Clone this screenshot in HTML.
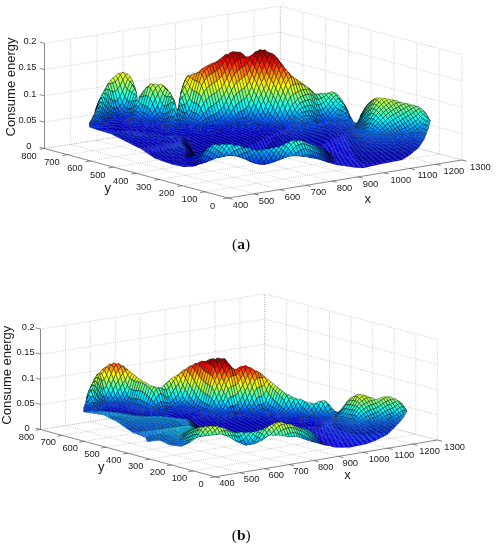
<!DOCTYPE html><html><head><meta charset="utf-8"><title>fig</title><style>html,body{margin:0;padding:0;background:#fff}svg{display:block}text{font-family:"Liberation Sans",sans-serif}.cap{font-family:"Liberation Serif",serif}</style></head><body>
<svg width="496" height="550" viewBox="0 0 496 550">
<rect width="496" height="550" fill="#fff"/>
<path d="M254.0 193.8L70.7 144.4M70.7 144.4L70.7 39.2M280.0 189.6L96.9 140.2M96.9 140.2L96.9 35.0M306.0 185.3L123.1 136.1M123.1 136.1L123.1 30.9M332.0 181.1L149.3 131.9M149.3 131.9L149.3 26.7M358.0 176.9L175.5 127.8M175.5 127.8L175.5 22.6M384.0 172.7L201.7 123.6M201.7 123.6L201.7 18.4M410.0 168.4L227.9 119.5M227.9 119.5L227.9 14.3M436.0 164.2L254.1 115.3M254.1 115.3L254.1 10.1M462.0 160.0L280.3 111.2M280.3 111.2L280.3 6.0M462.0 160.0L462.0 54.8M205.1 191.8L439.3 153.9M439.3 153.9L439.3 48.7M182.1 185.6L416.6 147.8M416.6 147.8L416.6 42.6M159.2 179.4L393.9 141.7M393.9 141.7L393.9 36.5M136.2 173.2L371.1 135.6M371.1 135.6L371.1 30.4M113.3 167.1L348.4 129.5M348.4 129.5L348.4 24.3M90.4 160.9L325.7 123.4M325.7 123.4L325.7 18.2M67.4 154.7L303.0 117.3M303.0 117.3L303.0 12.1M44.5 148.5L280.3 111.2M280.3 111.2L280.3 6.0M44.5 148.5L280.3 111.2M280.3 111.2L462.0 160.0M44.5 122.2L280.3 84.9M280.3 84.9L462.0 133.7M44.5 95.9L280.3 58.6M280.3 58.6L462.0 107.4M44.5 69.6L280.3 32.3M280.3 32.3L462.0 81.1M44.5 43.3L280.3 6.0M280.3 6.0L462.0 54.8" fill="none" stroke="#9a9a9a" stroke-width="0.55" stroke-dasharray="0.1 2.2" stroke-linecap="round"/>
<g transform="scale(.1)" stroke="#000" stroke-width="4.2" stroke-linejoin="round">
<path fill="#ffef00" stroke-width="2.94" d="M1205 749l26-27-23 5-26 7z"/>
<path fill="#efff10" d="M1179 788l26-39-23-15-26 23z"/>
<path fill="#cfff30" d="M1153 817l26-29-23-31-26 21z"/>
<path fill="#bfff40" d="M1127 830l26-13-23-39-26 23z"/>
<path fill="#afff50" stroke-width="2.94" d="M1101 835l26-5-23-29-26 36z"/>
<path fill="#8fff70" d="M1075 850l26-15-23 2-26 61z"/>
<path fill="#ffef00" stroke-width="2.94" d="M1254 755l26-13-23-8-26-12z"/>
<path fill="#efff10" d="M1228 802l26-47-23-33-26 27z"/>
<path fill="#bfff40" d="M1202 853l26-51-23-53-26 39z"/>
<path fill="#9fff60" d="M1176 894l26-41-23-65-26 29z"/>
<path fill="#80ff80" d="M1150 915l26-21-23-77-26 13z"/>
<path fill="#70ff8f" d="M1124 915l26 0-23-85-26 5z"/>
<path fill="#80ff80" d="M1098 903l26 12-23-80-26 15z"/>
<path fill="#70ff8f" d="M1072 892l26 11-23-53-26 42z"/>
<path fill="#60ff9f" d="M1046 900l26-8-23 0-26 63z"/>
<path fill="#009fff" d="M956 1100l-5 12 20-32 23-74-26 66z"/>
<path fill="#00cfff" d="M1355 947l26 87-23-32-26-93z"/>
<path fill="#efff10" d="M1277 792l26-26-23-24-26 13z"/>
<path fill="#bfff40" d="M1251 857l26-65-23-37-26 47z"/>
<path fill="#80ff80" d="M1225 916l26-59-23-55-26 51z"/>
<path fill="#40ffbf" d="M1199 966l26-50-23-63-26 41z"/>
<path fill="#20ffdf" d="M1173 1001l26-35-23-72-26 21z"/>
<path fill="#10ffef" d="M1147 1011l26-10-23-86-26 0zM1121 1002l26 9-23-96-26-12z"/>
<path fill="#30ffcf" d="M1095 976l26 26-23-99-26-11z"/>
<path fill="#40ffbf" d="M1069 945l26 31-23-84-26 8z"/>
<path fill="#50ffaf" d="M1043 930l26 15-23-45-26 43z"/>
<path fill="#009fff" d="M961 1084l-4 11 11-23 23-71-26 74z"/>
<path fill="#20ffdf" d="M1329 836l26 111 16 40-2-17-1-6-16-68z"/>
<path fill="#cfff30" d="M1300 818l26-10-23-42-26 26z"/>
<path fill="#9fff60" d="M1274 893l26-75-23-26-26 65z"/>
<path fill="#50ffaf" d="M1248 969l26-76-23-36-26 59z"/>
<path fill="#0ff" d="M1222 1025l26-56-23-53-26 50z"/>
<path fill="#00cfff" d="M1196 1063l26-38-23-59-26 35z"/>
<path fill="#00afff" d="M1170 1081l26-18-23-62-26 10zM1144 1082l26-1-23-70-26-9z"/>
<path fill="#00bfff" d="M1118 1071l26 11-23-80-26-26z"/>
<path fill="#00dfff" d="M1092 1042l26 29-23-95-26-31z"/>
<path fill="#10ffef" d="M1066 1006l26 36-23-97-26-15z"/>
<path fill="#30ffcf" d="M1040 976l26 30-23-76-26 16z"/>
<path fill="#20ffdf" d="M1014 975l26 1-23-30-26 55z"/>
<path fill="#00efff" d="M988 1018l26-43-23 26-26 74z"/>
<path fill="#9fff60" d="M1323 845l26 28-23-65-26 10z"/>
<path fill="#80ff80" d="M1297 911l26-66-23-27-26 75z"/>
<path fill="#20ffdf" d="M1271 1000l26-89-23-18-26 76z"/>
<path fill="#00cfff" d="M1245 1064l26-64-23-31-26 56z"/>
<path fill="#008fff" d="M1219 1098l26-34-23-39-26 38z"/>
<path fill="#0070ff" d="M1193 1116l26-18-23-35-26 18zM1167 1125l26-9-23-35-26 1zM1141 1125l26 0-23-43-26-11z"/>
<path fill="#0080ff" d="M1115 1116l26 9-23-54-26-29z"/>
<path fill="#00afff" d="M1089 1095l26 21-23-74-26-36z"/>
<path fill="#00cfff" d="M1063 1065l26 30-23-89-26-30z"/>
<path fill="#0ff" d="M1037 1033l26 32-23-89-26-1zM1011 1022l26 11-23-58-26 43z"/>
<path fill="#00dfff" d="M985 1044l26-22-23-4-26 66z"/>
<path fill="#009fff" d="M985 1044l-23 40-4 9-4 12 5-10z"/>
<path fill="#70ff8f" d="M1363 925l-2-14-12-38-26-28 23 40zM1320 925l26-40-23-40-26 66z"/>
<path fill="#10ffef" d="M1294 1013l26-88-23-14-26 89z"/>
<path fill="#00afff" d="M1268 1083l26-70-23-13-26 64z"/>
<path fill="#0070ff" d="M1242 1118l26-35-23-19-26 34z"/>
<path fill="#0060ff" stroke-width="2.94" d="M1216 1136l26-18-23-20-26 18z"/>
<path fill="#0050ff" stroke-width="2.94" d="M1190 1147l26-11-23-20-26 9zM1164 1153l26-6-23-22-26 0zM1138 1154l26-1-23-28-26-9z"/>
<path fill="#0060ff" d="M1112 1148l26 6-23-38-26-21z"/>
<path fill="#0080ff" d="M1086 1135l26 13-23-53-26-30z"/>
<path fill="#009fff" d="M1060 1115l26 20-23-70-26-32z"/>
<path fill="#00bfff" d="M1034 1089l26 26-23-82-26-11z"/>
<path fill="#00cfff" d="M1008 1069l26 20-23-67-26 22zM982 1074l26-5-23-25-26 51z"/>
<path fill="#009fff" d="M982 1074l-23 21-6 11-7 22 10-15z"/>
<path fill="#50ffaf" d="M1365 938l-2-14-17-39-26 40 23 18z"/>
<path fill="#10ffef" d="M1317 1016l26-73-23-18-26 88z"/>
<path fill="#00afff" d="M1291 1089l26-73-23-3-26 70z"/>
<path fill="#0070ff" d="M1265 1130l26-41-23-6-26 35z"/>
<path fill="#0050ff" stroke-width="2.94" d="M1239 1150l26-20-23-12-26 18z"/>
<path fill="#0040ff" stroke-width="2.94" d="M1213 1162l26-12-23-14-26 11z"/>
<path fill="#0030ff" stroke-width="2.94" d="M1187 1171l26-9-23-15-26 6zM1161 1176l26-5-23-18-26 1z"/>
<path fill="#0040ff" stroke-width="2.94" d="M1135 1177l26-1-23-22-26-6z"/>
<path fill="#0050ff" d="M1109 1173l26 4-23-29-26-13z"/>
<path fill="#0060ff" d="M1083 1165l26 8-23-38-26-20z"/>
<path fill="#0070ff" d="M1057 1152l26 13-23-50-26-26z"/>
<path fill="#008fff" d="M1031 1133l26 19-23-63-26-20z"/>
<path fill="#00afff" d="M1005 1115l26 18-23-64-26 5zM979 1114l26 1-23-41-26 39z"/>
<path fill="#008fff" stroke-width="2.94" d="M979 1114l-23-1-12 21-4 11-4 7 17-16z"/>
<path fill="#0060ff" stroke-width="2.94" d="M953 1136l-17 16-9 17 0 0z"/>
<path fill="#10ffef" stroke-width="2.94" d="M1395 997l23-8-24-24-1 5-3 16z"/>
<path fill="#30ffcf" stroke-width="1.68" d="M1367 958l-2-20-22 5 23 14z"/>
<path fill="#10ffef" d="M1340 1008l26-51-23-14-26 73z"/>
<path fill="#00afff" d="M1314 1085l26-77-23 8-26 73z"/>
<path fill="#0070ff" d="M1288 1134l26-49-23 4-26 41z"/>
<path fill="#0050ff" stroke-width="2.94" d="M1262 1159l26-25-23-4-26 20z"/>
<path fill="#0030ff" stroke-width="2.94" d="M1236 1174l26-15-23-9-26 12zM1210 1185l26-11-23-12-26 9z"/>
<path fill="#0020ff" stroke-width="1.68" d="M1184 1192l26-7-23-14-26 5zM1158 1196l26-4-23-16-26 1z"/>
<path fill="#0030ff" stroke-width="2.94" d="M1132 1196l26 0-23-19-26-4zM1106 1194l26 2-23-23-26-8z"/>
<path fill="#0040ff" d="M1080 1189l26 5-23-29-26-13z"/>
<path fill="#0060ff" d="M1054 1181l26 8-23-37-26-19z"/>
<path fill="#0070ff" d="M1028 1169l26 12-23-48-26-18z"/>
<path fill="#0080ff" d="M1002 1156l26 13-23-54-26-1z"/>
<path fill="#008fff" d="M976 1150l26 6-23-42-26 22z"/>
<path fill="#0080ff" stroke-width="2.94" d="M950 1157l26-7-23-14-26 33z"/>
<path fill="#0060ff" stroke-width="2.94" d="M950 1157l-23 12 0 0-12 22 9-7z"/>
<path fill="#20ffdf" d="M1396 958l-2 7 24 24 23-51-26 2z"/>
<path fill="#10ffef" d="M1371 990l-2-20-2-12-1-1-26 51 23-7z"/>
<path fill="#00cfff" d="M1337 1065l26-64-23 7-26 77z"/>
<path fill="#0080ff" d="M1311 1128l26-63-23 20-26 49z"/>
<path fill="#0050ff" stroke-width="2.94" d="M1285 1163l26-35-23 6-26 25z"/>
<path fill="#0030ff" stroke-width="2.94" d="M1259 1182l26-19-23-4-26 15z"/>
<path fill="#0020ff" stroke-width="1.68" d="M1233 1195l26-13-23-8-26 11zM1207 1205l26-10-23-10-26 7zM1181 1211l26-6-23-13-26 4zM1155 1214l26-3-23-15-26 0zM1129 1214l26 0-23-18-26-2z"/>
<path fill="#0030ff" stroke-width="2.94" d="M1103 1212l26 2-23-20-26-5zM1077 1209l26 3-23-23-26-8z"/>
<path fill="#0040ff" d="M1051 1204l26 5-23-28-26-12z"/>
<path fill="#0050ff" d="M1025 1197l26 7-23-35-26-13z"/>
<path fill="#0060ff" d="M999 1187l26 10-23-41-26-6z"/>
<path fill="#0070ff" stroke-width="2.94" d="M973 1180l26 7-23-37-26 7zM947 1185l26-5-23-23-26 27z"/>
<path fill="#0060ff" stroke-width="2.94" d="M947 1185l-23-1-14 15-6 12 17-7z"/>
<path fill="#0040ff" stroke-width="2.94" d="M921 1204l-17 7-11 18 2 0z"/>
<path fill="#40ffbf" d="M1438 903l-23 37-20 21-2 7 19 0z"/>
<path fill="#10ffef" d="M1412 968l-19 0 0 2-9 43 2 0z"/>
<path fill="#00dfff" d="M1360 1052l26-39-23-12-26 64z"/>
<path fill="#009fff" d="M1334 1113l26-61-23 13-26 63z"/>
<path fill="#0060ff" d="M1308 1160l26-47-23 15-26 35z"/>
<path fill="#0030ff" stroke-width="2.94" d="M1282 1186l26-26-23 3-26 19z"/>
<path fill="#0020ff" stroke-width="1.68" d="M1256 1202l26-16-23-4-26 13zM1230 1214l26-12-23-7-26 10z"/>
<path fill="#0010ff" stroke-width="1.68" d="M1204 1223l26-9-23-9-26 6zM1178 1228l26-5-23-12-26 3zM1152 1231l26-3-23-14-26 0z"/>
<path fill="#0020ff" stroke-width="1.68" d="M1126 1231l26 0-23-17-26-2zM1100 1229l26 2-23-19-26-3z"/>
<path fill="#0030ff" stroke-width="2.94" d="M1074 1227l26 2-23-20-26-5zM1048 1224l26 3-23-23-26-7z"/>
<path fill="#0040ff" stroke-width="2.94" d="M1022 1219l26 5-23-27-26-10z"/>
<path fill="#0050ff" stroke-width="2.94" d="M996 1213l26 6-23-32-26-7z"/>
<path fill="#0060ff" stroke-width="2.94" d="M970 1208l26 5-23-33-26 5zM944 1212l26-4-23-23-26 19z"/>
<path fill="#0050ff" stroke-width="2.94" d="M918 1228l26-16-23-8-26 25z"/>
<path fill="#0030ff" stroke-width="1.68" d="M918 1228l-23 1-3 2-2 4 2 13z"/>
<path fill="#60ff9f" d="M1435 963l25-85-22 25-26 65z"/>
<path fill="#10ffef" d="M1408 1038l27-75-23 5-26 45z"/>
<path fill="#00dfff" d="M1382 1068l26-30-22-25-26 39z"/>
<path fill="#009fff" d="M1356 1107l26-39-22-16-26 61z"/>
<path fill="#0070ff" d="M1330 1152l26-45-22 6-26 47z"/>
<path fill="#0040ff" stroke-width="2.94" d="M1305 1185l25-33-22 8-26 26z"/>
<path fill="#0030ff" stroke-width="1.68" d="M1278 1206l27-21-23 1-26 16z"/>
<path fill="#0020ff" stroke-width="1.68" d="M1252 1221l26-15-22-4-26 12z"/>
<path fill="#0010ff" stroke-width="1.68" d="M1226 1232l26-11-22-7-26 9zM1200 1240l26-8-22-9-26 5zM1175 1245l25-5-22-12-26 3zM1148 1246l27-1-23-14-26 0zM1122 1246l26 0-22-15-26-2zM1096 1246l26 0-22-17-26-2z"/>
<path fill="#0020ff" stroke-width="1.68" d="M1070 1244l26 2-22-19-26-3z"/>
<path fill="#0030ff" stroke-width="2.94" d="M1045 1242l25 2-22-20-26-5zM1018 1239l27 3-23-23-26-6z"/>
<path fill="#0040ff" stroke-width="2.94" d="M992 1235l26 4-22-26-26-5zM966 1233l26 2-22-27-26 4zM940 1238l26-5-22-21-26 16zM940 1238l-22-10-26 20 0 0 23 4z"/>
<path fill="#0020ff" stroke-width="1.68" d="M915 1252l-23-4 3 16z"/>
<path fill="#bfff40" d="M1483 869l26-32-23 19-26 22z"/>
<path fill="#80ff80" d="M1457 957l26-88-23 9-25 85z"/>
<path fill="#10ffef" d="M1431 1050l26-93-22 6-27 75z"/>
<path fill="#00bfff" d="M1405 1099l26-49-23-12-26 30z"/>
<path fill="#009fff" d="M1379 1121l26-22-23-31-26 39z"/>
<path fill="#0070ff" d="M1353 1152l26-31-23-14-26 45z"/>
<path fill="#0050ff" stroke-width="2.94" d="M1327 1183l26-31-23 0-25 33z"/>
<path fill="#0030ff" stroke-width="2.94" d="M1301 1206l26-23-22 2-27 21z"/>
<path fill="#0020ff" stroke-width="1.68" d="M1275 1224l26-18-23 0-26 15z"/>
<path fill="#0010ff" stroke-width="1.68" d="M1249 1238l26-14-23-3-26 11z"/>
<path fill="#00f" stroke-width="1.68" d="M1223 1249l26-11-23-6-26 8zM1197 1257l26-8-23-9-25 5zM1171 1261l26-4-22-12-27 1zM1145 1262l26-1-23-15-26 0z"/>
<path fill="#0010ff" stroke-width="1.68" d="M1119 1262l26 0-23-16-26 0zM1093 1262l26 0-23-16-26-2zM1067 1261l26 1-23-18-25-2z"/>
<path fill="#0020ff" stroke-width="1.68" d="M1041 1259l26 2-22-19-27-3z"/>
<path fill="#0030ff" stroke-width="2.94" d="M1015 1257l26 2-23-20-26-4zM989 1255l26 2-23-22-26-2zM963 1255l26 0-23-22-26 5zM937 1262l26-7-23-17-25 14z"/>
<path fill="#0030ff" stroke-width="1.68" d="M937 1262l-22-10-20 12 1 6 15 3z"/>
<path fill="#0020ff" stroke-width="0.76" d="M911 1273l-15-3 1 4 8 2z"/>
<path fill="#bfff40" d="M1506 884l26-41-23-6-26 32z"/>
<path fill="#80ff80" d="M1480 963l26-79-23-15-26 88z"/>
<path fill="#10ffef" d="M1454 1056l26-93-23-6-26 93z"/>
<path fill="#00afff" d="M1428 1122l26-66-23-6-26 49z"/>
<path fill="#0080ff" d="M1402 1148l26-26-23-23-26 22z"/>
<path fill="#0070ff" d="M1376 1165l26-17-23-27-26 31z"/>
<path fill="#0050ff" stroke-width="2.94" d="M1350 1186l26-21-23-13-26 31z"/>
<path fill="#0030ff" stroke-width="2.94" d="M1324 1207l26-21-23-3-26 23z"/>
<path fill="#0020ff" stroke-width="1.68" d="M1298 1225l26-18-23-1-26 18z"/>
<path fill="#0010ff" stroke-width="1.68" d="M1272 1241l26-16-23-1-26 14z"/>
<path fill="#00f" stroke-width="1.68" d="M1246 1254l26-13-23-3-26 11zM1220 1265l26-11-23-5-26 8zM1194 1273l26-8-23-8-26 4zM1168 1276l26-3-23-12-26 1zM1142 1277l26-1-23-14-26 0zM1116 1277l26 0-23-15-26 0z"/>
<path fill="#0010ff" stroke-width="1.68" d="M1090 1277l26 0-23-15-26-1zM1064 1276l26 1-23-16-26-2zM1038 1275l26 1-23-17-26-2z"/>
<path fill="#0020ff" stroke-width="1.68" d="M1012 1274l26 1-23-18-26-2zM986 1273l26 1-23-19-26 0z"/>
<path fill="#0030ff" stroke-width="1.68" d="M960 1276l26-3-23-18-26 7z"/>
<path fill="#0020ff" stroke-width="1.68" d="M934 1283l26-7-23-14-26 11z"/>
<path fill="#0020ff" stroke-width="0.76" d="M934 1283l-23-10-6 3 25 8z"/>
<path fill="#cfff30" d="M1555 884l26-33-23-13-26 5z"/>
<path fill="#afff50" d="M1529 928l26-44-23-41-26 41z"/>
<path fill="#70ff8f" d="M1503 990l26-62-23-44-26 79z"/>
<path fill="#10ffef" d="M1477 1068l26-78-23-27-26 93z"/>
<path fill="#00afff" d="M1451 1134l26-66-23-12-26 66z"/>
<path fill="#0070ff" d="M1425 1168l26-34-23-12-26 26z"/>
<path fill="#0060ff" stroke-width="2.94" d="M1399 1183l26-15-23-20-26 17z"/>
<path fill="#0050ff" stroke-width="2.94" d="M1373 1196l26-13-23-18-26 21z"/>
<path fill="#0040ff" stroke-width="2.94" d="M1347 1211l26-15-23-10-26 21z"/>
<path fill="#0030ff" stroke-width="1.68" d="M1321 1228l26-17-23-4-26 18z"/>
<path fill="#0020ff" stroke-width="1.68" d="M1295 1243l26-15-23-3-26 16z"/>
<path fill="#0010ff" stroke-width="1.68" d="M1269 1258l26-15-23-2-26 13z"/>
<path fill="#00f" stroke-width="1.68" d="M1243 1271l26-13-23-4-26 11z"/>
<path fill="#0000ef" stroke-width="1.68" d="M1217 1281l26-10-23-6-26 8zM1191 1288l26-7-23-8-26 3zM1165 1291l26-3-23-12-26 1z"/>
<path fill="#00f" stroke-width="1.68" d="M1139 1292l26-1-23-14-26 0zM1113 1292l26 0-23-15-26 0zM1087 1291l26 1-23-15-26-1z"/>
<path fill="#0010ff" stroke-width="1.68" d="M1061 1291l26 0-23-15-26-1zM1035 1290l26 1-23-16-26-1zM1009 1290l26 0-23-16-26-1z"/>
<path fill="#0020ff" stroke-width="1.68" d="M983 1291l26-1-23-17-26 3zM983 1291l-23-15-26 7 14 7 14 4z"/>
<path fill="#008fff" d="M1786 1077l26-53-23 67-26 26z"/>
<path fill="#0070ff" d="M1760 1113l26-36-23 40-26 5z"/>
<path fill="#cfff30" d="M1604 892l26-37-23-14-26 10z"/>
<path fill="#9fff60" d="M1578 944l26-52-23-41-26 33z"/>
<path fill="#70ff8f" d="M1552 992l26-48-23-60-26 44z"/>
<path fill="#30ffcf" d="M1526 1040l26-48-23-64-26 62z"/>
<path fill="#00efff" d="M1500 1096l26-56-23-50-26 78z"/>
<path fill="#009fff" d="M1474 1147l26-51-23-28-26 66z"/>
<path fill="#0070ff" d="M1448 1180l26-33-23-13-26 34z"/>
<path fill="#0050ff" stroke-width="2.94" d="M1422 1199l26-19-23-12-26 15z"/>
<path fill="#0040ff" stroke-width="2.94" d="M1396 1210l26-11-23-16-26 13z"/>
<path fill="#0030ff" stroke-width="2.94" d="M1370 1220l26-10-23-14-26 15z"/>
<path fill="#0030ff" stroke-width="1.68" d="M1344 1233l26-13-23-9-26 17z"/>
<path fill="#0020ff" stroke-width="1.68" d="M1318 1247l26-14-23-5-26 15z"/>
<path fill="#0010ff" stroke-width="1.68" d="M1292 1261l26-14-23-4-26 15z"/>
<path fill="#00f" stroke-width="1.68" d="M1266 1274l26-13-23-3-26 13zM1240 1286l26-12-23-3-26 10z"/>
<path fill="#0000ef" stroke-width="1.68" d="M1214 1297l26-11-23-5-26 7zM1188 1303l26-6-23-9-26 3zM1162 1305l26-2-23-12-26 1zM1136 1304l26 1-23-13-26 0z"/>
<path fill="#00f" stroke-width="0.76" d="M1110 1302l26 2-23-12-26-1zM1084 1300l26 2-23-11-26 0z"/>
<path fill="#0010ff" stroke-width="0.76" d="M1058 1299l26 1-23-9-26-1zM1032 1300l26-1-23-9-26 0z"/>
<path fill="#0010ff" stroke-width="1.68" d="M1006 1303l26-3-23-10-26 1zM1006 1303l-23-12-21 3 34 11z"/>
<path fill="#00afff" d="M1786 1077l23-85-19 55-2 13-4 19z"/>
<path fill="#afff50" d="M1653 884l26 17-23-29-26-17zM1627 937l26-53-23-29-26 37z"/>
<path fill="#70ff8f" d="M1601 1003l26-66-23-45-26 52z"/>
<path fill="#30ffcf" d="M1575 1057l26-54-23-59-26 48z"/>
<path fill="#00efff" d="M1549 1099l26-42-23-65-26 48z"/>
<path fill="#00bfff" d="M1523 1135l26-36-23-59-26 56z"/>
<path fill="#0080ff" d="M1497 1166l26-31-23-39-26 51z"/>
<path fill="#0060ff" d="M1471 1190l26-24-23-19-26 33z"/>
<path fill="#0040ff" stroke-width="2.94" d="M1445 1209l26-19-23-10-26 19z"/>
<path fill="#0030ff" stroke-width="2.94" d="M1419 1223l26-14-23-10-26 11zM1393 1232l26-9-23-13-26 10z"/>
<path fill="#0020ff" stroke-width="1.68" d="M1367 1241l26-9-23-12-26 13zM1341 1252l26-11-23-8-26 14z"/>
<path fill="#0010ff" stroke-width="1.68" d="M1315 1265l26-13-23-5-26 14z"/>
<path fill="#00f" stroke-width="1.68" d="M1289 1277l26-12-23-4-26 13zM1263 1290l26-13-23-3-26 12z"/>
<path fill="#0000ef" stroke-width="1.68" d="M1237 1302l26-12-23-4-26 11zM1211 1311l26-9-23-5-26 6z"/>
<path fill="#0010ff" stroke-width="0.76" d="M1055 1304l26-4-23-1-26 1zM1029 1310l26-6-23-4-26 3zM1029 1310l-23-7-10 2 25 7z"/>
<path fill="#20ffdf" d="M1794 1022l-4 25 19-55 23-112-26 89z"/>
<path fill="#00cfff" d="M1806 969l-9 29-3 24z"/>
<path fill="#8fff70" d="M1676 903l26 38-23-40-26-17zM1650 962l26-59-23-19-26 53z"/>
<path fill="#40ffbf" d="M1624 1046l26-84-23-25-26 66z"/>
<path fill="#00efff" d="M1598 1108l26-62-23-43-26 54z"/>
<path fill="#00afff" d="M1572 1146l26-38-23-51-26 42z"/>
<path fill="#008fff" d="M1546 1168l26-22-23-47-26 36z"/>
<path fill="#0070ff" d="M1520 1185l26-17-23-33-26 31z"/>
<path fill="#0050ff" stroke-width="2.94" d="M1494 1202l26-17-23-19-26 24z"/>
<path fill="#0040ff" stroke-width="2.94" d="M1468 1218l26-16-23-12-26 19z"/>
<path fill="#0030ff" stroke-width="2.94" d="M1442 1233l26-15-23-9-26 14z"/>
<path fill="#0020ff" stroke-width="1.68" d="M1416 1244l26-11-23-10-26 9zM1390 1252l26-8-23-12-26 9zM1364 1261l26-9-23-11-26 11z"/>
<path fill="#0010ff" stroke-width="1.68" d="M1338 1271l26-10-23-9-26 13zM1312 1282l26-11-23-6-26 12z"/>
<path fill="#00f" stroke-width="1.68" d="M1286 1294l26-12-23-5-26 13z"/>
<path fill="#0000ef" stroke-width="1.68" d="M1260 1305l26-11-23-4-26 12z"/>
<path fill="#0010ff" stroke-width="0.76" d="M1104 1300l26-4-23 3-26 1zM1078 1308l26-8-23 0-26 4zM1052 1316l26-8-23-4-26 6zM1052 1316l-23-6-8 2 19 6 2 1z"/>
<path fill="#40ffbf" d="M1806 969l23-110-25 91-7 48z"/>
<path fill="#00dfff" d="M1728 1033l26 49 6-12-6-23-3 1z"/>
<path fill="#80ff80" d="M1673 967l26-41-23-23-26 59z"/>
<path fill="#20ffdf" d="M1647 1061l26-94-23-5-26 84z"/>
<path fill="#00bfff" d="M1621 1136l26-75-23-15-26 62z"/>
<path fill="#0080ff" d="M1595 1173l26-37-23-28-26 38z"/>
<path fill="#0060ff" d="M1569 1191l26-18-23-27-26 22z"/>
<path fill="#0050ff" stroke-width="2.94" d="M1543 1204l26-13-23-23-26 17z"/>
<path fill="#0040ff" stroke-width="2.94" d="M1517 1215l26-11-23-19-26 17zM1491 1228l26-13-23-13-26 16z"/>
<path fill="#0030ff" stroke-width="2.94" d="M1465 1241l26-13-23-10-26 15z"/>
<path fill="#0020ff" stroke-width="1.68" d="M1439 1253l26-12-23-8-26 11zM1413 1263l26-10-23-9-26 8z"/>
<path fill="#0010ff" stroke-width="1.68" d="M1387 1271l26-8-23-11-26 9zM1361 1279l26-8-23-10-26 10zM1335 1288l26-9-23-8-26 11z"/>
<path fill="#00f" stroke-width="1.68" d="M1309 1299l26-11-23-6-26 12z"/>
<path fill="#0000ef" stroke-width="1.68" d="M1283 1308l26-9-23-5-26 11z"/>
<path fill="#0020ff" stroke-width="0.76" d="M1153 1298l26-3-23 2-26-1zM1127 1305l26-7-23-2-26 4z"/>
<path fill="#0010ff" stroke-width="0.76" d="M1101 1313l26-8-23-5-26 8z"/>
<path fill="#0010ff" stroke-width="1.68" d="M1075 1321l26-8-23-5-26 8z"/>
<path fill="#0010ff" stroke-width="0.76" d="M1075 1321l-23-5-10 3 21 6z"/>
<path fill="#ffef00" d="M1852 804l26-49-23 32-26 72z"/>
<path fill="#bfff40" d="M1852 804l-23 55-3 10z"/>
<path fill="#10ffef" d="M1725 984l26 64 2-3-5-21-6-17z"/>
<path fill="#50ffaf" d="M1699 926l26 58 17 23-6-15-14-27z"/>
<path fill="#70ff8f" d="M1696 968l26-3-23-39-26 41z"/>
<path fill="#30ffcf" d="M1670 1054l26-86-23-1-26 94z"/>
<path fill="#00bfff" d="M1644 1141l26-87-23 7-26 75z"/>
<path fill="#0070ff" d="M1618 1187l26-46-23-5-26 37z"/>
<path fill="#0050ff" stroke-width="2.94" d="M1592 1207l26-20-23-14-26 18z"/>
<path fill="#0040ff" stroke-width="2.94" d="M1566 1220l26-13-23-16-26 13zM1540 1230l26-10-23-16-26 11z"/>
<path fill="#0030ff" stroke-width="2.94" d="M1514 1240l26-10-23-15-26 13zM1488 1250l26-10-23-12-26 13z"/>
<path fill="#0020ff" stroke-width="1.68" d="M1462 1261l26-11-23-9-26 12z"/>
<path fill="#0010ff" stroke-width="1.68" d="M1436 1272l26-11-23-8-26 10zM1410 1281l26-9-23-9-26 8zM1384 1288l26-7-23-10-26 8z"/>
<path fill="#00f" stroke-width="1.68" d="M1358 1296l26-8-23-9-26 9zM1332 1304l26-8-23-8-26 11z"/>
<path fill="#00f" stroke-width="0.76" d="M1306 1309l26-5-23-5-26 9z"/>
<path fill="#0020ff" stroke-width="0.76" d="M1202 1298l26 1-23-1-26-3zM1176 1303l26-5-23-3-26 3zM1150 1310l26-7-23-5-26 7z"/>
<path fill="#0020ff" stroke-width="1.68" d="M1124 1319l26-9-23-5-26 8z"/>
<path fill="#0010ff" stroke-width="1.68" d="M1098 1327l26-8-23-6-26 8z"/>
<path fill="#0010ff" stroke-width="0.76" d="M1098 1327l-23-6-12 4 20 7z"/>
<path fill="#ffaf00" stroke-width="2.94" d="M1901 770l26-31-23 11-26 5z"/>
<path fill="#ffcf00" d="M1875 825l26-55-23-15-26 49z"/>
<path fill="#efff10" d="M1849 868l26-43-23-21-26 66z"/>
<path fill="#afff50" d="M1849 868l-23 2-18 54-2 12 17-30z"/>
<path fill="#60ff9f" d="M1823 906l-17 30-1 11z"/>
<path fill="#50ffaf" stroke-width="2.94" d="M1739 999l-6-15-11-19-26 3 23 11z"/>
<path fill="#30ffcf" d="M1693 1037l26-58-23-11-26 86z"/>
<path fill="#00cfff" d="M1667 1132l26-95-23 17-26 87z"/>
<path fill="#0080ff" d="M1641 1191l26-59-23 9-26 46z"/>
<path fill="#0050ff" stroke-width="2.94" d="M1615 1218l26-27-23-4-26 20z"/>
<path fill="#0040ff" stroke-width="2.94" d="M1589 1233l26-15-23-11-26 13z"/>
<path fill="#0030ff" stroke-width="2.94" d="M1563 1243l26-10-23-13-26 10zM1537 1252l26-9-23-13-26 10z"/>
<path fill="#0020ff" stroke-width="1.68" d="M1511 1260l26-8-23-12-26 10zM1485 1270l26-10-23-10-26 11z"/>
<path fill="#0010ff" stroke-width="1.68" d="M1459 1280l26-10-23-9-26 11zM1433 1290l26-10-23-8-26 9z"/>
<path fill="#00f" stroke-width="1.68" d="M1407 1298l26-8-23-9-26 7zM1381 1305l26-7-23-10-26 8z"/>
<path fill="#00f" stroke-width="0.76" d="M1355 1309l26-4-23-9-26 8zM1329 1310l26-1-23-5-26 5z"/>
<path fill="#0010ff" stroke-width="0.76" d="M1251 1303l26 2-23-2-26-4z"/>
<path fill="#0020ff" stroke-width="0.76" d="M1225 1304l26-1-23-4-26-1zM1199 1309l26-5-23-6-26 5z"/>
<path fill="#0020ff" stroke-width="1.68" d="M1173 1316l26-7-23-6-26 7zM1147 1325l26-9-23-6-26 9z"/>
<path fill="#0010ff" stroke-width="1.68" d="M1121 1333l26-8-23-6-26 8z"/>
<path fill="#0010ff" stroke-width="0.76" d="M1121 1333l-23-6-15 5 21 6z"/>
<path fill="#ffaf00" d="M1924 794l26-59-23 4-26 31z"/>
<path fill="#ffef00" d="M1898 871l26-77-23-24-26 55z"/>
<path fill="#cfff30" d="M1872 926l26-55-23-46-26 43z"/>
<path fill="#9fff60" d="M1846 953l26-27-23-58-26 38z"/>
<path fill="#70ff8f" d="M1846 953l-23-47-18 41-3 19 18 8z"/>
<path fill="#40ffbf" d="M1820 974l-18-8-7 45z"/>
<path fill="#40ffbf" stroke-width="2.94" d="M1742 1009l-3-10-20-20 23 30z"/>
<path fill="#40ffbf" d="M1716 1026l26-17-23-30-26 58z"/>
<path fill="#00efff" d="M1690 1111l26-85-23 11-26 95z"/>
<path fill="#008fff" d="M1664 1185l26-74-23 21-26 59z"/>
<path fill="#0050ff" stroke-width="2.94" d="M1638 1222l26-37-23 6-26 27z"/>
<path fill="#0030ff" stroke-width="2.94" d="M1612 1242l26-20-23-4-26 15z"/>
<path fill="#0030ff" stroke-width="1.68" d="M1586 1255l26-13-23-9-26 10z"/>
<path fill="#0020ff" stroke-width="1.68" d="M1560 1264l26-9-23-12-26 9zM1534 1272l26-8-23-12-26 8z"/>
<path fill="#0010ff" stroke-width="1.68" d="M1508 1280l26-8-23-12-26 10zM1482 1288l26-8-23-10-26 10zM1456 1298l26-10-23-8-26 10z"/>
<path fill="#00f" stroke-width="1.68" d="M1430 1306l26-8-23-8-26 8zM1404 1312l26-6-23-8-26 7z"/>
<path fill="#00f" stroke-width="0.76" d="M1378 1314l26-2-23-7-26 4zM1352 1313l26 1-23-5-26 1z"/>
<path fill="#0010ff" stroke-width="0.76" d="M1326 1311l26 2-23-3-26-3zM1300 1310l26 1-23-4-26-2z"/>
<path fill="#0020ff" stroke-width="0.76" d="M1274 1309l26 1-23-5-26-2zM1248 1310l26-1-23-6-26 1zM1222 1315l26-5-23-6-26 5z"/>
<path fill="#0020ff" stroke-width="1.68" d="M1196 1322l26-7-23-6-26 7zM1170 1330l26-8-23-6-26 9z"/>
<path fill="#0010ff" stroke-width="1.68" d="M1144 1339l26-9-23-5-26 8z"/>
<path fill="#0010ff" stroke-width="0.76" d="M1144 1339l-23-6-17 5 11 4 7 4z"/>
<path fill="#ffaf00" d="M1947 806l26-78-23 7-26 59z"/>
<path fill="#efff10" d="M1921 902l26-96-23-12-26 77z"/>
<path fill="#9fff60" d="M1895 983l26-81-23-31-26 55z"/>
<path fill="#60ff9f" d="M1869 1033l26-50-23-57-26 27z"/>
<path fill="#40ffbf" d="M1843 1046l26-13-23-80-26 21z"/>
<path fill="#20ffdf" d="M1843 1046l-23-72-25 37 0 4 22 35z"/>
<path fill="#10ffef" d="M1817 1050l-22-35-6 40 2 2z"/>
<path fill="#30ffcf" stroke-width="2.94" d="M1751 1034l-3-10-6-15 0 0-26 17 23 3z"/>
<path fill="#0ff" d="M1713 1090l26-61-23-3-26 85z"/>
<path fill="#009fff" d="M1687 1173l26-83-23 21-26 74z"/>
<path fill="#0060ff" d="M1661 1222l26-49-23 12-26 37z"/>
<path fill="#0040ff" stroke-width="2.94" d="M1635 1247l26-25-23 0-26 20z"/>
<path fill="#0020ff" stroke-width="1.68" d="M1609 1263l26-16-23-5-26 13zM1583 1274l26-11-23-8-26 9z"/>
<path fill="#0010ff" stroke-width="1.68" d="M1557 1283l26-9-23-10-26 8zM1531 1290l26-7-23-11-26 8zM1505 1298l26-8-23-10-26 8z"/>
<path fill="#00f" stroke-width="1.68" d="M1479 1306l26-8-23-10-26 10zM1453 1314l26-8-23-8-26 8z"/>
<path fill="#00f" stroke-width="0.76" d="M1427 1319l26-5-23-8-26 6zM1401 1319l26 0-23-7-26 2zM1375 1318l26 1-23-5-26-1z"/>
<path fill="#0010ff" stroke-width="0.76" d="M1349 1317l26 1-23-5-26-2zM1323 1316l26 1-23-6-26-1z"/>
<path fill="#0020ff" stroke-width="0.76" d="M1297 1315l26 1-23-6-26-1zM1271 1316l26-1-23-6-26 1zM1245 1320l26-4-23-6-26 5z"/>
<path fill="#0020ff" stroke-width="1.68" d="M1219 1328l26-8-23-5-26 7zM1193 1336l26-8-23-6-26 8z"/>
<path fill="#0010ff" stroke-width="1.68" d="M1167 1345l26-9-23-6-26 9zM1167 1345l-23-6-22 7 10 5 9 2z"/>
<path fill="#ff6000" d="M1996 726l26-40-23 23-26 19z"/>
<path fill="#ff9f00" d="M1970 812l26-86-23 2-26 78z"/>
<path fill="#efff10" d="M1944 916l26-104-23-6-26 96z"/>
<path fill="#70ff8f" d="M1918 1016l26-100-23-14-26 81z"/>
<path fill="#10ffef" d="M1892 1091l26-75-23-33-26 50z"/>
<path fill="#00dfff" d="M1866 1125l26-34-23-58-26 13zM1840 1125l26 0-23-79-26 4zM1814 1112l26 13-23-75-26 7z"/>
<path fill="#00efff" d="M1814 1112l-23-55-2-1-1 4-4 23 4 8z"/>
<path fill="#10ffef" stroke-width="2.94" d="M1739 1029l18 32-6-27z"/>
<path fill="#0ff" d="M1760 1070l-3-9-18-32-26 61 23 2z"/>
<path fill="#00bfff" d="M1710 1162l26-70-23-2-26 83z"/>
<path fill="#0070ff" d="M1684 1217l26-55-23 11-26 49z"/>
<path fill="#0040ff" stroke-width="2.94" d="M1658 1248l26-31-23 5-26 25z"/>
<path fill="#0030ff" stroke-width="1.68" d="M1632 1267l26-19-23-1-26 16z"/>
<path fill="#0020ff" stroke-width="1.68" d="M1606 1282l26-15-23-4-26 11z"/>
<path fill="#0010ff" stroke-width="1.68" d="M1580 1292l26-10-23-8-26 9zM1554 1300l26-8-23-9-26 7z"/>
<path fill="#00f" stroke-width="1.68" d="M1528 1308l26-8-23-10-26 8zM1502 1315l26-7-23-10-26 8zM1476 1321l26-6-23-9-26 8z"/>
<path fill="#00f" stroke-width="0.76" d="M1450 1325l26-4-23-7-26 5zM1424 1325l26 0-23-6-26 0zM1398 1324l26 1-23-6-26-1z"/>
<path fill="#0010ff" stroke-width="0.76" d="M1372 1323l26 1-23-6-26-1zM1346 1322l26 1-23-6-26-1z"/>
<path fill="#0020ff" stroke-width="0.76" d="M1320 1321l26 1-23-6-26-1zM1294 1321l26 0-23-6-26 1zM1268 1326l26-5-23-5-26 4z"/>
<path fill="#0020ff" stroke-width="1.68" d="M1242 1334l26-8-23-6-26 8zM1216 1342l26-8-23-6-26 8z"/>
<path fill="#0010ff" stroke-width="1.68" d="M1190 1351l26-9-23-6-26 9zM1164 1359l26-8-23-6-26 8z"/>
<path fill="#0010ff" stroke-width="0.76" d="M1164 1359l-23-6-3 1 17 8z"/>
<path fill="#df0000" stroke-width="2.94" d="M2201 595l26-26-23 23-26 15z"/>
<path fill="#ef0000" stroke-width="2.94" d="M2175 619l26-24-23 12-26 15z"/>
<path fill="#f00" stroke-width="1.68" d="M2149 636l26-17-23 3-26 9z"/>
<path fill="#ff1000" stroke-width="1.68" d="M2123 648l26-12-23-5-26 10z"/>
<path fill="#ff2000" stroke-width="1.68" d="M2097 663l26-15-23-7-26 14z"/>
<path fill="#ff3000" stroke-width="2.94" d="M2071 683l26-20-23-8-26 15z"/>
<path fill="#ff4000" stroke-width="2.94" d="M2045 709l26-26-23-13-26 16z"/>
<path fill="#ff6000" d="M2019 750l26-41-23-23-26 40z"/>
<path fill="#ffaf00" d="M1993 824l26-74-23-24-26 86z"/>
<path fill="#dfff20" d="M1967 923l26-99-23-12-26 104z"/>
<path fill="#60ff9f" d="M1941 1028l26-105-23-7-26 100z"/>
<path fill="#00efff" d="M1915 1118l26-90-23-12-26 75z"/>
<path fill="#00afff" d="M1889 1168l26-50-23-27-26 34z"/>
<path fill="#008fff" d="M1863 1182l26-14-23-43-26 0zM1837 1177l26 5-23-57-26-13z"/>
<path fill="#00afff" d="M1811 1163l26 14-23-65-26-21z"/>
<path fill="#00cfff" d="M1811 1163l-23-72-5-4-6 30 8 24z"/>
<path fill="#00dfff" d="M1785 1141l-8-24-2 13-10-40-5-20-24 22 23 41z"/>
<path fill="#00bfff" d="M1733 1167l26-34-23-41-26 70z"/>
<path fill="#0080ff" d="M1707 1214l26-47-23-5-26 55z"/>
<path fill="#0050ff" stroke-width="2.94" d="M1681 1247l26-33-23 3-26 31z"/>
<path fill="#0030ff" stroke-width="2.94" d="M1655 1269l26-22-23 1-26 19z"/>
<path fill="#0020ff" stroke-width="1.68" d="M1629 1286l26-17-23-2-26 15z"/>
<path fill="#0010ff" stroke-width="1.68" d="M1603 1299l26-13-23-4-26 10zM1577 1309l26-10-23-7-26 8z"/>
<path fill="#00f" stroke-width="1.68" d="M1551 1318l26-9-23-9-26 8zM1525 1324l26-6-23-10-26 7zM1499 1329l26-5-23-9-26 6z"/>
<path fill="#00f" stroke-width="0.76" d="M1473 1331l26-2-23-8-26 4zM1447 1331l26 0-23-6-26 0zM1421 1330l26 1-23-6-26-1z"/>
<path fill="#0010ff" stroke-width="0.76" d="M1395 1329l26 1-23-6-26-1zM1369 1328l26 1-23-6-26-1z"/>
<path fill="#0020ff" stroke-width="0.76" d="M1343 1327l26 1-23-6-26-1zM1317 1327l26 0-23-6-26 0zM1291 1333l26-6-23-6-26 5z"/>
<path fill="#0020ff" stroke-width="1.68" d="M1265 1340l26-7-23-7-26 8zM1239 1348l26-8-23-6-26 8z"/>
<path fill="#0010ff" stroke-width="1.68" d="M1213 1357l26-9-23-6-26 9zM1187 1365l26-8-23-6-26 8z"/>
<path fill="#0010ff" stroke-width="0.76" d="M1187 1365l-23-6-9 3 16 8z"/>
<path fill="#af0000" stroke-width="2.94" d="M2276 561l26-33-23 15-26 2z"/>
<path fill="#bf0000" d="M2250 607l26-46-23-16-26 24z"/>
<path fill="#ef0000" d="M2224 646l26-39-23-38-26 26z"/>
<path fill="#ff1000" d="M2198 677l26-31-23-51-26 24z"/>
<path fill="#ff2000" d="M2172 702l26-25-23-58-26 17z"/>
<path fill="#ff4000" d="M2146 720l26-18-23-66-26 12zM2120 735l26-15-23-72-26 15z"/>
<path fill="#ff5000" d="M2094 753l26-18-23-72-26 20z"/>
<path fill="#ff7000" d="M2068 777l26-24-23-70-26 26z"/>
<path fill="#ff8f00" d="M2042 809l26-32-23-68-26 41z"/>
<path fill="#ffcf00" d="M2016 858l26-49-23-59-26 74z"/>
<path fill="#dfff20" d="M1990 936l26-78-23-34-26 99z"/>
<path fill="#60ff9f" d="M1964 1035l26-99-23-13-26 105z"/>
<path fill="#00efff" d="M1938 1127l26-92-23-7-26 90z"/>
<path fill="#008fff" d="M1912 1184l26-57-23-9-26 50z"/>
<path fill="#0070ff" d="M1886 1209l26-25-23-16-26 14z"/>
<path fill="#0060ff" stroke-width="2.94" d="M1860 1217l26-8-23-27-26-5z"/>
<path fill="#0070ff" d="M1834 1214l26 3-23-40-26-14z"/>
<path fill="#0080ff" d="M1808 1204l26 10-23-51-26-22z"/>
<path fill="#008fff" d="M1782 1193l26 11-23-63-26-8zM1756 1199l26-6-23-60-26 34z"/>
<path fill="#0070ff" d="M1730 1222l26-23-23-32-26 47z"/>
<path fill="#0050ff" stroke-width="2.94" d="M1704 1248l26-26-23-8-26 33z"/>
<path fill="#0030ff" stroke-width="2.94" d="M1678 1270l26-22-23-1-26 22z"/>
<path fill="#0020ff" stroke-width="1.68" d="M1652 1288l26-18-23-1-26 17z"/>
<path fill="#0010ff" stroke-width="1.68" d="M1626 1303l26-15-23-2-26 13z"/>
<path fill="#00f" stroke-width="1.68" d="M1600 1316l26-13-23-4-26 10zM1574 1326l26-10-23-7-26 9zM1548 1334l26-8-23-8-26 6z"/>
<path fill="#00f" stroke-width="0.76" d="M1522 1337l26-3-23-10-26 5zM1496 1338l26-1-23-8-26 2zM1470 1337l26 1-23-7-26 0zM1444 1336l26 1-23-6-26-1z"/>
<path fill="#0010ff" stroke-width="0.76" d="M1418 1335l26 1-23-6-26-1zM1392 1334l26 1-23-6-26-1z"/>
<path fill="#0020ff" stroke-width="0.76" d="M1366 1333l26 1-23-6-26-1zM1340 1334l26-1-23-6-26 0zM1314 1339l26-5-23-7-26 6z"/>
<path fill="#0020ff" stroke-width="1.68" d="M1288 1346l26-7-23-6-26 7zM1262 1355l26-9-23-6-26 8z"/>
<path fill="#0010ff" stroke-width="1.68" d="M1236 1363l26-8-23-7-26 9zM1210 1371l26-8-23-6-26 8zM1210 1371l-23-6-16 5 17 8z"/>
<path fill="#8f0000" stroke-width="1.68" d="M2351 532l26-12-23-2-26-3z"/>
<path fill="#9f0000" d="M2325 562l26-30-23-17-26 13z"/>
<path fill="#bf0000" d="M2299 610l26-48-23-34-26 33z"/>
<path fill="#ef0000" d="M2273 666l26-56-23-49-26 46z"/>
<path fill="#ff3000" d="M2247 718l26-52-23-59-26 39z"/>
<path fill="#ff6000" d="M2221 757l26-39-23-72-26 31z"/>
<path fill="#ff8000" d="M2195 786l26-29-23-80-26 25z"/>
<path fill="#ff8f00" d="M2169 810l26-24-23-84-26 18z"/>
<path fill="#ffaf00" d="M2143 828l26-18-23-90-26 15z"/>
<path fill="#ffbf00" d="M2117 843l26-15-23-93-26 18z"/>
<path fill="#ffcf00" d="M2091 863l26-20-23-90-26 24z"/>
<path fill="#ffef00" d="M2065 888l26-25-23-86-26 32z"/>
<path fill="#efff10" d="M2039 921l26-33-23-79-26 49z"/>
<path fill="#afff50" d="M2013 972l26-51-23-63-26 78z"/>
<path fill="#50ffaf" d="M1987 1049l26-77-23-36-26 99z"/>
<path fill="#00dfff" d="M1961 1133l26-84-23-14-26 92z"/>
<path fill="#008fff" d="M1935 1191l26-58-23-6-26 57z"/>
<path fill="#0060ff" stroke-width="2.94" d="M1909 1222l26-31-23-7-26 25z"/>
<path fill="#0050ff" stroke-width="2.94" d="M1883 1237l26-15-23-13-26 8z"/>
<path fill="#0040ff" stroke-width="2.94" d="M1857 1243l26-6-23-20-26-3z"/>
<path fill="#0050ff" stroke-width="2.94" d="M1831 1241l26 2-23-29-26-10z"/>
<path fill="#0060ff" d="M1805 1236l26 5-23-37-26-11zM1779 1233l26 3-23-43-26 6zM1753 1240l26-7-23-34-26 23z"/>
<path fill="#0050ff" stroke-width="2.94" d="M1727 1255l26-15-23-18-26 26z"/>
<path fill="#0040ff" stroke-width="2.94" d="M1701 1273l26-18-23-7-26 22z"/>
<path fill="#0020ff" stroke-width="1.68" d="M1675 1291l26-18-23-3-26 18z"/>
<path fill="#0010ff" stroke-width="1.68" d="M1649 1306l26-15-23-3-26 15zM1623 1320l26-14-23-3-26 13z"/>
<path fill="#00f" stroke-width="1.68" d="M1597 1332l26-12-23-4-26 10zM1571 1341l26-9-23-6-26 8z"/>
<path fill="#0000ef" stroke-width="0.76" d="M1545 1344l26-3-23-7-26 3z"/>
<path fill="#00f" stroke-width="0.76" d="M1519 1344l26 0-23-7-26 1zM1493 1343l26 1-23-6-26-1zM1467 1342l26 1-23-6-26-1z"/>
<path fill="#0010ff" stroke-width="0.76" d="M1441 1341l26 1-23-6-26-1zM1415 1340l26 1-23-6-26-1z"/>
<path fill="#0020ff" stroke-width="0.76" d="M1389 1339l26 1-23-6-26-1zM1363 1340l26-1-23-6-26 1zM1337 1345l26-5-23-6-26 5z"/>
<path fill="#0020ff" stroke-width="1.68" d="M1311 1353l26-8-23-6-26 7zM1285 1361l26-8-23-7-26 9z"/>
<path fill="#0010ff" stroke-width="1.68" d="M1259 1369l26-8-23-6-26 8zM1233 1378l26-9-23-6-26 8zM1233 1378l-23-7-22 7 10 6 9 2z"/>
<path fill="#cf0000" stroke-width="2.94" d="M2452 574l26-4-23-4-26-26z"/>
<path fill="#bf0000" d="M2426 575l26-1-23-34-26-18z"/>
<path fill="#af0000" d="M2400 585l26-10-23-53-26-2z"/>
<path fill="#bf0000" d="M2374 604l26-19-23-65-26 12z"/>
<path fill="#cf0000" d="M2348 631l26-27-23-72-26 30z"/>
<path fill="#f00" d="M2322 673l26-42-23-69-26 48z"/>
<path fill="#ff3000" d="M2296 726l26-53-23-63-26 56z"/>
<path fill="#ff7000" d="M2270 783l26-57-23-60-26 52z"/>
<path fill="#ffaf00" d="M2244 833l26-50-23-65-26 39z"/>
<path fill="#ffdf00" d="M2218 869l26-36-23-76-26 29z"/>
<path fill="#ff0" d="M2192 898l26-29-23-83-26 24z"/>
<path fill="#efff10" d="M2166 921l26-23-23-88-26 18z"/>
<path fill="#cfff30" d="M2140 938l26-17-23-93-26 15z"/>
<path fill="#bfff40" d="M2114 954l26-16-23-95-26 20z"/>
<path fill="#afff50" d="M2088 975l26-21-23-91-26 25z"/>
<path fill="#8fff70" d="M2062 1001l26-26-23-87-26 33z"/>
<path fill="#70ff8f" d="M2036 1034l26-33-23-80-26 51z"/>
<path fill="#30ffcf" d="M2010 1085l26-51-23-62-26 77z"/>
<path fill="#00dfff" d="M1984 1148l26-63-23-36-26 84z"/>
<path fill="#008fff" d="M1958 1199l26-51-23-15-26 58z"/>
<path fill="#0060ff" stroke-width="2.94" d="M1932 1229l26-30-23-8-26 31z"/>
<path fill="#0040ff" stroke-width="2.94" d="M1906 1248l26-19-23-7-26 15z"/>
<path fill="#0030ff" stroke-width="2.94" d="M1880 1260l26-12-23-11-26 6zM1854 1264l26-4-23-17-26-2z"/>
<path fill="#0040ff" stroke-width="2.94" d="M1828 1263l26 1-23-23-26-5zM1802 1261l26 2-23-27-26-3zM1776 1261l26 0-23-28-26 7zM1750 1268l26-7-23-21-26 15zM1724 1280l26-12-23-13-26 18z"/>
<path fill="#0030ff" stroke-width="1.68" d="M1698 1295l26-15-23-7-26 18z"/>
<path fill="#0020ff" stroke-width="1.68" d="M1672 1310l26-15-23-4-26 15z"/>
<path fill="#0010ff" stroke-width="1.68" d="M1646 1323l26-13-23-4-26 14z"/>
<path fill="#00f" stroke-width="1.68" d="M1620 1336l26-13-23-3-26 12zM1594 1346l26-10-23-4-26 9z"/>
<path fill="#0000ef" stroke-width="0.76" d="M1568 1350l26-4-23-5-26 3z"/>
<path fill="#00f" stroke-width="0.76" d="M1542 1350l26 0-23-6-26 0zM1516 1349l26 1-23-6-26-1zM1490 1348l26 1-23-6-26-1z"/>
<path fill="#0010ff" stroke-width="0.76" d="M1464 1347l26 1-23-6-26-1zM1438 1346l26 1-23-6-26-1z"/>
<path fill="#0020ff" stroke-width="0.76" d="M1412 1345l26 1-23-6-26-1zM1386 1346l26-1-23-6-26 1zM1360 1351l26-5-23-6-26 5z"/>
<path fill="#0020ff" stroke-width="1.68" d="M1334 1359l26-8-23-6-26 8zM1308 1367l26-8-23-6-26 8z"/>
<path fill="#0010ff" stroke-width="1.68" d="M1282 1376l26-9-23-6-26 8zM1256 1384l26-8-23-7-26 9zM1230 1392l26-8-23-6-26 8z"/>
<path fill="#00f" stroke-width="0.76" d="M1230 1392l-23-6-3 1 17 8z"/>
<path fill="#cf0000" d="M2500 595l26-49-22 11-26 13z"/>
<path fill="#ef0000" d="M2474 635l26-40-22-25-26 4z"/>
<path fill="#f00" d="M2448 658l26-23-22-61-26 1z"/>
<path fill="#ff1000" d="M2422 675l26-17-22-83-26 10zM2396 694l26-19-22-90-26 19z"/>
<path fill="#ff3000" d="M2370 714l26-20-22-90-26 27z"/>
<path fill="#ff5000" d="M2344 744l26-30-22-83-26 42z"/>
<path fill="#ff8000" d="M2318 789l26-45-22-71-26 53z"/>
<path fill="#ffbf00" d="M2292 843l26-54-22-63-26 57z"/>
<path fill="#ff0" d="M2266 899l26-56-22-60-26 50z"/>
<path fill="#cfff30" d="M2240 946l26-47-22-66-26 36z"/>
<path fill="#9fff60" d="M2214 981l26-35-22-77-26 29z"/>
<path fill="#80ff80" d="M2188 1009l26-28-22-83-26 23z"/>
<path fill="#60ff9f" d="M2162 1031l26-22-22-88-26 17z"/>
<path fill="#50ffaf" d="M2136 1048l26-17-22-93-26 16z"/>
<path fill="#40ffbf" d="M2110 1064l26-16-22-94-26 21z"/>
<path fill="#30ffcf" d="M2084 1085l26-21-22-89-26 26z"/>
<path fill="#10ffef" d="M2058 1109l26-24-22-84-26 33z"/>
<path fill="#00efff" d="M2032 1139l26-30-22-75-26 51z"/>
<path fill="#00afff" d="M2006 1177l26-38-22-54-26 63z"/>
<path fill="#0080ff" d="M1980 1210l26-33-22-29-26 51z"/>
<path fill="#0050ff" stroke-width="2.94" d="M1954 1236l26-26-22-11-26 30z"/>
<path fill="#0040ff" stroke-width="2.94" d="M1928 1256l26-20-22-7-26 19z"/>
<path fill="#0030ff" stroke-width="1.68" d="M1902 1270l26-14-22-8-26 12z"/>
<path fill="#0020ff" stroke-width="1.68" d="M1876 1279l26-9-22-10-26 4zM1850 1283l26-4-22-15-26-1z"/>
<path fill="#0030ff" stroke-width="2.94" d="M1824 1282l26 1-22-20-26-2z"/>
<path fill="#0030ff" stroke-width="1.68" d="M1798 1282l26 0-22-21-26 0z"/>
<path fill="#0030ff" stroke-width="2.94" d="M1772 1284l26-2-22-21-26 7zM1746 1291l26-7-22-16-26 12z"/>
<path fill="#0020ff" stroke-width="1.68" d="M1720 1302l26-11-22-11-26 15zM1694 1314l26-12-22-7-26 15z"/>
<path fill="#0010ff" stroke-width="1.68" d="M1668 1327l26-13-22-4-26 13z"/>
<path fill="#00f" stroke-width="1.68" d="M1642 1340l26-13-22-4-26 13zM1616 1350l26-10-22-4-26 10z"/>
<path fill="#0010ff" stroke-width="0.76" d="M1486 1349l26 2-22-3-26-1zM1460 1349l26 0-22-2-26-1z"/>
<path fill="#0020ff" stroke-width="0.76" d="M1434 1350l26-1-22-3-26-1zM1408 1353l26-3-22-5-26 1zM1382 1358l26-5-22-7-26 5z"/>
<path fill="#0020ff" stroke-width="1.68" d="M1356 1366l26-8-22-7-26 8zM1330 1374l26-8-22-7-26 8z"/>
<path fill="#0010ff" stroke-width="1.68" d="M1304 1382l26-8-22-7-26 9zM1278 1390l26-8-22-6-26 8zM1252 1398l26-8-22-6-26 8z"/>
<path fill="#00f" stroke-width="0.76" d="M1252 1398l-22-6-9 3 14 7 3 1z"/>
<path fill="#9f0000" d="M2549 563l26-52-23 6-26 29z"/>
<path fill="#df0000" d="M2523 634l26-71-23-17-26 49z"/>
<path fill="#ff2000" d="M2497 698l26-64-23-39-26 40z"/>
<path fill="#ff5000" d="M2471 741l26-43-23-63-26 23z"/>
<path fill="#ff7000" d="M2445 767l26-26-23-83-26 17z"/>
<path fill="#ff8000" d="M2419 786l26-19-23-92-26 19z"/>
<path fill="#ff9f00" d="M2393 805l26-19-23-92-26 20z"/>
<path fill="#ffaf00" d="M2367 827l26-22-23-91-26 30z"/>
<path fill="#ffcf00" d="M2341 859l26-32-23-83-26 45z"/>
<path fill="#efff10" d="M2315 905l26-46-23-70-26 54z"/>
<path fill="#afff50" d="M2289 959l26-54-23-62-26 56z"/>
<path fill="#80ff80" d="M2263 1014l26-55-23-60-26 47z"/>
<path fill="#40ffbf" d="M2237 1058l26-44-23-68-26 35z"/>
<path fill="#20ffdf" d="M2211 1090l26-32-23-77-26 28z"/>
<path fill="#0ff" d="M2185 1114l26-24-23-81-26 22z"/>
<path fill="#00efff" d="M2159 1134l26-20-23-83-26 17z"/>
<path fill="#00dfff" d="M2133 1148l26-14-23-86-26 16z"/>
<path fill="#00cfff" d="M2107 1161l26-13-23-84-26 21z"/>
<path fill="#00afff" d="M2081 1175l26-14-23-76-26 24z"/>
<path fill="#009fff" d="M2055 1190l26-15-23-66-26 30z"/>
<path fill="#0080ff" d="M2029 1208l26-18-23-51-26 38z"/>
<path fill="#0070ff" d="M2003 1226l26-18-23-31-26 33z"/>
<path fill="#0050ff" stroke-width="2.94" d="M1977 1245l26-19-23-16-26 26z"/>
<path fill="#0040ff" stroke-width="2.94" d="M1951 1262l26-17-23-9-26 20z"/>
<path fill="#0030ff" stroke-width="1.68" d="M1925 1278l26-16-23-6-26 14z"/>
<path fill="#0020ff" stroke-width="1.68" d="M1899 1290l26-12-23-8-26 9zM1873 1297l26-7-23-11-26 4zM1847 1300l26-3-23-14-26-1zM1821 1300l26 0-23-18-26 0zM1795 1301l26-1-23-18-26 2zM1769 1305l26-4-23-17-26 7zM1743 1312l26-7-23-14-26 11zM1717 1322l26-10-23-10-26 12z"/>
<path fill="#0010ff" stroke-width="1.68" d="M1691 1333l26-11-23-8-26 13z"/>
<path fill="#00f" stroke-width="1.68" d="M1665 1344l26-11-23-6-26 13zM1639 1354l26-10-23-4-26 10z"/>
<path fill="#0020ff" stroke-width="0.76" d="M1457 1354l26-4-23-1-26 1zM1431 1360l26-6-23-4-26 3z"/>
<path fill="#0020ff" stroke-width="1.68" d="M1405 1366l26-6-23-7-26 5zM1379 1373l26-7-23-8-26 8zM1353 1381l26-8-23-7-26 8z"/>
<path fill="#0010ff" stroke-width="1.68" d="M1327 1389l26-8-23-7-26 8zM1301 1397l26-8-23-7-26 8zM1275 1405l26-8-23-7-26 8z"/>
<path fill="#00f" stroke-width="1.68" d="M1275 1405l-23-7-14 5 17 9z"/>
<path fill="#800000" stroke-width="1.68" d="M2624 505l26-8-23 12-26-14z"/>
<path fill="#800000" d="M2598 540l26-35-23-10-26 16z"/>
<path fill="#af0000" d="M2572 598l26-58-23-29-26 52z"/>
<path fill="#f00" d="M2546 674l26-76-23-35-26 71z"/>
<path fill="#ff6000" d="M2520 750l26-76-23-40-26 64z"/>
<path fill="#ff9f00" d="M2494 812l26-62-23-52-26 43z"/>
<path fill="#ffcf00" d="M2468 855l26-43-23-71-26 26z"/>
<path fill="#ffef00" d="M2442 880l26-25-23-88-26 19z"/>
<path fill="#efff10" d="M2416 898l26-18-23-94-26 19z"/>
<path fill="#dfff20" d="M2390 917l26-19-23-93-26 22z"/>
<path fill="#cfff30" d="M2364 940l26-23-23-90-26 32z"/>
<path fill="#9fff60" d="M2338 973l26-33-23-81-26 46z"/>
<path fill="#70ff8f" d="M2312 1020l26-47-23-68-26 54z"/>
<path fill="#30ffcf" d="M2286 1074l26-54-23-61-26 55z"/>
<path fill="#00efff" d="M2260 1122l26-48-23-60-26 44z"/>
<path fill="#00bfff" d="M2234 1154l26-32-23-64-26 32z"/>
<path fill="#00afff" d="M2208 1175l26-21-23-64-26 24z"/>
<path fill="#008fff" d="M2182 1193l26-18-23-61-26 20z"/>
<path fill="#0080ff" d="M2156 1207l26-14-23-59-26 14zM2130 1214l26-7-23-59-26 13z"/>
<path fill="#0070ff" d="M2104 1218l26-4-23-53-26 14zM2078 1224l26-6-23-43-26 15z"/>
<path fill="#0060ff" d="M2052 1233l26-9-23-34-26 18z"/>
<path fill="#0050ff" stroke-width="2.94" d="M2026 1243l26-10-23-25-26 18z"/>
<path fill="#0040ff" stroke-width="2.94" d="M2000 1256l26-13-23-17-26 19z"/>
<path fill="#0030ff" stroke-width="2.94" d="M1974 1270l26-14-23-11-26 17zM1948 1284l26-14-23-8-26 16z"/>
<path fill="#0020ff" stroke-width="1.68" d="M1922 1297l26-13-23-6-26 12z"/>
<path fill="#0010ff" stroke-width="1.68" d="M1896 1308l26-11-23-7-26 7zM1870 1314l26-6-23-11-26 3zM1844 1316l26-2-23-14-26 0zM1818 1317l26-1-23-16-26 1z"/>
<path fill="#0020ff" stroke-width="1.68" d="M1792 1319l26-2-23-16-26 4zM1766 1324l26-5-23-14-26 7z"/>
<path fill="#0010ff" stroke-width="1.68" d="M1740 1331l26-7-23-12-26 10zM1714 1340l26-9-23-9-26 11zM1688 1349l26-9-23-7-26 11z"/>
<path fill="#00f" stroke-width="0.76" d="M1662 1356l26-7-23-5-26 10z"/>
<path fill="#0020ff" stroke-width="0.76" d="M1532 1349l26-4-23 3-26 0zM1506 1355l26-6-23-1-26 2zM1480 1362l26-7-23-5-26 4z"/>
<path fill="#0020ff" stroke-width="1.68" d="M1454 1368l26-6-23-8-26 6zM1428 1375l26-7-23-8-26 6zM1402 1382l26-7-23-9-26 7z"/>
<path fill="#0010ff" stroke-width="1.68" d="M1376 1389l26-7-23-9-26 8zM1350 1397l26-8-23-8-26 8zM1324 1405l26-8-23-8-26 8zM1298 1413l26-8-23-8-26 8z"/>
<path fill="#00f" stroke-width="1.68" d="M1298 1413l-23-8-20 7 17 9z"/>
<path fill="#8f0000" d="M2647 552l26-34-23-21-26 8z"/>
<path fill="#af0000" d="M2621 597l26-45-23-47-26 35z"/>
<path fill="#df0000" d="M2595 648l26-51-23-57-26 58z"/>
<path fill="#ff3000" d="M2569 714l26-66-23-50-26 76z"/>
<path fill="#ff8f00" d="M2543 792l26-78-23-40-26 76z"/>
<path fill="#ffdf00" d="M2517 868l26-76-23-42-26 62z"/>
<path fill="#cfff30" d="M2491 928l26-60-23-56-26 43z"/>
<path fill="#9fff60" d="M2465 968l26-40-23-73-26 25z"/>
<path fill="#80ff80" d="M2439 992l26-24-23-88-26 18z"/>
<path fill="#70ff8f" d="M2413 1009l26-17-23-94-26 19z"/>
<path fill="#60ff9f" d="M2387 1027l26-18-23-92-26 23z"/>
<path fill="#40ffbf" d="M2361 1050l26-23-23-87-26 33z"/>
<path fill="#20ffdf" d="M2335 1084l26-34-23-77-26 47z"/>
<path fill="#00efff" d="M2309 1127l26-43-23-64-26 54z"/>
<path fill="#00afff" d="M2283 1166l26-39-23-53-26 48z"/>
<path fill="#008fff" d="M2257 1191l26-25-23-44-26 32z"/>
<path fill="#0070ff" d="M2231 1208l26-17-23-37-26 21z"/>
<path fill="#0060ff" d="M2205 1222l26-14-23-33-26 18z"/>
<path fill="#0050ff" d="M2179 1237l26-15-23-29-26 14z"/>
<path fill="#0050ff" stroke-width="2.94" d="M2153 1246l26-9-23-30-26 7z"/>
<path fill="#0040ff" stroke-width="2.94" d="M2127 1249l26-3-23-32-26 4z"/>
<path fill="#0050ff" stroke-width="2.94" d="M2101 1250l26-1-23-31-26 6z"/>
<path fill="#0040ff" stroke-width="2.94" d="M2075 1254l26-4-23-26-26 9zM2049 1261l26-7-23-21-26 10zM2023 1270l26-9-23-18-26 13z"/>
<path fill="#0030ff" stroke-width="2.94" d="M1997 1280l26-10-23-14-26 14z"/>
<path fill="#0020ff" stroke-width="1.68" d="M1971 1292l26-12-23-10-26 14zM1945 1304l26-12-23-8-26 13z"/>
<path fill="#0010ff" stroke-width="1.68" d="M1919 1315l26-11-23-7-26 11zM1893 1325l26-10-23-7-26 6zM1867 1330l26-5-23-11-26 2zM1841 1332l26-2-23-14-26 1zM1815 1334l26-2-23-15-26 2zM1789 1337l26-3-23-15-26 5zM1763 1342l26-5-23-13-26 7zM1737 1348l26-6-23-11-26 9zM1711 1354l26-6-23-8-26 9z"/>
<path fill="#00f" stroke-width="0.76" d="M1685 1355l26-1-23-5-26 7z"/>
<path fill="#0020ff" stroke-width="0.76" d="M1581 1349l26-5-23 0-26 1zM1555 1356l26-7-23-4-26 4z"/>
<path fill="#0020ff" stroke-width="1.68" d="M1529 1363l26-7-23-7-26 6zM1503 1371l26-8-23-8-26 7zM1477 1378l26-7-23-9-26 6zM1451 1385l26-7-23-10-26 7z"/>
<path fill="#0010ff" stroke-width="1.68" d="M1425 1392l26-7-23-10-26 7zM1399 1399l26-7-23-10-26 7zM1373 1406l26-7-23-10-26 8zM1347 1413l26-7-23-9-26 8z"/>
<path fill="#00f" stroke-width="1.68" d="M1321 1421l26-8-23-8-26 8zM1321 1421l-23-8-26 8 1 0 22 8z"/>
<path fill="#00f" stroke-width="0.76" d="M1295 1429l-22-8 18 9z"/>
<path fill="#8f0000" stroke-width="2.94" d="M2696 548l26-13-23-8-26-9z"/>
<path fill="#af0000" d="M2670 605l26-57-23-30-26 34z"/>
<path fill="#ef0000" d="M2644 663l26-58-23-53-26 45z"/>
<path fill="#ff2000" d="M2618 711l26-48-23-66-26 51z"/>
<path fill="#ff7000" d="M2592 765l26-54-23-63-26 66z"/>
<path fill="#ffbf00" d="M2566 833l26-68-23-51-26 78z"/>
<path fill="#efff10" d="M2540 911l26-78-23-41-26 76z"/>
<path fill="#8fff70" d="M2514 986l26-75-23-43-26 60z"/>
<path fill="#50ffaf" d="M2488 1044l26-58-23-58-26 40z"/>
<path fill="#20ffdf" d="M2462 1080l26-36-23-76-26 24z"/>
<path fill="#0ff" d="M2436 1099l26-19-23-88-26 17z"/>
<path fill="#00efff" d="M2410 1113l26-14-23-90-26 18z"/>
<path fill="#00dfff" d="M2384 1127l26-14-23-86-26 23z"/>
<path fill="#00cfff" d="M2358 1146l26-19-23-77-26 34z"/>
<path fill="#00afff" d="M2332 1171l26-25-23-62-26 43z"/>
<path fill="#0080ff" d="M2306 1195l26-24-23-44-26 39z"/>
<path fill="#0070ff" d="M2280 1213l26-18-23-29-26 25z"/>
<path fill="#0050ff" stroke-width="2.94" d="M2254 1227l26-14-23-22-26 17zM2228 1239l26-12-23-19-26 14z"/>
<path fill="#0040ff" stroke-width="2.94" d="M2202 1253l26-14-23-17-26 15z"/>
<path fill="#0030ff" stroke-width="2.94" d="M2176 1266l26-13-23-16-26 9zM2150 1273l26-7-23-20-26 3zM2124 1273l26 0-23-24-26 1zM2098 1273l26 0-23-23-26 4zM2072 1278l26-5-23-19-26 7zM2046 1284l26-6-23-17-26 9zM2020 1292l26-8-23-14-26 10z"/>
<path fill="#0020ff" stroke-width="1.68" d="M1994 1301l26-9-23-12-26 12zM1968 1311l26-10-23-9-26 12z"/>
<path fill="#0010ff" stroke-width="1.68" d="M1942 1322l26-11-23-7-26 11zM1916 1333l26-11-23-7-26 10z"/>
<path fill="#00f" stroke-width="1.68" d="M1890 1341l26-8-23-8-26 5zM1864 1346l26-5-23-11-26 2zM1838 1348l26-2-23-14-26 2zM1812 1350l26-2-23-14-26 3z"/>
<path fill="#0010ff" stroke-width="1.68" d="M1786 1353l26-3-23-13-26 5zM1760 1356l26-3-23-11-26 6z"/>
<path fill="#0010ff" stroke-width="0.76" d="M1734 1356l26 0-23-8-26 6z"/>
<path fill="#0020ff" stroke-width="0.76" d="M1656 1348l26 1-23 1-26-6zM1630 1350l26-2-23-4-26 0z"/>
<path fill="#0030ff" stroke-width="0.76" d="M1604 1357l26-7-23-6-26 5z"/>
<path fill="#0020ff" stroke-width="1.68" d="M1578 1364l26-7-23-8-26 7zM1552 1372l26-8-23-8-26 7zM1526 1379l26-7-23-9-26 8zM1500 1387l26-8-23-8-26 7z"/>
<path fill="#0010ff" stroke-width="1.68" d="M1474 1394l26-7-23-9-26 7zM1448 1401l26-7-23-9-26 7zM1422 1408l26-7-23-9-26 7zM1396 1415l26-7-23-9-26 7z"/>
<path fill="#00f" stroke-width="1.68" d="M1370 1422l26-7-23-9-26 7zM1344 1429l26-7-23-9-26 8zM1318 1437l26-8-23-8-26 8z"/>
<path fill="#00f" stroke-width="0.76" d="M1318 1437l-23-8-4 1 19 9z"/>
<path fill="#af0000" d="M2719 579l26-29-23-15-26 13z"/>
<path fill="#df0000" d="M2693 650l26-71-23-31-26 57z"/>
<path fill="#ff3000" d="M2667 720l26-70-23-45-26 58z"/>
<path fill="#ff7000" d="M2641 777l26-57-23-57-26 48z"/>
<path fill="#ffaf00" d="M2615 826l26-49-23-66-26 54z"/>
<path fill="#ffef00" d="M2589 881l26-55-23-61-26 68z"/>
<path fill="#bfff40" d="M2563 951l26-70-23-48-26 78z"/>
<path fill="#60ff9f" d="M2537 1030l26-79-23-40-26 75z"/>
<path fill="#10ffef" d="M2511 1102l26-72-23-44-26 58z"/>
<path fill="#00bfff" d="M2485 1151l26-49-23-58-26 36z"/>
<path fill="#009fff" d="M2459 1174l26-23-23-71-26 19z"/>
<path fill="#008fff" d="M2433 1181l26-7-23-75-26 14zM2407 1185l26-4-23-68-26 14z"/>
<path fill="#0080ff" d="M2381 1191l26-6-23-58-26 19z"/>
<path fill="#0070ff" d="M2355 1202l26-11-23-45-26 25z"/>
<path fill="#0060ff" d="M2329 1216l26-14-23-31-26 24z"/>
<path fill="#0050ff" stroke-width="2.94" d="M2303 1229l26-13-23-21-26 18z"/>
<path fill="#0040ff" stroke-width="2.94" d="M2277 1242l26-13-23-16-26 14zM2251 1254l26-12-23-15-26 12z"/>
<path fill="#0030ff" stroke-width="2.94" d="M2225 1264l26-10-23-15-26 14z"/>
<path fill="#0020ff" stroke-width="2.94" d="M2199 1277l26-13-23-11-26 13z"/>
<path fill="#0020ff" stroke-width="1.68" d="M2173 1288l26-11-23-11-26 7zM2147 1292l26-4-23-15-26 0zM2121 1292l26 0-23-19-26 0zM2095 1293l26-1-23-19-26 5zM2069 1298l26-5-23-15-26 6zM2043 1304l26-6-23-14-26 8zM2017 1312l26-8-23-12-26 9z"/>
<path fill="#0010ff" stroke-width="1.68" d="M1991 1320l26-8-23-11-26 10zM1965 1330l26-10-23-9-26 11z"/>
<path fill="#00f" stroke-width="1.68" d="M1939 1340l26-10-23-8-26 11zM1913 1350l26-10-23-7-26 8zM1887 1357l26-7-23-9-26 5zM1861 1361l26-4-23-11-26 2zM1835 1363l26-2-23-13-26 2z"/>
<path fill="#00f" stroke-width="0.76" d="M1809 1362l26 1-23-13-26 3zM1783 1360l26 2-23-9-26 3z"/>
<path fill="#0010ff" stroke-width="0.76" d="M1757 1357l26 3-23-4-26 0zM1731 1355l26 2-23-1-26-3z"/>
<path fill="#0020ff" stroke-width="0.76" d="M1705 1354l26 1-23-2-26-4zM1679 1355l26-1-23-5-26-1zM1653 1359l26-4-23-7-26 2z"/>
<path fill="#0020ff" stroke-width="1.68" d="M1627 1365l26-6-23-9-26 7zM1601 1373l26-8-23-8-26 7zM1575 1380l26-7-23-9-26 8zM1549 1388l26-8-23-8-26 7z"/>
<path fill="#0010ff" stroke-width="1.68" d="M1523 1396l26-8-23-9-26 8zM1497 1403l26-7-23-9-26 7zM1471 1411l26-8-23-9-26 7zM1445 1418l26-7-23-10-26 7z"/>
<path fill="#00f" stroke-width="1.68" d="M1419 1425l26-7-23-10-26 7zM1393 1432l26-7-23-10-26 7zM1367 1439l26-7-23-10-26 7zM1341 1446l26-7-23-10-26 8z"/>
<path fill="#0000ef" stroke-width="0.76" d="M1341 1446l-23-9-8 2 19 10z"/>
<path fill="#bf0000" d="M2742 614l26-38-23-26-26 29z"/>
<path fill="#f00" d="M2716 688l26-74-23-35-26 71z"/>
<path fill="#ff6000" d="M2690 765l26-77-23-38-26 70z"/>
<path fill="#ffaf00" d="M2664 835l26-70-23-45-26 57z"/>
<path fill="#ffef00" d="M2638 892l26-57-23-58-26 49z"/>
<path fill="#cfff30" d="M2612 941l26-49-23-66-26 55z"/>
<path fill="#80ff80" d="M2586 997l26-56-23-60-26 70z"/>
<path fill="#30ffcf" d="M2560 1068l26-71-23-46-26 79z"/>
<path fill="#00cfff" d="M2534 1140l26-72-23-38-26 72z"/>
<path fill="#008fff" d="M2508 1192l26-52-23-38-26 49z"/>
<path fill="#0060ff" d="M2482 1215l26-23-23-41-26 23z"/>
<path fill="#0050ff" d="M2456 1217l26-2-23-41-26 7z"/>
<path fill="#0050ff" stroke-width="2.94" d="M2430 1215l26 2-23-36-26 4z"/>
<path fill="#0060ff" stroke-width="2.94" d="M2404 1217l26-2-23-30-26 6z"/>
<path fill="#0050ff" stroke-width="2.94" d="M2378 1223l26-6-23-26-26 11zM2352 1233l26-10-23-21-26 14z"/>
<path fill="#0040ff" stroke-width="2.94" d="M2326 1244l26-11-23-17-26 13zM2300 1256l26-12-23-15-26 13z"/>
<path fill="#0030ff" stroke-width="2.94" d="M2274 1266l26-10-23-14-26 12zM2248 1276l26-10-23-12-26 10z"/>
<path fill="#0020ff" stroke-width="1.68" d="M2222 1286l26-10-23-12-26 13zM2196 1296l26-10-23-9-26 11z"/>
<path fill="#0010ff" stroke-width="1.68" d="M2170 1304l26-8-23-8-26 4zM2144 1307l26-3-23-12-26 0zM2118 1308l26-1-23-15-26 1z"/>
<path fill="#0020ff" stroke-width="1.68" d="M2092 1312l26-4-23-15-26 5z"/>
<path fill="#0010ff" stroke-width="1.68" d="M2066 1317l26-5-23-14-26 6zM2040 1323l26-6-23-13-26 8zM2014 1330l26-7-23-11-26 8zM1988 1338l26-8-23-10-26 10z"/>
<path fill="#00f" stroke-width="1.68" d="M1962 1347l26-9-23-8-26 10zM1936 1357l26-10-23-7-26 10zM1910 1366l26-9-23-7-26 7z"/>
<path fill="#0000ef" stroke-width="1.68" d="M1884 1373l26-7-23-9-26 4z"/>
<path fill="#0000ef" stroke-width="0.76" d="M1858 1374l26-1-23-12-26 2z"/>
<path fill="#00f" stroke-width="0.76" d="M1832 1369l26 5-23-11-26-1zM1806 1364l26 5-23-7-26-2z"/>
<path fill="#0010ff" stroke-width="0.76" d="M1780 1362l26 2-23-4-26-3zM1754 1362l26 0-23-5-26-2z"/>
<path fill="#0020ff" stroke-width="0.76" d="M1728 1362l26 0-23-7-26-1zM1702 1364l26-2-23-8-26 1zM1676 1367l26-3-23-9-26 4z"/>
<path fill="#0020ff" stroke-width="1.68" d="M1650 1374l26-7-23-8-26 6zM1624 1382l26-8-23-9-26 8zM1598 1389l26-7-23-9-26 7z"/>
<path fill="#0010ff" stroke-width="1.68" d="M1572 1397l26-8-23-9-26 8zM1546 1404l26-7-23-9-26 8zM1520 1412l26-8-23-8-26 7zM1494 1420l26-8-23-9-26 8z"/>
<path fill="#00f" stroke-width="1.68" d="M1468 1427l26-7-23-9-26 7zM1442 1434l26-7-23-9-26 7zM1416 1441l26-7-23-9-26 7zM1390 1448l26-7-23-9-26 7z"/>
<path fill="#0000ef" stroke-width="1.68" d="M1364 1455l26-7-23-9-26 7zM1364 1455l-23-9-12 3 20 10z"/>
<path fill="#ef0000" d="M2791 611l26 27-23-24-26-38zM2765 653l26-42-23-35-26 38z"/>
<path fill="#ff3000" d="M2739 726l26-73-23-39-26 74z"/>
<path fill="#ff8f00" d="M2713 805l26-79-23-38-26 77z"/>
<path fill="#ffdf00" d="M2687 882l26-77-23-40-26 70z"/>
<path fill="#bfff40" d="M2661 951l26-69-23-47-26 57z"/>
<path fill="#80ff80" d="M2635 1007l26-56-23-59-26 49z"/>
<path fill="#40ffbf" d="M2609 1055l26-48-23-66-26 56z"/>
<path fill="#0ff" d="M2583 1108l26-53-23-58-26 71z"/>
<path fill="#00afff" d="M2557 1164l26-56-23-40-26 72z"/>
<path fill="#0070ff" d="M2531 1207l26-43-23-24-26 52z"/>
<path fill="#0040ff" stroke-width="2.94" d="M2505 1225l26-18-23-15-26 23z"/>
<path fill="#0040ff" stroke-width="1.68" d="M2479 1228l26-3-23-10-26 2zM2453 1228l26 0-23-11-26-2zM2427 1232l26-4-23-13-26 2z"/>
<path fill="#0040ff" stroke-width="2.94" d="M2401 1241l26-9-23-15-26 6zM2375 1250l26-9-23-18-26 10zM2349 1259l26-9-23-17-26 11z"/>
<path fill="#0030ff" stroke-width="2.94" d="M2323 1268l26-9-23-15-26 12zM2297 1278l26-10-23-12-26 10z"/>
<path fill="#0020ff" stroke-width="1.68" d="M2271 1287l26-9-23-12-26 10zM2245 1295l26-8-23-11-26 10z"/>
<path fill="#0010ff" stroke-width="1.68" d="M2219 1304l26-9-23-9-26 10zM2193 1312l26-8-23-8-26 8zM2167 1318l26-6-23-8-26 3zM2141 1321l26-3-23-11-26 1zM2115 1324l26-3-23-13-26 4zM2089 1329l26-5-23-12-26 5zM2063 1335l26-6-23-12-26 6zM2037 1341l26-6-23-12-26 7z"/>
<path fill="#00f" stroke-width="1.68" d="M2011 1348l26-7-23-11-26 8zM1985 1356l26-8-23-10-26 9zM1959 1364l26-8-23-9-26 10z"/>
<path fill="#0000ef" stroke-width="1.68" d="M1933 1374l26-10-23-7-26 9zM1907 1382l26-8-23-8-26 7z"/>
<path fill="#0000ef" stroke-width="0.76" d="M1881 1385l26-3-23-9-26 1z"/>
<path fill="#0000ef" stroke-width="1.68" d="M1855 1380l26 5-23-11-26-5z"/>
<path fill="#00f" stroke-width="1.68" d="M1829 1373l26 7-23-11-26-5z"/>
<path fill="#0010ff" stroke-width="0.76" d="M1803 1370l26 3-23-9-26-2zM1777 1370l26 0-23-8-26 0z"/>
<path fill="#0020ff" stroke-width="0.76" d="M1751 1371l26-1-23-8-26 0zM1725 1372l26-1-23-9-26 2zM1699 1376l26-4-23-8-26 3z"/>
<path fill="#0020ff" stroke-width="1.68" d="M1673 1382l26-6-23-9-26 7zM1647 1390l26-8-23-8-26 8zM1621 1398l26-8-23-8-26 7z"/>
<path fill="#0010ff" stroke-width="1.68" d="M1595 1405l26-7-23-9-26 8zM1569 1413l26-8-23-8-26 7zM1543 1421l26-8-23-9-26 8z"/>
<path fill="#00f" stroke-width="1.68" d="M1517 1428l26-7-23-9-26 8zM1491 1436l26-8-23-8-26 7zM1465 1443l26-7-23-9-26 7zM1439 1451l26-8-23-9-26 7z"/>
<path fill="#0000ef" stroke-width="1.68" d="M1413 1458l26-7-23-10-26 7zM1387 1465l26-7-23-10-26 7zM1387 1465l-23-10-15 4 21 10z"/>
<path fill="#ff1000" d="M2814 655l26 14-23-31-26-27zM2788 698l26-43-23-44-26 42z"/>
<path fill="#ff6000" d="M2762 766l26-68-23-45-26 73z"/>
<path fill="#ffaf00" d="M2736 843l26-77-23-40-26 79z"/>
<path fill="#efff10" d="M2710 922l26-79-23-38-26 77z"/>
<path fill="#8fff70" d="M2684 999l26-77-23-40-26 69z"/>
<path fill="#40ffbf" d="M2658 1066l26-67-23-48-26 56z"/>
<path fill="#0ff" d="M2632 1115l26-49-23-59-26 48z"/>
<path fill="#00bfff" d="M2606 1153l26-38-23-60-26 53z"/>
<path fill="#008fff" d="M2580 1186l26-33-23-45-26 56z"/>
<path fill="#0060ff" d="M2554 1211l26-25-23-22-26 43z"/>
<path fill="#0040ff" stroke-width="1.68" d="M2528 1226l26-15-23-4-26 18z"/>
<path fill="#0040ff" stroke-width="0.76" d="M2502 1233l26-7-23-1-26 3zM2476 1240l26-7-23-5-26 0z"/>
<path fill="#0040ff" stroke-width="1.68" d="M2450 1247l26-7-23-12-26 4z"/>
<path fill="#0040ff" stroke-width="2.94" d="M2424 1256l26-9-23-15-26 9z"/>
<path fill="#0030ff" stroke-width="2.94" d="M2398 1264l26-8-23-15-26 9zM2372 1272l26-8-23-14-26 9z"/>
<path fill="#0020ff" stroke-width="1.68" d="M2346 1280l26-8-23-13-26 9zM2320 1289l26-9-23-12-26 10zM2294 1297l26-8-23-11-26 9z"/>
<path fill="#0010ff" stroke-width="1.68" d="M2268 1306l26-9-23-10-26 8zM2242 1313l26-7-23-11-26 9zM2216 1321l26-8-23-9-26 8zM2190 1327l26-6-23-9-26 6z"/>
<path fill="#00f" stroke-width="1.68" d="M2164 1331l26-4-23-9-26 3z"/>
<path fill="#0010ff" stroke-width="1.68" d="M2138 1335l26-4-23-10-26 3zM2112 1340l26-5-23-11-26 5z"/>
<path fill="#00f" stroke-width="1.68" d="M2086 1346l26-6-23-11-26 6zM2060 1352l26-6-23-11-26 6zM2034 1358l26-6-23-11-26 7zM2008 1365l26-7-23-10-26 8zM1982 1373l26-8-23-9-26 8z"/>
<path fill="#0000ef" stroke-width="1.68" d="M1956 1381l26-8-23-9-26 10zM1930 1390l26-9-23-7-26 8zM1904 1397l26-7-23-8-26 3zM1878 1396l26 1-23-12-26-5z"/>
<path fill="#00f" stroke-width="2.94" d="M1852 1387l26 9-23-16-26-7z"/>
<path fill="#0010ff" stroke-width="1.68" d="M1826 1380l26 7-23-14-26-3z"/>
<path fill="#0010ff" stroke-width="0.76" d="M1800 1379l26 1-23-10-26 0z"/>
<path fill="#0020ff" stroke-width="0.76" d="M1774 1379l26 0-23-9-26 1zM1748 1380l26-1-23-8-26 1zM1722 1383l26-3-23-8-26 4z"/>
<path fill="#0020ff" stroke-width="1.68" d="M1696 1390l26-7-23-7-26 6zM1670 1398l26-8-23-8-26 8z"/>
<path fill="#0010ff" stroke-width="1.68" d="M1644 1406l26-8-23-8-26 8zM1618 1414l26-8-23-8-26 7zM1592 1422l26-8-23-9-26 8z"/>
<path fill="#00f" stroke-width="1.68" d="M1566 1429l26-7-23-9-26 8zM1540 1437l26-8-23-8-26 7zM1514 1445l26-8-23-9-26 8zM1488 1452l26-7-23-9-26 7z"/>
<path fill="#0000ef" stroke-width="1.68" d="M1462 1460l26-8-23-9-26 8zM1436 1467l26-7-23-9-26 7zM1410 1473l26-6-23-9-26 7zM1410 1473l-23-8-17 4 19 10z"/>
<path fill="#ff3000" d="M2837 701l26-4-23-28-26-14z"/>
<path fill="#ff5000" d="M2811 750l26-49-23-46-26 43z"/>
<path fill="#ff8f00" d="M2785 813l26-63-23-52-26 68z"/>
<path fill="#ffdf00" d="M2759 883l26-70-23-47-26 77z"/>
<path fill="#bfff40" d="M2733 960l26-77-23-40-26 79z"/>
<path fill="#60ff9f" d="M2707 1038l26-78-23-38-26 77z"/>
<path fill="#0ff" d="M2681 1110l26-72-23-39-26 67z"/>
<path fill="#00bfff" d="M2655 1160l26-50-23-44-26 49z"/>
<path fill="#008fff" d="M2629 1188l26-28-23-45-26 38z"/>
<path fill="#0070ff" d="M2603 1206l26-18-23-35-26 33z"/>
<path fill="#0050ff" stroke-width="2.94" d="M2577 1220l26-14-23-20-26 25z"/>
<path fill="#0040ff" stroke-width="1.68" d="M2551 1233l26-13-23-9-26 15zM2525 1244l26-11-23-7-26 7zM2499 1253l26-9-23-11-26 7z"/>
<path fill="#0030ff" stroke-width="2.94" d="M2473 1262l26-9-23-13-26 7zM2447 1270l26-8-23-15-26 9z"/>
<path fill="#0030ff" stroke-width="1.68" d="M2421 1278l26-8-23-14-26 8z"/>
<path fill="#0020ff" stroke-width="1.68" d="M2395 1285l26-7-23-14-26 8zM2369 1292l26-7-23-13-26 8zM2343 1300l26-8-23-12-26 9z"/>
<path fill="#0010ff" stroke-width="1.68" d="M2317 1308l26-8-23-11-26 8zM2291 1316l26-8-23-11-26 9zM2265 1324l26-8-23-10-26 7z"/>
<path fill="#00f" stroke-width="1.68" d="M2239 1330l26-6-23-11-26 8zM2213 1336l26-6-23-9-26 6zM2187 1342l26-6-23-9-26 4zM2161 1346l26-4-23-11-26 4zM2135 1352l26-6-23-11-26 5zM2109 1357l26-5-23-12-26 6zM2083 1363l26-6-23-11-26 6zM2057 1369l26-6-23-11-26 6zM2031 1375l26-6-23-11-26 7z"/>
<path fill="#0000ef" stroke-width="1.68" d="M2005 1382l26-7-23-10-26 8zM1979 1390l26-8-23-9-26 8zM1953 1398l26-8-23-9-26 9zM1927 1407l26-9-23-8-26 7zM1901 1411l26-4-23-10-26-1z"/>
<path fill="#0000ef" stroke-width="2.94" d="M1875 1406l26 5-23-15-26-9z"/>
<path fill="#00f" stroke-width="2.94" d="M1849 1396l26 10-23-19-26-7z"/>
<path fill="#0010ff" stroke-width="1.68" d="M1823 1389l26 7-23-16-26-1z"/>
<path fill="#0010ff" stroke-width="0.76" d="M1797 1388l26 1-23-10-26 0z"/>
<path fill="#0020ff" stroke-width="0.76" d="M1771 1388l26 0-23-9-26 1zM1745 1391l26-3-23-8-26 3z"/>
<path fill="#0020ff" stroke-width="1.68" d="M1719 1397l26-6-23-8-26 7zM1693 1404l26-7-23-7-26 8z"/>
<path fill="#0010ff" stroke-width="1.68" d="M1667 1413l26-9-23-6-26 8zM1641 1421l26-8-23-7-26 8zM1615 1429l26-8-23-7-26 8z"/>
<path fill="#00f" stroke-width="1.68" d="M1589 1437l26-8-23-7-26 7zM1563 1445l26-8-23-8-26 8zM1537 1452l26-7-23-8-26 8zM1511 1459l26-7-23-7-26 7z"/>
<path fill="#0000ef" stroke-width="1.68" d="M1485 1466l26-7-23-7-26 8zM1459 1473l26-7-23-6-26 7z"/>
<path fill="#0000ef" stroke-width="0.76" d="M1433 1479l26-6-23-6-26 6zM1433 1479l-23-6-21 6 9 4 9 3z"/>
<path fill="#ff6000" d="M2860 745l26-21-23-27-26 4z"/>
<path fill="#ff8000" d="M2834 803l26-58-23-44-26 49z"/>
<path fill="#ffcf00" d="M2808 865l26-62-23-53-26 63z"/>
<path fill="#efff10" d="M2782 929l26-64-23-52-26 70z"/>
<path fill="#8fff70" d="M2756 1000l26-71-23-46-26 77z"/>
<path fill="#30ffcf" d="M2730 1075l26-75-23-40-26 78z"/>
<path fill="#00dfff" d="M2704 1143l26-68-23-37-26 72z"/>
<path fill="#008fff" d="M2678 1186l26-43-23-33-26 50z"/>
<path fill="#0070ff" d="M2652 1210l26-24-23-26-26 28z"/>
<path fill="#0060ff" stroke-width="2.94" d="M2626 1224l26-14-23-22-26 18z"/>
<path fill="#0050ff" stroke-width="2.94" d="M2600 1235l26-11-23-18-26 14z"/>
<path fill="#0040ff" stroke-width="2.94" d="M2574 1245l26-10-23-15-26 13zM2548 1256l26-11-23-12-26 11z"/>
<path fill="#0030ff" stroke-width="2.94" d="M2522 1266l26-10-23-12-26 9z"/>
<path fill="#0030ff" stroke-width="1.68" d="M2496 1275l26-9-23-13-26 9z"/>
<path fill="#0020ff" stroke-width="1.68" d="M2470 1283l26-8-23-13-26 8zM2444 1290l26-7-23-13-26 8zM2418 1297l26-7-23-12-26 7z"/>
<path fill="#0010ff" stroke-width="1.68" d="M2392 1304l26-7-23-12-26 7zM2366 1311l26-7-23-12-26 8zM2340 1318l26-7-23-11-26 8zM2314 1326l26-8-23-10-26 8z"/>
<path fill="#00f" stroke-width="1.68" d="M2288 1333l26-7-23-10-26 8zM2262 1341l26-8-23-9-26 6zM2236 1347l26-6-23-11-26 6zM2210 1353l26-6-23-11-26 6zM2184 1358l26-5-23-11-26 4zM2158 1363l26-5-23-12-26 6zM2132 1369l26-6-23-11-26 5z"/>
<path fill="#0000ef" stroke-width="1.68" d="M2106 1374l26-5-23-12-26 6zM2080 1380l26-6-23-11-26 6zM2054 1386l26-6-23-11-26 6zM2028 1392l26-6-23-11-26 7zM2002 1399l26-7-23-10-26 8zM1976 1406l26-7-23-9-26 8zM1950 1415l26-9-23-8-26 9zM1924 1422l26-7-23-8-26 4zM1898 1424l26-2-23-11-26-5z"/>
<path fill="#0000ef" stroke-width="2.94" d="M1872 1416l26 8-23-18-26-10z"/>
<path fill="#00f" stroke-width="2.94" d="M1846 1404l26 12-23-20-26-7z"/>
<path fill="#0010ff" stroke-width="1.68" d="M1820 1398l26 6-23-15-26-1z"/>
<path fill="#0010ff" stroke-width="0.76" d="M1794 1397l26 1-23-10-26 0z"/>
<path fill="#0020ff" stroke-width="0.76" d="M1768 1399l26-2-23-9-26 3zM1742 1404l26-5-23-8-26 6z"/>
<path fill="#0020ff" stroke-width="1.68" d="M1716 1411l26-7-23-7-26 7z"/>
<path fill="#0010ff" stroke-width="1.68" d="M1690 1419l26-8-23-7-26 9zM1664 1427l26-8-23-6-26 8zM1638 1435l26-8-23-6-26 8z"/>
<path fill="#00f" stroke-width="1.68" d="M1612 1443l26-8-23-6-26 8zM1586 1450l26-7-23-6-26 8z"/>
<path fill="#00f" stroke-width="0.76" d="M1560 1457l26-7-23-5-26 7zM1534 1463l26-6-23-5-26 7z"/>
<path fill="#0000ef" stroke-width="0.76" d="M1508 1470l26-7-23-4-26 7zM1482 1476l26-6-23-4-26 7zM1456 1482l26-6-23-3-26 6zM1430 1488l26-6-23-3-26 7zM1430 1488l-23-2-3 0 1 1 8 5z"/>
<path fill="#ff8f00" d="M2909 769l26 5-23-19-26-31zM2883 795l26-26-23-45-26 21z"/>
<path fill="#ffbf00" d="M2857 853l26-58-23-50-26 58z"/>
<path fill="#ff0" d="M2831 919l26-66-23-50-26 62z"/>
<path fill="#afff50" d="M2805 981l26-62-23-54-26 64z"/>
<path fill="#60ff9f" d="M2779 1045l26-64-23-52-26 71z"/>
<path fill="#10ffef" d="M2753 1112l26-67-23-45-26 75z"/>
<path fill="#00bfff" d="M2727 1169l26-57-23-37-26 68z"/>
<path fill="#0080ff" d="M2701 1204l26-35-23-26-26 43z"/>
<path fill="#0060ff" stroke-width="2.94" d="M2675 1225l26-21-23-18-26 24z"/>
<path fill="#0050ff" stroke-width="2.94" d="M2649 1240l26-15-23-15-26 14z"/>
<path fill="#0040ff" stroke-width="2.94" d="M2623 1250l26-10-23-16-26 11z"/>
<path fill="#0030ff" stroke-width="2.94" d="M2597 1259l26-9-23-15-26 10zM2571 1268l26-9-23-14-26 11z"/>
<path fill="#0030ff" stroke-width="1.68" d="M2545 1278l26-10-23-12-26 10z"/>
<path fill="#0020ff" stroke-width="1.68" d="M2519 1287l26-9-23-12-26 9zM2493 1295l26-8-23-12-26 8z"/>
<path fill="#0010ff" stroke-width="1.68" d="M2467 1302l26-7-23-12-26 7zM2441 1309l26-7-23-12-26 7zM2415 1315l26-6-23-12-26 7zM2389 1322l26-7-23-11-26 7zM2363 1329l26-7-23-11-26 7z"/>
<path fill="#00f" stroke-width="1.68" d="M2337 1336l26-7-23-11-26 8zM2311 1343l26-7-23-10-26 7zM2285 1351l26-8-23-10-26 8zM2259 1358l26-7-23-10-26 6z"/>
<path fill="#0000ef" stroke-width="1.68" d="M2233 1364l26-6-23-11-26 6zM2207 1369l26-5-23-11-26 5zM2181 1374l26-5-23-11-26 5zM2155 1380l26-6-23-11-26 6zM2129 1385l26-5-23-11-26 5zM2103 1391l26-6-23-11-26 6zM2077 1396l26-5-23-11-26 6zM2051 1402l26-6-23-10-26 6zM2025 1408l26-6-23-10-26 7zM1999 1415l26-7-23-9-26 7zM1973 1423l26-8-23-9-26 9zM1947 1431l26-8-23-8-26 7zM1921 1438l26-7-23-9-26 2zM1895 1437l26 1-23-14-26-8z"/>
<path fill="#0000ef" stroke-width="2.94" d="M1869 1425l26 12-23-21-26-12z"/>
<path fill="#00f" stroke-width="2.94" d="M1843 1412l26 13-23-21-26-6z"/>
<path fill="#0010ff" stroke-width="1.68" d="M1817 1407l26 5-23-14-26-1z"/>
<path fill="#0010ff" stroke-width="0.76" d="M1791 1407l26 0-23-10-26 2z"/>
<path fill="#0020ff" stroke-width="0.76" d="M1765 1411l26-4-23-8-26 5z"/>
<path fill="#0010ff" stroke-width="1.68" d="M1739 1417l26-6-23-7-26 7zM1713 1425l26-8-23-6-26 8zM1687 1433l26-8-23-6-26 8z"/>
<path fill="#0010ff" stroke-width="0.76" d="M1661 1440l26-7-23-6-26 8z"/>
<path fill="#00f" stroke-width="0.76" d="M1635 1447l26-7-23-5-26 8zM1609 1453l26-6-23-4-26 7zM1583 1459l26-6-23-3-26 7zM1557 1465l26-6-23-2-26 6zM1531 1471l26-6-23-2-26 7z"/>
<path fill="#0000ef" stroke-width="0.76" d="M1505 1477l26-6-23-1-26 6zM1479 1484l26-7-23-1-26 6zM1453 1490l26-6-23-2-26 6zM1453 1490l-23-2-17 4 4 3 10 1z"/>
<path fill="#efff10" stroke-width="2.94" d="M3036 850l26 12-23-17-26-20z"/>
<path fill="#ffef00" d="M3010 842l26 8-23-25-26-17z"/>
<path fill="#ffdf00" d="M2984 840l26 2-23-34-26-18z"/>
<path fill="#ffcf00" d="M2958 843l26-3-23-50-26-16zM2932 846l26-3-23-69-26-5zM2906 862l26-16-23-77-26 26z"/>
<path fill="#ff0" d="M2880 906l26-44-23-67-26 58z"/>
<path fill="#bfff40" d="M2854 970l26-64-23-53-26 66z"/>
<path fill="#70ff8f" d="M2828 1036l26-66-23-51-26 62z"/>
<path fill="#20ffdf" d="M2802 1096l26-60-23-55-26 64z"/>
<path fill="#00dfff" d="M2776 1150l26-54-23-51-26 67z"/>
<path fill="#009fff" d="M2750 1192l26-42-23-38-26 57z"/>
<path fill="#0070ff" d="M2724 1219l26-27-23-23-26 35z"/>
<path fill="#0050ff" stroke-width="2.94" d="M2698 1238l26-19-23-15-26 21z"/>
<path fill="#0040ff" stroke-width="2.94" d="M2672 1252l26-14-23-13-26 15z"/>
<path fill="#0030ff" stroke-width="2.94" d="M2646 1264l26-12-23-12-26 10zM2620 1273l26-9-23-14-26 9z"/>
<path fill="#0020ff" stroke-width="1.68" d="M2594 1281l26-8-23-14-26 9zM2568 1289l26-8-23-13-26 10zM2542 1297l26-8-23-11-26 9z"/>
<path fill="#0010ff" stroke-width="1.68" d="M2516 1306l26-9-23-10-26 8zM2490 1313l26-7-23-11-26 7zM2464 1320l26-7-23-11-26 7zM2438 1326l26-6-23-11-26 6z"/>
<path fill="#00f" stroke-width="1.68" d="M2412 1333l26-7-23-11-26 7zM2386 1339l26-6-23-11-26 7zM2360 1346l26-7-23-10-26 7zM2334 1353l26-7-23-10-26 7zM2308 1360l26-7-23-10-26 8z"/>
<path fill="#0000ef" stroke-width="1.68" d="M2282 1368l26-8-23-9-26 7zM2256 1374l26-6-23-10-26 6zM2230 1380l26-6-23-10-26 5zM2204 1386l26-6-23-11-26 5zM2178 1391l26-5-23-12-26 6zM2152 1396l26-5-23-11-26 5zM2126 1402l26-6-23-11-26 6zM2100 1407l26-5-23-11-26 5zM2074 1413l26-6-23-11-26 6zM2048 1419l26-6-23-11-26 6zM2022 1425l26-6-23-11-26 7zM1996 1432l26-7-23-10-26 8zM1970 1440l26-8-23-9-26 8zM1944 1448l26-8-23-9-26 7zM1918 1452l26-4-23-10-26-1z"/>
<path fill="#0000ef" stroke-width="2.94" d="M1892 1447l26 5-23-15-26-12zM1866 1433l26 14-23-22-26-13z"/>
<path fill="#00f" stroke-width="2.94" d="M1840 1421l26 12-23-21-26-5z"/>
<path fill="#0010ff" stroke-width="1.68" d="M1814 1416l26 5-23-14-26 0z"/>
<path fill="#0010ff" stroke-width="0.76" d="M1788 1417l26-1-23-9-26 4zM1762 1423l26-6-23-6-26 6zM1736 1429l26-6-23-6-26 8zM1710 1436l26-7-23-4-26 8zM1684 1442l26-6-23-3-26 7zM1658 1448l26-6-23-2-26 7z"/>
<path fill="#00f" stroke-width="0.76" d="M1632 1455l26-7-23-1-26 6zM1606 1461l26-6-23-2-26 6zM1580 1467l26-6-23-2-26 6zM1554 1473l26-6-23-2-26 6zM1528 1479l26-6-23-2-26 6zM1502 1485l26-6-23-2-26 7zM1476 1491l26-6-23-1-26 6z"/>
<path fill="#0000ef" stroke-width="0.76" d="M1450 1497l26-6-23-1-26 6zM1450 1497l-23-1-7 1 8 5z"/>
<path fill="#60ff9f" stroke-width="0.76" d="M3241 934l26-2-23 12-26-11zM3215 934l26 0-23-1-26-2z"/>
<path fill="#60ff9f" stroke-width="1.68" d="M3189 946l26-12-23-3-26 8zM3163 951l26-5-23-7-26-9z"/>
<path fill="#80ff80" d="M3137 933l26 18-23-21-26-26z"/>
<path fill="#9fff60" d="M3111 906l26 27-23-29-26-25z"/>
<path fill="#bfff40" d="M3085 892l26 14-23-27-26-17z"/>
<path fill="#cfff30" d="M3059 895l26-3-23-30-26-12z"/>
<path fill="#dfff20" d="M3033 899l26-4-23-45-26-8zM3007 904l26-5-23-57-26-2zM2981 918l26-14-23-64-26 3zM2955 933l26-15-23-75-26 3z"/>
<path fill="#cfff30" d="M2929 946l26-13-23-87-26 16z"/>
<path fill="#afff50" d="M2903 972l26-26-23-84-26 44z"/>
<path fill="#80ff80" d="M2877 1021l26-49-23-66-26 64z"/>
<path fill="#30ffcf" d="M2851 1086l26-65-23-51-26 66z"/>
<path fill="#00efff" d="M2825 1147l26-61-23-50-26 60z"/>
<path fill="#00afff" d="M2799 1190l26-43-23-51-26 54z"/>
<path fill="#0080ff" d="M2773 1215l26-25-23-40-26 42z"/>
<path fill="#0060ff" d="M2747 1233l26-18-23-23-26 27z"/>
<path fill="#0040ff" stroke-width="2.94" d="M2721 1249l26-16-23-14-26 19z"/>
<path fill="#0030ff" stroke-width="2.94" d="M2695 1263l26-14-23-11-26 14zM2669 1275l26-12-23-11-26 12z"/>
<path fill="#0020ff" stroke-width="1.68" d="M2643 1285l26-10-23-11-26 9zM2617 1293l26-8-23-12-26 8zM2591 1300l26-7-23-12-26 8z"/>
<path fill="#0010ff" stroke-width="1.68" d="M2565 1308l26-8-23-11-26 8zM2539 1316l26-8-23-11-26 9zM2513 1323l26-7-23-10-26 7z"/>
<path fill="#00f" stroke-width="1.68" d="M2487 1331l26-8-23-10-26 7zM2461 1337l26-6-23-11-26 6zM2435 1343l26-6-23-11-26 7zM2409 1350l26-7-23-10-26 6zM2383 1356l26-6-23-11-26 7zM2357 1363l26-7-23-10-26 7z"/>
<path fill="#0000ef" stroke-width="1.68" d="M2331 1370l26-7-23-10-26 7zM2305 1377l26-7-23-10-26 8zM2279 1384l26-7-23-9-26 6zM2253 1391l26-7-23-10-26 6zM2227 1397l26-6-23-11-26 6zM2201 1402l26-5-23-11-26 5zM2175 1407l26-5-23-11-26 5zM2149 1413l26-6-23-11-26 6zM2123 1418l26-5-23-11-26 5zM2097 1424l26-6-23-11-26 6zM2071 1429l26-5-23-11-26 6zM2045 1435l26-6-23-10-26 6zM2019 1442l26-7-23-10-26 7zM1993 1449l26-7-23-10-26 8zM1967 1456l26-7-23-9-26 8zM1941 1464l26-8-23-8-26 4zM1915 1466l26-2-23-12-26-5z"/>
<path fill="#0000ef" stroke-width="2.94" d="M1889 1457l26 9-23-19-26-14zM1863 1440l26 17-23-24-26-12z"/>
<path fill="#0010ff" stroke-width="2.94" d="M1837 1428l26 12-23-19-26-5z"/>
<path fill="#0010ff" stroke-width="0.76" d="M1811 1424l26 4-23-12-26 1z"/>
<path fill="#0020ff" stroke-width="0.76" d="M1785 1426l26-2-23-7-26 6z"/>
<path fill="#0010ff" stroke-width="0.76" d="M1759 1432l26-6-23-3-26 6zM1733 1438l26-6-23-3-26 7zM1707 1444l26-6-23-2-26 6zM1681 1450l26-6-23-2-26 6zM1655 1456l26-6-23-2-26 7zM1629 1462l26-6-23-1-26 6zM1603 1468l26-6-23-1-26 6z"/>
<path fill="#00f" stroke-width="0.76" d="M1577 1474l26-6-23-1-26 6zM1551 1480l26-6-23-1-26 6zM1525 1486l26-6-23-1-26 6zM1499 1493l26-7-23-1-26 6zM1473 1499l26-6-23-2-26 6zM1473 1499l-23-2-22 5 2 2 17 1z"/>
<path fill="#70ff8f" stroke-width="1.68" d="M3290 931l26-14-23 12-26 3z"/>
<path fill="#60ff9f" stroke-width="2.94" d="M3264 953l26-22-23 1-26 2zM3238 968l26-15-23-19-26 0z"/>
<path fill="#50ffaf" d="M3212 982l26-14-23-34-26 12zM3186 995l26-13-23-36-26 5zM3160 990l26 5-23-44-26-18z"/>
<path fill="#70ff8f" d="M3134 966l26 24-23-57-26-27z"/>
<path fill="#8fff70" d="M3108 944l26 22-23-60-26-14z"/>
<path fill="#9fff60" d="M3082 942l26 2-23-52-26 3zM3056 951l26-9-23-47-26 4zM3030 959l26-8-23-52-26 5zM3004 970l26-11-23-55-26 14z"/>
<path fill="#8fff70" d="M2978 993l26-23-23-52-26 15z"/>
<path fill="#70ff8f" d="M2952 1020l26-27-23-60-26 13z"/>
<path fill="#60ff9f" d="M2926 1045l26-25-23-74-26 26z"/>
<path fill="#30ffcf" d="M2900 1081l26-36-23-73-26 49z"/>
<path fill="#0ff" d="M2874 1134l26-53-23-60-26 65z"/>
<path fill="#00afff" d="M2848 1188l26-54-23-48-26 61z"/>
<path fill="#0080ff" d="M2822 1222l26-34-23-41-26 43z"/>
<path fill="#0060ff" d="M2796 1239l26-17-23-32-26 25z"/>
<path fill="#0050ff" stroke-width="2.94" d="M2770 1249l26-10-23-24-26 18z"/>
<path fill="#0040ff" stroke-width="2.94" d="M2744 1261l26-12-23-16-26 16z"/>
<path fill="#0030ff" stroke-width="2.94" d="M2718 1273l26-12-23-12-26 14z"/>
<path fill="#0020ff" stroke-width="1.68" d="M2692 1285l26-12-23-10-26 12zM2666 1295l26-10-23-10-26 10z"/>
<path fill="#0010ff" stroke-width="1.68" d="M2640 1304l26-9-23-10-26 8zM2614 1311l26-7-23-11-26 7zM2588 1318l26-7-23-11-26 8zM2562 1326l26-8-23-10-26 8z"/>
<path fill="#00f" stroke-width="1.68" d="M2536 1333l26-7-23-10-26 7zM2510 1341l26-8-23-10-26 8zM2484 1348l26-7-23-10-26 6zM2458 1354l26-6-23-11-26 6zM2432 1360l26-6-23-11-26 7z"/>
<path fill="#0000ef" stroke-width="1.68" d="M2406 1367l26-7-23-10-26 6zM2380 1373l26-6-23-11-26 7zM2354 1380l26-7-23-10-26 7zM2328 1387l26-7-23-10-26 7zM2302 1394l26-7-23-10-26 7zM2276 1401l26-7-23-10-26 7zM2250 1407l26-6-23-10-26 6zM2224 1413l26-6-23-10-26 5zM2198 1418l26-5-23-11-26 5zM2172 1424l26-6-23-11-26 6zM2146 1429l26-5-23-11-26 5zM2120 1434l26-5-23-11-26 6zM2094 1440l26-6-23-10-26 5zM2068 1446l26-6-23-11-26 6zM2042 1452l26-6-23-11-26 7zM2016 1458l26-6-23-10-26 7zM1990 1465l26-7-23-9-26 7zM1964 1473l26-8-23-9-26 8zM1938 1479l26-6-23-9-26 2z"/>
<path fill="#0000ef" stroke-width="2.94" d="M1912 1478l26 1-23-13-26-9zM1886 1464l26 14-23-21-26-17z"/>
<path fill="#00f" stroke-width="2.94" d="M1860 1445l26 19-23-24-26-12z"/>
<path fill="#0010ff" stroke-width="1.68" d="M1834 1432l26 13-23-17-26-4z"/>
<path fill="#0020ff" stroke-width="0.76" d="M1808 1430l26 2-23-8-26 2zM1782 1433l26-3-23-4-26 6zM1756 1439l26-6-23-1-26 6zM1730 1445l26-6-23-1-26 6z"/>
<path fill="#0010ff" stroke-width="0.76" d="M1704 1451l26-6-23-1-26 6zM1678 1457l26-6-23-1-26 6zM1652 1463l26-6-23-1-26 6zM1626 1469l26-6-23-1-26 6zM1600 1476l26-7-23-1-26 6zM1574 1482l26-6-23-2-26 6z"/>
<path fill="#00f" stroke-width="0.76" d="M1548 1488l26-6-23-2-26 6zM1522 1494l26-6-23-2-26 7zM1496 1501l26-7-23-1-26 6zM1470 1509l26-8-23-2-26 6zM1470 1509l-23-4-10 3 10 7z"/>
<path fill="#70ff8f" stroke-width="1.68" d="M3338 926l26 7-22-6-26-10z"/>
<path fill="#70ff8f" stroke-width="2.94" d="M3312 945l26-19-22-9-26 14z"/>
<path fill="#60ff9f" d="M3286 978l26-33-22-14-26 22z"/>
<path fill="#40ffbf" d="M3260 1008l26-30-22-25-26 15z"/>
<path fill="#30ffcf" d="M3235 1028l25-20-22-40-26 14z"/>
<path fill="#20ffdf" d="M3208 1042l27-14-23-46-26 13z"/>
<path fill="#10ffef" d="M3182 1050l26-8-22-47-26-5z"/>
<path fill="#20ffdf" d="M3156 1040l26 10-22-60-26-24z"/>
<path fill="#40ffbf" d="M3130 1014l26 26-22-74-26-22z"/>
<path fill="#60ff9f" d="M3105 996l25 18-22-70-26-2z"/>
<path fill="#70ff8f" d="M3078 999l27-3-23-54-26 9z"/>
<path fill="#60ff9f" d="M3052 1010l26-11-22-48-26 8zM3026 1018l26-8-22-51-26 11z"/>
<path fill="#50ffaf" d="M3000 1032l26-14-22-48-26 23z"/>
<path fill="#40ffbf" d="M2974 1062l26-30-22-39-26 27z"/>
<path fill="#10ffef" d="M2948 1099l26-37-22-42-26 25z"/>
<path fill="#00efff" d="M2922 1137l26-38-22-54-26 36z"/>
<path fill="#00bfff" d="M2896 1175l26-38-22-56-26 53z"/>
<path fill="#008fff" d="M2870 1213l26-38-22-41-26 54z"/>
<path fill="#0060ff" d="M2844 1242l26-29-22-25-26 34z"/>
<path fill="#0040ff" stroke-width="2.94" d="M2818 1259l26-17-22-20-26 17zM2792 1268l26-9-22-20-26 10z"/>
<path fill="#0030ff" stroke-width="2.94" d="M2766 1274l26-6-22-19-26 12zM2740 1284l26-10-22-13-26 12z"/>
<path fill="#0020ff" stroke-width="1.68" d="M2714 1294l26-10-22-11-26 12zM2688 1304l26-10-22-9-26 10z"/>
<path fill="#0010ff" stroke-width="1.68" d="M2662 1314l26-10-22-9-26 9zM2636 1322l26-8-22-10-26 7zM2610 1329l26-7-22-11-26 7z"/>
<path fill="#00f" stroke-width="1.68" d="M2584 1336l26-7-22-11-26 8zM2558 1343l26-7-22-10-26 7zM2532 1350l26-7-22-10-26 8zM2506 1358l26-8-22-9-26 7z"/>
<path fill="#0000ef" stroke-width="1.68" d="M2480 1364l26-6-22-10-26 6zM2454 1371l26-7-22-10-26 6zM2428 1377l26-6-22-11-26 7zM2402 1383l26-6-22-10-26 6zM2376 1390l26-7-22-10-26 7zM2350 1396l26-6-22-10-26 7zM2324 1403l26-7-22-9-26 7zM2298 1410l26-7-22-9-26 7zM2272 1417l26-7-22-9-26 6zM2246 1424l26-7-22-10-26 6zM2220 1429l26-5-22-11-26 5zM2194 1435l26-6-22-11-26 6zM2168 1440l26-5-22-11-26 5zM2142 1445l26-5-22-11-26 5zM2116 1451l26-6-22-11-26 6zM2090 1456l26-5-22-11-26 6zM2064 1462l26-6-22-10-26 6zM2039 1468l25-6-22-10-26 6zM2012 1475l27-7-23-10-26 7zM1986 1482l26-7-22-10-26 8zM1960 1489l26-7-22-9-26 6zM1934 1494l26-5-22-10-26-1z"/>
<path fill="#0000ef" stroke-width="2.94" d="M1909 1487l25 7-22-16-26-14z"/>
<path fill="#0000ef" d="M1882 1468l27 19-23-23-26-19z"/>
<path fill="#00f" stroke-width="2.94" d="M1856 1447l26 21-22-23-26-13z"/>
<path fill="#0010ff" stroke-width="1.68" d="M1830 1436l26 11-22-15-26-2z"/>
<path fill="#0020ff" stroke-width="0.76" d="M1804 1436l26 0-22-6-26 3zM1779 1441l25-5-22-3-26 6zM1752 1447l27-6-23-2-26 6zM1726 1453l26-6-22-2-26 6zM1700 1459l26-6-22-2-26 6z"/>
<path fill="#0010ff" stroke-width="0.76" d="M1674 1465l26-6-22-2-26 6zM1649 1471l25-6-22-2-26 6zM1622 1477l27-6-23-2-26 7zM1596 1483l26-6-22-1-26 6zM1570 1490l26-7-22-1-26 6zM1544 1497l26-7-22-2-26 6z"/>
<path fill="#00f" stroke-width="0.76" d="M1518 1505l26-8-22-3-26 7zM1492 1512l26-7-22-4-26 8zM1492 1512l-22-3-23 6 4 2 15 3zM1466 1520l-15-3 7 6z"/>
<path fill="#0080ff" d="M3442 1079l26 32 16 11-1-3-18-16z"/>
<path fill="#60ff9f" stroke-width="2.94" d="M3361 951l26 4-23-22-26-7z"/>
<path fill="#60ff9f" d="M3335 973l26-22-23-25-26 19z"/>
<path fill="#40ffbf" d="M3309 1004l26-31-23-28-26 33z"/>
<path fill="#20ffdf" d="M3283 1040l26-36-23-26-26 30z"/>
<path fill="#0ff" d="M3257 1070l26-30-23-32-25 20z"/>
<path fill="#00efff" d="M3231 1088l26-18-22-42-27 14z"/>
<path fill="#00dfff" d="M3205 1100l26-12-23-46-26 8zM3179 1104l26-4-23-50-26-10z"/>
<path fill="#00efff" d="M3153 1089l26 15-23-64-26-26z"/>
<path fill="#10ffef" d="M3127 1063l26 26-23-75-25-18z"/>
<path fill="#30ffcf" d="M3101 1050l26 13-22-67-27 3zM3075 1057l26-7-23-51-26 11z"/>
<path fill="#20ffdf" d="M3049 1069l26-12-23-47-26 8zM3023 1075l26-6-23-51-26 14z"/>
<path fill="#10ffef" d="M2997 1090l26-15-23-43-26 30z"/>
<path fill="#00efff" d="M2971 1124l26-34-23-28-26 37z"/>
<path fill="#00bfff" d="M2945 1166l26-42-23-25-26 38z"/>
<path fill="#008fff" d="M2919 1201l26-35-23-29-26 38z"/>
<path fill="#0070ff" d="M2893 1227l26-26-23-26-26 38z"/>
<path fill="#0050ff" stroke-width="2.94" d="M2867 1251l26-24-23-14-26 29z"/>
<path fill="#0030ff" stroke-width="2.94" d="M2841 1273l26-22-23-9-26 17zM2815 1285l26-12-23-14-26 9z"/>
<path fill="#0020ff" stroke-width="2.94" d="M2789 1290l26-5-23-17-26 6z"/>
<path fill="#0020ff" stroke-width="1.68" d="M2763 1295l26-5-23-16-26 10zM2737 1303l26-8-23-11-26 10z"/>
<path fill="#0010ff" stroke-width="1.68" d="M2711 1313l26-10-23-9-26 10zM2685 1323l26-10-23-9-26 10zM2659 1331l26-8-23-9-26 8z"/>
<path fill="#00f" stroke-width="1.68" d="M2633 1339l26-8-23-9-26 7zM2607 1346l26-7-23-10-26 7zM2581 1353l26-7-23-10-26 7zM2555 1360l26-7-23-10-26 7z"/>
<path fill="#0000ef" stroke-width="1.68" d="M2529 1367l26-7-23-10-26 8zM2503 1375l26-8-23-9-26 6zM2477 1381l26-6-23-11-26 7zM2451 1387l26-6-23-10-26 6zM2425 1394l26-7-23-10-26 6zM2399 1400l26-6-23-11-26 7zM2373 1406l26-6-23-10-26 6zM2347 1413l26-7-23-10-26 7zM2321 1420l26-7-23-10-26 7zM2295 1427l26-7-23-10-26 7zM2269 1434l26-7-23-10-26 7zM2243 1440l26-6-23-10-26 5zM2217 1446l26-6-23-11-26 6zM2191 1451l26-5-23-11-26 5zM2165 1456l26-5-23-11-26 5zM2139 1462l26-6-23-11-26 6zM2113 1467l26-5-23-11-26 5zM2087 1473l26-6-23-11-26 6zM2061 1479l26-6-23-11-25 6zM2035 1485l26-6-22-11-27 7zM2009 1491l26-6-23-10-26 7zM1983 1498l26-7-23-9-26 7zM1957 1505l26-7-23-9-26 5zM1931 1505l26 0-23-11-25-7z"/>
<path fill="#0000ef" stroke-width="2.94" d="M1905 1492l26 13-22-18-27-19z"/>
<path fill="#0000ef" d="M1879 1469l26 23-23-24-26-21z"/>
<path fill="#0010ff" stroke-width="2.94" d="M1853 1449l26 20-23-22-26-11z"/>
<path fill="#0020ff" stroke-width="1.68" d="M1827 1441l26 8-23-13-26 0z"/>
<path fill="#0020ff" stroke-width="0.76" d="M1801 1442l26-1-23-5-25 5zM1775 1448l26-6-22-1-27 6zM1749 1454l26-6-23-1-26 6zM1723 1460l26-6-23-1-26 6zM1697 1466l26-6-23-1-26 6zM1671 1472l26-6-23-1-25 6zM1645 1479l26-7-22-1-27 6z"/>
<path fill="#0010ff" stroke-width="0.76" d="M1619 1486l26-7-23-2-26 6zM1593 1493l26-7-23-3-26 7zM1567 1501l26-8-23-3-26 7zM1541 1509l26-8-23-4-26 8z"/>
<path fill="#00f" stroke-width="0.76" d="M1515 1517l26-8-23-4-26 7zM1489 1525l26-8-23-5-26 8zM1489 1525l-23-5-8 3 12 8z"/>
<path fill="#008fff" d="M3439 1057l26 46 18 18-2-6-19-25z"/>
<path fill="#40ffbf" stroke-width="2.94" d="M3384 984l26 3-23-32-26-4z"/>
<path fill="#40ffbf" d="M3358 1006l26-22-23-33-26 22z"/>
<path fill="#20ffdf" d="M3332 1035l26-29-23-33-26 31z"/>
<path fill="#0ff" d="M3306 1068l26-33-23-31-26 36z"/>
<path fill="#00dfff" d="M3280 1104l26-36-23-28-26 30z"/>
<path fill="#00bfff" d="M3254 1132l26-28-23-34-26 18z"/>
<path fill="#00afff" d="M3228 1147l26-15-23-44-26 12z"/>
<path fill="#009fff" d="M3202 1155l26-8-23-47-26 4zM3176 1154l26 1-23-51-26-15z"/>
<path fill="#00bfff" d="M3150 1138l26 16-23-65-26-26z"/>
<path fill="#00dfff" d="M3124 1114l26 24-23-75-26-13z"/>
<path fill="#00efff" d="M3098 1105l26 9-23-64-26 7zM3072 1113l26-8-23-48-26 12zM3046 1119l26-6-23-44-26 6z"/>
<path fill="#00dfff" d="M3020 1124l26-5-23-44-26 15z"/>
<path fill="#00cfff" d="M2994 1144l26-20-23-34-26 34z"/>
<path fill="#00afff" d="M2968 1178l26-34-23-20-26 42z"/>
<path fill="#0080ff" d="M2942 1210l26-32-23-12-26 35z"/>
<path fill="#0060ff" stroke-width="2.94" d="M2916 1233l26-23-23-9-26 26z"/>
<path fill="#0050ff" stroke-width="2.94" d="M2890 1255l26-22-23-6-26 24z"/>
<path fill="#0030ff" stroke-width="2.94" d="M2864 1277l26-22-23-4-26 22z"/>
<path fill="#0020ff" stroke-width="2.94" d="M2838 1295l26-18-23-4-26 12z"/>
<path fill="#0020ff" stroke-width="1.68" d="M2812 1304l26-9-23-10-26 5zM2786 1308l26-4-23-14-26 5z"/>
<path fill="#0010ff" stroke-width="1.68" d="M2760 1313l26-5-23-13-26 8zM2734 1321l26-8-23-10-26 10zM2708 1330l26-9-23-8-26 10z"/>
<path fill="#00f" stroke-width="1.68" d="M2682 1339l26-9-23-7-26 8zM2656 1348l26-9-23-8-26 8zM2630 1356l26-8-23-9-26 7z"/>
<path fill="#0000ef" stroke-width="1.68" d="M2604 1363l26-7-23-10-26 7zM2578 1369l26-6-23-10-26 7zM2552 1377l26-8-23-9-26 7zM2526 1384l26-7-23-10-26 8zM2500 1391l26-7-23-9-26 6zM2474 1398l26-7-23-10-26 6zM2448 1404l26-6-23-11-26 7zM2422 1410l26-6-23-10-26 6zM2396 1417l26-7-23-10-26 6zM2370 1423l26-6-23-11-26 7zM2344 1430l26-7-23-10-26 7zM2318 1437l26-7-23-10-26 7zM2292 1444l26-7-23-10-26 7zM2266 1451l26-7-23-10-26 6zM2240 1457l26-6-23-11-26 6zM2084 1489l26-5-23-11-26 6zM2058 1495l26-6-23-10-26 6zM2032 1501l26-6-23-10-26 6zM2006 1508l26-7-23-10-26 7zM1980 1515l26-7-23-10-26 7zM1954 1520l26-5-23-10-26 0z"/>
<path fill="#0000ef" stroke-width="2.94" d="M1928 1515l26 5-23-15-26-13z"/>
<path fill="#0000ef" d="M1902 1495l26 20-23-23-26-23z"/>
<path fill="#00f" d="M1876 1470l26 25-23-26-26-20z"/>
<path fill="#0010ff" stroke-width="2.94" d="M1850 1452l26 18-23-21-26-8z"/>
<path fill="#0020ff" stroke-width="0.76" d="M1824 1446l26 6-23-11-26 1z"/>
<path fill="#0030ff" stroke-width="0.76" d="M1798 1450l26-4-23-4-26 6zM1772 1455l26-5-23-2-26 6z"/>
<path fill="#0020ff" stroke-width="0.76" d="M1746 1462l26-7-23-1-26 6zM1720 1468l26-6-23-2-26 6zM1694 1475l26-7-23-2-26 6zM1668 1482l26-7-23-3-26 7zM1642 1489l26-7-23-3-26 7z"/>
<path fill="#0010ff" stroke-width="0.76" d="M1616 1497l26-8-23-3-26 7zM1590 1505l26-8-23-4-26 8zM1564 1513l26-8-23-4-26 8z"/>
<path fill="#00f" stroke-width="0.76" d="M1538 1521l26-8-23-4-26 8zM1512 1529l26-8-23-4-26 8zM1512 1529l-23-4-19 6 8 5 8 1z"/>
<path fill="#00afff" d="M3436 1034l26 56 18 25-5-11-1-2-15-26z"/>
<path fill="#20ffdf" d="M3407 1012l26 14-23-39-26-3zM3381 1036l26-24-23-28-26 22z"/>
<path fill="#0ff" d="M3355 1068l26-32-23-30-26 29z"/>
<path fill="#00dfff" d="M3329 1098l26-30-23-33-26 33z"/>
<path fill="#00bfff" d="M3303 1131l26-33-23-30-26 36z"/>
<path fill="#008fff" d="M3277 1164l26-33-23-27-26 28z"/>
<path fill="#0080ff" d="M3251 1187l26-23-23-32-26 15z"/>
<path fill="#0070ff" d="M3225 1194l26-7-23-40-26 8zM3199 1198l26-4-23-39-26-1z"/>
<path fill="#0080ff" d="M3173 1197l26 1-23-44-26-16z"/>
<path fill="#008fff" d="M3147 1180l26 17-23-59-26-24z"/>
<path fill="#00afff" d="M3121 1159l26 21-23-66-26-9z"/>
<path fill="#00bfff" d="M3095 1153l26 6-23-54-26 8zM3069 1157l26-4-23-40-26 6zM3043 1160l26-3-23-38-26 5z"/>
<path fill="#00afff" d="M3017 1170l26-10-23-36-26 20z"/>
<path fill="#009fff" d="M2991 1193l26-23-23-26-26 34z"/>
<path fill="#0080ff" stroke-width="2.94" d="M2965 1217l26-24-23-15-26 32z"/>
<path fill="#0060ff" stroke-width="2.94" d="M2939 1237l26-20-23-7-26 23z"/>
<path fill="#0050ff" stroke-width="2.94" d="M2913 1256l26-19-23-4-26 22z"/>
<path fill="#0040ff" stroke-width="1.68" d="M2887 1275l26-19-23-1-26 22z"/>
<path fill="#0020ff" stroke-width="1.68" d="M2861 1294l26-19-23 2-26 18zM2835 1309l26-15-23 1-26 9z"/>
<path fill="#0010ff" stroke-width="0.76" d="M2809 1316l26-7-23-5-26 4z"/>
<path fill="#0010ff" stroke-width="1.68" d="M2783 1321l26-5-23-8-26 5zM2757 1328l26-7-23-8-26 8zM2731 1336l26-8-23-7-26 9z"/>
<path fill="#00f" stroke-width="1.68" d="M2705 1345l26-9-23-6-26 9zM2679 1354l26-9-23-6-26 9zM2653 1363l26-9-23-6-26 8z"/>
<path fill="#0000ef" stroke-width="1.68" d="M2627 1371l26-8-23-7-26 7zM2601 1378l26-7-23-8-26 6zM2575 1386l26-8-23-9-26 8zM2549 1393l26-7-23-9-26 7zM2523 1401l26-8-23-9-26 7zM2497 1408l26-7-23-10-26 7zM2471 1414l26-6-23-10-26 6zM2445 1421l26-7-23-10-26 6zM2419 1427l26-6-23-11-26 7zM2393 1433l26-6-23-10-26 6zM2367 1439l26-6-23-10-26 7zM2341 1446l26-7-23-9-26 7zM2315 1453l26-7-23-9-26 7zM2081 1506l26-6-23-11-26 6zM2055 1511l26-5-23-11-26 6zM2029 1518l26-7-23-10-26 7zM2003 1524l26-6-23-10-26 7zM1977 1531l26-7-23-9-26 5zM1951 1532l26-1-23-11-26-5z"/>
<path fill="#0000ef" stroke-width="2.94" d="M1925 1520l26 12-23-17-26-20z"/>
<path fill="#0000ef" d="M1899 1497l26 23-23-25-26-25z"/>
<path fill="#00f" d="M1873 1472l26 25-23-27-26-18z"/>
<path fill="#0020ff" stroke-width="2.94" d="M1847 1456l26 16-23-20-26-6z"/>
<path fill="#0030ff" stroke-width="0.76" d="M1821 1453l26 3-23-10-26 4zM1795 1457l26-4-23-3-26 5zM1769 1463l26-6-23-2-26 7zM1743 1470l26-7-23-1-26 6z"/>
<path fill="#0020ff" stroke-width="0.76" d="M1717 1478l26-8-23-2-26 7zM1691 1486l26-8-23-3-26 7zM1665 1494l26-8-23-4-26 7zM1639 1502l26-8-23-5-26 8z"/>
<path fill="#0010ff" stroke-width="0.76" d="M1613 1510l26-8-23-5-26 8zM1587 1518l26-8-23-5-26 8z"/>
<path fill="#0010ff" stroke-width="1.68" d="M1561 1526l26-8-23-5-26 8z"/>
<path fill="#00f" stroke-width="1.68" d="M1535 1534l26-8-23-5-26 8zM1509 1543l26-9-23-5-26 8z"/>
<path fill="#00f" stroke-width="0.76" d="M1509 1543l-23-6-4 2 13 8z"/>
<path fill="#0ff" d="M3430 1034l26 31-23-39-26-14z"/>
<path fill="#10ffef" d="M3404 1053l26-19-23-22-26 24z"/>
<path fill="#00efff" d="M3378 1094l26-41-23-17-26 32z"/>
<path fill="#00bfff" d="M3352 1128l26-34-23-26-26 30z"/>
<path fill="#009fff" d="M3326 1155l26-27-23-30-26 33z"/>
<path fill="#0080ff" d="M3300 1182l26-27-23-24-26 33z"/>
<path fill="#0060ff" d="M3274 1207l26-25-23-18-26 23z"/>
<path fill="#0050ff" stroke-width="2.94" d="M3248 1218l26-11-23-20-26 7zM3222 1220l26-2-23-24-26 4zM3196 1224l26-4-23-22-26-1z"/>
<path fill="#0060ff" d="M3170 1223l26 1-23-27-26-17z"/>
<path fill="#0070ff" d="M3144 1208l26 15-23-43-26-21z"/>
<path fill="#008fff" d="M3118 1194l26 14-23-49-26-6zM3092 1191l26 3-23-41-26 4z"/>
<path fill="#009fff" stroke-width="2.94" d="M3066 1193l26-2-23-34-26 3z"/>
<path fill="#008fff" stroke-width="2.94" d="M3040 1198l26-5-23-33-26 10z"/>
<path fill="#008fff" d="M3014 1212l26-14-23-28-26 23z"/>
<path fill="#0080ff" stroke-width="2.94" d="M2988 1228l26-16-23-19-26 24z"/>
<path fill="#0060ff" stroke-width="2.94" d="M2962 1244l26-16-23-11-26 20z"/>
<path fill="#0050ff" stroke-width="1.68" d="M2936 1259l26-15-23-7-26 19z"/>
<path fill="#0040ff" stroke-width="1.68" d="M2910 1275l26-16-23-3-26 19z"/>
<path fill="#0030ff" stroke-width="1.68" d="M2884 1292l26-17-23 0-26 19z"/>
<path fill="#0020ff" stroke-width="1.68" d="M2858 1308l26-16-23 2-26 15z"/>
<path fill="#0010ff" stroke-width="0.76" d="M2832 1319l26-11-23 1-26 7zM2806 1327l26-8-23-3-26 5zM2780 1333l26-6-23-6-26 7z"/>
<path fill="#0010ff" stroke-width="1.68" d="M2754 1341l26-8-23-5-26 8z"/>
<path fill="#00f" stroke-width="1.68" d="M2728 1350l26-9-23-5-26 9zM2702 1359l26-9-23-5-26 9zM2676 1368l26-9-23-5-26 9z"/>
<path fill="#0000ef" stroke-width="1.68" d="M2650 1377l26-9-23-5-26 8zM2624 1385l26-8-23-6-26 7zM2598 1393l26-8-23-7-26 8zM2572 1401l26-8-23-7-26 7zM2546 1409l26-8-23-8-26 8zM2520 1417l26-8-23-8-26 7zM2494 1424l26-7-23-9-26 6zM2468 1431l26-7-23-10-26 7zM2442 1437l26-6-23-10-26 6zM2416 1443l26-6-23-10-26 6zM2390 1450l26-7-23-10-26 6zM2364 1456l26-6-23-11-26 7zM2338 1463l26-7-23-10-26 7zM2052 1528l26-6-23-11-26 7zM2026 1534l26-6-23-10-26 6zM2000 1541l26-7-23-10-26 7zM1974 1546l26-5-23-10-26 1z"/>
<path fill="#0000ef" stroke-width="2.94" d="M1948 1543l26 3-23-14-26-12z"/>
<path fill="#0000ef" d="M1922 1524l26 19-23-23-26-23zM1896 1498l26 26-23-27-26-25z"/>
<path fill="#0010ff" d="M1870 1475l26 23-23-26-26-16z"/>
<path fill="#0020ff" stroke-width="1.68" d="M1844 1462l26 13-23-19-26-3z"/>
<path fill="#0030ff" stroke-width="0.76" d="M1818 1461l26 1-23-9-26 4zM1792 1467l26-6-23-4-26 6zM1766 1474l26-7-23-4-26 7zM1740 1482l26-8-23-4-26 8z"/>
<path fill="#0020ff" stroke-width="0.76" d="M1714 1490l26-8-23-4-26 8z"/>
<path fill="#0020ff" stroke-width="1.68" d="M1688 1499l26-9-23-4-26 8zM1662 1507l26-8-23-5-26 8z"/>
<path fill="#0010ff" stroke-width="1.68" d="M1636 1515l26-8-23-5-26 8zM1610 1523l26-8-23-5-26 8zM1584 1532l26-9-23-5-26 8z"/>
<path fill="#00f" stroke-width="1.68" d="M1558 1540l26-8-23-6-26 8zM1532 1548l26-8-23-6-26 9zM1532 1548l-23-5-14 4 13 9z"/>
<path fill="#00dfff" d="M3469 1090l-5-10-8-15-26-31 23 31z"/>
<path fill="#00efff" stroke-width="2.94" d="M3427 1065l26 0-23-31-26 19z"/>
<path fill="#00dfff" d="M3401 1105l26-40-23-12-26 41z"/>
<path fill="#00afff" d="M3375 1147l26-42-23-11-26 34z"/>
<path fill="#008fff" d="M3349 1173l26-26-23-19-26 27z"/>
<path fill="#0070ff" stroke-width="2.94" d="M3323 1191l26-18-23-18-26 27z"/>
<path fill="#0050ff" stroke-width="2.94" d="M3297 1211l26-20-23-9-26 25z"/>
<path fill="#0040ff" stroke-width="1.68" d="M3271 1226l26-15-23-4-26 11z"/>
<path fill="#0040ff" stroke-width="0.76" d="M3245 1230l26-4-23-8-26 2zM3219 1232l26-2-23-10-26 4z"/>
<path fill="#0040ff" stroke-width="1.68" d="M3193 1236l26-4-23-8-26-1z"/>
<path fill="#0050ff" stroke-width="2.94" d="M3167 1232l26 4-23-13-26-15z"/>
<path fill="#0060ff" stroke-width="2.94" d="M3141 1221l26 11-23-24-26-14z"/>
<path fill="#0070ff" stroke-width="2.94" d="M3115 1217l26 4-23-27-26-3z"/>
<path fill="#0080ff" stroke-width="2.94" d="M3089 1218l26-1-23-26-26 2zM3063 1223l26-5-23-25-26 5z"/>
<path fill="#0070ff" stroke-width="2.94" d="M3037 1230l26-7-23-25-26 14zM3011 1240l26-10-23-18-26 16z"/>
<path fill="#0060ff" stroke-width="2.94" d="M2985 1252l26-12-23-12-26 16z"/>
<path fill="#0050ff" stroke-width="1.68" d="M2959 1265l26-13-23-8-26 15z"/>
<path fill="#0040ff" stroke-width="1.68" d="M2933 1279l26-14-23-6-26 16zM2907 1293l26-14-23-4-26 17z"/>
<path fill="#0030ff" stroke-width="1.68" d="M2881 1307l26-14-23-1-26 16z"/>
<path fill="#0020ff" stroke-width="0.76" d="M2855 1320l26-13-23 1-26 11z"/>
<path fill="#0010ff" stroke-width="0.76" d="M2829 1329l26-9-23-1-26 8zM2803 1337l26-8-23-2-26 6zM2777 1345l26-8-23-4-26 8zM2751 1354l26-9-23-4-26 9z"/>
<path fill="#00f" stroke-width="1.68" d="M2725 1363l26-9-23-4-26 9z"/>
<path fill="#00f" stroke-width="0.76" d="M2699 1372l26-9-23-4-26 9z"/>
<path fill="#0000ef" stroke-width="0.76" d="M2673 1381l26-9-23-4-26 9zM2647 1389l26-8-23-4-26 8z"/>
<path fill="#0000ef" stroke-width="1.68" d="M2621 1398l26-9-23-4-26 8zM2595 1407l26-9-23-5-26 8zM2569 1415l26-8-23-6-26 8zM2543 1424l26-9-23-6-26 8zM2517 1432l26-8-23-7-26 7zM2491 1439l26-7-23-8-26 7zM2465 1446l26-7-23-8-26 6zM2439 1453l26-7-23-9-26 6zM2413 1460l26-7-23-10-26 7zM2387 1466l26-6-23-10-26 6zM2023 1551l26-7-23-10-26 7zM1997 1557l26-6-23-10-26 5zM1971 1559l26-2-23-11-26-3z"/>
<path fill="#0000ef" stroke-width="2.94" d="M1945 1549l26 10-23-16-26-19z"/>
<path fill="#0000ef" d="M1919 1526l26 23-23-25-26-26zM1893 1500l26 26-23-28-26-23z"/>
<path fill="#0010ff" stroke-width="2.94" d="M1867 1480l26 20-23-25-26-13z"/>
<path fill="#0030ff" stroke-width="1.68" d="M1841 1472l26 8-23-18-26-1z"/>
<path fill="#0030ff" stroke-width="0.76" d="M1815 1473l26-1-23-11-26 6z"/>
<path fill="#0030ff" stroke-width="1.68" d="M1789 1480l26-7-23-6-26 7zM1763 1488l26-8-23-6-26 8z"/>
<path fill="#0020ff" stroke-width="1.68" d="M1737 1496l26-8-23-6-26 8zM1711 1504l26-8-23-6-26 9zM1685 1513l26-9-23-5-26 8z"/>
<path fill="#0010ff" stroke-width="1.68" d="M1659 1521l26-8-23-6-26 8zM1633 1529l26-8-23-6-26 8zM1607 1538l26-9-23-6-26 9z"/>
<path fill="#00f" stroke-width="1.68" d="M1581 1546l26-8-23-6-26 8zM1555 1554l26-8-23-6-26 8zM1555 1554l-23-6-24 8 3 2 18 5z"/>
<path fill="#0000ef" stroke-width="0.76" d="M1529 1563l-18-5 11 7z"/>
<path fill="#00afff" d="M3479 1113l-4-9-6-14-16-25 23 43z"/>
<path fill="#00dfff" d="M3450 1086l26 22-23-43-26 0z"/>
<path fill="#00cfff" d="M3424 1110l26-24-23-21-26 40z"/>
<path fill="#00afff" d="M3398 1153l26-43-23-5-26 42z"/>
<path fill="#0080ff" stroke-width="2.94" d="M3372 1183l26-30-23-6-26 26z"/>
<path fill="#0070ff" stroke-width="2.94" d="M3346 1200l26-17-23-10-26 18z"/>
<path fill="#0050ff" stroke-width="2.94" d="M3320 1214l26-14-23-9-26 20z"/>
<path fill="#0050ff" stroke-width="1.68" d="M3294 1227l26-13-23-3-26 15z"/>
<path fill="#0040ff" stroke-width="0.76" d="M3268 1234l26-7-23-1-26 4zM3242 1237l26-3-23-4-26 2zM3216 1241l26-4-23-5-26 4zM3190 1242l26-1-23-5-26-4z"/>
<path fill="#0050ff" stroke-width="1.68" d="M3164 1238l26 4-23-10-26-11z"/>
<path fill="#0060ff" stroke-width="1.68" d="M3138 1237l26 1-23-17-26-4zM3112 1238l26-1-23-20-26 1z"/>
<path fill="#0060ff" stroke-width="2.94" d="M3086 1242l26-4-23-20-26 5zM3060 1247l26-5-23-19-26 7zM3034 1254l26-7-23-17-26 10zM3008 1263l26-9-23-14-26 12z"/>
<path fill="#0050ff" stroke-width="1.68" d="M2982 1274l26-11-23-11-26 13z"/>
<path fill="#0040ff" stroke-width="1.68" d="M2956 1285l26-11-23-9-26 14zM2930 1297l26-12-23-6-26 14z"/>
<path fill="#0030ff" stroke-width="1.68" d="M2904 1309l26-12-23-4-26 14z"/>
<path fill="#0020ff" stroke-width="1.68" d="M2878 1321l26-12-23-2-26 13z"/>
<path fill="#0020ff" stroke-width="0.76" d="M2852 1331l26-10-23-1-26 9z"/>
<path fill="#0010ff" stroke-width="0.76" d="M2826 1340l26-9-23-2-26 8zM2800 1349l26-9-23-3-26 8z"/>
<path fill="#0010ff" stroke-width="1.68" d="M2774 1358l26-9-23-4-26 9z"/>
<path fill="#00f" stroke-width="1.68" d="M2748 1367l26-9-23-4-26 9z"/>
<path fill="#00f" stroke-width="0.76" d="M2722 1376l26-9-23-4-26 9zM2696 1385l26-9-23-4-26 9z"/>
<path fill="#0000ef" stroke-width="0.76" d="M2670 1393l26-8-23-4-26 8zM2644 1402l26-9-23-4-26 9zM2618 1411l26-9-23-4-26 9zM2592 1420l26-9-23-4-26 8z"/>
<path fill="#0000ef" stroke-width="1.68" d="M2566 1428l26-8-23-5-26 9zM2540 1437l26-9-23-4-26 8zM2514 1445l26-8-23-5-26 7zM2488 1454l26-9-23-6-26 7zM2462 1461l26-7-23-8-26 7zM2436 1469l26-8-23-8-26 7zM2410 1476l26-7-23-9-26 6z"/>
<path fill="#0000ef" stroke-width="2.94" d="M1968 1570l26 2-23-13-26-10z"/>
<path fill="#0000ef" d="M1942 1554l26 16-23-21-26-23zM1916 1530l26 24-23-28-26-26z"/>
<path fill="#00f" d="M1890 1508l26 22-23-30-26-20z"/>
<path fill="#0020ff" stroke-width="2.94" d="M1864 1492l26 16-23-28-26-8z"/>
<path fill="#0030ff" stroke-width="1.68" d="M1838 1486l26 6-23-20-26 1zM1812 1488l26-2-23-13-26 7zM1786 1495l26-7-23-8-26 8z"/>
<path fill="#0020ff" stroke-width="1.68" d="M1760 1503l26-8-23-7-26 8zM1734 1511l26-8-23-7-26 8zM1708 1519l26-8-23-7-26 9z"/>
<path fill="#0010ff" stroke-width="1.68" d="M1682 1528l26-9-23-6-26 8zM1656 1536l26-8-23-7-26 8zM1630 1544l26-8-23-7-26 9z"/>
<path fill="#00f" stroke-width="1.68" d="M1604 1552l26-8-23-6-26 8zM1578 1561l26-9-23-6-26 8zM1552 1569l26-8-23-7-26 9z"/>
<path fill="#0000ef" stroke-width="0.76" d="M1552 1569l-23-6-7 2 13 9z"/>
<path fill="#00afff" d="M3499 1152l-4-8-19-36-26-22 23 41z"/>
<path fill="#00bfff" d="M3447 1129l26-2-23-41-26 24z"/>
<path fill="#009fff" d="M3421 1158l26-29-23-19-26 43z"/>
<path fill="#0080ff" stroke-width="2.94" d="M3395 1188l26-30-23-5-26 30z"/>
<path fill="#0060ff" stroke-width="2.94" d="M3369 1208l26-20-23-5-26 17z"/>
<path fill="#0050ff" stroke-width="1.68" d="M3343 1221l26-13-23-8-26 14zM3317 1231l26-10-23-7-26 13z"/>
<path fill="#0040ff" stroke-width="0.76" d="M3291 1239l26-8-23-4-26 7zM3265 1245l26-6-23-5-26 3z"/>
<path fill="#0040ff" stroke-width="1.68" d="M3239 1250l26-5-23-8-26 4z"/>
<path fill="#0040ff" stroke-width="0.76" d="M3213 1254l26-4-23-9-26 1z"/>
<path fill="#0050ff" stroke-width="1.68" d="M3187 1254l26 0-23-12-26-4zM3161 1254l26 0-23-16-26-1zM3135 1256l26-2-23-17-26 1zM3109 1259l26-3-23-18-26 4zM3083 1264l26-5-23-17-26 5zM3057 1269l26-5-23-17-26 7zM3031 1275l26-6-23-15-26 9zM3005 1284l26-9-23-12-26 11z"/>
<path fill="#0040ff" stroke-width="1.68" d="M2979 1293l26-9-23-10-26 11zM2953 1304l26-11-23-8-26 12z"/>
<path fill="#0030ff" stroke-width="1.68" d="M2927 1314l26-10-23-7-26 12zM2901 1324l26-10-23-5-26 12z"/>
<path fill="#0020ff" stroke-width="1.68" d="M2875 1334l26-10-23-3-26 10z"/>
<path fill="#0020ff" stroke-width="0.76" d="M2849 1344l26-10-23-3-26 9z"/>
<path fill="#0010ff" stroke-width="1.68" d="M2823 1353l26-9-23-4-26 9zM2797 1362l26-9-23-4-26 9z"/>
<path fill="#00f" stroke-width="1.68" d="M2771 1371l26-9-23-4-26 9zM2745 1380l26-9-23-4-26 9zM2719 1389l26-9-23-4-26 9z"/>
<path fill="#0000ef" stroke-width="0.76" d="M2693 1398l26-9-23-4-26 8zM2667 1406l26-8-23-5-26 9zM2641 1415l26-9-23-4-26 9zM2615 1424l26-9-23-4-26 9zM2589 1432l26-8-23-4-26 8zM2563 1441l26-9-23-4-26 9zM2537 1450l26-9-23-4-26 8zM2511 1458l26-8-23-5-26 9z"/>
<path fill="#0000ef" stroke-width="1.68" d="M2485 1467l26-9-23-4-26 7zM2459 1475l26-8-23-6-26 8zM2433 1483l26-8-23-6-26 7z"/>
<path fill="#0000ef" stroke-width="2.94" d="M1965 1580l26 6-23-16-26-16z"/>
<path fill="#0000ef" d="M1939 1563l26 17-23-26-26-24zM1913 1541l26 22-23-33-26-22z"/>
<path fill="#00f" d="M1887 1521l26 20-23-33-26-16z"/>
<path fill="#0010ff" stroke-width="2.94" d="M1861 1506l26 15-23-29-26-6z"/>
<path fill="#0020ff" stroke-width="1.68" d="M1835 1501l26 5-23-20-26 2zM1809 1504l26-3-23-13-26 7zM1783 1511l26-7-23-9-26 8zM1757 1518l26-7-23-8-26 8zM1731 1527l26-9-23-7-26 8z"/>
<path fill="#0010ff" stroke-width="1.68" d="M1705 1535l26-8-23-8-26 9zM1679 1543l26-8-23-7-26 8zM1653 1551l26-8-23-7-26 8z"/>
<path fill="#00f" stroke-width="1.68" d="M1627 1559l26-8-23-7-26 8zM1601 1567l26-8-23-7-26 9zM1575 1576l26-9-23-6-26 8z"/>
<path fill="#0000ef" stroke-width="1.68" d="M1575 1576l-23-7-17 5 15 10z"/>
<path fill="#0080ff" d="M3514 1180l-9-15-6-13-26-25 23 43z"/>
<path fill="#009fff" d="M3470 1163l26 7-23-43-26 2z"/>
<path fill="#008fff" d="M3444 1175l26-12-23-34-26 29z"/>
<path fill="#0080ff" stroke-width="2.94" d="M3418 1195l26-20-23-17-26 30z"/>
<path fill="#0060ff" stroke-width="2.94" d="M3392 1214l26-19-23-7-26 20z"/>
<path fill="#0050ff" stroke-width="1.68" d="M3366 1229l26-15-23-6-26 13zM3340 1240l26-11-23-8-26 10z"/>
<path fill="#0040ff" stroke-width="1.68" d="M3314 1248l26-8-23-9-26 8zM3288 1255l26-7-23-9-26 6zM3262 1262l26-7-23-10-26 5zM3236 1267l26-5-23-12-26 4zM3210 1269l26-2-23-13-26 0zM3184 1271l26-2-23-15-26 0zM3158 1272l26-1-23-17-26 2z"/>
<path fill="#0050ff" stroke-width="1.68" d="M3132 1275l26-3-23-16-26 3zM3106 1279l26-4-23-16-26 5zM3080 1283l26-4-23-15-26 5z"/>
<path fill="#0040ff" stroke-width="1.68" d="M3054 1288l26-5-23-14-26 6zM3028 1295l26-7-23-13-26 9zM3002 1303l26-8-23-11-26 9zM2976 1311l26-8-23-10-26 11z"/>
<path fill="#0030ff" stroke-width="1.68" d="M2950 1321l26-10-23-7-26 10zM2924 1330l26-9-23-7-26 10z"/>
<path fill="#0020ff" stroke-width="1.68" d="M2898 1340l26-10-23-6-26 10zM2872 1349l26-9-23-6-26 10z"/>
<path fill="#0010ff" stroke-width="1.68" d="M2846 1358l26-9-23-5-26 9zM2820 1367l26-9-23-5-26 9zM2794 1376l26-9-23-5-26 9z"/>
<path fill="#00f" stroke-width="1.68" d="M2768 1385l26-9-23-5-26 9zM2742 1393l26-8-23-5-26 9z"/>
<path fill="#0000ef" stroke-width="1.68" d="M2716 1402l26-9-23-4-26 9z"/>
<path fill="#0000ef" stroke-width="0.76" d="M2690 1411l26-9-23-4-26 8zM2664 1419l26-8-23-5-26 9zM2638 1428l26-9-23-4-26 9zM2612 1436l26-8-23-4-26 8zM2586 1445l26-9-23-4-26 9zM2560 1454l26-9-23-4-26 9zM2534 1462l26-8-23-4-26 8zM2508 1471l26-9-23-4-26 9zM2482 1480l26-9-23-4-26 8z"/>
<path fill="#0000ef" d="M1936 1575l26 17-23-29-26-22zM1910 1554l26 21-23-34-26-20z"/>
<path fill="#00f" d="M1884 1534l26 20-23-33-26-15z"/>
<path fill="#0010ff" stroke-width="2.94" d="M1858 1520l26 14-23-28-26-5z"/>
<path fill="#0020ff" stroke-width="1.68" d="M1832 1516l26 4-23-19-26 3zM1806 1519l26-3-23-12-26 7zM1780 1526l26-7-23-8-26 7zM1754 1534l26-8-23-8-26 9z"/>
<path fill="#0010ff" stroke-width="1.68" d="M1728 1542l26-8-23-7-26 8zM1702 1550l26-8-23-7-26 8zM1676 1558l26-8-23-7-26 8z"/>
<path fill="#00f" stroke-width="1.68" d="M1650 1567l26-9-23-7-26 8zM1624 1575l26-8-23-8-26 8zM1598 1583l26-8-23-8-26 9z"/>
<path fill="#0000ef" stroke-width="1.68" d="M1598 1583l-23-7-25 8 0 0 6 2 16 5z"/>
<path fill="#0070ff" stroke-width="2.94" d="M3524 1197l-10-17-18-10 23 27zM3493 1194l26 3-23-27-26-7z"/>
<path fill="#0080ff" stroke-width="2.94" d="M3467 1197l26-3-23-31-26 12z"/>
<path fill="#0070ff" stroke-width="2.94" d="M3441 1206l26-9-23-22-26 20z"/>
<path fill="#0060ff" stroke-width="2.94" d="M3415 1220l26-14-23-11-26 19z"/>
<path fill="#0050ff" stroke-width="1.68" d="M3389 1235l26-15-23-6-26 15zM3363 1248l26-13-23-6-26 11z"/>
<path fill="#0040ff" stroke-width="1.68" d="M3337 1258l26-10-23-8-26 8zM3311 1266l26-8-23-10-26 7z"/>
<path fill="#0030ff" stroke-width="1.68" d="M3285 1273l26-7-23-11-26 7zM3259 1279l26-6-23-11-26 5zM3233 1283l26-4-23-12-26 2zM3207 1285l26-2-23-14-26 2z"/>
<path fill="#0040ff" stroke-width="1.68" d="M3181 1287l26-2-23-14-26 1zM3155 1289l26-2-23-15-26 3zM3129 1293l26-4-23-14-26 4zM3103 1297l26-4-23-14-26 4zM3077 1301l26-4-23-14-26 5zM3051 1306l26-5-23-13-26 7zM3025 1313l26-7-23-11-26 8z"/>
<path fill="#0030ff" stroke-width="1.68" d="M2999 1320l26-7-23-10-26 8zM2973 1328l26-8-23-9-26 10zM2947 1337l26-9-23-7-26 9z"/>
<path fill="#0020ff" stroke-width="1.68" d="M2921 1346l26-9-23-7-26 10zM2895 1355l26-9-23-6-26 9z"/>
<path fill="#0010ff" stroke-width="1.68" d="M2869 1363l26-8-23-6-26 9zM2843 1372l26-9-23-5-26 9zM2817 1381l26-9-23-5-26 9z"/>
<path fill="#00f" stroke-width="1.68" d="M2791 1389l26-8-23-5-26 9zM2765 1398l26-9-23-4-26 8zM2739 1406l26-8-23-5-26 9z"/>
<path fill="#0000ef" stroke-width="1.68" d="M2713 1415l26-9-23-4-26 9z"/>
<path fill="#0000ef" stroke-width="0.76" d="M2687 1423l26-8-23-4-26 8zM2661 1432l26-9-23-4-26 9zM2635 1441l26-9-23-4-26 8zM2609 1449l26-8-23-5-26 9zM2583 1458l26-9-23-4-26 9zM2557 1466l26-8-23-4-26 8zM2531 1475l26-9-23-4-26 9zM2505 1484l26-9-23-4-26 9zM2479 1492l26-8-23-4-26 8z"/>
<path fill="#0000ef" stroke-width="1.68" d="M2196 1560l-26 5 18 9 27-5z"/>
<path fill="#0000ef" d="M1933 1588l26 17-23-30-26-21zM1907 1567l26 21-23-34-26-20zM1881 1548l26 19-23-33-26-14z"/>
<path fill="#0010ff" stroke-width="2.94" d="M1855 1535l26 13-23-28-26-4z"/>
<path fill="#0010ff" stroke-width="1.68" d="M1829 1531l26 4-23-19-26 3z"/>
<path fill="#0020ff" stroke-width="1.68" d="M1803 1535l26-4-23-12-26 7z"/>
<path fill="#0010ff" stroke-width="1.68" d="M1777 1543l26-8-23-9-26 8zM1751 1550l26-7-23-9-26 8zM1725 1558l26-8-23-8-26 8z"/>
<path fill="#00f" stroke-width="1.68" d="M1699 1566l26-8-23-8-26 8zM1673 1574l26-8-23-8-26 9zM1647 1582l26-8-23-7-26 8zM1621 1590l26-8-23-7-26 8z"/>
<path fill="#0000ef" stroke-width="1.68" d="M1595 1598l26-8-23-7-26 8z"/>
<path fill="#0060ff" stroke-width="1.68" d="M3532 1209l-6-9-7-3-26-3 23 19z"/>
<path fill="#0060ff" stroke-width="2.94" d="M3490 1216l26-3-23-19-26 3zM3464 1221l26-5-23-19-26 9zM3438 1230l26-9-23-15-26 14z"/>
<path fill="#0050ff" stroke-width="1.68" d="M3412 1242l26-12-23-10-26 15z"/>
<path fill="#0040ff" stroke-width="1.68" d="M3386 1254l26-12-23-7-26 13zM3360 1266l26-12-23-6-26 10z"/>
<path fill="#0030ff" stroke-width="1.68" d="M3334 1276l26-10-23-8-26 8zM3308 1283l26-7-23-10-26 7zM3282 1289l26-6-23-10-26 6zM3256 1295l26-6-23-10-26 4zM3230 1298l26-3-23-12-26 2zM3204 1301l26-3-23-13-26 2zM3178 1303l26-2-23-14-26 2zM3152 1306l26-3-23-14-26 4zM3126 1310l26-4-23-13-26 4zM3100 1314l26-4-23-13-26 4zM3074 1318l26-4-23-13-26 5zM3048 1324l26-6-23-12-26 7zM3022 1330l26-6-23-11-26 7zM2996 1337l26-7-23-10-26 8zM2970 1345l26-8-23-9-26 9z"/>
<path fill="#0020ff" stroke-width="1.68" d="M2944 1353l26-8-23-8-26 9zM2918 1361l26-8-23-7-26 9z"/>
<path fill="#0010ff" stroke-width="1.68" d="M2892 1369l26-8-23-6-26 8zM2866 1378l26-9-23-6-26 9zM2840 1386l26-8-23-6-26 9z"/>
<path fill="#00f" stroke-width="1.68" d="M2814 1394l26-8-23-5-26 8zM2788 1403l26-9-23-5-26 9zM2762 1411l26-8-23-5-26 8z"/>
<path fill="#0000ef" stroke-width="1.68" d="M2736 1420l26-9-23-5-26 9zM2710 1428l26-8-23-5-26 8z"/>
<path fill="#0000ef" stroke-width="0.76" d="M2684 1436l26-8-23-5-26 9zM2658 1445l26-9-23-4-26 9zM2632 1453l26-8-23-4-26 8zM2606 1462l26-9-23-4-26 9zM2580 1470l26-8-23-4-26 8zM2554 1479l26-9-23-4-26 9zM2528 1488l26-9-23-4-26 9zM2502 1496l26-8-23-4-26 8zM2297 1551l-26 7 0 0 24-4 22 2zM2141 1587l-26 6 7 3 21-8z"/>
<path fill="#0000ef" d="M1904 1580l26 21-23-34-26-19zM1878 1561l26 19-23-32-26-13z"/>
<path fill="#00f" stroke-width="2.94" d="M1852 1549l26 12-23-26-26-4z"/>
<path fill="#0010ff" stroke-width="1.68" d="M1826 1547l26 2-23-18-26 4zM1800 1552l26-5-23-12-26 8zM1774 1559l26-7-23-9-26 7zM1748 1567l26-8-23-9-26 8z"/>
<path fill="#00f" stroke-width="1.68" d="M1722 1574l26-7-23-9-26 8zM1696 1582l26-8-23-8-26 8zM1670 1590l26-8-23-8-26 8z"/>
<path fill="#0000ef" stroke-width="1.68" d="M1644 1598l26-8-23-8-26 8zM1618 1606l26-8-23-8-26 8z"/>
<path fill="#0000ef" stroke-width="0.76" d="M1618 1606l-23-8-2 1 22 8z"/>
<path fill="#008fff" stroke-width="2.94" d="M3599 1177l-1 3 22-9 23-20-26 8z"/>
<path fill="#0060ff" stroke-width="0.76" d="M3540 1218l-5-3-3-6-16 4 23 6z"/>
<path fill="#0060ff" stroke-width="1.68" d="M3513 1229l26-10-23-6-26 3zM3487 1236l26-7-23-13-26 5z"/>
<path fill="#0050ff" stroke-width="1.68" d="M3461 1243l26-7-23-15-26 9zM3435 1251l26-8-23-13-26 12z"/>
<path fill="#0040ff" stroke-width="1.68" d="M3409 1261l26-10-23-9-26 12zM3383 1273l26-12-23-7-26 12z"/>
<path fill="#0030ff" stroke-width="1.68" d="M3357 1283l26-10-23-7-26 10zM3331 1292l26-9-23-7-26 7zM3305 1299l26-7-23-9-26 6z"/>
<path fill="#0020ff" stroke-width="1.68" d="M3279 1305l26-6-23-10-26 6zM3253 1310l26-5-23-10-26 3zM3227 1313l26-3-23-12-26 3z"/>
<path fill="#0030ff" stroke-width="1.68" d="M3201 1316l26-3-23-12-26 2zM3175 1318l26-2-23-13-26 3zM3149 1322l26-4-23-12-26 4zM3123 1326l26-4-23-12-26 4zM3097 1330l26-4-23-12-26 4zM3071 1334l26-4-23-12-26 6zM3045 1340l26-6-23-10-26 6zM3019 1346l26-6-23-10-26 7z"/>
<path fill="#0020ff" stroke-width="1.68" d="M2993 1353l26-7-23-9-26 8zM2967 1360l26-7-23-8-26 8zM2941 1368l26-8-23-7-26 8z"/>
<path fill="#0010ff" stroke-width="1.68" d="M2915 1376l26-8-23-7-26 8zM2889 1384l26-8-23-7-26 9zM2863 1392l26-8-23-6-26 8zM2837 1400l26-8-23-6-26 8z"/>
<path fill="#00f" stroke-width="1.68" d="M2811 1408l26-8-23-6-26 9zM2785 1416l26-8-23-5-26 8zM2759 1425l26-9-23-5-26 9z"/>
<path fill="#0000ef" stroke-width="1.68" d="M2733 1433l26-8-23-5-26 8zM2707 1441l26-8-23-5-26 8zM2681 1449l26-8-23-5-26 9z"/>
<path fill="#0000ef" stroke-width="0.76" d="M2655 1458l26-9-23-4-26 8zM2629 1466l26-8-23-5-26 9zM2603 1475l26-9-23-4-26 8zM2577 1483l26-8-23-5-26 9zM2551 1492l26-9-23-4-26 9zM2525 1500l26-8-23-4-26 8zM2034 1627l-26 4 8 5 24-6 1 0z"/>
<path fill="#0000ef" d="M1901 1593l26 21-23-34-26-19zM1875 1575l26 18-23-32-26-12z"/>
<path fill="#00f" stroke-width="2.94" d="M1849 1564l26 11-23-26-26-2z"/>
<path fill="#0010ff" stroke-width="1.68" d="M1823 1563l26 1-23-17-26 5zM1797 1568l26-5-23-11-26 7z"/>
<path fill="#00f" stroke-width="1.68" d="M1771 1575l26-7-23-9-26 8zM1745 1583l26-8-23-8-26 7zM1719 1591l26-8-23-9-26 8zM1693 1598l26-7-23-9-26 8z"/>
<path fill="#0000ef" stroke-width="1.68" d="M1667 1606l26-8-23-8-26 8zM1641 1614l26-8-23-8-26 8z"/>
<path fill="#0000ef" stroke-width="0.76" d="M1641 1614l-23-8-3 1 23 8z"/>
<path fill="#00afff" d="M3604 1161l-4 11 17-13 23-31-26 20z"/>
<path fill="#0060ff" stroke-width="1.68" d="M3547 1223l-7-4-1 0-26 10 23 3z"/>
<path fill="#0050ff" stroke-width="1.68" d="M3510 1246l26-14-23-3-26 7zM3484 1254l26-8-23-10-26 7zM3458 1262l26-8-23-11-26 8z"/>
<path fill="#0040ff" stroke-width="1.68" d="M3432 1270l26-8-23-11-26 10zM3406 1280l26-10-23-9-26 12z"/>
<path fill="#0030ff" stroke-width="1.68" d="M3380 1290l26-10-23-7-26 10zM3354 1299l26-9-23-7-26 9z"/>
<path fill="#0020ff" stroke-width="1.68" d="M3328 1308l26-9-23-7-26 7zM3302 1315l26-7-23-9-26 6zM3276 1320l26-5-23-10-26 5zM3250 1325l26-5-23-10-26 3zM3224 1328l26-3-23-12-26 3zM3198 1330l26-2-23-12-26 2zM3172 1333l26-3-23-12-26 4zM3146 1337l26-4-23-11-26 4zM3120 1341l26-4-23-11-26 4zM3094 1345l26-4-23-11-26 4zM3068 1350l26-5-23-11-26 6zM3042 1355l26-5-23-10-26 6zM3016 1361l26-6-23-9-26 7zM2990 1368l26-7-23-8-26 7zM2964 1375l26-7-23-8-26 8z"/>
<path fill="#0010ff" stroke-width="1.68" d="M2938 1382l26-7-23-7-26 8zM2912 1390l26-8-23-6-26 8zM2886 1398l26-8-23-6-26 8zM2860 1406l26-8-23-6-26 8z"/>
<path fill="#00f" stroke-width="1.68" d="M2834 1414l26-8-23-6-26 8zM2808 1422l26-8-23-6-26 8zM2782 1430l26-8-23-6-26 9z"/>
<path fill="#0000ef" stroke-width="1.68" d="M2756 1438l26-8-23-5-26 8zM2730 1446l26-8-23-5-26 8zM2704 1454l26-8-23-5-26 8zM2678 1462l26-8-23-5-26 9z"/>
<path fill="#0000ef" stroke-width="0.76" d="M2652 1471l26-9-23-4-26 8zM2626 1479l26-8-23-5-26 9zM2600 1488l26-9-23-4-26 8zM2574 1496l26-8-23-5-26 9zM2548 1505l26-9-23-4-26 8zM2392 1556l-23-4-20 7 16 1 7 3z"/>
<path fill="#0000ef" d="M1872 1588l26 18-23-31-26-11z"/>
<path fill="#00f" stroke-width="2.94" d="M1846 1578l26 10-23-24-26-1z"/>
<path fill="#00f" stroke-width="1.68" d="M1820 1578l26 0-23-15-26 5zM1794 1584l26-6-23-10-26 7zM1768 1592l26-8-23-9-26 8zM1742 1599l26-7-23-9-26 8z"/>
<path fill="#0000ef" stroke-width="1.68" d="M1716 1607l26-8-23-8-26 7zM1690 1615l26-8-23-9-26 8zM1664 1622l26-7-23-9-26 8z"/>
<path fill="#0000ef" stroke-width="0.76" d="M1664 1622l-23-8-3 1 23 8z"/>
<path fill="#00bfff" d="M3607 1153l-3 7 10-12 23-38-26 37z"/>
<path fill="#0070ff" stroke-width="0.76" d="M3536 1232l17-5-6-4z"/>
<path fill="#0060ff" stroke-width="1.68" d="M3555 1228l-2-1-17 5-26 14 23 1z"/>
<path fill="#0050ff" stroke-width="1.68" d="M3507 1261l26-14-23-1-26 8z"/>
<path fill="#0040ff" stroke-width="1.68" d="M3481 1271l26-10-23-7-26 8zM3455 1280l26-9-23-9-26 8zM3429 1288l26-8-23-10-26 10z"/>
<path fill="#0030ff" stroke-width="1.68" d="M3403 1297l26-9-23-8-26 10zM3377 1306l26-9-23-7-26 9z"/>
<path fill="#0020ff" stroke-width="1.68" d="M3351 1315l26-9-23-7-26 9zM3325 1323l26-8-23-7-26 7zM3299 1329l26-6-23-8-26 5zM3273 1335l26-6-23-9-26 5zM3247 1339l26-4-23-10-26 3zM3221 1342l26-3-23-11-26 2zM3195 1345l26-3-23-12-26 3zM3169 1348l26-3-23-12-26 4zM3143 1352l26-4-23-11-26 4zM3117 1356l26-4-23-11-26 4zM3091 1360l26-4-23-11-26 5zM3065 1365l26-5-23-10-26 5zM3039 1370l26-5-23-10-26 6zM3013 1376l26-6-23-9-26 7zM2987 1383l26-7-23-8-26 7z"/>
<path fill="#0010ff" stroke-width="1.68" d="M2961 1390l26-7-23-8-26 7zM2935 1397l26-7-23-8-26 8zM2909 1404l26-7-23-7-26 8zM2883 1412l26-8-23-6-26 8z"/>
<path fill="#00f" stroke-width="1.68" d="M2857 1419l26-7-23-6-26 8zM2831 1427l26-8-23-5-26 8zM2805 1435l26-8-23-5-26 8z"/>
<path fill="#0000ef" stroke-width="1.68" d="M2779 1443l26-8-23-5-26 8zM2753 1451l26-8-23-5-26 8zM2727 1459l26-8-23-5-26 8zM2701 1467l26-8-23-5-26 8zM2675 1476l26-9-23-5-26 9zM2649 1484l26-8-23-5-26 8z"/>
<path fill="#0000ef" stroke-width="0.76" d="M2623 1492l26-8-23-5-26 9zM2597 1501l26-9-23-4-26 8zM2571 1509l26-8-23-5-26 9zM2415 1560l-23-4-20 7 17 6z"/>
<path fill="#0000ef" stroke-width="2.94" d="M1869 1590l26 16-23-18-26-10z"/>
<path fill="#00f" stroke-width="0.76" d="M1843 1586l26 4-23-12-26 0z"/>
<path fill="#00f" stroke-width="1.68" d="M1817 1592l26-6-23-8-26 6zM1791 1601l26-9-23-8-26 8z"/>
<path fill="#0000ef" stroke-width="1.68" d="M1765 1608l26-7-23-9-26 7zM1739 1616l26-8-23-9-26 8zM1713 1623l26-7-23-9-26 8zM1687 1631l26-8-23-8-26 7z"/>
<path fill="#0000ef" stroke-width="0.76" d="M1687 1631l-23-9-3 1 24 9z"/>
<path fill="#00bfff" d="M3634 1108l-23 39-5 8-5 14 7-8z"/>
<path fill="#0070ff" stroke-width="1.68" d="M3562 1233l-7-5-22 19 23-7z"/>
<path fill="#0050ff" stroke-width="1.68" d="M3530 1261l26-21-23 7-26 14z"/>
<path fill="#0040ff" stroke-width="1.68" d="M3504 1275l26-14-23 0-26 10zM3478 1287l26-12-23-4-26 9z"/>
<path fill="#0030ff" stroke-width="1.68" d="M3452 1296l26-9-23-7-26 8zM3426 1304l26-8-23-8-26 9zM3400 1313l26-9-23-7-26 9z"/>
<path fill="#0020ff" stroke-width="1.68" d="M3374 1322l26-9-23-7-26 9zM3348 1330l26-8-23-7-26 8zM3322 1338l26-8-23-7-26 6z"/>
<path fill="#0010ff" stroke-width="1.68" d="M3296 1344l26-6-23-9-26 6zM3270 1349l26-5-23-9-26 4zM3244 1353l26-4-23-10-26 3zM3218 1356l26-3-23-11-26 3z"/>
<path fill="#0020ff" stroke-width="1.68" d="M3192 1359l26-3-23-11-26 3zM3166 1362l26-3-23-11-26 4zM3140 1366l26-4-23-10-26 4zM3114 1371l26-5-23-10-26 4zM3088 1375l26-4-23-11-26 5zM3062 1380l26-5-23-10-26 5zM3036 1385l26-5-23-10-26 6z"/>
<path fill="#0010ff" stroke-width="1.68" d="M3010 1391l26-6-23-9-26 7zM2984 1397l26-6-23-8-26 7zM2958 1404l26-7-23-7-26 7zM2932 1411l26-7-23-7-26 7zM2906 1418l26-7-23-7-26 8z"/>
<path fill="#00f" stroke-width="1.68" d="M2880 1426l26-8-23-6-26 7zM2854 1433l26-7-23-7-26 8zM2828 1441l26-8-23-6-26 8z"/>
<path fill="#0000ef" stroke-width="1.68" d="M2802 1449l26-8-23-6-26 8zM2776 1456l26-7-23-6-26 8zM2750 1464l26-8-23-5-26 8zM2724 1472l26-8-23-5-26 8zM2698 1480l26-8-23-5-26 9zM2672 1489l26-9-23-4-26 8zM2646 1497l26-8-23-5-26 8z"/>
<path fill="#0000ef" stroke-width="0.76" d="M2620 1505l26-8-23-5-26 9zM2412 1573l-23-4 17 6z"/>
<path fill="#0000ef" stroke-width="2.94" d="M1921 1629l26 24 6 3 8-3-17-20z"/>
<path fill="#00f" stroke-width="1.68" d="M1840 1596l26-15-23 5-26 6zM1814 1609l26-13-23-4-26 9z"/>
<path fill="#0000ef" stroke-width="1.68" d="M1788 1617l26-8-23-8-26 7zM1762 1625l26-8-23-9-26 8zM1736 1632l26-7-23-9-26 7zM1710 1640l26-8-23-9-26 8z"/>
<path fill="#0ff" d="M3631 1122l26-52-23 38-26 53z"/>
<path fill="#00bfff" d="M3605 1181l26-59-23 39-26 48z"/>
<path fill="#0080ff" d="M3579 1226l26-45-23 28-26 31z"/>
<path fill="#0060ff" stroke-width="2.94" d="M3553 1255l26-29-23 14-26 21z"/>
<path fill="#0050ff" stroke-width="1.68" d="M3527 1274l26-19-23 6-26 14z"/>
<path fill="#0040ff" stroke-width="1.68" d="M3501 1289l26-15-23 1-26 12z"/>
<path fill="#0030ff" stroke-width="1.68" d="M3475 1301l26-12-23-2-26 9zM3449 1311l26-10-23-5-26 8zM3423 1320l26-9-23-7-26 9z"/>
<path fill="#0020ff" stroke-width="1.68" d="M3397 1328l26-8-23-7-26 9zM3371 1337l26-9-23-6-26 8zM3345 1345l26-8-23-7-26 8z"/>
<path fill="#0010ff" stroke-width="1.68" d="M3319 1352l26-7-23-7-26 6zM3293 1358l26-6-23-8-26 5zM3267 1363l26-5-23-9-26 4zM3241 1366l26-3-23-10-26 3zM3215 1369l26-3-23-10-26 3zM3189 1373l26-4-23-10-26 3zM3163 1376l26-3-23-11-26 4zM3137 1381l26-5-23-10-26 5zM3111 1385l26-4-23-10-26 4zM3085 1389l26-4-23-10-26 5zM3059 1394l26-5-23-9-26 5zM3033 1400l26-6-23-9-26 6zM3007 1405l26-5-23-9-26 6zM2981 1412l26-7-23-8-26 7zM2955 1418l26-6-23-8-26 7z"/>
<path fill="#00f" stroke-width="1.68" d="M2903 1432l26-7-23-7-26 8zM2877 1439l26-7-23-6-26 7zM2851 1447l26-8-23-6-26 8z"/>
<path fill="#0000ef" stroke-width="1.68" d="M2825 1454l26-7-23-6-26 8zM2799 1462l26-8-23-5-26 7zM2773 1470l26-8-23-6-26 8zM2747 1478l26-8-23-6-26 8zM2721 1486l26-8-23-6-26 8zM2695 1494l26-8-23-6-26 9z"/>
<path fill="#0000ef" stroke-width="2.94" d="M1944 1633l17 20 20-7-14-19z"/>
<path fill="#0010ff" stroke-width="2.94" d="M1863 1598l26-26-23 9-26 15z"/>
<path fill="#00f" stroke-width="2.94" d="M1837 1618l26-20-23-2-26 13z"/>
<path fill="#0000ef" stroke-width="1.68" d="M1811 1627l26-9-23-9-26 8zM1785 1634l26-7-23-10-26 8zM1759 1641l26-7-23-9-26 7zM1759 1641l-23-9-26 8 12 4 14 3z"/>
<path fill="#30ffcf" d="M3653 1084l27-46-23 32-26 52z"/>
<path fill="#00efff" d="M3628 1147l25-63-22 38-26 59z"/>
<path fill="#00afff" d="M3602 1204l26-57-23 34-26 45z"/>
<path fill="#0080ff" d="M3576 1245l26-41-23 22-26 29z"/>
<path fill="#0060ff" stroke-width="2.94" d="M3550 1270l26-25-23 10-26 19z"/>
<path fill="#0050ff" stroke-width="1.68" d="M3523 1288l27-18-23 4-26 15z"/>
<path fill="#0040ff" stroke-width="1.68" d="M3497 1302l26-14-22 1-26 12z"/>
<path fill="#0030ff" stroke-width="1.68" d="M3472 1315l25-13-22-1-26 10zM3446 1325l26-10-23-4-26 9z"/>
<path fill="#0020ff" stroke-width="1.68" d="M3420 1334l26-9-23-5-26 8zM3393 1343l27-9-23-6-26 9zM3367 1351l26-8-22-6-26 8z"/>
<path fill="#0010ff" stroke-width="1.68" d="M3342 1359l25-8-22-6-26 7zM3316 1366l26-7-23-7-26 6zM3290 1372l26-6-23-8-26 5zM3263 1377l27-5-23-9-26 3zM3238 1380l25-3-22-11-26 3zM3212 1383l26-3-23-11-26 4zM3186 1387l26-4-23-10-26 3zM3160 1390l26-3-23-11-26 5zM3133 1395l27-5-23-9-26 4zM3108 1399l25-4-22-10-26 4zM3082 1403l26-4-23-10-26 5zM3056 1408l26-5-23-9-26 6zM3030 1414l26-6-23-8-26 5z"/>
<path fill="#0000ef" stroke-width="1.68" d="M2822 1468l26-8-23-6-26 8zM2796 1475l26-7-23-6-26 8z"/>
<path fill="#0000ef" stroke-width="2.94" d="M1967 1627l14 19 16-6 10-2-17-20z"/>
<path fill="#0020ff" stroke-width="0.76" d="M1911 1573l27-11-23 5-26 5z"/>
<path fill="#0010ff" stroke-width="2.94" d="M1886 1607l25-34-22-1-26 26z"/>
<path fill="#00f" stroke-width="2.94" d="M1860 1632l26-25-23-9-26 20z"/>
<path fill="#0000ef" stroke-width="1.68" d="M1834 1640l26-8-23-14-26 9zM1808 1644l26-4-23-13-26 7zM1781 1650l27-6-23-10-26 7z"/>
<path fill="#0000ef" stroke-width="0.76" d="M1781 1650l-22-9-23 6 32 7z"/>
<path fill="#60ff9f" d="M3676 1053l26-37-22 22-27 46z"/>
<path fill="#20ffdf" d="M3650 1114l26-61-23 31-25 63z"/>
<path fill="#00dfff" d="M3624 1177l26-63-22 33-26 57z"/>
<path fill="#009fff" d="M3598 1230l26-53-22 27-26 41z"/>
<path fill="#0070ff" d="M3572 1264l26-34-22 15-26 25z"/>
<path fill="#0050ff" stroke-width="2.94" d="M3546 1286l26-22-22 6-27 18z"/>
<path fill="#0040ff" stroke-width="1.68" d="M3520 1302l26-16-23 2-26 14zM3494 1316l26-14-23 0-25 13z"/>
<path fill="#0030ff" stroke-width="1.68" d="M3468 1328l26-12-22-1-26 10z"/>
<path fill="#0020ff" stroke-width="1.68" d="M3442 1338l26-10-22-3-26 9zM3416 1348l26-10-22-4-27 9zM3390 1357l26-9-23-5-26 8z"/>
<path fill="#0010ff" stroke-width="1.68" d="M3364 1365l26-8-23-6-25 8zM3338 1373l26-8-22-6-26 7zM3312 1380l26-7-22-7-26 6zM3286 1386l26-6-22-8-27 5zM3260 1390l26-4-23-9-25 3zM3234 1393l26-3-22-10-26 3zM3208 1397l26-4-22-10-26 4zM3182 1400l26-3-22-10-26 3zM3156 1404l26-4-22-10-27 5zM3130 1408l26-4-23-9-25 4zM3104 1413l26-5-22-9-26 4zM3078 1417l26-4-22-10-26 5zM3052 1422l26-5-22-9-26 6z"/>
<path fill="#0000ef" stroke-width="2.94" d="M1990 1618l17 20 19-5 12-15-26-17z"/>
<path fill="#0030ff" stroke-width="1.68" d="M1934 1579l26-19-22 2-27 11z"/>
<path fill="#0010ff" d="M1908 1619l26-40-23-6-25 34z"/>
<path fill="#0000ef" d="M1882 1650l26-31-22-12-26 25z"/>
<path fill="#0000ef" stroke-width="2.94" d="M1856 1657l26-7-22-18-26 8z"/>
<path fill="#0000ef" stroke-width="1.68" d="M1830 1656l26 1-22-17-26 4zM1804 1660l26-4-22-12-27 6z"/>
<path fill="#0000ef" stroke-width="0.76" d="M1804 1660l-23-10-13 4 34 7z"/>
<path fill="#8fff70" d="M3699 1030l26-29-23 15-26 37z"/>
<path fill="#50ffaf" d="M3673 1086l26-56-23 23-26 61z"/>
<path fill="#10ffef" d="M3647 1150l26-64-23 28-26 63z"/>
<path fill="#00bfff" d="M3621 1210l26-60-23 27-26 53z"/>
<path fill="#008fff" d="M3595 1255l26-45-23 20-26 34z"/>
<path fill="#0060ff" stroke-width="2.94" d="M3569 1282l26-27-23 9-26 22z"/>
<path fill="#0050ff" stroke-width="1.68" d="M3543 1301l26-19-23 4-26 16z"/>
<path fill="#0040ff" stroke-width="1.68" d="M3517 1316l26-15-23 1-26 14z"/>
<path fill="#0030ff" stroke-width="1.68" d="M3491 1329l26-13-23 0-26 12zM3465 1341l26-12-23-1-26 10z"/>
<path fill="#0020ff" stroke-width="0.76" d="M3439 1351l26-10-23-3-26 10zM3413 1361l26-10-23-3-26 9z"/>
<path fill="#0010ff" stroke-width="1.68" d="M3387 1370l26-9-23-4-26 8zM3361 1379l26-9-23-5-26 8zM3335 1387l26-8-23-6-26 7z"/>
<path fill="#00f" stroke-width="1.68" d="M3309 1394l26-7-23-7-26 6zM3283 1399l26-5-23-8-26 4zM3257 1403l26-4-23-9-26 3zM3231 1407l26-4-23-10-26 4zM3205 1410l26-3-23-10-26 3zM3179 1414l26-4-23-10-26 4zM3153 1418l26-4-23-10-26 4zM3127 1422l26-4-23-10-26 5zM3101 1427l26-5-23-9-26 4zM3075 1431l26-4-23-10-26 5z"/>
<path fill="#0000ef" d="M2038 1618l13 7 24-10 12-19-26-14z"/>
<path fill="#0030ff" stroke-width="2.94" d="M1957 1583l26-26-23 3-26 19z"/>
<path fill="#0010ff" d="M1931 1626l26-43-23-4-26 40z"/>
<path fill="#0000ef" d="M1905 1662l26-36-23-7-26 31z"/>
<path fill="#0000ef" stroke-width="1.68" d="M1905 1662l-23-12-26 7 13 11 28-2z"/>
<path fill="#0000ef" stroke-width="0.76" d="M1856 1657l-26-1 17 13 22-1zM1830 1656l-26 4 5 2 31 7 7 0z"/>
<path fill="#afff50" d="M3722 1009l26-22-23 14-26 29z"/>
<path fill="#80ff80" d="M3696 1062l26-53-23 21-26 56z"/>
<path fill="#30ffcf" d="M3670 1125l26-63-23 24-26 64z"/>
<path fill="#00efff" d="M3644 1188l26-63-23 25-26 60z"/>
<path fill="#009fff" d="M3618 1242l26-54-23 22-26 45z"/>
<path fill="#0070ff" stroke-width="2.94" d="M3592 1278l26-36-23 13-26 27z"/>
<path fill="#0060ff" stroke-width="2.94" d="M3566 1300l26-22-23 4-26 19z"/>
<path fill="#0050ff" stroke-width="1.68" d="M3540 1316l26-16-23 1-26 15z"/>
<path fill="#0040ff" stroke-width="1.68" d="M3514 1330l26-14-23 0-26 13z"/>
<path fill="#0030ff" stroke-width="1.68" d="M3488 1343l26-13-23-1-26 12z"/>
<path fill="#0020ff" stroke-width="0.76" d="M3462 1354l26-11-23-2-26 10zM3436 1364l26-10-23-3-26 10z"/>
<path fill="#0010ff" stroke-width="0.76" d="M3410 1374l26-10-23-3-26 9zM3384 1383l26-9-23-4-26 9zM3358 1391l26-8-23-4-26 8z"/>
<path fill="#00f" stroke-width="0.76" d="M3332 1399l26-8-23-4-26 7zM3306 1407l26-8-23-5-26 5zM3280 1412l26-5-23-8-26 4z"/>
<path fill="#00f" stroke-width="1.68" d="M3254 1416l26-4-23-9-26 4zM3228 1420l26-4-23-9-26 3zM3202 1423l26-3-23-10-26 4zM3176 1427l26-4-23-9-26 4zM3150 1432l26-5-23-9-26 4zM3124 1436l26-4-23-10-26 5zM3098 1440l26-4-23-9-26 4z"/>
<path fill="#00f" d="M2087 1596l12 9 11-5 23-8 3-4-26-26z"/>
<path fill="#0040ff" stroke-width="2.94" d="M1980 1578l26-32-23 11-26 26z"/>
<path fill="#0020ff" d="M1954 1620l26-42-23 5-26 43z"/>
<path fill="#0000ef" d="M1928 1660l26-40-23 6-26 36z"/>
<path fill="#0000ef" stroke-width="0.76" d="M1928 1660l-23 2-8 4 27-1z"/>
<path fill="#bfff40" stroke-width="2.94" d="M3745 996l26-18-23 9-26 22z"/>
<path fill="#9fff60" d="M3719 1043l26-47-23 13-26 53z"/>
<path fill="#60ff9f" d="M3693 1102l26-59-23 19-26 63z"/>
<path fill="#10ffef" d="M3667 1165l26-63-23 23-26 63z"/>
<path fill="#00bfff" d="M3641 1225l26-60-23 23-26 54z"/>
<path fill="#008fff" d="M3615 1270l26-45-23 17-26 36z"/>
<path fill="#0060ff" stroke-width="2.94" d="M3589 1298l26-28-23 8-26 22z"/>
<path fill="#0050ff" stroke-width="1.68" d="M3563 1316l26-18-23 2-26 16z"/>
<path fill="#0040ff" stroke-width="1.68" d="M3537 1331l26-15-23 0-26 14z"/>
<path fill="#0030ff" stroke-width="1.68" d="M3511 1344l26-13-23-1-26 13zM3485 1356l26-12-23-1-26 11z"/>
<path fill="#0020ff" stroke-width="1.68" d="M3459 1367l26-11-23-2-26 10z"/>
<path fill="#0020ff" stroke-width="0.76" d="M3433 1377l26-10-23-3-26 10z"/>
<path fill="#0010ff" stroke-width="0.76" d="M3407 1386l26-9-23-3-26 9zM3381 1395l26-9-23-3-26 8zM3355 1404l26-9-23-4-26 8z"/>
<path fill="#00f" stroke-width="0.76" d="M3329 1412l26-8-23-5-26 8zM3303 1419l26-7-23-5-26 5zM3277 1425l26-6-23-7-26 4z"/>
<path fill="#00f" stroke-width="1.68" d="M3251 1429l26-4-23-9-26 4zM3225 1433l26-4-23-9-26 3zM3199 1437l26-4-23-10-26 4zM3173 1441l26-4-23-10-26 5zM3147 1445l26-4-23-9-26 4zM3121 1449l26-4-23-9-26 4z"/>
<path fill="#0060ff" d="M2003 1564l26-37-23 19-26 32z"/>
<path fill="#0030ff" d="M1977 1607l26-43-23 14-26 42z"/>
<path fill="#00f" d="M1951 1651l26-44-23 13-26 40z"/>
<path fill="#0000ef" stroke-width="1.68" d="M1951 1651l-23 9-4 5 6 0 16-6z"/>
<path fill="#cfff30" stroke-width="2.94" d="M3768 1001l26-21-23-2-26 18z"/>
<path fill="#afff50" d="M3742 1038l26-37-23-5-26 47z"/>
<path fill="#70ff8f" d="M3716 1087l26-49-23 5-26 59z"/>
<path fill="#30ffcf" d="M3690 1145l26-58-23 15-26 63z"/>
<path fill="#00efff" d="M3664 1205l26-60-23 20-26 60z"/>
<path fill="#009fff" d="M3638 1258l26-53-23 20-26 45z"/>
<path fill="#0080ff" stroke-width="2.94" d="M3612 1293l26-35-23 12-26 28z"/>
<path fill="#0060ff" stroke-width="2.94" d="M3586 1316l26-23-23 5-26 18z"/>
<path fill="#0050ff" stroke-width="1.68" d="M3560 1332l26-16-23 0-26 15z"/>
<path fill="#0040ff" stroke-width="1.68" d="M3534 1346l26-14-23-1-26 13z"/>
<path fill="#0030ff" stroke-width="1.68" d="M3508 1359l26-13-23-2-26 12z"/>
<path fill="#0020ff" stroke-width="1.68" d="M3482 1370l26-11-23-3-26 11zM3456 1380l26-10-23-3-26 10z"/>
<path fill="#0020ff" stroke-width="0.76" d="M3430 1389l26-9-23-3-26 9z"/>
<path fill="#0010ff" stroke-width="0.76" d="M3404 1398l26-9-23-3-26 9zM3378 1407l26-9-23-3-26 9z"/>
<path fill="#00f" stroke-width="0.76" d="M3352 1416l26-9-23-3-26 8zM3326 1424l26-8-23-4-26 7zM3300 1431l26-7-23-5-26 6zM3274 1438l26-7-23-6-26 4z"/>
<path fill="#00f" stroke-width="1.68" d="M3248 1442l26-4-23-9-26 4zM3222 1446l26-4-23-9-26 4zM3196 1450l26-4-23-9-26 4zM3170 1454l26-4-23-9-26 4zM3144 1458l26-4-23-9-26 4z"/>
<path fill="#0020ff" stroke-width="2.94" d="M2159 1565l11 14 10-4 18-3-16-22z"/>
<path fill="#009fff" d="M2052 1510l26-33-23 26-26 24z"/>
<path fill="#0070ff" d="M2026 1553l26-43-23 17-26 37z"/>
<path fill="#0040ff" d="M2000 1598l26-45-23 11-26 43z"/>
<path fill="#0010ff" d="M1974 1645l26-47-23 9-26 44z"/>
<path fill="#0000ef" stroke-width="1.68" d="M1974 1645l-23 6-5 8 25-9z"/>
<path fill="#cfff30" stroke-width="0.76" d="M3843 985l26 1-23 6-26-12z"/>
<path fill="#dfff20" stroke-width="1.68" d="M3817 996l26-11-23-5-26 0z"/>
<path fill="#cfff30" stroke-width="2.94" d="M3791 1019l26-23-23-16-26 21z"/>
<path fill="#afff50" d="M3765 1051l26-32-23-18-26 37z"/>
<path fill="#80ff80" d="M3739 1088l26-37-23-13-26 49z"/>
<path fill="#40ffbf" d="M3713 1134l26-46-23-1-26 58z"/>
<path fill="#0ff" d="M3687 1188l26-54-23 11-26 60z"/>
<path fill="#00bfff" d="M3661 1243l26-55-23 17-26 53z"/>
<path fill="#008fff" d="M3635 1287l26-44-23 15-26 35z"/>
<path fill="#0070ff" stroke-width="2.94" d="M3609 1314l26-27-23 6-26 23z"/>
<path fill="#0050ff" stroke-width="1.68" d="M3583 1332l26-18-23 2-26 16z"/>
<path fill="#0040ff" stroke-width="1.68" d="M3557 1348l26-16-23 0-26 14z"/>
<path fill="#0030ff" stroke-width="1.68" d="M3531 1361l26-13-23-2-26 13zM3505 1372l26-11-23-2-26 11z"/>
<path fill="#0020ff" stroke-width="1.68" d="M3479 1383l26-11-23-2-26 10z"/>
<path fill="#0020ff" stroke-width="0.76" d="M3453 1393l26-10-23-3-26 9z"/>
<path fill="#0010ff" stroke-width="0.76" d="M3427 1402l26-9-23-4-26 9zM3401 1411l26-9-23-4-26 9zM3375 1420l26-9-23-4-26 9z"/>
<path fill="#00f" stroke-width="0.76" d="M3349 1428l26-8-23-4-26 8zM3323 1436l26-8-23-4-26 7zM3297 1444l26-8-23-5-26 7zM3271 1450l26-6-23-6-26 4z"/>
<path fill="#0000ef" stroke-width="0.76" d="M3245 1455l26-5-23-8-26 4z"/>
<path fill="#0000ef" stroke-width="1.68" d="M3219 1459l26-4-23-9-26 4zM3193 1464l26-5-23-9-26 4zM3167 1468l26-4-23-10-26 4z"/>
<path fill="#0040ff" stroke-width="2.94" d="M2182 1550l16 22 28-5-21-29z"/>
<path fill="#00bfff" d="M2075 1507l26-41-23 11-26 33z"/>
<path fill="#008fff" d="M2049 1553l26-46-23 3-26 43z"/>
<path fill="#0050ff" d="M2023 1600l26-47-23 0-26 45z"/>
<path fill="#0020ff" d="M2023 1600l-23-2-26 47 7 1 16-6 5-1z"/>
<path fill="#cfff30" stroke-width="0.76" d="M3892 993l26 1-23 3-26-11z"/>
<path fill="#cfff30" stroke-width="1.68" d="M3866 1003l26-10-23-7-26-1z"/>
<path fill="#cfff30" stroke-width="2.94" d="M3840 1022l26-19-23-18-26 11z"/>
<path fill="#afff50" d="M3814 1045l26-23-23-26-26 23z"/>
<path fill="#9fff60" d="M3788 1072l26-27-23-26-26 32z"/>
<path fill="#70ff8f" d="M3762 1103l26-31-23-21-26 37z"/>
<path fill="#50ffaf" d="M3736 1140l26-37-23-15-26 46z"/>
<path fill="#10ffef" d="M3710 1183l26-43-23-6-26 54z"/>
<path fill="#00dfff" d="M3684 1233l26-50-23 5-26 55z"/>
<path fill="#009fff" d="M3658 1280l26-47-23 10-26 44z"/>
<path fill="#0070ff" stroke-width="2.94" d="M3632 1312l26-32-23 7-26 27z"/>
<path fill="#0060ff" stroke-width="1.68" d="M3606 1332l26-20-23 2-26 18z"/>
<path fill="#0050ff" stroke-width="1.68" d="M3580 1349l26-17-23 0-26 16z"/>
<path fill="#0040ff" stroke-width="1.68" d="M3554 1363l26-14-23-1-26 13z"/>
<path fill="#0030ff" stroke-width="1.68" d="M3528 1375l26-12-23-2-26 11zM3502 1386l26-11-23-3-26 11z"/>
<path fill="#0020ff" stroke-width="1.68" d="M3476 1396l26-10-23-3-26 10z"/>
<path fill="#0020ff" stroke-width="0.76" d="M3450 1406l26-10-23-3-26 9z"/>
<path fill="#0010ff" stroke-width="0.76" d="M3424 1415l26-9-23-4-26 9zM3398 1423l26-8-23-4-26 9z"/>
<path fill="#00f" stroke-width="0.76" d="M3372 1432l26-9-23-3-26 8zM3346 1440l26-8-23-4-26 8zM3320 1448l26-8-23-4-26 8zM3294 1456l26-8-23-4-26 6z"/>
<path fill="#0000ef" stroke-width="0.76" d="M3268 1463l26-7-23-6-26 5zM3242 1468l26-5-23-8-26 4z"/>
<path fill="#0000ef" stroke-width="1.68" d="M3216 1473l26-5-23-9-26 5zM3190 1477l26-4-23-9-26 4z"/>
<path fill="#0050ff" d="M2205 1538l21 29 25-5 3-2-26-35z"/>
<path fill="#00dfff" stroke-width="2.94" d="M2124 1470l26-25-23 4-26 17z"/>
<path fill="#00bfff" d="M2098 1515l26-45-23-4-26 41z"/>
<path fill="#008fff" d="M2072 1562l26-47-23-8-26 46z"/>
<path fill="#0050ff" d="M2046 1610l26-48-23-9-26 47z"/>
<path fill="#0020ff" stroke-width="2.94" d="M2046 1610l-23-10-21 39 32-8z"/>
<path fill="#bfff40" stroke-width="1.68" d="M3941 1006l26 1-23 0-26-13zM3915 1014l26-8-23-12-26-1z"/>
<path fill="#bfff40" stroke-width="2.94" d="M3889 1031l26-17-23-21-26 10z"/>
<path fill="#afff50" d="M3863 1051l26-20-23-28-26 19z"/>
<path fill="#9fff60" d="M3837 1073l26-22-23-29-26 23z"/>
<path fill="#80ff80" d="M3811 1097l26-24-23-28-26 27z"/>
<path fill="#60ff9f" d="M3785 1125l26-28-23-25-26 31z"/>
<path fill="#40ffbf" d="M3759 1156l26-31-23-22-26 37z"/>
<path fill="#10ffef" d="M3733 1191l26-35-23-16-26 43z"/>
<path fill="#00dfff" d="M3707 1233l26-42-23-8-26 50z"/>
<path fill="#00afff" d="M3681 1276l26-43-23 0-26 47z"/>
<path fill="#0080ff" stroke-width="2.94" d="M3655 1310l26-34-23 4-26 32z"/>
<path fill="#0060ff" stroke-width="2.94" d="M3629 1332l26-22-23 2-26 20z"/>
<path fill="#0050ff" stroke-width="1.68" d="M3603 1350l26-18-23 0-26 17z"/>
<path fill="#0040ff" stroke-width="1.68" d="M3577 1364l26-14-23-1-26 14z"/>
<path fill="#0030ff" stroke-width="1.68" d="M3551 1377l26-13-23-1-26 12zM3525 1389l26-12-23-2-26 11z"/>
<path fill="#0020ff" stroke-width="1.68" d="M3499 1399l26-10-23-3-26 10zM3473 1409l26-10-23-3-26 10z"/>
<path fill="#0010ff" stroke-width="0.76" d="M3447 1418l26-9-23-3-26 9zM3421 1427l26-9-23-3-26 8zM3395 1436l26-9-23-4-26 9z"/>
<path fill="#00f" stroke-width="0.76" d="M3369 1444l26-8-23-4-26 8zM3343 1452l26-8-23-4-26 8zM3317 1460l26-8-23-4-26 8z"/>
<path fill="#0000ef" stroke-width="0.76" d="M3291 1468l26-8-23-4-26 7zM3265 1475l26-7-23-5-26 5zM3239 1481l26-6-23-7-26 5z"/>
<path fill="#0000ef" stroke-width="1.68" d="M3213 1486l26-5-23-8-26 4z"/>
<path fill="#00efff" stroke-width="0.76" d="M2173 1448l26 2-23 7-26-12z"/>
<path fill="#00efff" stroke-width="2.94" d="M2147 1481l26-33-23-3-26 25z"/>
<path fill="#00bfff" d="M2121 1527l26-46-23-11-26 45z"/>
<path fill="#0080ff" d="M2095 1574l26-47-23-12-26 47z"/>
<path fill="#0050ff" d="M2095 1574l-23-12-26 48 19 9 7-3z"/>
<path fill="#0010ff" stroke-width="1.68" d="M2046 1610l-12 21 6-1 25-11z"/>
<path fill="#afff50" stroke-width="1.68" d="M3990 1023l26-1-23-3-26-12z"/>
<path fill="#afff50" stroke-width="2.94" d="M3964 1032l26-9-23-16-26-1z"/>
<path fill="#afff50" d="M3938 1046l26-14-23-26-26 8z"/>
<path fill="#9fff60" d="M3912 1063l26-17-23-32-26 17z"/>
<path fill="#8fff70" d="M3886 1082l26-19-23-32-26 20z"/>
<path fill="#80ff80" d="M3860 1103l26-21-23-31-26 22z"/>
<path fill="#60ff9f" d="M3834 1125l26-22-23-30-26 24z"/>
<path fill="#50ffaf" d="M3808 1150l26-25-23-28-26 28z"/>
<path fill="#30ffcf" d="M3782 1178l26-28-23-25-26 31z"/>
<path fill="#10ffef" d="M3756 1209l26-31-23-22-26 35z"/>
<path fill="#00dfff" d="M3730 1243l26-34-23-18-26 42z"/>
<path fill="#00afff" d="M3704 1280l26-37-23-10-26 43z"/>
<path fill="#008fff" stroke-width="2.94" d="M3678 1312l26-32-23-4-26 34z"/>
<path fill="#0070ff" stroke-width="2.94" d="M3652 1334l26-22-23-2-26 22z"/>
<path fill="#0060ff" stroke-width="1.68" d="M3626 1351l26-17-23-2-26 18z"/>
<path fill="#0050ff" stroke-width="1.68" d="M3600 1366l26-15-23-1-26 14z"/>
<path fill="#0040ff" stroke-width="1.68" d="M3574 1380l26-14-23-2-26 13z"/>
<path fill="#0030ff" stroke-width="1.68" d="M3548 1392l26-12-23-3-26 12zM3522 1402l26-10-23-3-26 10z"/>
<path fill="#0020ff" stroke-width="1.68" d="M3496 1413l26-11-23-3-26 10z"/>
<path fill="#0020ff" stroke-width="0.76" d="M3470 1422l26-9-23-4-26 9z"/>
<path fill="#0010ff" stroke-width="0.76" d="M3444 1431l26-9-23-4-26 9zM3418 1440l26-9-23-4-26 9z"/>
<path fill="#00f" stroke-width="0.76" d="M3392 1448l26-8-23-4-26 8zM3366 1457l26-9-23-4-26 8zM3340 1465l26-8-23-5-26 8zM3314 1473l26-8-23-5-26 8z"/>
<path fill="#0000ef" stroke-width="0.76" d="M3288 1480l26-7-23-5-26 7zM3262 1488l26-8-23-5-26 6zM3236 1494l26-6-23-7-26 5z"/>
<path fill="#0050ff" stroke-width="1.68" d="M2313 1556l38 3 1-2-26-19z"/>
<path fill="#0070ff" d="M2277 1540l13 15 5-1 18 2 13-18-26-23z"/>
<path fill="#0ff" stroke-width="1.68" d="M2196 1457l26-14-23 7-26-2z"/>
<path fill="#00dfff" d="M2170 1496l26-39-23-9-26 33z"/>
<path fill="#00afff" d="M2144 1542l26-46-23-15-26 46z"/>
<path fill="#0080ff" d="M2118 1588l26-46-23-15-26 47z"/>
<path fill="#0040ff" d="M2118 1588l-23-14-23 42 38-16 2-1z"/>
<path fill="#8fff70" stroke-width="1.68" d="M4065 1037l26 4-23 6-26-16z"/>
<path fill="#9fff60" stroke-width="1.68" d="M4039 1041l26-4-23-6-26-9z"/>
<path fill="#9fff60" stroke-width="2.94" d="M4013 1053l26-12-23-19-26 1z"/>
<path fill="#9fff60" d="M3987 1067l26-14-23-30-26 9z"/>
<path fill="#8fff70" d="M3961 1082l26-15-23-35-26 14z"/>
<path fill="#80ff80" d="M3935 1098l26-16-23-36-26 17z"/>
<path fill="#70ff8f" d="M3909 1114l26-16-23-35-26 19z"/>
<path fill="#60ff9f" d="M3883 1134l26-20-23-32-26 21z"/>
<path fill="#50ffaf" d="M3857 1155l26-21-23-31-26 22z"/>
<path fill="#30ffcf" d="M3831 1178l26-23-23-30-26 25z"/>
<path fill="#10ffef" d="M3805 1203l26-25-23-28-26 28z"/>
<path fill="#00efff" d="M3779 1231l26-28-23-25-26 31z"/>
<path fill="#00cfff" d="M3753 1261l26-30-23-22-26 34z"/>
<path fill="#00afff" d="M3727 1293l26-32-23-18-26 37z"/>
<path fill="#008fff" stroke-width="2.94" d="M3701 1319l26-26-23-13-26 32z"/>
<path fill="#0070ff" stroke-width="2.94" d="M3675 1338l26-19-23-7-26 22z"/>
<path fill="#0060ff" stroke-width="1.68" d="M3649 1354l26-16-23-4-26 17z"/>
<path fill="#0050ff" stroke-width="1.68" d="M3623 1369l26-15-23-3-26 15z"/>
<path fill="#0040ff" stroke-width="1.68" d="M3597 1382l26-13-23-3-26 14z"/>
<path fill="#0030ff" stroke-width="1.68" d="M3571 1394l26-12-23-2-26 12zM3545 1406l26-12-23-2-26 10z"/>
<path fill="#0020ff" stroke-width="1.68" d="M3519 1416l26-10-23-4-26 11zM3493 1426l26-10-23-3-26 9z"/>
<path fill="#0010ff" stroke-width="0.76" d="M3467 1435l26-9-23-4-26 9zM3441 1444l26-9-23-4-26 9zM3415 1452l26-8-23-4-26 8z"/>
<path fill="#00f" stroke-width="0.76" d="M3389 1461l26-9-23-4-26 9zM3363 1469l26-8-23-4-26 8zM3337 1477l26-8-23-4-26 8z"/>
<path fill="#0000ef" stroke-width="0.76" d="M3311 1485l26-8-23-4-26 7zM3285 1493l26-8-23-5-26 8zM3259 1500l26-7-23-5-26 6zM3233 1507l26-7-23-6-26 5z"/>
<path fill="#00f" stroke-width="2.94" d="M2447 1590l17 6 15 7 0-1-26-22z"/>
<path fill="#0060ff" d="M2352 1557l3 2 10 1 19 7 17-27-26-19z"/>
<path fill="#0ff" stroke-width="2.94" d="M2219 1471l26-28-23 0-26 14z"/>
<path fill="#00dfff" d="M2193 1514l26-43-23-14-26 39z"/>
<path fill="#009fff" d="M2167 1560l26-46-23-18-26 46z"/>
<path fill="#0070ff" d="M2167 1560l-23-18-26 46 8 6 27-9z"/>
<path fill="#0040ff" stroke-width="0.76" d="M2118 1588l-6 11 14-5z"/>
<path fill="#80ff80" stroke-width="0.76" d="M4114 1051l26 0-23 3-26-13z"/>
<path fill="#8fff70" stroke-width="2.94" d="M4088 1059l26-8-23-10-26-4zM4062 1073l26-14-23-22-26 4z"/>
<path fill="#80ff80" d="M4036 1088l26-15-23-32-26 12z"/>
<path fill="#70ff8f" d="M4010 1103l26-15-23-35-26 14zM3984 1118l26-15-23-36-26 15z"/>
<path fill="#60ff9f" d="M3958 1134l26-16-23-36-26 16z"/>
<path fill="#50ffaf" d="M3932 1149l26-15-23-36-26 16z"/>
<path fill="#40ffbf" d="M3906 1166l26-17-23-35-26 20z"/>
<path fill="#30ffcf" d="M3880 1186l26-20-23-32-26 21z"/>
<path fill="#10ffef" d="M3854 1208l26-22-23-31-26 23z"/>
<path fill="#0ff" d="M3828 1231l26-23-23-30-26 25z"/>
<path fill="#00dfff" d="M3802 1255l26-24-23-28-26 28z"/>
<path fill="#00bfff" d="M3776 1283l26-28-23-24-26 30z"/>
<path fill="#009fff" d="M3750 1309l26-26-23-22-26 32z"/>
<path fill="#0080ff" stroke-width="2.94" d="M3724 1329l26-20-23-16-26 26z"/>
<path fill="#0070ff" stroke-width="2.94" d="M3698 1345l26-16-23-10-26 19z"/>
<path fill="#0060ff" stroke-width="1.68" d="M3672 1359l26-14-23-7-26 16z"/>
<path fill="#0050ff" stroke-width="1.68" d="M3646 1373l26-14-23-5-26 15z"/>
<path fill="#0040ff" stroke-width="1.68" d="M3620 1386l26-13-23-4-26 13zM3594 1398l26-12-23-4-26 12z"/>
<path fill="#0030ff" stroke-width="1.68" d="M3568 1409l26-11-23-4-26 12z"/>
<path fill="#0020ff" stroke-width="1.68" d="M3542 1420l26-11-23-3-26 10zM3516 1429l26-9-23-4-26 10zM3490 1439l26-10-23-3-26 9z"/>
<path fill="#0010ff" stroke-width="0.76" d="M3464 1448l26-9-23-4-26 9zM3438 1456l26-8-23-4-26 8z"/>
<path fill="#00f" stroke-width="0.76" d="M3412 1465l26-9-23-4-26 9zM3386 1473l26-8-23-4-26 8zM3360 1481l26-8-23-4-26 8zM3334 1489l26-8-23-4-26 8z"/>
<path fill="#0000ef" stroke-width="0.76" d="M3308 1497l26-8-23-4-26 8zM3282 1505l26-8-23-4-26 7zM3256 1513l26-8-23-5-26 7zM2687 1632l-26 7 2 1 30-6z"/>
<path fill="#0010ff" d="M2479 1602l1 2 32 15 16-19-26-27z"/>
<path fill="#10ffef" stroke-width="1.68" d="M2268 1456l26-15-23 3-26-1z"/>
<path fill="#00efff" d="M2242 1491l26-35-23-13-26 28z"/>
<path fill="#00cfff" d="M2216 1535l26-44-23-20-26 43z"/>
<path fill="#008fff" d="M2216 1535l-23-21-26 46 16 14 11-2z"/>
<path fill="#0060ff" stroke-width="2.94" d="M2167 1560l-14 25 27-10 3-1z"/>
<path fill="#80ff80" stroke-width="1.68" d="M4163 1065l26 3-23-6-26-11z"/>
<path fill="#80ff80" stroke-width="2.94" d="M4137 1076l26-11-23-14-26 0z"/>
<path fill="#80ff80" d="M4111 1091l26-15-23-25-26 8z"/>
<path fill="#70ff8f" d="M4085 1108l26-17-23-32-26 14z"/>
<path fill="#60ff9f" d="M4059 1124l26-16-23-35-26 15z"/>
<path fill="#50ffaf" d="M4033 1139l26-15-23-36-26 15z"/>
<path fill="#40ffbf" d="M4007 1155l26-16-23-36-26 15z"/>
<path fill="#30ffcf" d="M3981 1170l26-15-23-37-26 16z"/>
<path fill="#20ffdf" d="M3955 1185l26-15-23-36-26 15z"/>
<path fill="#10ffef" d="M3929 1201l26-16-23-36-26 17z"/>
<path fill="#0ff" d="M3903 1218l26-17-23-35-26 20z"/>
<path fill="#00efff" d="M3877 1239l26-21-23-32-26 22z"/>
<path fill="#00dfff" d="M3851 1260l26-21-23-31-26 23z"/>
<path fill="#00bfff" d="M3825 1283l26-23-23-29-26 24z"/>
<path fill="#00afff" d="M3799 1305l26-22-23-28-26 28z"/>
<path fill="#008fff" d="M3773 1325l26-20-23-22-26 26z"/>
<path fill="#0080ff" stroke-width="2.94" d="M3747 1340l26-15-23-16-26 20z"/>
<path fill="#0070ff" stroke-width="2.94" d="M3721 1353l26-13-23-11-26 16z"/>
<path fill="#0060ff" stroke-width="1.68" d="M3695 1366l26-13-23-8-26 14z"/>
<path fill="#0050ff" stroke-width="1.68" d="M3669 1378l26-12-23-7-26 14z"/>
<path fill="#0040ff" stroke-width="1.68" d="M3643 1390l26-12-23-5-26 13zM3617 1402l26-12-23-4-26 12z"/>
<path fill="#0030ff" stroke-width="1.68" d="M3591 1413l26-11-23-4-26 11zM3565 1424l26-11-23-4-26 11z"/>
<path fill="#0020ff" stroke-width="1.68" d="M3539 1433l26-9-23-4-26 9zM3513 1443l26-10-23-4-26 10z"/>
<path fill="#0010ff" stroke-width="0.76" d="M3487 1452l26-9-23-4-26 9zM3461 1460l26-8-23-4-26 8zM3435 1469l26-9-23-4-26 9z"/>
<path fill="#00f" stroke-width="0.76" d="M3409 1477l26-8-23-4-26 8zM3383 1485l26-8-23-4-26 8zM3357 1493l26-8-23-4-26 8z"/>
<path fill="#0000ef" stroke-width="0.76" d="M3331 1501l26-8-23-4-26 8zM3305 1509l26-8-23-4-26 8zM3279 1517l26-8-23-4-26 8zM3253 1525l26-8-23-4-26 6zM3071 1562l-23-9-26 6 19 7 7 0zM3022 1559l-15 3 34 4z"/>
<path fill="#0ff" stroke-width="0.76" d="M2343 1457l26-4-23 3-26-11z"/>
<path fill="#0ff" stroke-width="2.94" d="M2317 1467l26-10-23-12-26-4z"/>
<path fill="#0ff" d="M2291 1486l26-19-23-26-26 15z"/>
<path fill="#00dfff" d="M2265 1519l26-33-23-30-26 35z"/>
<path fill="#00afff" d="M2239 1559l26-40-23-28-26 44z"/>
<path fill="#0080ff" stroke-width="2.94" d="M2239 1559l-23-24-22 37 41-7z"/>
<path fill="#70ff8f" stroke-width="2.94" d="M4186 1091l26-5-23-18-26-3z"/>
<path fill="#70ff8f" d="M4160 1109l26-18-23-26-26 11z"/>
<path fill="#60ff9f" d="M4134 1127l26-18-23-33-26 15z"/>
<path fill="#50ffaf" d="M4108 1143l26-16-23-36-26 17z"/>
<path fill="#40ffbf" d="M4082 1159l26-16-23-35-26 16z"/>
<path fill="#30ffcf" d="M4056 1175l26-16-23-35-26 15z"/>
<path fill="#20ffdf" d="M4030 1191l26-16-23-36-26 16z"/>
<path fill="#10ffef" d="M4004 1206l26-15-23-36-26 15z"/>
<path fill="#0ff" d="M3978 1221l26-15-23-36-26 15z"/>
<path fill="#00efff" d="M3952 1237l26-16-23-36-26 16z"/>
<path fill="#00dfff" d="M3926 1253l26-16-23-36-26 17z"/>
<path fill="#00cfff" d="M3900 1270l26-17-23-35-26 21z"/>
<path fill="#00bfff" d="M3874 1290l26-20-23-31-26 21z"/>
<path fill="#009fff" d="M3848 1309l26-19-23-30-26 23z"/>
<path fill="#008fff" d="M3822 1325l26-16-23-26-26 22z"/>
<path fill="#0080ff" stroke-width="2.94" d="M3796 1339l26-14-23-20-26 20z"/>
<path fill="#0070ff" stroke-width="2.94" d="M3770 1351l26-12-23-14-26 15z"/>
<path fill="#0060ff" stroke-width="2.94" d="M3744 1363l26-12-23-11-26 13z"/>
<path fill="#0060ff" stroke-width="1.68" d="M3718 1374l26-11-23-10-26 13z"/>
<path fill="#0050ff" stroke-width="1.68" d="M3692 1385l26-11-23-8-26 12zM3666 1396l26-11-23-7-26 12z"/>
<path fill="#0040ff" stroke-width="1.68" d="M3640 1407l26-11-23-6-26 12z"/>
<path fill="#0030ff" stroke-width="1.68" d="M3614 1418l26-11-23-5-26 11zM3588 1428l26-10-23-5-26 11z"/>
<path fill="#0020ff" stroke-width="1.68" d="M3562 1438l26-10-23-4-26 9zM3536 1447l26-9-23-5-26 10zM3510 1456l26-9-23-4-26 9z"/>
<path fill="#0010ff" stroke-width="0.76" d="M3484 1465l26-9-23-4-26 8zM3458 1473l26-8-23-5-26 9z"/>
<path fill="#00f" stroke-width="0.76" d="M3432 1481l26-8-23-4-26 8zM3406 1490l26-9-23-4-26 8zM3380 1498l26-8-23-5-26 8zM3354 1506l26-8-23-5-26 8z"/>
<path fill="#0000ef" stroke-width="0.76" d="M3328 1514l26-8-23-5-26 8zM3302 1522l26-8-23-5-26 8zM3276 1529l26-7-23-5-26 8z"/>
<path fill="#0000ef" stroke-width="2.94" d="M2629 1643l4 2 7 0 35-8 3-1-26-20z"/>
<path fill="#00dfff" stroke-width="1.68" d="M2444 1477l26 0-23 2-26-14z"/>
<path fill="#00dfff" stroke-width="2.94" d="M2418 1480l26-3-23-12-26-9z"/>
<path fill="#00efff" stroke-width="2.94" d="M2392 1488l26-8-23-24-26-3z"/>
<path fill="#00efff" d="M2366 1500l26-12-23-35-26 4z"/>
<path fill="#00dfff" d="M2340 1513l26-13-23-43-26 10z"/>
<path fill="#00cfff" d="M2314 1531l26-18-23-46-26 19z"/>
<path fill="#00bfff" d="M2314 1531l-23-45-26 33 22 37 3-1z"/>
<path fill="#008fff" d="M2265 1519l-26 40 3 5 45-8z"/>
<path fill="#40ffbf" d="M4235 1110l26 30-23-25-26-29z"/>
<path fill="#50ffaf" stroke-width="2.94" d="M4209 1118l26-8-23-24-26 5z"/>
<path fill="#50ffaf" d="M4183 1141l26-23-23-27-26 18z"/>
<path fill="#30ffcf" d="M4157 1161l26-20-23-32-26 18z"/>
<path fill="#20ffdf" d="M4131 1178l26-17-23-34-26 16z"/>
<path fill="#10ffef" d="M4105 1194l26-16-23-35-26 16z"/>
<path fill="#0ff" d="M4079 1211l26-17-23-35-26 16z"/>
<path fill="#00efff" d="M4053 1227l26-16-23-36-26 16z"/>
<path fill="#00dfff" d="M4027 1242l26-15-23-36-26 15zM4001 1258l26-16-23-36-26 15z"/>
<path fill="#00cfff" d="M3975 1272l26-14-23-37-26 16z"/>
<path fill="#00bfff" d="M3949 1287l26-15-23-35-26 16z"/>
<path fill="#00afff" d="M3923 1302l26-15-23-34-26 17z"/>
<path fill="#009fff" d="M3897 1317l26-15-23-32-26 20z"/>
<path fill="#008fff" d="M3871 1330l26-13-23-27-26 19z"/>
<path fill="#0080ff" stroke-width="2.94" d="M3845 1342l26-12-23-21-26 16z"/>
<path fill="#0070ff" stroke-width="2.94" d="M3819 1352l26-10-23-17-26 14zM3793 1362l26-10-23-13-26 12z"/>
<path fill="#0060ff" stroke-width="1.68" d="M3767 1373l26-11-23-11-26 12zM3741 1383l26-10-23-10-26 11z"/>
<path fill="#0050ff" stroke-width="1.68" d="M3715 1393l26-10-23-9-26 11z"/>
<path fill="#0040ff" stroke-width="1.68" d="M3689 1403l26-10-23-8-26 11zM3663 1413l26-10-23-7-26 11z"/>
<path fill="#0030ff" stroke-width="1.68" d="M3637 1423l26-10-23-6-26 11zM3611 1433l26-10-23-5-26 10zM3585 1442l26-9-23-5-26 10z"/>
<path fill="#0020ff" stroke-width="1.68" d="M3559 1452l26-10-23-4-26 9zM3533 1461l26-9-23-5-26 9z"/>
<path fill="#0010ff" stroke-width="1.68" d="M3507 1469l26-8-23-5-26 9z"/>
<path fill="#0010ff" stroke-width="0.76" d="M3481 1478l26-9-23-4-26 8zM3455 1486l26-8-23-5-26 8z"/>
<path fill="#00f" stroke-width="0.76" d="M3429 1494l26-8-23-5-26 9zM3403 1502l26-8-23-4-26 8zM3377 1510l26-8-23-4-26 8z"/>
<path fill="#0000ef" stroke-width="0.76" d="M3351 1518l26-8-23-4-26 8zM3325 1526l26-8-23-4-26 8zM3299 1534l26-8-23-4-26 7z"/>
<path fill="#00bfff" stroke-width="1.68" d="M2519 1500l26-6-23 3-26-14z"/>
<path fill="#00bfff" stroke-width="2.94" d="M2493 1511l26-11-23-17-26-6z"/>
<path fill="#00bfff" d="M2467 1521l26-10-23-34-26 0zM2441 1529l26-8-23-44-26 3zM2415 1540l26-11-23-49-26 8z"/>
<path fill="#00afff" d="M2389 1553l26-13-23-52-26 12zM2389 1553l-23-53-26 13 20 47 5 0 6 2z"/>
<path fill="#009fff" d="M2340 1513l-26 18 11 26 35 3z"/>
<path fill="#0080ff" stroke-width="2.94" d="M2314 1531l-24 24 5-1 30 3z"/>
<path fill="#20ffdf" d="M4258 1139l26 36-23-35-26-30z"/>
<path fill="#40ffbf" stroke-width="2.94" d="M4232 1143l26-4-23-29-26 8z"/>
<path fill="#30ffcf" d="M4206 1168l26-25-23-25-26 23z"/>
<path fill="#10ffef" d="M4180 1193l26-25-23-27-26 20z"/>
<path fill="#0ff" d="M4154 1212l26-19-23-32-26 17z"/>
<path fill="#00efff" d="M4128 1230l26-18-23-34-26 16z"/>
<path fill="#00dfff" d="M4102 1246l26-16-23-36-26 17z"/>
<path fill="#00cfff" d="M4076 1262l26-16-23-35-26 16z"/>
<path fill="#00bfff" d="M4050 1278l26-16-23-35-26 15z"/>
<path fill="#00afff" d="M4024 1292l26-14-23-36-26 16z"/>
<path fill="#009fff" d="M3998 1305l26-13-23-34-26 14zM3972 1317l26-12-23-33-26 15z"/>
<path fill="#008fff" d="M3946 1327l26-10-23-30-26 15z"/>
<path fill="#0080ff" stroke-width="2.94" d="M3920 1337l26-10-23-25-26 15zM3894 1347l26-10-23-20-26 13z"/>
<path fill="#0070ff" stroke-width="2.94" d="M3868 1356l26-9-23-17-26 12zM3842 1365l26-9-23-14-26 10z"/>
<path fill="#0060ff" stroke-width="1.68" d="M3816 1374l26-9-23-13-26 10zM3790 1383l26-9-23-12-26 11z"/>
<path fill="#0050ff" stroke-width="1.68" d="M3764 1392l26-9-23-10-26 10zM3738 1402l26-10-23-9-26 10z"/>
<path fill="#0040ff" stroke-width="1.68" d="M3712 1411l26-9-23-9-26 10zM3686 1420l26-9-23-8-26 10z"/>
<path fill="#0030ff" stroke-width="1.68" d="M3660 1429l26-9-23-7-26 10zM3634 1439l26-10-23-6-26 10zM3608 1448l26-9-23-6-26 9z"/>
<path fill="#0020ff" stroke-width="1.68" d="M3582 1457l26-9-23-6-26 10zM3556 1465l26-8-23-5-26 9z"/>
<path fill="#0010ff" stroke-width="1.68" d="M3530 1474l26-9-23-4-26 8zM3504 1482l26-8-23-5-26 9z"/>
<path fill="#0010ff" stroke-width="0.76" d="M3478 1491l26-9-23-4-26 8z"/>
<path fill="#00f" stroke-width="0.76" d="M3452 1499l26-8-23-5-26 8zM3426 1507l26-8-23-5-26 8zM3400 1515l26-8-23-5-26 8zM3374 1522l26-7-23-5-26 8z"/>
<path fill="#0000ef" stroke-width="0.76" d="M3348 1530l26-8-23-4-26 8zM3322 1538l26-8-23-4-26 8zM3296 1544l26-6-23-4-26 7z"/>
<path fill="#00f" stroke-width="2.94" d="M2729 1623l42-16-21-13z"/>
<path fill="#00afff" stroke-width="1.68" d="M2568 1508l26-13-23 7-26-8z"/>
<path fill="#00afff" d="M2542 1535l26-27-23-14-26 6z"/>
<path fill="#009fff" d="M2516 1559l26-24-23-35-26 11z"/>
<path fill="#008fff" d="M2490 1574l26-15-23-48-26 10zM2464 1584l26-10-23-53-26 8z"/>
<path fill="#0080ff" d="M2464 1584l-23-55-26 11 19 45 14 5zM2415 1540l-26 13 8 19 37 13z"/>
<path fill="#0070ff" stroke-width="1.68" d="M2389 1553l-18 9 26 10z"/>
<path fill="#20ffdf" stroke-width="2.94" d="M4254 1163l26 9-22-33-26 4z"/>
<path fill="#20ffdf" d="M4228 1188l26-25-22-20-26 25z"/>
<path fill="#0ff" d="M4202 1219l26-31-22-20-26 25z"/>
<path fill="#00dfff" d="M4176 1245l26-26-22-26-26 19z"/>
<path fill="#00cfff" d="M4150 1264l26-19-22-33-26 18z"/>
<path fill="#00bfff" d="M4124 1280l26-16-22-34-26 16z"/>
<path fill="#00afff" d="M4098 1295l26-15-22-34-26 16z"/>
<path fill="#009fff" d="M4072 1308l26-13-22-33-26 16z"/>
<path fill="#008fff" d="M4046 1319l26-11-22-30-26 14z"/>
<path fill="#0080ff" stroke-width="2.94" d="M4020 1329l26-10-22-27-26 13zM3994 1337l26-8-22-24-26 12z"/>
<path fill="#0070ff" stroke-width="2.94" d="M3968 1345l26-8-22-20-26 10zM3942 1353l26-8-22-18-26 10zM3916 1361l26-8-22-16-26 10z"/>
<path fill="#0060ff" stroke-width="2.94" d="M3890 1369l26-8-22-14-26 9z"/>
<path fill="#0060ff" stroke-width="1.68" d="M3864 1377l26-8-22-13-26 9zM3838 1385l26-8-22-12-26 9z"/>
<path fill="#0050ff" stroke-width="1.68" d="M3812 1394l26-9-22-11-26 9zM3786 1402l26-8-22-11-26 9zM3760 1411l26-9-22-10-26 10z"/>
<path fill="#0040ff" stroke-width="1.68" d="M3734 1419l26-8-22-9-26 9zM3708 1428l26-9-22-8-26 9z"/>
<path fill="#0030ff" stroke-width="1.68" d="M3682 1436l26-8-22-8-26 9zM3656 1445l26-9-22-7-26 10zM3630 1453l26-8-22-6-26 9z"/>
<path fill="#0020ff" stroke-width="1.68" d="M3604 1462l26-9-22-5-26 9zM3578 1471l26-9-22-5-26 8zM3552 1479l26-8-22-6-26 9z"/>
<path fill="#0010ff" stroke-width="1.68" d="M3526 1487l26-8-22-5-26 8zM3500 1495l26-8-22-5-26 9z"/>
<path fill="#0010ff" stroke-width="0.76" d="M3474 1503l26-8-22-4-26 8z"/>
<path fill="#00f" stroke-width="0.76" d="M3448 1511l26-8-22-4-26 8zM3422 1519l26-8-22-4-26 8zM3396 1527l26-8-22-4-26 7z"/>
<path fill="#0000ef" stroke-width="0.76" d="M3370 1535l26-8-22-5-26 8zM3344 1542l26-7-22-5-26 8zM3318 1547l26-5-22-4-26 6z"/>
<path fill="#0000ef" stroke-width="2.94" d="M3121 1579l5 1 14-4 22-23-26 15z"/>
<path fill="#0010ff" stroke-width="2.94" d="M2779 1603l1 0 43-17-25-14z"/>
<path fill="#00bfff" stroke-width="1.68" d="M2616 1511l26-16-22 4-26-4z"/>
<path fill="#00afff" d="M2590 1536l26-25-22-16-26 13z"/>
<path fill="#008fff" d="M2564 1570l26-34-22-28-26 27z"/>
<path fill="#0070ff" d="M2538 1603l26-33-22-35-26 24z"/>
<path fill="#0060ff" d="M2538 1603l-22-44-26 15 19 43 8 5z"/>
<path fill="#0050ff" d="M2490 1574l-26 10 6 15 39 18z"/>
<path fill="#0040ff" stroke-width="1.68" d="M2464 1584l-16 6 16 6 6 3z"/>
<path fill="#0ff" d="M4277 1183l26 24-23-35-26-9z"/>
<path fill="#10ffef" stroke-width="2.94" d="M4251 1201l26-18-23-20-26 25z"/>
<path fill="#00efff" d="M4225 1238l26-37-23-13-26 31z"/>
<path fill="#00bfff" d="M4199 1271l26-33-23-19-26 26z"/>
<path fill="#00afff" d="M4173 1294l26-23-23-26-26 19z"/>
<path fill="#009fff" d="M4147 1308l26-14-23-30-26 16z"/>
<path fill="#008fff" stroke-width="2.94" d="M4121 1320l26-12-23-28-26 15z"/>
<path fill="#0080ff" stroke-width="2.94" d="M4095 1329l26-9-23-25-26 13zM4069 1338l26-9-23-21-26 11z"/>
<path fill="#0070ff" stroke-width="2.94" d="M4043 1345l26-7-23-19-26 10zM4017 1353l26-8-23-16-26 8zM3991 1360l26-7-23-16-26 8z"/>
<path fill="#0060ff" stroke-width="1.68" d="M3965 1367l26-7-23-15-26 8zM3939 1374l26-7-23-14-26 8zM3913 1381l26-7-23-13-26 8z"/>
<path fill="#0050ff" stroke-width="1.68" d="M3887 1389l26-8-23-12-26 8zM3861 1396l26-7-23-12-26 8zM3835 1404l26-8-23-11-26 9zM3809 1412l26-8-23-10-26 8z"/>
<path fill="#0040ff" stroke-width="1.68" d="M3783 1420l26-8-23-10-26 9zM3757 1428l26-8-23-9-26 8zM3731 1436l26-8-23-9-26 9z"/>
<path fill="#0030ff" stroke-width="1.68" d="M3705 1444l26-8-23-8-26 8zM3679 1452l26-8-23-8-26 9zM3653 1460l26-8-23-7-26 8z"/>
<path fill="#0020ff" stroke-width="1.68" d="M3627 1468l26-8-23-7-26 9zM3601 1476l26-8-23-6-26 9zM3575 1484l26-8-23-5-26 8z"/>
<path fill="#0010ff" stroke-width="1.68" d="M3549 1492l26-8-23-5-26 8zM3523 1500l26-8-23-5-26 8z"/>
<path fill="#0010ff" stroke-width="0.76" d="M3497 1508l26-8-23-5-26 8z"/>
<path fill="#00f" stroke-width="0.76" d="M3471 1516l26-8-23-5-26 8zM3445 1524l26-8-23-5-26 8zM3419 1532l26-8-23-5-26 8z"/>
<path fill="#0000ef" stroke-width="0.76" d="M3393 1540l26-8-23-5-26 8zM3367 1547l26-7-23-5-26 7zM3341 1552l26-5-23-5-26 5z"/>
<path fill="#0010ff" d="M3114 1578l4 1 18-11 23-33-26 17z"/>
<path fill="#00f" stroke-width="2.94" d="M3102 1575l12 3 19-26-26 17z"/>
<path fill="#0030ff" stroke-width="2.94" d="M2826 1585l24-10 18-4 5-9-26-13z"/>
<path fill="#0050ff" d="M2798 1572l25 14 3-1 21-36-26-15z"/>
<path fill="#00bfff" stroke-width="2.94" d="M2665 1513l26-26-23 3-26 5z"/>
<path fill="#00afff" d="M2639 1546l26-33-23-18-26 16z"/>
<path fill="#008fff" d="M2613 1575l26-29-23-35-26 25z"/>
<path fill="#0070ff" d="M2587 1608l26-33-23-39-26 34z"/>
<path fill="#0050ff" d="M2587 1608l-23-38-26 33 19 32 9 2z"/>
<path fill="#0020ff" stroke-width="2.94" d="M2538 1603l-21 19 18 8 22 5z"/>
<path fill="#00efff" stroke-width="2.94" d="M4303 1213l2-4-2-2-26-24 23 26z"/>
<path fill="#0ff" stroke-width="2.94" d="M4274 1211l26-2-23-26-26 18z"/>
<path fill="#00dfff" d="M4248 1247l26-36-23-10-26 37z"/>
<path fill="#00afff" d="M4222 1287l26-40-23-9-26 33z"/>
<path fill="#008fff" d="M4196 1313l26-26-23-16-26 23z"/>
<path fill="#0080ff" stroke-width="2.94" d="M4170 1328l26-15-23-19-26 14z"/>
<path fill="#0070ff" stroke-width="2.94" d="M4144 1337l26-9-23-20-26 12zM4118 1345l26-8-23-17-26 9zM4092 1352l26-7-23-16-26 9z"/>
<path fill="#0060ff" stroke-width="1.68" d="M4066 1360l26-8-23-14-26 7zM4040 1367l26-7-23-15-26 8zM4014 1374l26-7-23-14-26 7zM3988 1380l26-6-23-14-26 7z"/>
<path fill="#0050ff" stroke-width="1.68" d="M3962 1387l26-7-23-13-26 7zM3936 1393l26-6-23-13-26 7zM3910 1400l26-7-23-12-26 8zM3884 1407l26-7-23-11-26 7zM3858 1415l26-8-23-11-26 8z"/>
<path fill="#0040ff" stroke-width="1.68" d="M3832 1422l26-7-23-11-26 8zM3806 1429l26-7-23-10-26 8zM3780 1436l26-7-23-9-26 8z"/>
<path fill="#0030ff" stroke-width="1.68" d="M3754 1444l26-8-23-8-26 8zM3728 1452l26-8-23-8-26 8zM3702 1459l26-7-23-8-26 8zM3676 1467l26-8-23-7-26 8z"/>
<path fill="#0020ff" stroke-width="1.68" d="M3650 1474l26-7-23-7-26 8zM3624 1482l26-8-23-6-26 8zM3598 1490l26-8-23-6-26 8z"/>
<path fill="#0010ff" stroke-width="1.68" d="M3572 1498l26-8-23-6-26 8zM3546 1506l26-8-23-6-26 8zM3520 1514l26-8-23-6-26 8z"/>
<path fill="#00f" stroke-width="0.76" d="M3494 1521l26-7-23-6-26 8zM3468 1529l26-8-23-5-26 8zM3442 1537l26-8-23-5-26 8zM3416 1544l26-7-23-5-26 8z"/>
<path fill="#0000ef" stroke-width="0.76" d="M3390 1552l26-8-23-4-26 7zM3364 1559l26-7-23-5-26 5z"/>
<path fill="#0000ef" stroke-width="1.68" d="M3338 1561l26-2-23-7-26-5z"/>
<path fill="#00f" stroke-width="2.94" d="M3312 1552l26 9-23-14-26-17z"/>
<path fill="#0020ff" d="M3286 1532l26 20-23-22-26-19zM3088 1573l9 2 10-6 23-38-26 16z"/>
<path fill="#0010ff" stroke-width="2.94" d="M3074 1570l14 3 16-26-26 16z"/>
<path fill="#00cfff" stroke-width="2.94" d="M2714 1507l26-26-23-1-26 7z"/>
<path fill="#00afff" d="M2688 1542l26-35-23-20-26 26z"/>
<path fill="#008fff" d="M2662 1581l26-39-23-29-26 33z"/>
<path fill="#0070ff" d="M2636 1617l26-36-23-35-26 29z"/>
<path fill="#0040ff" d="M2636 1617l-23-42-26 33 21 37 6 0z"/>
<path fill="#0020ff" stroke-width="2.94" d="M2587 1608l-21 29 34 8 8 0z"/>
<path fill="#00dfff" stroke-width="1.68" d="M4300 1209l-26 2 23 18 1-3 5-13z"/>
<path fill="#00dfff" d="M4297 1229l0 0-23-18-26 36 23 5z"/>
<path fill="#00afff" d="M4245 1293l26-41-23-5-26 40z"/>
<path fill="#008fff" stroke-width="2.94" d="M4219 1323l26-30-23-6-26 26z"/>
<path fill="#0070ff" stroke-width="2.94" d="M4193 1340l26-17-23-10-26 15zM4167 1351l26-11-23-12-26 9z"/>
<path fill="#0060ff" stroke-width="1.68" d="M4141 1359l26-8-23-14-26 8zM4115 1366l26-7-23-14-26 7zM4089 1373l26-7-23-14-26 8zM4063 1380l26-7-23-13-26 7z"/>
<path fill="#0050ff" stroke-width="1.68" d="M4037 1386l26-6-23-13-26 7zM4011 1393l26-7-23-12-26 6zM3985 1399l26-6-23-13-26 7zM3959 1405l26-6-23-12-26 6zM3933 1411l26-6-23-12-26 7z"/>
<path fill="#0040ff" stroke-width="1.68" d="M3907 1418l26-7-23-11-26 7zM3881 1425l26-7-23-11-26 8zM3855 1432l26-7-23-10-26 7zM3829 1438l26-6-23-10-26 7z"/>
<path fill="#0030ff" stroke-width="1.68" d="M3803 1445l26-7-23-9-26 7zM3777 1452l26-7-23-9-26 8zM3751 1460l26-8-23-8-26 8zM3725 1467l26-7-23-8-26 7z"/>
<path fill="#0020ff" stroke-width="1.68" d="M3699 1474l26-7-23-8-26 8zM3673 1481l26-7-23-7-26 7zM3647 1489l26-8-23-7-26 8zM3621 1496l26-7-23-7-26 8z"/>
<path fill="#0010ff" stroke-width="1.68" d="M3595 1504l26-8-23-6-26 8zM3569 1511l26-7-23-6-26 8zM3543 1519l26-8-23-5-26 8zM3517 1527l26-8-23-5-26 7z"/>
<path fill="#00f" stroke-width="0.76" d="M3491 1534l26-7-23-6-26 8zM3465 1542l26-8-23-5-26 8zM3439 1549l26-7-23-5-26 7z"/>
<path fill="#0000ef" stroke-width="0.76" d="M3413 1557l26-8-23-5-26 8zM3387 1564l26-7-23-5-26 7zM3361 1571l26-7-23-5-26 2z"/>
<path fill="#0000ef" stroke-width="1.68" d="M3335 1571l26 0-23-10-26-9z"/>
<path fill="#0010ff" stroke-width="2.94" d="M3309 1560l26 11-23-19-26-20z"/>
<path fill="#0020ff" d="M3283 1538l26 22-23-28-26-23z"/>
<path fill="#0040ff" d="M3257 1512l26 26-23-29-26-15z"/>
<path fill="#00dfff" stroke-width="1.68" d="M2789 1473l26-21-23 20-26-2z"/>
<path fill="#00dfff" stroke-width="2.94" d="M2763 1504l26-31-23-3-26 11z"/>
<path fill="#00bfff" d="M2737 1540l26-36-23-23-26 26z"/>
<path fill="#008fff" d="M2711 1578l26-38-23-33-26 35z"/>
<path fill="#0070ff" d="M2685 1616l26-38-23-36-26 39z"/>
<path fill="#0040ff" d="M2685 1616l-23-35-26 36 16 25 18-3z"/>
<path fill="#0010ff" stroke-width="2.94" d="M2636 1617l-22 28 26 0 12-3z"/>
<path fill="#00cfff" stroke-width="2.94" d="M4271 1252l17 12 9-35z"/>
<path fill="#00afff" d="M4285 1279l3-15-17-12-26 41 23 4z"/>
<path fill="#008fff" stroke-width="2.94" d="M4242 1329l26-32-23-4-26 30z"/>
<path fill="#0070ff" stroke-width="2.94" d="M4216 1349l26-20-23-6-26 17z"/>
<path fill="#0060ff" stroke-width="1.68" d="M4190 1362l26-13-23-9-26 11zM4164 1371l26-9-23-11-26 8z"/>
<path fill="#0050ff" stroke-width="1.68" d="M4138 1378l26-7-23-12-26 7zM4112 1385l26-7-23-12-26 7zM4086 1392l26-7-23-12-26 7zM4060 1398l26-6-23-12-26 6zM4034 1404l26-6-23-12-26 7z"/>
<path fill="#0040ff" stroke-width="1.68" d="M4008 1410l26-6-23-11-26 6zM3982 1417l26-7-23-11-26 6zM3956 1423l26-6-23-12-26 6zM3930 1429l26-6-23-12-26 7zM3904 1435l26-6-23-11-26 7zM3878 1441l26-6-23-10-26 7z"/>
<path fill="#0030ff" stroke-width="1.68" d="M3852 1448l26-7-23-9-26 6zM3826 1454l26-6-23-10-26 7zM3800 1461l26-7-23-9-26 7zM3774 1468l26-7-23-9-26 8zM3748 1475l26-7-23-8-26 7z"/>
<path fill="#0020ff" stroke-width="1.68" d="M3722 1482l26-7-23-8-26 7zM3696 1489l26-7-23-8-26 7zM3670 1496l26-7-23-8-26 8zM3644 1503l26-7-23-7-26 7z"/>
<path fill="#0010ff" stroke-width="1.68" d="M3618 1510l26-7-23-7-26 8zM3592 1517l26-7-23-6-26 7zM3566 1525l26-8-23-6-26 8zM3540 1532l26-7-23-6-26 8z"/>
<path fill="#00f" stroke-width="1.68" d="M3514 1540l26-8-23-5-26 7z"/>
<path fill="#00f" stroke-width="0.76" d="M3488 1547l26-7-23-6-26 8zM3462 1555l26-8-23-5-26 7zM3436 1562l26-7-23-6-26 8z"/>
<path fill="#0000ef" stroke-width="0.76" d="M3410 1570l26-8-23-5-26 7zM3384 1577l26-7-23-6-26 7zM3358 1583l26-6-23-6-26 0z"/>
<path fill="#0000ef" stroke-width="2.94" d="M3332 1582l26 1-23-12-26-11z"/>
<path fill="#0010ff" d="M3306 1569l26 13-23-22-26-22z"/>
<path fill="#0030ff" d="M3280 1545l26 24-23-31-26-26z"/>
<path fill="#0050ff" d="M3254 1518l26 27-23-33-26-20z"/>
<path fill="#0070ff" stroke-width="2.94" d="M3228 1494l26 24-23-26-26-11z"/>
<path fill="#0080ff" stroke-width="1.68" d="M3202 1478l26 16-23-13-26 2z"/>
<path fill="#00efff" stroke-width="2.94" d="M2812 1490l26-38-23 0-26 21z"/>
<path fill="#00cfff" d="M2786 1532l26-42-23-17-26 31z"/>
<path fill="#009fff" d="M2760 1574l26-42-23-28-26 36z"/>
<path fill="#0070ff" d="M2734 1614l26-40-23-34-26 38z"/>
<path fill="#0040ff" d="M2734 1614l-23-36-26 38 11 17 14-3 18-7z"/>
<path fill="#0020ff" stroke-width="2.94" d="M2685 1616l-15 23 26-6z"/>
<path fill="#009fff" stroke-width="2.94" d="M4268 1297l8 5 8-20 1-3z"/>
<path fill="#008fff" stroke-width="2.94" d="M4268 1297l-26 32 22 6 12-33z"/>
<path fill="#0070ff" stroke-width="2.94" d="M4264 1336l0-1-22-6-26 20 23 6z"/>
<path fill="#0060ff" stroke-width="1.68" d="M4213 1370l26-15-23-6-26 13z"/>
<path fill="#0050ff" stroke-width="1.68" d="M4187 1381l26-11-23-8-26 9zM4161 1390l26-9-23-10-26 7zM4135 1397l26-7-23-12-26 7zM4109 1403l26-6-23-12-26 7z"/>
<path fill="#0040ff" stroke-width="1.68" d="M4083 1409l26-6-23-11-26 6zM4057 1416l26-7-23-11-26 6zM4031 1421l26-5-23-12-26 6zM4005 1427l26-6-23-11-26 7zM3979 1433l26-6-23-10-26 6zM3953 1439l26-6-23-10-26 6z"/>
<path fill="#0030ff" stroke-width="1.68" d="M3927 1445l26-6-23-10-26 6zM3901 1451l26-6-23-10-26 6zM3875 1457l26-6-23-10-26 7zM3849 1463l26-6-23-9-26 6zM3823 1470l26-7-23-9-26 7zM3797 1476l26-6-23-9-26 7z"/>
<path fill="#0020ff" stroke-width="1.68" d="M3771 1483l26-7-23-8-26 7zM3745 1489l26-6-23-8-26 7zM3719 1496l26-7-23-7-26 7zM3693 1503l26-7-23-7-26 7zM3667 1510l26-7-23-7-26 7z"/>
<path fill="#0010ff" stroke-width="1.68" d="M3641 1516l26-6-23-7-26 7zM3615 1524l26-8-23-6-26 7zM3589 1531l26-7-23-7-26 8zM3563 1538l26-7-23-6-26 7z"/>
<path fill="#00f" stroke-width="1.68" d="M3537 1545l26-7-23-6-26 8z"/>
<path fill="#00f" stroke-width="0.76" d="M3511 1553l26-8-23-5-26 7zM3485 1560l26-7-23-6-26 8zM3459 1567l26-7-23-5-26 7z"/>
<path fill="#0000ef" stroke-width="0.76" d="M3433 1575l26-8-23-5-26 8zM3407 1582l26-7-23-5-26 7zM3381 1589l26-7-23-5-26 6zM3355 1595l26-6-23-6-26-1z"/>
<path fill="#0000ef" stroke-width="2.94" d="M3329 1593l26 2-23-13-26-13z"/>
<path fill="#0010ff" d="M3303 1578l26 15-23-24-26-24z"/>
<path fill="#0030ff" d="M3277 1554l26 24-23-33-26-27z"/>
<path fill="#0050ff" d="M3251 1528l26 26-23-36-26-24z"/>
<path fill="#0080ff" d="M3225 1503l26 25-23-34-26-16z"/>
<path fill="#008fff" stroke-width="2.94" d="M3199 1483l26 20-23-25-26-6z"/>
<path fill="#10ffef" stroke-width="2.94" d="M2861 1464l26-37-23 2-26 23z"/>
<path fill="#00dfff" d="M2835 1509l26-45-23-12-26 38z"/>
<path fill="#00afff" d="M2809 1555l26-46-23-19-26 42z"/>
<path fill="#0080ff" d="M2783 1601l26-46-23-23-26 42z"/>
<path fill="#0050ff" d="M2783 1601l-23-27-26 40 4 5 42-16 2-1z"/>
<path fill="#0020ff" stroke-width="0.76" d="M2734 1614l-6 9 10-4z"/>
<path fill="#0070ff" stroke-width="2.94" d="M4239 1355l16 4 9-23z"/>
<path fill="#0060ff" stroke-width="1.68" d="M4253 1366l2-7-16-4-26 15 23 6z"/>
<path fill="#0050ff" stroke-width="1.68" d="M4210 1389l26-13-23-6-26 11zM4184 1399l26-10-23-8-26 9z"/>
<path fill="#0040ff" stroke-width="1.68" d="M4158 1407l26-8-23-9-26 7zM4132 1414l26-7-23-10-26 6zM4106 1420l26-6-23-11-26 6zM4080 1426l26-6-23-11-26 7zM4054 1432l26-6-23-10-26 5zM4028 1438l26-6-23-11-26 6z"/>
<path fill="#0030ff" stroke-width="1.68" d="M4002 1443l26-5-23-11-26 6zM3976 1449l26-6-23-10-26 6zM3950 1455l26-6-23-10-26 6zM3924 1460l26-5-23-10-26 6zM3898 1466l26-6-23-9-26 6zM3872 1472l26-6-23-9-26 6zM3846 1478l26-6-23-9-26 7z"/>
<path fill="#0020ff" stroke-width="1.68" d="M3820 1485l26-7-23-8-26 6zM3794 1491l26-6-23-9-26 7zM3768 1497l26-6-23-8-26 6zM3742 1504l26-7-23-8-26 7zM3716 1510l26-6-23-8-26 7zM3690 1517l26-7-23-7-26 7z"/>
<path fill="#0010ff" stroke-width="1.68" d="M3664 1523l26-6-23-7-26 6zM3638 1530l26-7-23-7-26 8zM3612 1537l26-7-23-6-26 7zM3586 1544l26-7-23-6-26 7z"/>
<path fill="#00f" stroke-width="1.68" d="M3560 1551l26-7-23-6-26 7zM3534 1558l26-7-23-6-26 8z"/>
<path fill="#00f" stroke-width="0.76" d="M3508 1565l26-7-23-5-26 7zM3482 1573l26-8-23-5-26 7z"/>
<path fill="#0000ef" stroke-width="0.76" d="M3456 1580l26-7-23-6-26 8zM3430 1587l26-7-23-5-26 7zM3404 1595l26-8-23-5-26 7zM3378 1602l26-7-23-6-26 6z"/>
<path fill="#0000ef" stroke-width="1.68" d="M3352 1607l26-5-23-7-26-2z"/>
<path fill="#0000ef" stroke-width="2.94" d="M3326 1604l26 3-23-14-26-15z"/>
<path fill="#0010ff" d="M3300 1590l26 14-23-26-26-24z"/>
<path fill="#0030ff" d="M3274 1568l26 22-23-36-26-26z"/>
<path fill="#0050ff" d="M3248 1542l26 26-23-40-26-25z"/>
<path fill="#0080ff" d="M3222 1516l26 26-23-39-26-20z"/>
<path fill="#009fff" d="M3196 1492l26 24-23-33-26-15z"/>
<path fill="#00afff" stroke-width="2.94" d="M3170 1472l26 20-23-24-26-5z"/>
<path fill="#30ffcf" stroke-width="0.76" d="M2962 1410l26-6-23 4-26-2z"/>
<path fill="#30ffcf" stroke-width="1.68" d="M2936 1422l26-12-23-4-26 2z"/>
<path fill="#30ffcf" stroke-width="2.94" d="M2910 1447l26-25-23-14-26 19z"/>
<path fill="#10ffef" d="M2884 1484l26-37-23-20-26 37z"/>
<path fill="#00dfff" d="M2858 1528l26-44-23-20-26 45z"/>
<path fill="#009fff" d="M2832 1574l26-46-23-19-26 46z"/>
<path fill="#0070ff" d="M2832 1574l-23-19-26 46 1 0 42-16z"/>
<path fill="#0060ff" stroke-width="0.76" d="M4236 1376l12 3 5-13z"/>
<path fill="#0050ff" stroke-width="1.68" d="M4244 1389l4-10-12-3-26 13 23 6zM4207 1407l26-12-23-6-26 10z"/>
<path fill="#0040ff" stroke-width="1.68" d="M4181 1417l26-10-23-8-26 8zM4155 1424l26-7-23-10-26 7zM4129 1430l26-6-23-10-26 6z"/>
<path fill="#0030ff" stroke-width="1.68" d="M4103 1436l26-6-23-10-26 6zM4077 1442l26-6-23-10-26 6zM4051 1448l26-6-23-10-26 6zM4025 1453l26-5-23-10-26 5zM3999 1459l26-6-23-10-26 6zM3973 1464l26-5-23-10-26 6zM3947 1470l26-6-23-9-26 5zM3921 1475l26-5-23-10-26 6zM3895 1481l26-6-23-9-26 6z"/>
<path fill="#0020ff" stroke-width="1.68" d="M3869 1487l26-6-23-9-26 6zM3843 1493l26-6-23-9-26 7zM3817 1499l26-6-23-8-26 6zM3791 1505l26-6-23-8-26 6zM3765 1511l26-6-23-8-26 7zM3739 1518l26-7-23-7-26 6z"/>
<path fill="#0010ff" stroke-width="1.68" d="M3713 1524l26-6-23-8-26 7zM3687 1530l26-6-23-7-26 6zM3661 1537l26-7-23-7-26 7zM3635 1544l26-7-23-7-26 7zM3609 1550l26-6-23-7-26 7z"/>
<path fill="#00f" stroke-width="1.68" d="M3583 1557l26-7-23-6-26 7zM3557 1564l26-7-23-6-26 7z"/>
<path fill="#00f" stroke-width="0.76" d="M3531 1571l26-7-23-6-26 7zM3505 1578l26-7-23-6-26 8z"/>
<path fill="#0000ef" stroke-width="0.76" d="M3479 1586l26-8-23-5-26 7zM3453 1593l26-7-23-6-26 7zM3427 1600l26-7-23-6-26 8zM3401 1607l26-7-23-5-26 7zM3375 1614l26-7-23-5-26 5z"/>
<path fill="#0000ef" stroke-width="1.68" d="M3349 1619l26-5-23-7-26-3z"/>
<path fill="#0000ef" stroke-width="2.94" d="M3323 1617l26 2-23-15-26-14z"/>
<path fill="#0010ff" d="M3297 1604l26 13-23-27-26-22z"/>
<path fill="#0030ff" d="M3271 1582l26 22-23-36-26-26z"/>
<path fill="#0050ff" d="M3245 1557l26 25-23-40-26-26z"/>
<path fill="#0070ff" d="M3219 1531l26 26-23-41-26-24z"/>
<path fill="#009fff" d="M3193 1508l26 23-23-39-26-20z"/>
<path fill="#00afff" d="M3167 1490l26 18-23-36-26-14z"/>
<path fill="#00cfff" d="M3141 1478l26 12-23-32-26-11z"/>
<path fill="#00dfff" d="M3115 1468l26 10-23-31-26-10z"/>
<path fill="#00efff" d="M3089 1457l26 11-23-31-26-11z"/>
<path fill="#10ffef" d="M3063 1447l26 10-23-31-26-11z"/>
<path fill="#20ffdf" d="M3037 1439l26 8-23-32-26-8z"/>
<path fill="#20ffdf" stroke-width="2.94" d="M3011 1440l26-1-23-32-26-3z"/>
<path fill="#20ffdf" d="M2985 1449l26-9-23-36-26 6zM2959 1464l26-15-23-39-26 12z"/>
<path fill="#10ffef" d="M2933 1485l26-21-23-42-26 25z"/>
<path fill="#00efff" d="M2907 1516l26-31-23-38-26 37z"/>
<path fill="#00bfff" d="M2881 1554l26-38-23-32-26 44z"/>
<path fill="#008fff" d="M2881 1554l-23-26-26 46 6 6 12-5 21-5z"/>
<path fill="#0060ff" stroke-width="0.76" d="M2832 1574l-6 11 12-5z"/>
<path fill="#0050ff" stroke-width="0.76" d="M4233 1395l8 2 1-2 2-6z"/>
<path fill="#0050ff" stroke-width="1.68" d="M4230 1413l11-16-8-2-26 12 23 6z"/>
<path fill="#0040ff" stroke-width="1.68" d="M4204 1424l26-11-23-6-26 10zM4178 1433l26-9-23-7-26 7z"/>
<path fill="#0030ff" stroke-width="1.68" d="M4152 1440l26-7-23-9-26 6zM4126 1446l26-6-23-10-26 6zM4100 1452l26-6-23-10-26 6zM4074 1458l26-6-23-10-26 6zM4048 1463l26-5-23-10-26 5zM4022 1468l26-5-23-10-26 6zM3996 1474l26-6-23-9-26 5zM3970 1479l26-5-23-10-26 6z"/>
<path fill="#0020ff" stroke-width="1.68" d="M3944 1485l26-6-23-9-26 5zM3918 1490l26-5-23-10-26 6zM3892 1496l26-6-23-9-26 6zM3866 1502l26-6-23-9-26 6zM3840 1507l26-5-23-9-26 6zM3814 1513l26-6-23-8-26 6zM3788 1519l26-6-23-8-26 6z"/>
<path fill="#0010ff" stroke-width="1.68" d="M3762 1525l26-6-23-8-26 7zM3736 1531l26-6-23-7-26 6zM3710 1538l26-7-23-7-26 6zM3684 1544l26-6-23-8-26 7zM3658 1550l26-6-23-7-26 7zM3632 1557l26-7-23-6-26 6z"/>
<path fill="#00f" stroke-width="1.68" d="M3606 1564l26-7-23-7-26 7zM3580 1570l26-6-23-7-26 7zM3554 1577l26-7-23-6-26 7z"/>
<path fill="#00f" stroke-width="0.76" d="M3528 1584l26-7-23-6-26 7zM3502 1591l26-7-23-6-26 8z"/>
<path fill="#0000ef" stroke-width="0.76" d="M3476 1598l26-7-23-5-26 7zM3450 1606l26-8-23-5-26 7zM3424 1613l26-7-23-6-26 7zM3398 1620l26-7-23-6-26 7zM3372 1627l26-7-23-6-26 5z"/>
<path fill="#0000ef" stroke-width="1.68" d="M3346 1632l26-5-23-8-26-2z"/>
<path fill="#0000ef" stroke-width="2.94" d="M3320 1630l26 2-23-15-26-13z"/>
<path fill="#00f" d="M3294 1618l26 12-23-26-26-22z"/>
<path fill="#0020ff" d="M3268 1597l26 21-23-36-26-25z"/>
<path fill="#0050ff" d="M3242 1574l26 23-23-40-26-26z"/>
<path fill="#0070ff" d="M3216 1554l26 20-23-43-26-23z"/>
<path fill="#008fff" d="M3190 1539l26 15-23-46-26-18z"/>
<path fill="#009fff" d="M3164 1528l26 11-23-49-26-12z"/>
<path fill="#00afff" d="M3138 1518l26 10-23-50-26-10z"/>
<path fill="#00cfff" d="M3112 1508l26 10-23-50-26-11z"/>
<path fill="#00dfff" d="M3086 1498l26 10-23-51-26-10z"/>
<path fill="#00efff" d="M3060 1491l26 7-23-51-26-8zM3034 1492l26-1-23-52-26 1zM3008 1502l26-10-23-52-26 9zM2982 1516l26-14-23-53-26 15z"/>
<path fill="#00dfff" d="M2956 1533l26-17-23-52-26 21z"/>
<path fill="#00bfff" d="M2930 1558l26-25-23-48-26 31z"/>
<path fill="#009fff" d="M2930 1558l-23-42-26 38 8 13 31-7 8 0z"/>
<path fill="#0070ff" stroke-width="1.68" d="M2881 1554l-10 16 18-3z"/>
<path fill="#0040ff" stroke-width="1.68" d="M4230 1413l-26 11 16 4 10-15zM4216 1434l4-6-16-4-26 9 23 7z"/>
<path fill="#0030ff" stroke-width="1.68" d="M4175 1448l26-8-23-7-26 7zM4149 1455l26-7-23-8-26 6zM4123 1461l26-6-23-9-26 6zM4097 1467l26-6-23-9-26 6zM4071 1472l26-5-23-9-26 5z"/>
<path fill="#0020ff" stroke-width="1.68" d="M4045 1478l26-6-23-9-26 5zM4019 1483l26-5-23-10-26 6zM3993 1488l26-5-23-9-26 5zM3967 1494l26-6-23-9-26 6zM3941 1499l26-5-23-9-26 5zM3915 1504l26-5-23-9-26 6zM3889 1510l26-6-23-8-26 6zM3863 1516l26-6-23-8-26 5zM3837 1521l26-5-23-9-26 6z"/>
<path fill="#0010ff" stroke-width="1.68" d="M3811 1527l26-6-23-8-26 6zM3785 1533l26-6-23-8-26 6zM3759 1539l26-6-23-8-26 6zM3733 1545l26-6-23-8-26 7zM3707 1551l26-6-23-7-26 6zM3681 1557l26-6-23-7-26 6zM3655 1564l26-7-23-7-26 7z"/>
<path fill="#00f" stroke-width="1.68" d="M3629 1570l26-6-23-7-26 7zM3603 1577l26-7-23-6-26 6zM3577 1583l26-6-23-7-26 7zM3551 1590l26-7-23-6-26 7z"/>
<path fill="#00f" stroke-width="0.76" d="M3525 1597l26-7-23-6-26 7z"/>
<path fill="#0000ef" stroke-width="0.76" d="M3499 1604l26-7-23-6-26 7zM3473 1611l26-7-23-6-26 8zM3447 1618l26-7-23-5-26 7zM3421 1625l26-7-23-5-26 7zM3395 1633l26-8-23-5-26 7zM3369 1640l26-7-23-6-26 5z"/>
<path fill="#0000ef" stroke-width="1.68" d="M3369 1640l-23-8-26-2 14 9 15 5zM3320 1630l-26-12 11 13 29 8z"/>
<path fill="#00f" stroke-width="2.94" d="M3294 1618l-26-21 17 28 20 6z"/>
<path fill="#0020ff" d="M3269 1620l16 5-17-28-26-23 23 43z"/>
<path fill="#0040ff" d="M3239 1602l26 15-23-43-26-20z"/>
<path fill="#0050ff" d="M3213 1591l26 11-23-48-26-15z"/>
<path fill="#0060ff" d="M3187 1581l26 10-23-52-26-11z"/>
<path fill="#0080ff" d="M3161 1571l26 10-23-53-26-10z"/>
<path fill="#008fff" d="M3135 1560l26 11-23-53-26-10z"/>
<path fill="#009fff" d="M3109 1551l26 9-23-52-26-10z"/>
<path fill="#00afff" d="M3083 1545l26 6-23-53-26-7z"/>
<path fill="#00bfff" d="M3057 1547l26-2-23-54-26 1z"/>
<path fill="#00afff" d="M3031 1557l26-10-23-55-26 10zM3031 1557l-23-55-26 14 19 45 17 2z"/>
<path fill="#009fff" d="M2982 1516l-26 17 12 27 22 0 11 1z"/>
<path fill="#008fff" stroke-width="2.94" d="M2956 1533l-26 25 1 2 37 0z"/>
<path fill="#0040ff" stroke-width="0.76" d="M4201 1440l9 2 6-8z"/>
<path fill="#0030ff" stroke-width="1.68" d="M4203 1454l7-12-9-2-26 8 23 7zM4172 1464l26-9-23-7-26 7zM4146 1470l26-6-23-9-26 6z"/>
<path fill="#0020ff" stroke-width="1.68" d="M4120 1476l26-6-23-9-26 6zM4094 1481l26-5-23-9-26 5zM4068 1487l26-6-23-9-26 6zM4042 1492l26-5-23-9-26 5zM4016 1497l26-5-23-9-26 5zM3990 1503l26-6-23-9-26 6zM3964 1508l26-5-23-9-26 5zM3938 1513l26-5-23-9-26 5zM3912 1518l26-5-23-9-26 6zM3886 1524l26-6-23-8-26 6z"/>
<path fill="#0010ff" stroke-width="1.68" d="M3860 1529l26-5-23-8-26 5zM3834 1535l26-6-23-8-26 6zM3808 1541l26-6-23-8-26 6zM3782 1546l26-5-23-8-26 6zM3756 1552l26-6-23-7-26 6zM3730 1558l26-6-23-7-26 6zM3704 1565l26-7-23-7-26 6z"/>
<path fill="#00f" stroke-width="1.68" d="M3678 1571l26-6-23-8-26 7zM3652 1577l26-6-23-7-26 6zM3626 1583l26-6-23-7-26 7zM3600 1590l26-7-23-6-26 6zM3574 1596l26-6-23-7-26 7z"/>
<path fill="#00f" stroke-width="0.76" d="M3548 1603l26-7-23-6-26 7z"/>
<path fill="#0000ef" stroke-width="0.76" d="M3522 1610l26-7-23-6-26 7zM3496 1617l26-7-23-6-26 7zM3470 1624l26-7-23-6-26 7zM3444 1631l26-7-23-6-26 7zM3418 1638l26-7-23-6-26 8zM3392 1645l26-7-23-5-26 7zM3392 1645l-23-5-20 4 18 5 7 1z"/>
<path fill="#0010ff" stroke-width="1.68" d="M3265 1617l-26-15 5 10 22 7z"/>
<path fill="#0020ff" stroke-width="1.68" d="M3239 1602l-26-11 6 13 7 3 18 5z"/>
<path fill="#0030ff" stroke-width="2.94" d="M3213 1591l-26-10 6 13 7 2 19 8z"/>
<path fill="#0040ff" stroke-width="2.94" d="M3187 1581l-26-10 8 18 24 5z"/>
<path fill="#0050ff" stroke-width="2.94" d="M3161 1571l-26-11 10 24 24 5z"/>
<path fill="#0060ff" stroke-width="2.94" d="M3135 1560l-26-9 12 28 14 3 10 2z"/>
<path fill="#0070ff" stroke-width="2.94" d="M3109 1551l-26-6 12 29 26 5z"/>
<path fill="#0080ff" stroke-width="2.94" d="M3083 1545l-26 2 9 21 29 6z"/>
<path fill="#0070ff" stroke-width="1.68" d="M3057 1547l-26 10 3 8 30 3 2 0z"/>
<path fill="#0070ff" stroke-width="0.76" d="M3031 1557l-13 6 16 2z"/>
<path fill="#0030ff" stroke-width="1.68" d="M4198 1455l-26 9 20 5 9-13z"/>
<path fill="#0020ff" stroke-width="1.68" d="M4191 1471l1-2-20-5-26 6 23 8zM4143 1485l26-7-23-8-26 6zM4117 1490l26-5-23-9-26 5zM4091 1496l26-6-23-9-26 6zM4065 1501l26-5-23-9-26 5zM4039 1506l26-5-23-9-26 5zM4013 1511l26-5-23-9-26 6zM3987 1516l26-5-23-8-26 5zM3961 1522l26-6-23-8-26 5z"/>
<path fill="#0010ff" stroke-width="1.68" d="M3935 1527l26-5-23-9-26 5zM3909 1532l26-5-23-9-26 6zM3883 1538l26-6-23-8-26 5zM3857 1543l26-5-23-9-26 6zM3831 1549l26-6-23-8-26 6zM3805 1554l26-5-23-8-26 5zM3779 1560l26-6-23-8-26 6zM3753 1566l26-6-23-8-26 6zM3727 1572l26-6-23-8-26 7z"/>
<path fill="#00f" stroke-width="1.68" d="M3701 1578l26-6-23-7-26 6zM3675 1584l26-6-23-7-26 6zM3649 1590l26-6-23-7-26 6zM3623 1596l26-6-23-7-26 7zM3597 1603l26-7-23-6-26 6zM3571 1609l26-6-23-7-26 7z"/>
<path fill="#0000ef" stroke-width="0.76" d="M3545 1616l26-7-23-6-26 7zM3519 1623l26-7-23-6-26 7zM3493 1630l26-7-23-6-26 7zM3467 1637l26-7-23-6-26 7zM3441 1644l26-7-23-6-26 7zM3415 1651l26-7-23-6-26 7zM3415 1651l-23-6-18 5 29 4z"/>
<path fill="#0020ff" stroke-width="0.76" d="M4169 1478l13 4 3-2 6-9z"/>
<path fill="#0020ff" stroke-width="1.68" d="M4172 1490l10-8-13-4-26 7 23 7zM4140 1499l26-7-23-7-26 5zM4114 1504l26-5-23-9-26 6zM4088 1510l26-6-23-8-26 5zM4062 1515l26-5-23-9-26 5zM4036 1520l26-5-23-9-26 5z"/>
<path fill="#0010ff" stroke-width="1.68" d="M4010 1525l26-5-23-9-26 5zM3984 1530l26-5-23-9-26 6zM3958 1535l26-5-23-8-26 5zM3932 1540l26-5-23-8-26 5zM3906 1546l26-6-23-8-26 6zM3880 1551l26-5-23-8-26 5zM3854 1557l26-6-23-8-26 6zM3828 1562l26-5-23-8-26 5zM3802 1568l26-6-23-8-26 6zM3776 1573l26-5-23-8-26 6z"/>
<path fill="#00f" stroke-width="1.68" d="M3750 1579l26-6-23-7-26 6zM3724 1585l26-6-23-7-26 6zM3698 1591l26-6-23-7-26 6zM3672 1597l26-6-23-7-26 6zM3646 1603l26-6-23-7-26 6zM3620 1610l26-7-23-7-26 7zM3594 1616l26-6-23-7-26 6z"/>
<path fill="#0000ef" stroke-width="0.76" d="M3568 1622l26-6-23-7-26 7zM3542 1629l26-7-23-6-26 7zM3516 1636l26-7-23-6-26 7zM3490 1643l26-7-23-6-26 7zM3464 1650l26-7-23-6-26 7zM3438 1657l26-7-23-6-26 7zM3438 1657l-23-6-12 3 29 4z"/>
<path fill="#0020ff" stroke-width="0.76" d="M4166 1492l-26 7 16 5 13-11z"/>
<path fill="#0020ff" stroke-width="1.68" d="M4149 1510l7-6-16-5-26 5 23 9z"/>
<path fill="#0010ff" stroke-width="1.68" d="M4111 1518l26-5-23-9-26 6zM4085 1523l26-5-23-8-26 5zM4059 1528l26-5-23-8-26 5zM4033 1534l26-6-23-8-26 5zM4007 1539l26-5-23-9-26 5zM3981 1544l26-5-23-9-26 5zM3955 1549l26-5-23-9-26 5zM3929 1554l26-5-23-9-26 6zM3903 1559l26-5-23-8-26 5zM3877 1565l26-6-23-8-26 6zM3851 1570l26-5-23-8-26 5zM3825 1575l26-5-23-8-26 6z"/>
<path fill="#00f" stroke-width="1.68" d="M3799 1581l26-6-23-7-26 5zM3773 1587l26-6-23-8-26 6zM3747 1592l26-5-23-8-26 6zM3721 1598l26-6-23-7-26 6zM3695 1604l26-6-23-7-26 6zM3669 1610l26-6-23-7-26 6zM3643 1616l26-6-23-7-26 7z"/>
<path fill="#0000ef" stroke-width="1.68" d="M3617 1623l26-7-23-6-26 6zM3591 1629l26-6-23-7-26 6z"/>
<path fill="#0000ef" stroke-width="0.76" d="M3565 1635l26-6-23-7-26 7zM3539 1642l26-7-23-6-26 7zM3513 1649l26-7-23-6-26 7zM3487 1655l26-6-23-6-26 7zM3487 1655l-23-5-26 7 22 5 1 0zM3438 1657l-6 1 28 4z"/>
<path fill="#0010ff" stroke-width="0.76" d="M4137 1513l-26 5 19 7 13-10z"/>
<path fill="#0010ff" stroke-width="1.68" d="M4127 1528l3-3-19-7-26 5 23 9zM4082 1537l26-5-23-9-26 5zM4056 1542l26-5-23-9-26 6zM4030 1547l26-5-23-8-26 5zM4004 1552l26-5-23-8-26 5zM3978 1557l26-5-23-8-26 5zM3952 1562l26-5-23-8-26 5zM3926 1567l26-5-23-8-26 5zM3900 1572l26-5-23-8-26 6zM3874 1578l26-6-23-7-26 5z"/>
<path fill="#00f" stroke-width="1.68" d="M3848 1583l26-5-23-8-26 5zM3822 1589l26-6-23-8-26 6zM3796 1594l26-5-23-8-26 6zM3770 1600l26-6-23-7-26 5zM3744 1606l26-6-23-8-26 6zM3718 1611l26-5-23-8-26 6zM3692 1617l26-6-23-7-26 6zM3666 1623l26-6-23-7-26 6z"/>
<path fill="#0000ef" stroke-width="1.68" d="M3640 1629l26-6-23-7-26 7zM3614 1636l26-7-23-6-26 6z"/>
<path fill="#0000ef" stroke-width="0.76" d="M3588 1642l26-6-23-7-26 6zM3562 1648l26-6-23-7-26 7zM3536 1655l26-7-23-6-26 7zM3510 1662l26-7-23-6-26 6zM3510 1662l-23-7-26 7 29 5z"/>
<path fill="#0010ff" stroke-width="0.76" d="M4108 1532l10 3 9-7z"/>
<path fill="#0010ff" stroke-width="1.68" d="M4106 1545l12-10-10-3-26 5 23 8zM4079 1550l26-5-23-8-26 5zM4053 1555l26-5-23-8-26 5zM4027 1560l26-5-23-8-26 5zM4001 1565l26-5-23-8-26 5zM3975 1570l26-5-23-8-26 5zM3949 1575l26-5-23-8-26 5z"/>
<path fill="#00f" stroke-width="1.68" d="M3923 1580l26-5-23-8-26 5zM3897 1586l26-6-23-8-26 6zM3871 1591l26-5-23-8-26 5zM3845 1596l26-5-23-8-26 6zM3819 1602l26-6-23-7-26 5zM3793 1607l26-5-23-8-26 6zM3767 1613l26-6-23-7-26 6zM3741 1619l26-6-23-7-26 5zM3715 1625l26-6-23-8-26 6zM3689 1630l26-5-23-8-26 6z"/>
<path fill="#0000ef" stroke-width="1.68" d="M3663 1636l26-6-23-7-26 6zM3637 1642l26-6-23-7-26 7z"/>
<path fill="#0000ef" stroke-width="0.76" d="M3611 1649l26-7-23-6-26 6zM3585 1655l26-6-23-7-26 6zM3559 1661l26-6-23-7-26 7zM3533 1668l26-7-23-6-26 7zM3533 1668l-23-6-20 5 31 4z"/>
<path fill="#0010ff" stroke-width="0.76" d="M4105 1545l-26 5 13 5 8-5 5-5z"/>
<path fill="#0010ff" stroke-width="1.68" d="M4080 1563l12-8-13-5-26 5 23 9zM4050 1569l26-5-23-9-26 5zM4024 1574l26-5-23-9-26 5z"/>
<path fill="#00f" stroke-width="1.68" d="M3998 1579l26-5-23-9-26 5zM3972 1583l26-4-23-9-26 5zM3946 1588l26-5-23-8-26 5zM3920 1594l26-6-23-8-26 6zM3894 1599l26-5-23-8-26 5zM3868 1604l26-5-23-8-26 5zM3842 1610l26-6-23-8-26 6zM3816 1615l26-5-23-8-26 5zM3790 1620l26-5-23-8-26 6zM3764 1626l26-6-23-7-26 6zM3738 1632l26-6-23-7-26 6z"/>
<path fill="#0000ef" stroke-width="1.68" d="M3712 1638l26-6-23-7-26 5zM3686 1643l26-5-23-8-26 6zM3660 1649l26-6-23-7-26 6z"/>
<path fill="#0000ef" stroke-width="0.76" d="M3634 1655l26-6-23-7-26 7zM3608 1662l26-7-23-6-26 6zM3582 1668l26-6-23-7-26 6zM3556 1674l26-6-23-7-26 7zM3556 1674l-23-6-12 3 30 4z"/>
<path fill="#00f" stroke-width="0.76" d="M4076 1564l-26 5 13 4 14-9z"/>
<path fill="#00f" stroke-width="1.68" d="M4051 1581l12-8-13-4-26 5 22 8zM4020 1587l26-5-22-8-26 5zM3994 1592l26-5-22-8-26 4zM3968 1597l26-5-22-9-26 5zM3942 1602l26-5-22-9-26 6zM3916 1607l26-5-22-8-26 5zM3890 1612l26-5-22-8-26 5zM3864 1617l26-5-22-8-26 6zM3838 1623l26-6-22-7-26 5zM3812 1628l26-5-22-8-26 5zM3786 1633l26-5-22-8-26 6z"/>
<path fill="#0000ef" stroke-width="1.68" d="M3760 1639l26-6-22-7-26 6zM3734 1645l26-6-22-7-26 6z"/>
<path fill="#0000ef" stroke-width="0.76" d="M3708 1651l26-6-22-7-26 5zM3682 1656l26-5-22-8-26 6zM3656 1662l26-6-22-7-26 6zM3630 1668l26-6-22-7-26 7zM3604 1674l26-6-22-6-26 6zM3604 1674l-22-6-26 6 10 3 23 1z"/>
<path fill="#00f" stroke-width="0.76" d="M4046 1582l-26 5 15 4 14-9zM4024 1598l11-7-15-4-26 5 23 7zM3991 1604l26-5-23-7-26 5zM3965 1609l26-5-23-7-26 5zM3939 1614l26-5-23-7-26 5zM3913 1619l26-5-23-7-26 5zM3887 1625l26-6-23-7-26 5zM3861 1630l26-5-23-8-26 6zM3835 1635l26-5-23-7-26 5z"/>
<path fill="#0000ef" stroke-width="0.76" d="M3809 1641l26-6-23-7-26 5zM3783 1646l26-5-23-8-26 6zM3757 1652l26-6-23-7-26 6zM3731 1657l26-5-23-7-26 6zM3705 1663l26-6-23-6-26 5zM3679 1669l26-6-23-7-26 6zM3653 1675l26-6-23-7-26 6zM3653 1675l-23-7-26 6 20 6 6 0zM3604 1674l-15 4 35 2z"/>
</g>
<path d="M44.5 148.5L44.5 43.3M44.5 148.5L228.0 198.0M228.0 198.0L462.0 160.0M44.5 148.5L39.7 147.2M44.5 122.2L39.7 120.9M44.5 95.9L39.7 94.6M44.5 69.6L39.7 68.3M44.5 43.3L39.7 42.0M228.0 198.0L223.1 198.8M205.1 191.8L200.1 192.6M182.1 185.6L177.2 186.4M159.2 179.4L154.3 180.2M136.2 173.2L131.3 174.1M113.3 167.1L108.4 167.9M90.4 160.9L85.4 161.7M67.4 154.7L62.5 155.5M44.5 148.5L39.6 149.3M228.0 198.0L232.8 199.3M254.0 193.8L258.8 195.1M280.0 189.6L284.8 190.9M306.0 185.3L310.8 186.6M332.0 181.1L336.8 182.4M358.0 176.9L362.8 178.2M384.0 172.7L388.8 174.0M410.0 168.4L414.8 169.7M436.0 164.2L440.8 165.5M462.0 160.0L466.8 161.3" fill="none" stroke="#555" stroke-width="0.7"/>
<g font-size="9.30" fill="#1a1a1a"><text x="31.5" y="149.1" text-anchor="end">0</text><text x="36.5" y="122.8" text-anchor="end">0.05</text><text x="36.5" y="96.5" text-anchor="end">0.1</text><text x="36.5" y="70.2" text-anchor="end">0.15</text><text x="36.5" y="43.9" text-anchor="end">0.2</text><text x="212.5" y="208.5" text-anchor="middle">0</text><text x="189.6" y="202.3" text-anchor="middle">100</text><text x="166.6" y="196.1" text-anchor="middle">200</text><text x="143.7" y="189.9" text-anchor="middle">300</text><text x="120.8" y="183.8" text-anchor="middle">400</text><text x="97.8" y="177.6" text-anchor="middle">500</text><text x="74.9" y="171.4" text-anchor="middle">600</text><text x="51.9" y="165.2" text-anchor="middle">700</text><text x="29.0" y="159.0" text-anchor="middle">800</text><text x="240.5" y="208.0" text-anchor="middle">400</text><text x="266.5" y="203.8" text-anchor="middle">500</text><text x="292.5" y="199.6" text-anchor="middle">600</text><text x="318.5" y="195.3" text-anchor="middle">700</text><text x="344.5" y="191.1" text-anchor="middle">800</text><text x="370.5" y="186.9" text-anchor="middle">900</text><text x="400.8" y="182.7" text-anchor="middle">1000</text><text x="427.4" y="178.4" text-anchor="middle">1100</text><text x="453.9" y="174.2" text-anchor="middle">1200</text><text x="480.4" y="170.0" text-anchor="middle">1300</text></g>
<g font-size="13.00" fill="#1a1a1a">
<text x="367.8" y="203.0" text-anchor="middle">x</text>
<text x="107.7" y="192.0" text-anchor="middle">y</text>
<text transform="translate(15.0 87.0) rotate(-90)" text-anchor="middle">Consume energy</text>
</g>
<text class="cap" x="241.0" y="249.2" font-size="15.5" text-anchor="middle" fill="#111">(<tspan font-weight="bold">a</tspan>)</text>
<path d="M239.9 472.7L65.4 425.6M65.4 425.6L65.4 325.2M264.6 468.6L90.3 421.7M90.3 421.7L90.3 321.3M289.3 464.5L115.3 417.8M115.3 417.8L115.3 317.4M314.0 460.4L140.2 413.9M140.2 413.9L140.2 313.5M338.6 456.4L165.1 409.9M165.1 409.9L165.1 309.5M363.3 452.3L190.0 406.0M190.0 406.0L190.0 305.6M388.0 448.2L215.0 402.1M215.0 402.1L215.0 301.7M412.7 444.1L239.9 398.2M239.9 398.2L239.9 297.8M437.4 440.0L264.8 394.3M264.8 394.3L264.8 293.9M437.4 440.0L437.4 339.6M193.4 470.9L415.8 434.3M415.8 434.3L415.8 333.9M171.5 465.0L394.2 428.6M394.2 428.6L394.2 328.2M149.7 459.1L372.7 422.9M372.7 422.9L372.7 322.5M127.8 453.2L351.1 417.2M351.1 417.2L351.1 316.8M106.0 447.2L329.5 411.4M329.5 411.4L329.5 311.0M84.2 441.3L307.9 405.7M307.9 405.7L307.9 305.3M62.3 435.4L286.4 400.0M286.4 400.0L286.4 299.6M40.5 429.5L264.8 394.3M264.8 394.3L264.8 293.9M40.5 429.5L264.8 394.3M264.8 394.3L437.4 440.0M40.5 404.4L264.8 369.2M264.8 369.2L437.4 414.9M40.5 379.3L264.8 344.1M264.8 344.1L437.4 389.8M40.5 354.2L264.8 319.0M264.8 319.0L437.4 364.7M40.5 329.1L264.8 293.9M264.8 293.9L437.4 339.6" fill="none" stroke="#9a9a9a" stroke-width="0.55" stroke-dasharray="0.1 2.2" stroke-linecap="round"/>
<g transform="scale(.1)" stroke="#000" stroke-width="4.2" stroke-linejoin="round">
<path fill="#ff9f00" d="M1044 3706l25-40-22 10-25 19z"/>
<path fill="#ffcf00" d="M1019 3738l25-32-22-11-24 28z"/>
<path fill="#ffef00" stroke-width="2.94" d="M995 3740l24-2-21-15-25 29z"/>
<path fill="#efff10" d="M970 3744l25-4-22 12-25 48z"/>
<path fill="#ff5000" stroke-width="1.68" d="M1115 3646l25-19-22 16-25-3z"/>
<path fill="#ff7000" d="M1091 3693l24-47-22-6-24 26z"/>
<path fill="#ffbf00" d="M1066 3751l25-58-22-27-25 40z"/>
<path fill="#ff0" d="M1041 3798l25-47-22-45-25 32z"/>
<path fill="#dfff20" d="M1017 3809l24-11-22-60-24 2zM992 3788l25 21-22-69-25 4zM967 3774l25 14-22-44-25 44z"/>
<path fill="#bfff40" d="M942 3794l25-20-22 14-24 71z"/>
<path fill="#009fff" d="M871 3983l22-66-24 59-4 15z"/>
<path fill="#ff5000" stroke-width="1.68" d="M1162 3649l24-15-21 5-25-12z"/>
<path fill="#ff6000" d="M1137 3685l25-36-22-22-25 19z"/>
<path fill="#ff9f00" d="M1112 3737l25-52-22-39-24 47z"/>
<path fill="#ff0" d="M1088 3798l24-61-21-44-25 58z"/>
<path fill="#afff50" d="M1063 3858l25-60-22-47-25 47z"/>
<path fill="#70ff8f" d="M1038 3893l25-35-22-60-24 11zM1014 3885l24 8-21-84-25-21z"/>
<path fill="#8fff70" d="M989 3851l25 34-22-97-25-14z"/>
<path fill="#bfff40" d="M964 3819l25 32-22-77-25 20z"/>
<path fill="#afff50" d="M940 3814l24 5-22-25-24 54z"/>
<path fill="#00bfff" d="M890 3906l-11 32-1 2-9 36z"/>
<path fill="#ff7000" stroke-width="2.94" d="M1208 3672l25-10-22-13-25-15z"/>
<path fill="#ff7000" d="M1184 3704l24-32-22-38-24 15z"/>
<path fill="#ff9f00" d="M1159 3744l25-40-22-55-25 36z"/>
<path fill="#ffef00" d="M1134 3791l25-47-22-59-25 52z"/>
<path fill="#bfff40" d="M1110 3847l24-56-22-54-24 61z"/>
<path fill="#60ff9f" d="M1085 3907l25-60-22-49-25 60z"/>
<path fill="#0ff" d="M1060 3954l25-47-22-49-25 35z"/>
<path fill="#00efff" d="M1036 3967l24-13-22-61-24-8z"/>
<path fill="#0ff" d="M1011 3949l25 18-22-82-25-34z"/>
<path fill="#40ffbf" d="M986 3912l25 37-22-98-25-32z"/>
<path fill="#80ff80" d="M961 3874l25 38-22-93-24-5z"/>
<path fill="#8fff70" d="M937 3852l24 22-21-60-25 33z"/>
<path fill="#70ff8f" d="M912 3859l25-7-22-5-25 59z"/>
<path fill="#ff9f00" d="M1255 3705l25-10-22-12-25-21zM1230 3734l25-29-22-43-25 10z"/>
<path fill="#ffcf00" d="M1205 3770l25-36-22-62-24 32z"/>
<path fill="#ff0" d="M1181 3810l24-40-21-66-25 40z"/>
<path fill="#afff50" d="M1156 3852l25-42-22-66-25 47z"/>
<path fill="#60ff9f" d="M1131 3899l25-47-22-61-24 56z"/>
<path fill="#10ffef" d="M1107 3949l24-50-21-52-25 60z"/>
<path fill="#00bfff" d="M1082 3988l25-39-22-42-25 47z"/>
<path fill="#008fff" d="M1057 4007l25-19-22-34-24 13zM1033 4008l24-1-21-40-25-18z"/>
<path fill="#00bfff" d="M1008 3993l25 15-22-59-25-37z"/>
<path fill="#00efff" d="M983 3967l25 26-22-81-25-38z"/>
<path fill="#30ffcf" d="M959 3932l24 35-22-93-24-22z"/>
<path fill="#60ff9f" d="M934 3900l25 32-22-80-25 7z"/>
<path fill="#50ffaf" d="M909 3899l25 1-22-41-25 53z"/>
<path fill="#10ffef" d="M909 3899l-22 13-2 7-7 21-9 36 16-26z"/>
<path fill="#00afff" d="M885 3950l-16 26-12 44 3-3z"/>
<path fill="#ffcf00" d="M1277 3752l24-34-21-23-25 10z"/>
<path fill="#ff0" d="M1252 3801l25-49-22-47-25 29z"/>
<path fill="#bfff40" d="M1227 3839l25-38-22-67-25 36z"/>
<path fill="#8fff70" d="M1203 3877l24-38-22-69-24 40z"/>
<path fill="#50ffaf" d="M1178 3916l25-39-22-67-25 42z"/>
<path fill="#10ffef" d="M1153 3952l25-36-22-64-25 47z"/>
<path fill="#00cfff" d="M1129 3985l24-33-22-53-24 50z"/>
<path fill="#008fff" d="M1104 4009l25-24-22-36-25 39z"/>
<path fill="#0070ff" stroke-width="2.94" d="M1079 4024l25-15-22-21-25 19z"/>
<path fill="#0060ff" stroke-width="2.94" d="M1054 4033l25-9-22-17-24 1z"/>
<path fill="#0060ff" d="M1030 4034l24-1-21-25-25-15z"/>
<path fill="#0080ff" d="M1005 4027l25 7-22-41-25-26z"/>
<path fill="#00afff" d="M980 4010l25 17-22-60-24-35z"/>
<path fill="#00efff" d="M956 3985l24 25-21-78-25-32z"/>
<path fill="#10ffef" d="M931 3960l25 25-22-85-25-1zM906 3971l25-11-22-61-24 51z"/>
<path fill="#00bfff" d="M882 4015l24-44-21-21-25 67z"/>
<path fill="#0080ff" stroke-width="2.94" d="M882 4015l-22 2-4 6 0 1-12 31 13-3z"/>
<path fill="#0050ff" stroke-width="1.68" d="M857 4052l-13 3-5 13z"/>
<path fill="#ffef00" d="M1299 3783l24-47-22-18-24 34z"/>
<path fill="#afff50" d="M1274 3854l25-71-22-31-25 49z"/>
<path fill="#60ff9f" d="M1249 3905l25-51-22-53-25 38z"/>
<path fill="#20ffdf" d="M1224 3940l25-35-22-66-24 38z"/>
<path fill="#00efff" d="M1200 3970l24-30-21-63-25 39z"/>
<path fill="#00afff" d="M1175 3993l25-23-22-54-25 36z"/>
<path fill="#008fff" d="M1150 4011l25-18-22-41-24 33z"/>
<path fill="#0070ff" stroke-width="2.94" d="M1126 4025l24-14-21-26-25 24z"/>
<path fill="#0060ff" stroke-width="2.94" d="M1101 4037l25-12-22-16-25 15z"/>
<path fill="#0050ff" stroke-width="2.94" d="M1076 4047l25-10-22-13-25 9z"/>
<path fill="#0040ff" stroke-width="1.68" d="M1052 4054l24-7-22-14-24 1z"/>
<path fill="#0050ff" stroke-width="2.94" d="M1027 4055l25-1-22-20-25-7z"/>
<path fill="#0060ff" d="M1002 4051l25 4-22-28-25-17z"/>
<path fill="#0080ff" d="M978 4042l24 9-22-41-24-25z"/>
<path fill="#009fff" d="M953 4028l25 14-22-57-25-25z"/>
<path fill="#00bfff" d="M928 4024l25 4-22-68-25 11z"/>
<path fill="#009fff" d="M904 4039l24-15-22-53-24 44z"/>
<path fill="#0080ff" d="M879 4059l25-20-22-24-25 37z"/>
<path fill="#0050ff" stroke-width="2.94" d="M879 4059l-22-7-18 16-2 7 17 2z"/>
<path fill="#0040ff" stroke-width="1.68" d="M854 4077l-17-2-2 5 0 9z"/>
<path fill="#efff10" d="M1320 3799l25-47-22-16-24 47z"/>
<path fill="#80ff80" d="M1296 3885l24-86-21-16-25 71z"/>
<path fill="#10ffef" d="M1271 3953l25-68-22-31-25 51z"/>
<path fill="#00bfff" d="M1246 3987l25-34-22-48-25 35z"/>
<path fill="#009fff" d="M1222 4005l24-18-22-47-24 30z"/>
<path fill="#0080ff" d="M1197 4018l25-13-22-35-25 23z"/>
<path fill="#0060ff" stroke-width="2.94" d="M1172 4029l25-11-22-25-25 18z"/>
<path fill="#0050ff" stroke-width="2.94" d="M1148 4039l24-10-22-18-24 14zM1123 4048l25-9-22-14-25 12z"/>
<path fill="#0040ff" stroke-width="1.68" d="M1098 4058l25-10-22-11-25 10z"/>
<path fill="#0030ff" stroke-width="1.68" d="M1073 4066l25-8-22-11-24 7zM1049 4071l24-5-21-12-25 1z"/>
<path fill="#0040ff" stroke-width="1.68" d="M1024 4072l25-1-22-16-25-4z"/>
<path fill="#0050ff" stroke-width="2.94" d="M999 4070l25 2-22-21-24-9z"/>
<path fill="#0060ff" d="M975 4066l24 4-21-28-25-14z"/>
<path fill="#0070ff" d="M950 4062l25 4-22-38-25-4zM925 4064l25-2-22-38-24 15z"/>
<path fill="#0060ff" stroke-width="2.94" d="M901 4072l24-8-21-25-25 20z"/>
<path fill="#0050ff" stroke-width="2.94" d="M876 4084l25-12-22-13-25 18z"/>
<path fill="#0040ff" stroke-width="1.68" d="M876 4084l-22-7-19 12 0 5 16 3z"/>
<path fill="#0030ff" stroke-width="0.76" d="M851 4097l-16-3 0 12z"/>
<path fill="#dfff20" d="M1342 3810l25-40-22-18-25 47z"/>
<path fill="#70ff8f" d="M1318 3898l24-88-22-11-24 86z"/>
<path fill="#00efff" d="M1293 3974l25-76-22-13-25 68z"/>
<path fill="#008fff" d="M1268 4010l25-36-22-21-25 34z"/>
<path fill="#0070ff" stroke-width="2.94" d="M1243 4025l25-15-22-23-24 18z"/>
<path fill="#0060ff" stroke-width="2.94" d="M1219 4034l24-9-21-20-25 13z"/>
<path fill="#0050ff" stroke-width="2.94" d="M1194 4043l25-9-22-16-25 11zM1169 4051l25-8-22-14-24 10z"/>
<path fill="#0040ff" stroke-width="1.68" d="M1145 4060l24-9-21-12-25 9z"/>
<path fill="#0030ff" stroke-width="1.68" d="M1120 4068l25-8-22-12-25 10zM1095 4076l25-8-22-10-25 8zM1071 4083l24-7-22-10-24 5zM1046 4087l25-4-22-12-25 1zM1021 4088l25-1-22-15-25-2z"/>
<path fill="#0040ff" stroke-width="1.68" d="M997 4087l24 1-22-18-24-4z"/>
<path fill="#0040ff" stroke-width="2.94" d="M972 4085l25 2-22-21-25-4z"/>
<path fill="#0050ff" stroke-width="2.94" d="M947 4084l25 1-22-23-25 2zM922 4088l25-4-22-20-24 8zM898 4095l24-7-21-16-25 12z"/>
<path fill="#0040ff" stroke-width="1.68" d="M873 4105l25-10-22-11-25 13z"/>
<path fill="#0030ff" stroke-width="1.68" d="M873 4105l-22-8-16 9 0 6 13 3z"/>
<path fill="#cfff30" d="M1364 3817l25-30-22-17-25 40z"/>
<path fill="#70ff8f" d="M1339 3903l25-86-22-7-24 88z"/>
<path fill="#00dfff" d="M1315 3982l24-79-21-5-25 76z"/>
<path fill="#0080ff" d="M1290 4021l25-39-22-8-25 36z"/>
<path fill="#0060ff" stroke-width="2.94" d="M1265 4038l25-17-22-11-25 15z"/>
<path fill="#0050ff" stroke-width="2.94" d="M1241 4048l24-10-22-13-24 9z"/>
<path fill="#0040ff" stroke-width="1.68" d="M1216 4056l25-8-22-14-25 9zM1191 4063l25-7-22-13-25 8z"/>
<path fill="#0030ff" stroke-width="1.68" d="M1167 4071l24-8-22-12-24 9zM1142 4078l25-7-22-11-25 8z"/>
<path fill="#0020ff" stroke-width="1.68" d="M1117 4086l25-8-22-10-25 8zM1092 4093l25-7-22-10-24 7zM1068 4099l24-6-21-10-25 4zM1043 4102l25-3-22-12-25 1zM1018 4103l25-1-22-14-24-1z"/>
<path fill="#0030ff" stroke-width="1.68" d="M994 4103l24 0-21-16-25-2zM969 4102l25 1-22-18-25-1z"/>
<path fill="#0040ff" stroke-width="1.68" d="M944 4103l25-1-22-18-25 4zM920 4107l24-4-22-15-24 7z"/>
<path fill="#0030ff" stroke-width="1.68" d="M895 4113l25-6-22-12-25 10zM870 4118l25-5-22-8-25 10z"/>
<path fill="#cfff30" stroke-width="2.94" d="M1386 3821l25-20-22-14-25 30z"/>
<path fill="#70ff8f" d="M1361 3905l25-84-22-4-25 86z"/>
<path fill="#00dfff" d="M1337 3987l24-82-22-2-24 79z"/>
<path fill="#0080ff" d="M1312 4028l25-41-22-5-25 39z"/>
<path fill="#0050ff" stroke-width="2.94" d="M1287 4047l25-19-22-7-25 17z"/>
<path fill="#0040ff" stroke-width="1.68" d="M1262 4059l25-12-22-9-24 10z"/>
<path fill="#0030ff" stroke-width="1.68" d="M1238 4067l24-8-21-11-25 8zM1213 4075l25-8-22-11-25 7zM1188 4081l25-6-22-12-24 8z"/>
<path fill="#0020ff" stroke-width="1.68" d="M1164 4088l24-7-21-10-25 7zM1139 4095l25-7-22-10-25 8zM1114 4102l25-7-22-9-25 7z"/>
<path fill="#0010ff" stroke-width="1.68" d="M1090 4109l24-7-22-9-24 6zM1065 4114l25-5-22-10-25 3zM1040 4117l25-3-22-12-25 1z"/>
<path fill="#0020ff" stroke-width="1.68" d="M1016 4117l24 0-22-14-24 0zM991 4117l25 0-22-14-25-1z"/>
<path fill="#0030ff" stroke-width="1.68" d="M966 4118l25-1-22-15-25 1zM941 4119l25-1-22-15-24 4z"/>
<path fill="#bfff40" stroke-width="2.94" d="M1408 3825l24-13-21-11-25 20z"/>
<path fill="#70ff8f" d="M1383 3905l25-80-22-4-25 84z"/>
<path fill="#00efff" d="M1358 3989l25-84-22 0-24 82z"/>
<path fill="#0080ff" d="M1334 4033l24-44-21-2-25 41z"/>
<path fill="#0050ff" stroke-width="2.94" d="M1309 4053l25-20-22-5-25 19z"/>
<path fill="#0040ff" stroke-width="1.68" d="M1284 4067l25-14-22-6-25 12z"/>
<path fill="#0030ff" stroke-width="1.68" d="M1260 4077l24-10-22-8-24 8zM1235 4085l25-8-22-10-25 8z"/>
<path fill="#0020ff" stroke-width="1.68" d="M1210 4092l25-7-22-10-25 6zM1186 4098l24-6-22-11-24 7zM1161 4105l25-7-22-10-25 7z"/>
<path fill="#0010ff" stroke-width="1.68" d="M1136 4111l25-6-22-10-25 7zM1111 4118l25-7-22-9-24 7zM1087 4124l24-6-21-9-25 5z"/>
<path fill="#0060ff" stroke-width="0.76" d="M865 4107l-22 2-8 1 0 2 5 0z"/>
<path fill="#bfff40" stroke-width="1.68" d="M1430 3833l24-9-22-12-24 13z"/>
<path fill="#80ff80" d="M1405 3908l25-75-22-8-25 80z"/>
<path fill="#00efff" d="M1380 3991l25-83-22-3-25 84z"/>
<path fill="#0080ff" d="M1355 4037l25-46-22-2-24 44z"/>
<path fill="#0050ff" stroke-width="2.94" d="M1331 4059l24-22-21-4-25 20z"/>
<path fill="#0040ff" stroke-width="1.68" d="M1306 4073l25-14-22-6-25 14z"/>
<path fill="#0030ff" stroke-width="1.68" d="M1281 4085l25-12-22-6-24 10z"/>
<path fill="#0020ff" stroke-width="1.68" d="M1257 4094l24-9-21-8-25 8zM1232 4101l25-7-22-9-25 7z"/>
<path fill="#0010ff" stroke-width="1.68" d="M1207 4108l25-7-22-9-24 6zM1183 4114l24-6-21-10-25 7zM1158 4120l25-6-22-9-25 6zM1133 4127l25-7-22-9-25 7z"/>
<path fill="#0070ff" stroke-width="0.76" d="M886 4108l25-3-22 1-24 1zM862 4114l24-6-21-1-25 5z"/>
<path fill="#0060ff" stroke-width="0.76" d="M862 4114l-22-2-5 2 0 6 3 1z"/>
<path fill="#afff50" stroke-width="2.94" d="M1451 3848l25-10-22-14-24 9z"/>
<path fill="#70ff8f" d="M1427 3919l24-71-21-15-25 75z"/>
<path fill="#00efff" d="M1402 3996l25-77-22-11-25 83z"/>
<path fill="#008fff" d="M1377 4041l25-45-22-5-25 46z"/>
<path fill="#0050ff" stroke-width="2.94" d="M1353 4064l24-23-22-4-24 22z"/>
<path fill="#0040ff" stroke-width="1.68" d="M1328 4079l25-15-22-5-25 14z"/>
<path fill="#0030ff" stroke-width="1.68" d="M1303 4091l25-12-22-6-25 12z"/>
<path fill="#0020ff" stroke-width="1.68" d="M1279 4102l24-11-22-6-24 9z"/>
<path fill="#0010ff" stroke-width="1.68" d="M1254 4110l25-8-22-8-25 7zM1229 4117l25-7-22-9-25 7zM1205 4124l24-7-22-9-24 6zM1180 4130l25-6-22-10-25 6z"/>
<path fill="#0070ff" stroke-width="0.76" d="M908 4110l25-4-22-1-25 3zM884 4117l24-7-22-2-24 6zM884 4117l-22-3-24 7 21 3 0 0z"/>
<path fill="#9fff60" stroke-width="2.94" d="M1473 3865l25-13-22-14-25 10z"/>
<path fill="#60ff9f" d="M1449 3935l24-70-22-17-24 71z"/>
<path fill="#00efff" d="M1424 4008l25-73-22-16-25 77z"/>
<path fill="#008fff" d="M1399 4048l25-40-22-12-25 45z"/>
<path fill="#0050ff" stroke-width="2.94" d="M1374 4069l25-21-22-7-24 23z"/>
<path fill="#0040ff" stroke-width="1.68" d="M1350 4084l24-15-21-5-25 15z"/>
<path fill="#0030ff" stroke-width="1.68" d="M1325 4097l25-13-22-5-25 12z"/>
<path fill="#0020ff" stroke-width="1.68" d="M1300 4108l25-11-22-6-24 11z"/>
<path fill="#0010ff" stroke-width="1.68" d="M1276 4118l24-10-21-6-25 8zM1251 4126l25-8-22-8-25 7z"/>
<path fill="#00f" stroke-width="1.68" d="M1226 4133l25-7-22-9-24 7z"/>
<path fill="#0080ff" stroke-width="0.76" d="M955 4107l24-2-21 1-25 0zM930 4113l25-6-22-1-25 4z"/>
<path fill="#0070ff" stroke-width="0.76" d="M905 4120l25-7-22-3-24 7zM905 4120l-21-3-25 7 1 0 21 3z"/>
<path fill="#8fff70" stroke-width="2.94" d="M1495 3882l25-22-22-8-25 13z"/>
<path fill="#50ffaf" d="M1470 3953l25-71-22-17-24 70z"/>
<path fill="#00dfff" d="M1446 4021l24-68-21-18-25 73z"/>
<path fill="#0080ff" d="M1421 4057l25-36-22-13-25 40z"/>
<path fill="#0050ff" stroke-width="2.94" d="M1396 4075l25-18-22-9-25 21z"/>
<path fill="#0040ff" stroke-width="1.68" d="M1372 4090l24-15-22-6-24 15z"/>
<path fill="#0030ff" stroke-width="1.68" d="M1347 4102l25-12-22-6-25 13z"/>
<path fill="#0020ff" stroke-width="1.68" d="M1322 4114l25-12-22-5-25 11z"/>
<path fill="#0010ff" stroke-width="1.68" d="M1298 4124l24-10-22-6-24 10zM1273 4133l25-9-22-6-25 8z"/>
<path fill="#00f" stroke-width="1.68" d="M1248 4141l25-8-22-7-25 7z"/>
<path fill="#0080ff" stroke-width="0.76" d="M1001 4105l25 2-22 1-25-3zM977 4109l24-4-22 0-24 2zM952 4116l25-7-22-2-25 6zM927 4124l25-8-22-3-25 7z"/>
<path fill="#0070ff" stroke-width="0.76" d="M927 4124l-22-4-24 7 24 4z"/>
<path fill="#afff50" d="M1665 3832l25-23-22 21-25 22z"/>
<path fill="#8fff70" d="M1517 3903l25-35-22-8-25 22z"/>
<path fill="#40ffbf" d="M1492 3972l25-69-22-21-25 71z"/>
<path fill="#00cfff" d="M1468 4033l24-61-22-19-24 68z"/>
<path fill="#0080ff" d="M1443 4065l25-32-22-12-25 36z"/>
<path fill="#0050ff" stroke-width="2.94" d="M1418 4082l25-17-22-8-25 18z"/>
<path fill="#0040ff" stroke-width="1.68" d="M1393 4096l25-14-22-7-24 15z"/>
<path fill="#0030ff" stroke-width="1.68" d="M1369 4108l24-12-21-6-25 12z"/>
<path fill="#0020ff" stroke-width="1.68" d="M1344 4119l25-11-22-6-25 12z"/>
<path fill="#0010ff" stroke-width="1.68" d="M1319 4129l25-10-22-5-24 10zM1295 4139l24-10-21-5-25 9z"/>
<path fill="#008fff" stroke-width="0.76" d="M998 4113l25-6-22-2-24 4z"/>
<path fill="#0080ff" stroke-width="0.76" d="M974 4120l24-7-21-4-25 7zM949 4128l25-8-22-4-25 8zM949 4128l-22-4-22 7 24 3z"/>
<path fill="#ffbf00" stroke-width="2.94" d="M1786 3754l24-34-22 21-24 13z"/>
<path fill="#ffdf00" stroke-width="2.94" d="M1761 3783l25-29-22 0-25 16z"/>
<path fill="#ff0" d="M1736 3810l25-27-22-13-25 16z"/>
<path fill="#cfff30" d="M1712 3846l24-36-22-24-24 23z"/>
<path fill="#9fff60" d="M1687 3882l25-36-22-37-25 23z"/>
<path fill="#80ff80" d="M1662 3900l25-18-22-50-25 23z"/>
<path fill="#70ff8f" d="M1637 3895l25 5-22-45-24 23z"/>
<path fill="#70ff8f" stroke-width="1.68" d="M1613 3881l24 14-21-17-25 8z"/>
<path fill="#80ff80" stroke-width="0.76" d="M1588 3878l25 3-22 5-25-11z"/>
<path fill="#8fff70" stroke-width="2.94" d="M1563 3894l25-16-22-3-24-7z"/>
<path fill="#70ff8f" d="M1539 3933l24-39-21-26-25 35z"/>
<path fill="#20ffdf" d="M1514 3993l25-60-22-30-25 69z"/>
<path fill="#00afff" d="M1489 4045l25-52-22-21-24 61z"/>
<path fill="#0070ff" d="M1465 4074l24-29-21-12-25 32z"/>
<path fill="#0050ff" stroke-width="2.94" d="M1440 4090l25-16-22-9-25 17z"/>
<path fill="#0040ff" stroke-width="1.68" d="M1415 4103l25-13-22-8-25 14z"/>
<path fill="#0030ff" stroke-width="1.68" d="M1391 4114l24-11-22-7-24 12z"/>
<path fill="#0020ff" stroke-width="1.68" d="M1366 4125l25-11-22-6-25 11z"/>
<path fill="#0010ff" stroke-width="1.68" d="M1341 4135l25-10-22-6-25 10zM1317 4145l24-10-22-6-24 10z"/>
<path fill="#0080ff" stroke-width="0.76" d="M1070 4109l24 2-21 0-25-4z"/>
<path fill="#008fff" stroke-width="0.76" d="M1045 4111l25-2-22-2-25 0zM1020 4117l25-6-22-4-25 6zM996 4125l24-8-22-4-24 7z"/>
<path fill="#0080ff" stroke-width="0.76" d="M971 4132l25-7-22-5-25 8zM971 4132l-22-4-20 6 24 4z"/>
<path fill="#ff8f00" d="M1832 3747l25-52-22 3-25 22z"/>
<path fill="#ffcf00" d="M1807 3800l25-53-22-27-24 34z"/>
<path fill="#efff10" d="M1783 3841l24-41-21-46-25 29z"/>
<path fill="#bfff40" d="M1758 3874l25-33-22-58-25 27z"/>
<path fill="#8fff70" d="M1733 3909l25-35-22-64-24 36z"/>
<path fill="#50ffaf" d="M1709 3948l24-39-21-63-25 36z"/>
<path fill="#20ffdf" d="M1684 3975l25-27-22-66-25 18zM1659 3971l25 4-22-75-25-5z"/>
<path fill="#30ffcf" d="M1635 3949l24 22-22-76-24-14z"/>
<path fill="#50ffaf" d="M1610 3937l25 12-22-68-25-3zM1585 3950l25-13-22-59-25 16z"/>
<path fill="#30ffcf" d="M1561 3983l24-33-22-56-24 39z"/>
<path fill="#00efff" d="M1536 4023l25-40-22-50-25 60z"/>
<path fill="#009fff" d="M1511 4059l25-36-22-30-25 52z"/>
<path fill="#0070ff" stroke-width="2.94" d="M1487 4082l24-23-22-14-24 29z"/>
<path fill="#0050ff" stroke-width="2.94" d="M1462 4097l25-15-22-8-25 16z"/>
<path fill="#0040ff" stroke-width="1.68" d="M1437 4110l25-13-22-7-25 13z"/>
<path fill="#0030ff" stroke-width="1.68" d="M1412 4121l25-11-22-7-24 11z"/>
<path fill="#0020ff" stroke-width="1.68" d="M1388 4131l24-10-21-7-25 11z"/>
<path fill="#0010ff" stroke-width="1.68" d="M1363 4141l25-10-22-6-25 10zM1338 4149l25-8-22-6-24 10z"/>
<path fill="#0080ff" stroke-width="0.76" d="M1116 4114l25 3-22-1-25-5z"/>
<path fill="#008fff" stroke-width="0.76" d="M1091 4113l25 1-22-3-24-2zM1067 4115l24-2-21-4-25 2zM1042 4122l25-7-22-4-25 6zM1017 4129l25-7-22-5-24 8z"/>
<path fill="#0080ff" stroke-width="0.76" d="M993 4137l24-8-21-4-25 7zM993 4137l-22-5-18 6 25 4z"/>
<path fill="#ff6000" d="M1879 3714l24-54-21 11-25 24z"/>
<path fill="#ffaf00" d="M1854 3787l25-73-22-19-25 52z"/>
<path fill="#efff10" d="M1829 3854l25-67-22-40-25 53z"/>
<path fill="#9fff60" d="M1805 3907l24-53-22-54-24 41z"/>
<path fill="#50ffaf" d="M1780 3945l25-38-22-66-25 33z"/>
<path fill="#20ffdf" d="M1755 3975l25-30-22-71-25 35z"/>
<path fill="#00efff" d="M1731 4003l24-28-22-66-24 39z"/>
<path fill="#00bfff" d="M1706 4026l25-23-22-55-25 27z"/>
<path fill="#00afff" d="M1681 4033l25-7-22-51-25-4z"/>
<path fill="#00bfff" d="M1656 4026l25 7-22-62-24-22z"/>
<path fill="#00dfff" d="M1632 4015l24 11-21-77-25-12z"/>
<path fill="#00efff" d="M1607 4017l25-2-22-78-25 13z"/>
<path fill="#00cfff" d="M1582 4035l25-18-22-67-24 33z"/>
<path fill="#00afff" d="M1558 4056l24-21-21-52-25 40z"/>
<path fill="#0080ff" d="M1533 4075l25-19-22-33-25 36z"/>
<path fill="#0060ff" stroke-width="2.94" d="M1508 4091l25-16-22-16-24 23z"/>
<path fill="#0040ff" stroke-width="2.94" d="M1484 4105l24-14-21-9-25 15z"/>
<path fill="#0030ff" stroke-width="1.68" d="M1459 4117l25-12-22-8-25 13zM1434 4128l25-11-22-7-25 11z"/>
<path fill="#0020ff" stroke-width="1.68" d="M1410 4138l24-10-22-7-24 10z"/>
<path fill="#0010ff" stroke-width="1.68" d="M1385 4147l25-9-22-7-25 10z"/>
<path fill="#0010ff" stroke-width="0.76" d="M1360 4153l25-6-22-6-25 8z"/>
<path fill="#0070ff" stroke-width="0.76" d="M1163 4120l24 3-21-2-25-4z"/>
<path fill="#0080ff" stroke-width="0.76" d="M1138 4119l25 1-22-3-25-3z"/>
<path fill="#008fff" stroke-width="0.76" d="M1113 4118l25 1-22-5-25-1zM1089 4120l24-2-22-5-24 2zM1064 4126l25-6-22-5-25 7zM1039 4134l25-8-22-4-25 7z"/>
<path fill="#0080ff" stroke-width="0.76" d="M1015 4141l24-7-22-5-24 8zM1015 4141l-22-4-15 5 24 3z"/>
<path fill="#ff2000" stroke-width="2.94" d="M1925 3673l25-39-22 18-25 8z"/>
<path fill="#ff6000" d="M1901 3742l24-69-22-13-24 54z"/>
<path fill="#ffcf00" d="M1876 3821l25-79-22-28-25 73z"/>
<path fill="#afff50" d="M1851 3898l25-77-22-34-25 67z"/>
<path fill="#40ffbf" d="M1826 3961l25-63-22-44-24 53z"/>
<path fill="#00efff" d="M1802 4002l24-41-21-54-25 38z"/>
<path fill="#00bfff" d="M1777 4024l25-22-22-57-25 30z"/>
<path fill="#009fff" d="M1752 4039l25-15-22-49-24 28z"/>
<path fill="#0080ff" d="M1728 4053l24-14-21-36-25 23z"/>
<path fill="#0070ff" stroke-width="2.94" d="M1703 4063l25-10-22-27-25 7z"/>
<path fill="#0070ff" d="M1678 4066l25-3-22-30-25-7z"/>
<path fill="#0080ff" d="M1654 4064l24 2-22-40-24-11z"/>
<path fill="#008fff" d="M1629 4063l25 1-22-49-25 2zM1604 4070l25-7-22-46-25 18z"/>
<path fill="#0070ff" d="M1580 4080l24-10-22-35-24 21z"/>
<path fill="#0060ff" stroke-width="2.94" d="M1555 4090l25-10-22-24-25 19z"/>
<path fill="#0050ff" stroke-width="2.94" d="M1530 4101l25-11-22-15-25 16z"/>
<path fill="#0040ff" stroke-width="1.68" d="M1505 4113l25-12-22-10-24 14z"/>
<path fill="#0030ff" stroke-width="1.68" d="M1481 4124l24-11-21-8-25 12z"/>
<path fill="#0020ff" stroke-width="1.68" d="M1456 4135l25-11-22-7-25 11zM1431 4144l25-9-22-7-24 10z"/>
<path fill="#0010ff" stroke-width="1.68" d="M1407 4152l24-8-21-6-25 9z"/>
<path fill="#0060ff" stroke-width="0.76" d="M1234 4128l25 4-22-1-25-5z"/>
<path fill="#0070ff" stroke-width="0.76" d="M1209 4126l25 2-22-2-25-3z"/>
<path fill="#0080ff" stroke-width="0.76" d="M1185 4125l24 1-22-3-24-3zM1160 4123l25 2-22-5-25-1z"/>
<path fill="#008fff" stroke-width="0.76" d="M1135 4123l25 0-22-4-25-1zM1110 4125l25-2-22-5-24 2zM1086 4131l24-6-21-5-25 6zM1061 4138l25-7-22-5-25 8zM1036 4146l25-8-22-4-24 7z"/>
<path fill="#0080ff" stroke-width="0.76" d="M1036 4146l-21-5-13 4 24 4z"/>
<path fill="#ef0000" stroke-width="2.94" d="M1972 3639l24-20-21 23-25-8z"/>
<path fill="#ff2000" d="M1947 3701l25-62-22-5-25 39z"/>
<path fill="#ff8000" d="M1922 3775l25-74-22-28-24 69z"/>
<path fill="#ff0" d="M1898 3852l24-77-21-33-25 79z"/>
<path fill="#80ff80" d="M1873 3931l25-79-22-31-25 77z"/>
<path fill="#0ff" d="M1848 3997l25-66-22-33-25 63z"/>
<path fill="#00afff" d="M1824 4034l24-37-22-36-24 41z"/>
<path fill="#0080ff" d="M1799 4051l25-17-22-32-25 22z"/>
<path fill="#0070ff" stroke-width="2.94" d="M1774 4061l25-10-22-27-25 15z"/>
<path fill="#0060ff" stroke-width="2.94" d="M1750 4070l24-9-22-22-24 14z"/>
<path fill="#0050ff" stroke-width="2.94" d="M1725 4078l25-8-22-17-25 10zM1700 4085l25-7-22-15-25 3zM1675 4089l25-4-22-19-24-2zM1651 4089l24 0-21-25-25-1z"/>
<path fill="#0060ff" stroke-width="2.94" d="M1626 4091l25-2-22-26-25 7z"/>
<path fill="#0050ff" stroke-width="2.94" d="M1601 4097l25-6-22-21-24 10zM1577 4104l24-7-21-17-25 10z"/>
<path fill="#0040ff" stroke-width="2.94" d="M1552 4113l25-9-22-14-25 11z"/>
<path fill="#0040ff" stroke-width="1.68" d="M1527 4122l25-9-22-12-25 12z"/>
<path fill="#0030ff" stroke-width="1.68" d="M1503 4132l24-10-22-9-24 11z"/>
<path fill="#0020ff" stroke-width="1.68" d="M1478 4142l25-10-22-8-25 11zM1453 4151l25-9-22-7-25 9z"/>
<path fill="#0010ff" stroke-width="0.76" d="M1429 4156l24-5-22-7-24 8z"/>
<path fill="#0060ff" stroke-width="0.76" d="M1280 4135l25 2-22-1-24-4z"/>
<path fill="#0070ff" stroke-width="0.76" d="M1256 4133l24 2-21-3-25-4zM1231 4131l25 2-22-5-25-2z"/>
<path fill="#0080ff" stroke-width="0.76" d="M1206 4130l25 1-22-5-24-1zM1182 4128l24 2-21-5-25-2z"/>
<path fill="#008fff" stroke-width="0.76" d="M1157 4127l25 1-22-5-25 0zM1132 4129l25-2-22-4-25 2zM1108 4135l24-6-22-4-24 6zM1083 4143l25-8-22-4-25 7zM1058 4150l25-7-22-5-25 8z"/>
<path fill="#0080ff" stroke-width="0.76" d="M1058 4150l-22-4-10 3 6 1 11 5z"/>
<path fill="#ef0000" d="M1994 3657l24-46-22 8-24 20z"/>
<path fill="#ff4000" d="M1969 3733l25-76-22-18-25 62z"/>
<path fill="#ffaf00" d="M1944 3811l25-78-22-32-25 74z"/>
<path fill="#cfff30" d="M1920 3886l24-75-22-36-24 77z"/>
<path fill="#50ffaf" d="M1895 3960l25-74-22-34-25 79z"/>
<path fill="#00dfff" d="M1870 4019l25-59-22-29-25 66z"/>
<path fill="#008fff" d="M1845 4051l25-32-22-22-24 37z"/>
<path fill="#0060ff" stroke-width="2.94" d="M1821 4066l24-15-21-17-25 17z"/>
<path fill="#0050ff" stroke-width="2.94" d="M1796 4076l25-10-22-15-25 10zM1771 4084l25-8-22-15-24 9z"/>
<path fill="#0040ff" stroke-width="1.68" d="M1747 4091l24-7-21-14-25 8zM1722 4099l25-8-22-13-25 7zM1697 4104l25-5-22-14-25 4zM1673 4107l24-3-22-15-24 0zM1648 4109l25-2-22-18-25 2zM1623 4112l25-3-22-18-25 6zM1599 4117l24-5-22-15-24 7zM1574 4124l25-7-22-13-25 9z"/>
<path fill="#0030ff" stroke-width="1.68" d="M1549 4132l25-8-22-11-25 9zM1524 4140l25-8-22-10-24 10z"/>
<path fill="#0020ff" stroke-width="1.68" d="M1500 4149l24-9-21-8-25 10zM1475 4156l25-7-22-7-25 9z"/>
<path fill="#0010ff" stroke-width="0.76" d="M1450 4159l25-3-22-5-24 5z"/>
<path fill="#0040ff" stroke-width="0.76" d="M1352 4143l24 4-21-1-25-5z"/>
<path fill="#0050ff" stroke-width="0.76" d="M1327 4141l25 2-22-2-25-4z"/>
<path fill="#0060ff" stroke-width="0.76" d="M1302 4139l25 2-22-4-25-2z"/>
<path fill="#0070ff" stroke-width="0.76" d="M1278 4137l24 2-22-4-24-2zM1253 4136l25 1-22-4-25-2z"/>
<path fill="#0080ff" stroke-width="0.76" d="M1228 4134l25 2-22-5-25-1z"/>
<path fill="#008fff" stroke-width="0.76" d="M1204 4133l24 1-22-4-24-2zM1179 4132l25 1-22-5-25-1z"/>
<path fill="#009fff" stroke-width="0.76" d="M1154 4134l25-2-22-5-25 2zM1129 4140l25-6-22-5-24 6z"/>
<path fill="#008fff" stroke-width="0.76" d="M1105 4147l24-7-21-5-25 8zM1080 4155l25-8-22-4-25 7z"/>
<path fill="#0080ff" stroke-width="0.76" d="M1080 4155l-22-5-15 5 14 7z"/>
<path fill="#cf0000" stroke-width="1.68" d="M2040 3618l25-8-22 17-25-16z"/>
<path fill="#ef0000" d="M2015 3681l25-63-22-7-24 46z"/>
<path fill="#ff6000" d="M1991 3763l24-82-21-24-25 76z"/>
<path fill="#ffdf00" d="M1966 3845l25-82-22-30-25 78z"/>
<path fill="#9fff60" d="M1941 3922l25-77-22-34-24 75z"/>
<path fill="#20ffdf" d="M1917 3989l24-67-21-36-25 74z"/>
<path fill="#00afff" d="M1892 4037l25-48-22-29-25 59z"/>
<path fill="#0070ff" d="M1867 4062l25-25-22-18-25 32z"/>
<path fill="#0050ff" stroke-width="2.94" d="M1843 4077l24-15-22-11-24 15z"/>
<path fill="#0040ff" stroke-width="2.94" d="M1818 4088l25-11-22-11-25 10z"/>
<path fill="#0040ff" stroke-width="1.68" d="M1793 4097l25-9-22-12-25 8z"/>
<path fill="#0030ff" stroke-width="1.68" d="M1769 4104l24-7-22-13-24 7zM1744 4110l25-6-22-13-25 8zM1719 4117l25-7-22-11-25 5zM1694 4121l25-4-22-13-24 3zM1670 4124l24-3-21-14-25 2zM1645 4126l25-2-22-15-25 3zM1620 4130l25-4-22-14-24 5zM1596 4136l24-6-21-13-25 7zM1571 4142l25-6-22-12-25 8z"/>
<path fill="#0020ff" stroke-width="1.68" d="M1546 4149l25-7-22-10-25 8zM1522 4156l24-7-22-9-24 9z"/>
<path fill="#0020ff" stroke-width="0.76" d="M1497 4160l25-4-22-7-25 7zM1472 4160l25 0-22-4-25 3z"/>
<path fill="#0040ff" stroke-width="0.76" d="M1398 4150l25 2-22-1-25-4z"/>
<path fill="#0050ff" stroke-width="0.76" d="M1374 4148l24 2-22-3-24-4z"/>
<path fill="#0060ff" stroke-width="0.76" d="M1349 4146l25 2-22-5-25-2zM1324 4144l25 2-22-5-25-2z"/>
<path fill="#0070ff" stroke-width="0.76" d="M1299 4142l25 2-22-5-24-2zM1275 4141l24 1-21-5-25-1z"/>
<path fill="#0080ff" stroke-width="0.76" d="M1250 4139l25 2-22-5-25-2z"/>
<path fill="#008fff" stroke-width="0.76" d="M1225 4138l25 1-22-5-24-1zM1201 4137l24 1-21-5-25-1z"/>
<path fill="#009fff" stroke-width="0.76" d="M1176 4139l25-2-22-5-25 2zM1151 4145l25-6-22-5-25 6z"/>
<path fill="#008fff" stroke-width="0.76" d="M1127 4152l24-7-22-5-24 7zM1102 4160l25-8-22-5-25 8zM1102 4160l-22-5-23 7 4 2 16 4z"/>
<path fill="#bf0000" stroke-width="2.94" d="M2062 3627l25-30-22 13-25 8z"/>
<path fill="#f00" d="M2037 3704l25-77-22-9-25 63z"/>
<path fill="#ff8000" d="M2013 3790l24-86-22-23-24 82z"/>
<path fill="#efff10" d="M1988 3875l25-85-22-27-25 82z"/>
<path fill="#60ff9f" d="M1963 3955l25-80-22-30-25 77z"/>
<path fill="#00efff" d="M1938 4020l25-65-22-33-24 67z"/>
<path fill="#008fff" d="M1914 4056l24-36-21-31-25 48z"/>
<path fill="#0060ff" stroke-width="2.94" d="M1889 4074l25-18-22-19-25 25z"/>
<path fill="#0050ff" stroke-width="2.94" d="M1864 4087l25-13-22-12-24 15z"/>
<path fill="#0040ff" stroke-width="1.68" d="M1840 4098l24-11-21-10-25 11z"/>
<path fill="#0030ff" stroke-width="1.68" d="M1815 4107l25-9-22-10-25 9zM1790 4115l25-8-22-10-24 7z"/>
<path fill="#0020ff" stroke-width="1.68" d="M1766 4121l24-6-21-11-25 6zM1741 4127l25-6-22-11-25 7zM1716 4133l25-6-22-10-25 4zM1692 4137l24-4-22-12-24 3zM1667 4140l25-3-22-13-25 2zM1642 4143l25-3-22-14-25 4zM1618 4147l24-4-22-13-24 6zM1593 4153l25-6-22-11-25 6zM1568 4158l25-5-22-11-25 7zM1543 4162l25-4-22-9-24 7z"/>
<path fill="#0020ff" stroke-width="0.76" d="M1519 4163l24-1-21-6-25 4zM1494 4161l25 2-22-3-25 0z"/>
<path fill="#0030ff" stroke-width="0.76" d="M1469 4158l25 3-22-1-24-4z"/>
<path fill="#0040ff" stroke-width="0.76" d="M1445 4156l24 2-21-2-25-4zM1420 4154l25 2-22-4-25-2z"/>
<path fill="#0050ff" stroke-width="0.76" d="M1395 4152l25 2-22-4-24-2z"/>
<path fill="#0060ff" stroke-width="0.76" d="M1371 4150l24 2-21-4-25-2zM1346 4149l25 1-22-4-25-2z"/>
<path fill="#0070ff" stroke-width="0.76" d="M1321 4147l25 2-22-5-25-2z"/>
<path fill="#0080ff" stroke-width="0.76" d="M1297 4145l24 2-22-5-24-1zM1272 4144l25 1-22-4-25-2z"/>
<path fill="#008fff" stroke-width="0.76" d="M1247 4142l25 2-22-5-25-1zM1223 4141l24 1-22-4-24-1z"/>
<path fill="#009fff" stroke-width="0.76" d="M1198 4143l25-2-22-4-25 2zM1173 4150l25-7-22-4-25 6zM1148 4158l25-8-22-5-24 7z"/>
<path fill="#008fff" stroke-width="1.68" d="M1124 4165l24-7-21-6-25 8zM1099 4173l25-8-22-5-25 8z"/>
<path fill="#0080ff" stroke-width="0.76" d="M1099 4173l-22-5-5 2 15 7z"/>
<path fill="#af0000" d="M2084 3635l24-45-21 7-25 30z"/>
<path fill="#ff1000" d="M2059 3721l25-86-22-8-25 77z"/>
<path fill="#ff9f00" d="M2034 3813l25-92-22-17-24 86z"/>
<path fill="#cfff30" d="M2010 3902l24-89-21-23-25 85z"/>
<path fill="#40ffbf" d="M1985 3984l25-82-22-27-25 80z"/>
<path fill="#00bfff" d="M1960 4045l25-61-22-29-25 65z"/>
<path fill="#0070ff" d="M1936 4075l24-30-22-25-24 36z"/>
<path fill="#0050ff" stroke-width="2.94" d="M1911 4087l25-12-22-19-25 18z"/>
<path fill="#0040ff" stroke-width="2.94" d="M1886 4097l25-10-22-13-25 13z"/>
<path fill="#0030ff" stroke-width="1.68" d="M1862 4107l24-10-22-10-24 11zM1837 4116l25-9-22-9-25 9z"/>
<path fill="#0020ff" stroke-width="1.68" d="M1812 4125l25-9-22-9-25 8zM1788 4131l24-6-22-10-24 6zM1763 4137l25-6-22-10-25 6zM1738 4143l25-6-22-10-25 6z"/>
<path fill="#0010ff" stroke-width="1.68" d="M1713 4149l25-6-22-10-24 4zM1689 4152l24-3-21-12-25 3z"/>
<path fill="#0020ff" stroke-width="1.68" d="M1664 4155l25-3-22-12-25 3zM1639 4158l25-3-22-12-24 4zM1615 4163l24-5-21-11-25 6z"/>
<path fill="#0010ff" stroke-width="1.68" d="M1590 4166l25-3-22-10-25 5z"/>
<path fill="#0020ff" stroke-width="0.76" d="M1565 4167l25-1-22-8-25 4zM1541 4166l24 1-22-5-24 1zM1516 4164l25 2-22-3-25-2z"/>
<path fill="#0030ff" stroke-width="0.76" d="M1491 4162l25 2-22-3-25-3z"/>
<path fill="#0040ff" stroke-width="0.76" d="M1467 4161l24 1-22-4-24-2z"/>
<path fill="#0050ff" stroke-width="0.76" d="M1442 4159l25 2-22-5-25-2zM1417 4157l25 2-22-5-25-2z"/>
<path fill="#0060ff" stroke-width="0.76" d="M1392 4155l25 2-22-5-24-2zM1368 4153l24 2-21-5-25-1z"/>
<path fill="#0070ff" stroke-width="0.76" d="M1343 4152l25 1-22-4-25-2z"/>
<path fill="#0080ff" stroke-width="0.76" d="M1318 4150l25 2-22-5-24-2zM1294 4148l24 2-21-5-25-1z"/>
<path fill="#008fff" stroke-width="0.76" d="M1269 4147l25 1-22-4-25-2z"/>
<path fill="#009fff" stroke-width="0.76" d="M1244 4146l25 1-22-5-24-1zM1220 4148l24-2-21-5-25 2zM1195 4155l25-7-22-5-25 7zM1170 4163l25-8-22-5-25 8z"/>
<path fill="#008fff" stroke-width="1.68" d="M1146 4171l24-8-22-5-24 7zM1121 4179l25-8-22-6-25 8z"/>
<path fill="#0080ff" stroke-width="0.76" d="M1121 4179l-22-6-12 4 15 8z"/>
<path fill="#9f0000" d="M2106 3644l24-57-22 3-24 45z"/>
<path fill="#ff2000" d="M2081 3735l25-91-22-9-25 86z"/>
<path fill="#ffaf00" d="M2056 3831l25-96-22-14-25 92z"/>
<path fill="#afff50" d="M2032 3924l24-93-22-18-24 89z"/>
<path fill="#20ffdf" d="M2007 4006l25-82-22-22-25 82z"/>
<path fill="#009fff" d="M1982 4062l25-56-22-22-25 61z"/>
<path fill="#0060ff" d="M1957 4089l25-27-22-17-24 30z"/>
<path fill="#0040ff" stroke-width="2.94" d="M1933 4101l24-12-21-14-25 12z"/>
<path fill="#0040ff" stroke-width="1.68" d="M1908 4108l25-7-22-14-25 10z"/>
<path fill="#0030ff" stroke-width="1.68" d="M1883 4116l25-8-22-11-24 10zM1859 4125l24-9-21-9-25 9z"/>
<path fill="#0020ff" stroke-width="1.68" d="M1834 4133l25-8-22-9-25 9zM1809 4141l25-8-22-8-24 6z"/>
<path fill="#0010ff" stroke-width="1.68" d="M1785 4147l24-6-21-10-25 6zM1760 4153l25-6-22-10-25 6zM1735 4159l25-6-22-10-25 6zM1711 4164l24-5-22-10-24 3zM1686 4167l25-3-22-12-25 3zM1661 4169l25-2-22-12-25 3zM1637 4172l24-3-22-11-24 5z"/>
<path fill="#0030ff" stroke-width="0.76" d="M1513 4167l25 2-22-5-25-2z"/>
<path fill="#0040ff" stroke-width="0.76" d="M1488 4165l25 2-22-5-24-1z"/>
<path fill="#0050ff" stroke-width="0.76" d="M1464 4163l24 2-21-4-25-2zM1439 4161l25 2-22-4-25-2z"/>
<path fill="#0060ff" stroke-width="0.76" d="M1414 4160l25 1-22-4-25-2z"/>
<path fill="#0070ff" stroke-width="0.76" d="M1390 4158l24 2-22-5-24-2zM1365 4157l25 1-22-5-25-1z"/>
<path fill="#0080ff" stroke-width="0.76" d="M1340 4155l25 2-22-5-25-2z"/>
<path fill="#008fff" stroke-width="0.76" d="M1316 4153l24 2-22-5-24-2zM1291 4151l25 2-22-5-25-1z"/>
<path fill="#009fff" stroke-width="0.76" d="M1266 4150l25 1-22-4-25-1zM1242 4154l24-4-22-4-24 2zM1217 4160l25-6-22-6-25 7z"/>
<path fill="#009fff" stroke-width="1.68" d="M1192 4168l25-8-22-5-25 8z"/>
<path fill="#008fff" stroke-width="1.68" d="M1167 4176l25-8-22-5-24 8zM1143 4184l24-8-21-5-25 8z"/>
<path fill="#0080ff" stroke-width="1.68" d="M1143 4184l-22-5-19 6 13 6 3 1z"/>
<path fill="#800000" stroke-width="1.68" d="M2152 3600l25-21-22 11-25-3z"/>
<path fill="#af0000" d="M2127 3661l25-61-22-13-24 57z"/>
<path fill="#ff2000" d="M2103 3748l24-87-21-17-25 91z"/>
<path fill="#ffbf00" d="M2078 3844l25-96-22-13-25 96z"/>
<path fill="#9fff60" d="M2053 3940l25-96-22-13-24 93z"/>
<path fill="#0ff" d="M2029 4021l24-81-21-16-25 82z"/>
<path fill="#008fff" d="M2004 4071l25-50-22-15-25 56z"/>
<path fill="#0050ff" stroke-width="2.94" d="M1979 4098l25-27-22-9-25 27z"/>
<path fill="#0040ff" stroke-width="2.94" d="M1955 4113l24-15-22-9-24 12z"/>
<path fill="#0030ff" stroke-width="1.68" d="M1930 4121l25-8-22-12-25 7zM1905 4126l25-5-22-13-25 8z"/>
<path fill="#0020ff" stroke-width="1.68" d="M1881 4133l24-7-22-10-24 9zM1856 4141l25-8-22-8-25 8z"/>
<path fill="#0010ff" stroke-width="1.68" d="M1831 4149l25-8-22-8-25 8zM1806 4157l25-8-22-8-24 6zM1782 4163l24-6-21-10-25 6z"/>
<path fill="#00f" stroke-width="1.68" d="M1757 4169l25-6-22-10-25 6zM1732 4174l25-5-22-10-24 5zM1708 4178l24-4-21-10-25 3z"/>
<path fill="#00f" stroke-width="0.76" d="M1683 4179l25-1-22-11-25 2z"/>
<path fill="#0050ff" stroke-width="0.76" d="M1486 4168l24 2-22-5-24-2zM1461 4166l25 2-22-5-25-2z"/>
<path fill="#0060ff" stroke-width="0.76" d="M1436 4164l25 2-22-5-25-1z"/>
<path fill="#0070ff" stroke-width="0.76" d="M1411 4163l25 1-22-4-24-2zM1387 4161l24 2-21-5-25-1z"/>
<path fill="#0080ff" stroke-width="0.76" d="M1362 4159l25 2-22-4-25-2z"/>
<path fill="#008fff" stroke-width="0.76" d="M1337 4157l25 2-22-4-24-2zM1313 4156l24 1-21-4-25-2z"/>
<path fill="#009fff" stroke-width="0.76" d="M1288 4155l25 1-22-5-25-1zM1263 4159l25-4-22-5-24 4zM1239 4165l24-6-21-5-25 6z"/>
<path fill="#009fff" stroke-width="1.68" d="M1214 4173l25-8-22-5-25 8z"/>
<path fill="#008fff" stroke-width="1.68" d="M1189 4181l25-8-22-5-25 8zM1165 4189l24-8-22-5-24 8z"/>
<path fill="#0080ff" stroke-width="1.68" d="M1140 4197l25-8-22-5-25 8z"/>
<path fill="#0080ff" stroke-width="0.76" d="M1140 4197l-22-5-1 0 15 7z"/>
<path fill="#800000" stroke-width="0.76" d="M2223 3590l25-5-22 5-24-6z"/>
<path fill="#800000" stroke-width="2.94" d="M2199 3612l24-22-21-6-25-5z"/>
<path fill="#8f0000" d="M2174 3646l25-34-22-33-25 21z"/>
<path fill="#cf0000" d="M2149 3698l25-52-22-46-25 61z"/>
<path fill="#ff4000" d="M2125 3769l24-71-22-37-24 87z"/>
<path fill="#ffcf00" d="M2100 3857l25-88-22-21-25 96z"/>
<path fill="#8fff70" d="M2075 3952l25-95-22-13-25 96z"/>
<path fill="#00efff" d="M2051 4033l24-81-22-12-24 81z"/>
<path fill="#008fff" d="M2026 4078l25-45-22-12-25 50z"/>
<path fill="#0050ff" stroke-width="2.94" d="M2001 4103l25-25-22-7-25 27z"/>
<path fill="#0030ff" stroke-width="2.94" d="M1976 4121l25-18-22-5-24 15z"/>
<path fill="#0020ff" stroke-width="1.68" d="M1952 4133l24-12-21-8-25 8zM1927 4139l25-6-22-12-25 5zM1902 4143l25-4-22-13-24 7z"/>
<path fill="#0010ff" stroke-width="1.68" d="M1878 4149l24-6-21-10-25 8zM1853 4157l25-8-22-8-25 8zM1828 4165l25-8-22-8-25 8z"/>
<path fill="#00f" stroke-width="1.68" d="M1804 4172l24-7-22-8-24 6zM1779 4178l25-6-22-9-25 6zM1754 4183l25-5-22-9-25 5z"/>
<path fill="#0070ff" stroke-width="0.76" d="M1433 4168l25 1-22-5-25-1z"/>
<path fill="#0080ff" stroke-width="0.76" d="M1409 4166l24 2-22-5-24-2zM1384 4163l25 3-22-5-25-2z"/>
<path fill="#008fff" stroke-width="0.76" d="M1359 4162l25 1-22-4-25-2z"/>
<path fill="#009fff" stroke-width="0.76" d="M1335 4160l24 2-22-5-24-1zM1310 4160l25 0-22-4-25-1zM1285 4164l25-4-22-5-25 4zM1260 4171l25-7-22-5-24 6z"/>
<path fill="#009fff" stroke-width="1.68" d="M1236 4179l24-8-21-6-25 8z"/>
<path fill="#008fff" stroke-width="1.68" d="M1211 4186l25-7-22-6-25 8zM1186 4194l25-8-22-5-24 8zM1162 4202l24-8-21-5-25 8z"/>
<path fill="#0080ff" stroke-width="0.76" d="M1162 4202l-22-5-8 2 16 8z"/>
<path fill="#8f0000" d="M2245 3628l25-16-22-27-25 5z"/>
<path fill="#af0000" d="M2221 3672l24-44-22-38-24 22z"/>
<path fill="#df0000" d="M2196 3712l25-40-22-60-25 34z"/>
<path fill="#ff2000" d="M2171 3754l25-42-22-66-25 52z"/>
<path fill="#ff8000" d="M2146 3807l25-53-22-56-24 71z"/>
<path fill="#ffef00" d="M2122 3877l24-70-21-38-25 88z"/>
<path fill="#80ff80" d="M2097 3964l25-87-22-20-25 95z"/>
<path fill="#00efff" d="M2072 4043l25-79-22-12-24 81z"/>
<path fill="#0080ff" d="M2048 4085l24-42-21-10-25 45z"/>
<path fill="#0050ff" stroke-width="2.94" d="M2023 4107l25-22-22-7-25 25z"/>
<path fill="#0030ff" stroke-width="2.94" d="M1998 4125l25-18-22-4-25 18z"/>
<path fill="#0020ff" stroke-width="1.68" d="M1974 4141l24-16-22-4-24 12z"/>
<path fill="#0010ff" stroke-width="1.68" d="M1949 4150l25-9-22-8-25 6zM1924 4154l25-4-22-11-25 4zM1900 4158l24-4-22-11-24 6zM1875 4165l25-7-22-9-25 8z"/>
<path fill="#00f" stroke-width="1.68" d="M1850 4173l25-8-22-8-25 8zM1825 4180l25-7-22-8-24 7zM1801 4187l24-7-21-8-25 6z"/>
<path fill="#00f" stroke-width="0.76" d="M1776 4191l25-4-22-9-25 5z"/>
<path fill="#008fff" stroke-width="0.76" d="M1381 4164l25 3-22-4-25-1z"/>
<path fill="#009fff" stroke-width="0.76" d="M1356 4163l25 1-22-2-24-2zM1332 4165l24-2-21-3-25 0zM1307 4170l25-5-22-5-25 4z"/>
<path fill="#009fff" stroke-width="1.68" d="M1282 4177l25-7-22-6-25 7zM1258 4185l24-8-22-6-24 8z"/>
<path fill="#008fff" stroke-width="1.68" d="M1233 4193l25-8-22-6-25 7zM1208 4200l25-7-22-7-25 8zM1184 4208l24-8-22-6-24 8z"/>
<path fill="#0080ff" stroke-width="0.76" d="M1184 4208l-22-6-14 5 15 8z"/>
<path fill="#af0000" d="M2267 3659l25-17-22-30-25 16z"/>
<path fill="#ef0000" d="M2242 3719l25-60-22-31-24 44z"/>
<path fill="#ff4000" d="M2218 3776l24-57-21-47-25 40z"/>
<path fill="#ff8f00" d="M2193 3820l25-44-22-64-25 42z"/>
<path fill="#ffcf00" d="M2168 3863l25-43-22-66-25 53z"/>
<path fill="#cfff30" d="M2144 3916l24-53-22-56-24 70z"/>
<path fill="#60ff9f" d="M2119 3985l25-69-22-39-25 87z"/>
<path fill="#00dfff" d="M2094 4053l25-68-22-21-25 79z"/>
<path fill="#0080ff" d="M2070 4092l24-39-22-10-24 42z"/>
<path fill="#0050ff" stroke-width="2.94" d="M2045 4112l25-20-22-7-25 22z"/>
<path fill="#0040ff" stroke-width="1.68" d="M2020 4128l25-16-22-5-25 18z"/>
<path fill="#0020ff" stroke-width="1.68" d="M1995 4144l25-16-22-3-24 16z"/>
<path fill="#0010ff" stroke-width="1.68" d="M1971 4157l24-13-21-3-25 9zM1946 4164l25-7-22-7-25 4zM1921 4168l25-4-22-10-24 4z"/>
<path fill="#00f" stroke-width="1.68" d="M1897 4173l24-5-21-10-25 7zM1872 4180l25-7-22-8-25 8zM1847 4188l25-8-22-7-25 7zM1823 4194l24-6-22-8-24 7z"/>
<path fill="#009fff" stroke-width="0.76" d="M1378 4166l25-2-22 0-25-1zM1354 4171l24-5-22-3-24 2zM1329 4177l25-6-22-6-25 5z"/>
<path fill="#009fff" stroke-width="1.68" d="M1304 4184l25-7-22-7-25 7zM1279 4192l25-8-22-7-24 8z"/>
<path fill="#008fff" stroke-width="1.68" d="M1255 4200l24-8-21-7-25 8zM1230 4207l25-7-22-7-25 7zM1205 4215l25-8-22-7-24 8z"/>
<path fill="#0080ff" stroke-width="1.68" d="M1205 4215l-21-7-21 7 11 5 2 1 5 2z"/>
<path fill="#ef0000" d="M2314 3681l24 9-22-19-24-29zM2289 3693l25-12-22-39-25 17z"/>
<path fill="#ff2000" d="M2264 3747l25-54-22-34-25 60z"/>
<path fill="#ff8000" d="M2239 3821l25-74-22-28-24 57z"/>
<path fill="#ffdf00" d="M2215 3881l24-60-21-45-25 44z"/>
<path fill="#cfff30" d="M2190 3928l25-47-22-61-25 43z"/>
<path fill="#80ff80" d="M2165 3972l25-44-22-65-24 53z"/>
<path fill="#20ffdf" d="M2141 4021l24-49-21-56-25 69z"/>
<path fill="#00bfff" d="M2116 4070l25-49-22-36-25 68z"/>
<path fill="#0080ff" d="M2091 4099l25-29-22-17-24 39z"/>
<path fill="#0050ff" stroke-width="2.94" d="M2067 4118l24-19-21-7-25 20z"/>
<path fill="#0040ff" stroke-width="1.68" d="M2042 4132l25-14-22-6-25 16z"/>
<path fill="#0020ff" stroke-width="1.68" d="M2017 4146l25-14-22-4-25 16z"/>
<path fill="#0010ff" stroke-width="1.68" d="M1993 4160l24-14-22-2-24 13zM1968 4170l25-10-22-3-25 7z"/>
<path fill="#00f" stroke-width="0.76" d="M1943 4176l25-6-22-6-25 4z"/>
<path fill="#00f" stroke-width="1.68" d="M1919 4181l24-5-22-8-24 5zM1894 4188l25-7-22-8-25 7zM1869 4195l25-7-22-8-25 8z"/>
<path fill="#009fff" stroke-width="0.76" d="M1425 4166l24-2-21 2-25-2z"/>
<path fill="#00afff" stroke-width="0.76" d="M1400 4171l25-5-22-2-25 2zM1375 4178l25-7-22-5-24 5z"/>
<path fill="#009fff" stroke-width="1.68" d="M1351 4185l24-7-21-7-25 6zM1326 4193l25-8-22-8-25 7zM1301 4200l25-7-22-9-25 8z"/>
<path fill="#008fff" stroke-width="1.68" d="M1277 4207l24-7-22-8-24 8zM1252 4215l25-8-22-7-25 7z"/>
<path fill="#0080ff" stroke-width="1.68" d="M1227 4222l25-7-22-8-25 8zM1203 4230l24-8-22-7-24 8z"/>
<path fill="#0080ff" stroke-width="0.76" d="M1203 4230l-22-7-2 0 14 10z"/>
<path fill="#ef0000" stroke-width="1.68" d="M2434 3664l25-10-22 16-25-8z"/>
<path fill="#f00" stroke-width="2.94" d="M2409 3692l25-28-22-2-24 14z"/>
<path fill="#ff2000" d="M2385 3726l24-34-21-16-25 16z"/>
<path fill="#ff4000" d="M2360 3752l25-26-22-34-25-2zM2335 3760l25-8-22-62-24-9zM2311 3765l24-5-21-79-25 12z"/>
<path fill="#ff6000" d="M2286 3790l25-25-22-72-25 54z"/>
<path fill="#ffbf00" d="M2261 3849l25-59-22-43-25 74z"/>
<path fill="#cfff30" d="M2237 3924l24-75-22-28-24 60z"/>
<path fill="#70ff8f" d="M2212 3986l25-62-22-43-25 47z"/>
<path fill="#20ffdf" d="M2187 4030l25-44-22-58-25 44z"/>
<path fill="#00dfff" d="M2163 4064l24-34-22-58-24 49z"/>
<path fill="#009fff" d="M2138 4090l25-26-22-43-25 49z"/>
<path fill="#0070ff" stroke-width="2.94" d="M2113 4109l25-19-22-20-25 29z"/>
<path fill="#0050ff" stroke-width="2.94" d="M2089 4124l24-15-22-10-24 19z"/>
<path fill="#0040ff" stroke-width="1.68" d="M2064 4138l25-14-22-6-25 14z"/>
<path fill="#0030ff" stroke-width="1.68" d="M2039 4151l25-13-22-6-25 14z"/>
<path fill="#0020ff" stroke-width="1.68" d="M2014 4163l25-12-22-5-24 14z"/>
<path fill="#0010ff" stroke-width="1.68" d="M1990 4174l24-11-21-3-25 10z"/>
<path fill="#00f" stroke-width="0.76" d="M1965 4182l25-8-22-4-25 6zM1940 4189l25-7-22-6-24 5z"/>
<path fill="#00f" stroke-width="1.68" d="M1916 4195l24-6-21-8-25 7zM1891 4202l25-7-22-7-25 7z"/>
<path fill="#00afff" stroke-width="0.76" d="M1471 4166l25-3-22 2-25-1zM1447 4172l24-6-22-2-24 2z"/>
<path fill="#00afff" stroke-width="1.68" d="M1422 4179l25-7-22-6-25 5z"/>
<path fill="#009fff" stroke-width="1.68" d="M1397 4186l25-7-22-8-25 7zM1373 4194l24-8-22-8-24 7zM1348 4201l25-7-22-9-25 8z"/>
<path fill="#008fff" stroke-width="1.68" d="M1323 4208l25-7-22-8-25 7zM1298 4216l25-8-22-8-24 7zM1274 4223l24-7-21-9-25 8z"/>
<path fill="#0080ff" stroke-width="1.68" d="M1249 4230l25-7-22-8-25 7zM1224 4238l25-8-22-8-24 8z"/>
<path fill="#0070ff" stroke-width="1.68" d="M1224 4238l-21-8-10 3 14 10z"/>
<path fill="#f00" d="M2456 3702l25-31-22-17-25 10z"/>
<path fill="#ff3000" d="M2431 3743l25-41-22-38-25 28z"/>
<path fill="#ff6000" d="M2407 3786l24-43-22-51-24 34z"/>
<path fill="#ff9f00" d="M2382 3826l25-40-22-60-25 26z"/>
<path fill="#ffbf00" d="M2357 3852l25-26-22-74-25 8z"/>
<path fill="#ffcf00" d="M2333 3860l24-8-22-92-24 5z"/>
<path fill="#ffdf00" d="M2308 3866l25-6-22-95-25 25z"/>
<path fill="#ff0" d="M2283 3894l25-28-22-76-25 59z"/>
<path fill="#9fff60" d="M2258 3953l25-59-22-45-24 75z"/>
<path fill="#30ffcf" d="M2234 4023l24-70-21-29-25 62z"/>
<path fill="#00cfff" d="M2209 4070l25-47-22-37-25 44z"/>
<path fill="#009fff" d="M2184 4094l25-24-22-40-24 34z"/>
<path fill="#0070ff" d="M2160 4108l24-14-21-30-25 26z"/>
<path fill="#0060ff" stroke-width="2.94" d="M2135 4120l25-12-22-18-25 19z"/>
<path fill="#0050ff" stroke-width="2.94" d="M2110 4132l25-12-22-11-24 15z"/>
<path fill="#0040ff" stroke-width="1.68" d="M2086 4145l24-13-21-8-25 14z"/>
<path fill="#0030ff" stroke-width="1.68" d="M2061 4156l25-11-22-7-25 13z"/>
<path fill="#0020ff" stroke-width="1.68" d="M2036 4167l25-11-22-5-25 12z"/>
<path fill="#0010ff" stroke-width="1.68" d="M2012 4178l24-11-22-4-24 11z"/>
<path fill="#00f" stroke-width="1.68" d="M1987 4187l25-9-22-4-25 8z"/>
<path fill="#00f" stroke-width="0.76" d="M1962 4195l25-8-22-5-25 7z"/>
<path fill="#00f" stroke-width="1.68" d="M1938 4202l24-7-22-6-24 6zM1913 4209l25-7-22-7-25 7z"/>
<path fill="#009fff" stroke-width="0.76" d="M1542 4163l25-1-22 7-24-5z"/>
<path fill="#00afff" stroke-width="0.76" d="M1518 4168l24-5-21 1-25-1zM1493 4174l25-6-22-5-25 3z"/>
<path fill="#00afff" stroke-width="1.68" d="M1468 4181l25-7-22-8-24 6z"/>
<path fill="#009fff" stroke-width="1.68" d="M1444 4188l24-7-21-9-25 7zM1419 4195l25-7-22-9-25 7zM1394 4202l25-7-22-9-24 8z"/>
<path fill="#008fff" stroke-width="1.68" d="M1370 4209l24-7-21-8-25 7zM1345 4217l25-8-22-8-25 7zM1320 4224l25-7-22-9-25 8z"/>
<path fill="#0080ff" stroke-width="1.68" d="M1296 4231l24-7-22-8-24 7zM1271 4239l25-8-22-8-25 7zM1246 4246l25-7-22-9-25 8z"/>
<path fill="#0070ff" stroke-width="1.68" d="M1246 4246l-22-8-17 5 14 10 1 0z"/>
<path fill="#ff1000" d="M2503 3714l24-23-22-16-24-4z"/>
<path fill="#ff4000" d="M2478 3758l25-44-22-43-25 31z"/>
<path fill="#ff8000" d="M2453 3805l25-47-22-56-25 41z"/>
<path fill="#ffbf00" d="M2428 3850l25-45-22-62-24 43z"/>
<path fill="#ff0" d="M2404 3893l24-43-21-64-25 40z"/>
<path fill="#bfff40" d="M2379 3932l25-39-22-67-25 26z"/>
<path fill="#9fff60" d="M2354 3955l25-23-22-80-24 8z"/>
<path fill="#8fff70" d="M2330 3962l24-7-21-95-25 6z"/>
<path fill="#80ff80" d="M2305 3969l25-7-22-96-25 28z"/>
<path fill="#50ffaf" d="M2280 3998l25-29-22-75-25 59z"/>
<path fill="#0ff" d="M2256 4048l24-50-22-45-24 70z"/>
<path fill="#00afff" d="M2231 4091l25-43-22-25-25 47z"/>
<path fill="#0070ff" d="M2206 4112l25-21-22-21-25 24z"/>
<path fill="#0060ff" stroke-width="2.94" d="M2182 4123l24-11-22-18-24 14z"/>
<path fill="#0050ff" stroke-width="2.94" d="M2157 4133l25-10-22-15-25 12z"/>
<path fill="#0040ff" stroke-width="1.68" d="M2132 4142l25-9-22-13-25 12z"/>
<path fill="#0030ff" stroke-width="1.68" d="M2107 4152l25-10-22-10-24 13zM2083 4163l24-11-21-7-25 11z"/>
<path fill="#0020ff" stroke-width="1.68" d="M2058 4173l25-10-22-7-25 11z"/>
<path fill="#0010ff" stroke-width="1.68" d="M2033 4183l25-10-22-6-24 11zM2009 4192l24-9-21-5-25 9z"/>
<path fill="#00f" stroke-width="1.68" d="M1984 4201l25-9-22-5-25 8zM1959 4209l25-8-22-6-24 7zM1935 4216l24-7-21-7-25 7z"/>
<path fill="#00f" stroke-width="0.76" d="M1910 4219l25-3-22-7-25 4z"/>
<path fill="#00afff" stroke-width="0.76" d="M1589 4164l25-2-22 4-25-4zM1564 4169l25-5-22-2-25 1zM1540 4176l24-7-22-6-24 5z"/>
<path fill="#00afff" stroke-width="1.68" d="M1515 4183l25-7-22-8-25 6z"/>
<path fill="#009fff" stroke-width="1.68" d="M1490 4190l25-7-22-9-25 7zM1466 4197l24-7-22-9-24 7zM1441 4204l25-7-22-9-25 7z"/>
<path fill="#008fff" stroke-width="1.68" d="M1416 4211l25-7-22-9-25 7zM1392 4218l24-7-22-9-24 7zM1367 4225l25-7-22-9-25 8z"/>
<path fill="#0080ff" stroke-width="1.68" d="M1342 4232l25-7-22-8-25 7zM1317 4240l25-8-22-8-24 7zM1293 4247l24-7-21-9-25 8z"/>
<path fill="#0070ff" stroke-width="1.68" d="M1268 4254l25-7-22-8-25 7zM1243 4262l25-8-22-8-24 7z"/>
<path fill="#0070ff" stroke-width="0.76" d="M1243 4262l-21-9-1 1 15 10z"/>
<path fill="#ff4000" stroke-width="2.94" d="M2549 3724l25-9-22-9-25-15z"/>
<path fill="#ff5000" d="M2524 3765l25-41-22-33-24 23z"/>
<path fill="#ff8f00" d="M2500 3818l24-53-21-51-25 44z"/>
<path fill="#ffdf00" d="M2475 3868l25-50-22-60-25 47z"/>
<path fill="#dfff20" d="M2450 3916l25-48-22-63-25 45z"/>
<path fill="#8fff70" d="M2426 3959l24-43-22-66-24 43z"/>
<path fill="#50ffaf" d="M2401 4002l25-43-22-66-25 39z"/>
<path fill="#10ffef" d="M2376 4037l25-35-22-70-25 23z"/>
<path fill="#0ff" d="M2352 4054l24-17-22-82-24 7z"/>
<path fill="#00efff" d="M2327 4058l25-4-22-92-25 7z"/>
<path fill="#00dfff" d="M2302 4064l25-6-22-89-25 29z"/>
<path fill="#00bfff" d="M2277 4083l25-19-22-66-24 50z"/>
<path fill="#008fff" d="M2253 4107l24-24-21-35-25 43z"/>
<path fill="#0060ff" stroke-width="2.94" d="M2228 4124l25-17-22-16-25 21z"/>
<path fill="#0050ff" stroke-width="2.94" d="M2203 4135l25-11-22-12-24 11z"/>
<path fill="#0040ff" stroke-width="1.68" d="M2179 4144l24-9-21-12-25 10zM2154 4153l25-9-22-11-25 9z"/>
<path fill="#0030ff" stroke-width="1.68" d="M2129 4161l25-8-22-11-25 10z"/>
<path fill="#0020ff" stroke-width="1.68" d="M2105 4170l24-9-22-9-24 11zM2080 4179l25-9-22-7-25 10z"/>
<path fill="#0010ff" stroke-width="1.68" d="M2055 4189l25-10-22-6-25 10zM2031 4198l24-9-22-6-24 9z"/>
<path fill="#00f" stroke-width="1.68" d="M2006 4207l25-9-22-6-25 9zM1981 4216l25-9-22-6-25 8zM1957 4224l24-8-22-7-24 7z"/>
<path fill="#00f" stroke-width="0.76" d="M1932 4227l25-3-22-8-25 3z"/>
<path fill="#00afff" stroke-width="0.76" d="M1636 4167l24-1-22 0-24-4zM1611 4172l25-5-22-5-25 2z"/>
<path fill="#00afff" stroke-width="1.68" d="M1586 4178l25-6-22-8-25 5zM1561 4185l25-7-22-9-24 7z"/>
<path fill="#009fff" stroke-width="1.68" d="M1537 4191l24-6-21-9-25 7zM1512 4198l25-7-22-8-25 7zM1487 4205l25-7-22-8-24 7z"/>
<path fill="#008fff" stroke-width="1.68" d="M1463 4212l24-7-21-8-25 7zM1438 4219l25-7-22-8-25 7zM1413 4226l25-7-22-8-24 7z"/>
<path fill="#0080ff" stroke-width="1.68" d="M1389 4234l24-8-21-8-25 7zM1364 4241l25-7-22-9-25 7zM1339 4248l25-7-22-9-25 8z"/>
<path fill="#0070ff" stroke-width="1.68" d="M1315 4255l24-7-22-8-24 7zM1290 4263l25-8-22-8-25 7zM1265 4270l25-7-22-9-25 8z"/>
<path fill="#0060ff" stroke-width="0.76" d="M1265 4270l-22-8-7 2 15 10z"/>
<path fill="#ff8f00" d="M2620 3780l25-11-22-26-25-15z"/>
<path fill="#ff8000" d="M2596 3780l24 0-22-52-24-13z"/>
<path fill="#ff7000" d="M2571 3783l25-3-22-65-25 9z"/>
<path fill="#ff8f00" d="M2546 3818l25-35-22-59-25 41z"/>
<path fill="#ffdf00" d="M2521 3873l25-55-22-53-24 53z"/>
<path fill="#bfff40" d="M2497 3928l24-55-21-55-25 50z"/>
<path fill="#70ff8f" d="M2472 3978l25-50-22-60-25 48z"/>
<path fill="#30ffcf" d="M2447 4022l25-44-22-62-24 43z"/>
<path fill="#00dfff" d="M2423 4061l24-39-21-63-25 43z"/>
<path fill="#00afff" d="M2398 4096l25-35-22-59-25 35z"/>
<path fill="#0080ff" d="M2373 4120l25-24-22-59-24 17z"/>
<path fill="#0070ff" d="M2349 4126l24-6-21-66-25 4zM2324 4122l25 4-22-68-25 6zM2299 4120l25 2-22-58-25 19z"/>
<path fill="#0060ff" d="M2275 4124l24-4-22-37-24 24z"/>
<path fill="#0050ff" stroke-width="2.94" d="M2250 4133l25-9-22-17-25 17z"/>
<path fill="#0040ff" stroke-width="1.68" d="M2225 4144l25-11-22-9-25 11zM2201 4155l24-11-22-9-24 9z"/>
<path fill="#0030ff" stroke-width="1.68" d="M2176 4163l25-8-22-11-25 9zM2151 4170l25-7-22-10-25 8z"/>
<path fill="#0020ff" stroke-width="1.68" d="M2126 4178l25-8-22-9-24 9zM2102 4186l24-8-21-8-25 9z"/>
<path fill="#0010ff" stroke-width="1.68" d="M2077 4195l25-9-22-7-25 10zM2052 4204l25-9-22-6-24 9z"/>
<path fill="#00f" stroke-width="1.68" d="M2028 4214l24-10-21-6-25 9zM2003 4222l25-8-22-7-25 9zM1978 4231l25-9-22-6-24 8z"/>
<path fill="#00f" stroke-width="0.76" d="M1954 4236l24-5-21-7-25 3z"/>
<path fill="#008fff" stroke-width="0.76" d="M1707 4172l24 3-21 2-25-7z"/>
<path fill="#009fff" stroke-width="0.76" d="M1682 4173l25-1-22-2-25-4z"/>
<path fill="#00afff" stroke-width="0.76" d="M1657 4176l25-3-22-7-24 1z"/>
<path fill="#00afff" stroke-width="1.68" d="M1633 4181l24-5-21-9-25 5zM1608 4187l25-6-22-9-25 6z"/>
<path fill="#009fff" stroke-width="1.68" d="M1583 4194l25-7-22-9-25 7zM1559 4200l24-6-22-9-24 6zM1534 4207l25-7-22-9-25 7z"/>
<path fill="#008fff" stroke-width="1.68" d="M1509 4214l25-7-22-9-25 7zM1485 4221l24-7-22-9-24 7zM1460 4228l25-7-22-9-25 7z"/>
<path fill="#0080ff" stroke-width="1.68" d="M1435 4235l25-7-22-9-25 7zM1410 4242l25-7-22-9-24 8zM1386 4249l24-7-21-8-25 7z"/>
<path fill="#0070ff" stroke-width="1.68" d="M1361 4257l25-8-22-8-25 7zM1336 4264l25-7-22-9-24 7zM1312 4271l24-7-21-9-25 8z"/>
<path fill="#0060ff" stroke-width="1.68" d="M1287 4278l25-7-22-8-25 7zM1287 4278l-22-8-14 4 14 11z"/>
<path fill="#ffcf00" stroke-width="2.94" d="M2667 3808l24-7-21-16-25-16z"/>
<path fill="#ffcf00" d="M2642 3849l25-41-22-39-25 11z"/>
<path fill="#ffef00" d="M2617 3871l25-22-22-69-24 0zM2593 3871l24 0-21-91-25 3z"/>
<path fill="#ff0" d="M2568 3884l25-13-22-88-25 35z"/>
<path fill="#bfff40" d="M2543 3927l25-43-22-66-25 55z"/>
<path fill="#70ff8f" d="M2519 3983l24-56-22-54-24 55z"/>
<path fill="#20ffdf" d="M2494 4032l25-49-22-55-25 50z"/>
<path fill="#00cfff" d="M2469 4070l25-38-22-54-25 44z"/>
<path fill="#008fff" d="M2445 4100l24-30-22-48-24 39z"/>
<path fill="#0060ff" d="M2420 4125l25-25-22-39-25 35z"/>
<path fill="#0040ff" d="M2395 4144l25-19-22-29-25 24z"/>
<path fill="#0030ff" stroke-width="2.94" d="M2371 4151l24-7-22-24-24 6zM2346 4147l25 4-22-25-25-4z"/>
<path fill="#0040ff" stroke-width="2.94" d="M2321 4140l25 7-22-25-25-2z"/>
<path fill="#0040ff" stroke-width="1.68" d="M2296 4138l25 2-22-20-24 4zM2272 4143l24-5-21-14-25 9zM2247 4152l25-9-22-10-25 11z"/>
<path fill="#0030ff" stroke-width="1.68" d="M2222 4163l25-11-22-8-24 11zM2198 4172l24-9-21-8-25 8z"/>
<path fill="#0020ff" stroke-width="1.68" d="M2173 4180l25-8-22-9-25 7zM2148 4187l25-7-22-10-25 8z"/>
<path fill="#0010ff" stroke-width="1.68" d="M2124 4194l24-7-22-9-24 8zM2099 4202l25-8-22-8-25 9z"/>
<path fill="#00f" stroke-width="1.68" d="M2074 4211l25-9-22-7-25 9zM2050 4220l24-9-22-7-24 10zM2025 4229l25-9-22-6-25 8zM2000 4238l25-9-22-7-25 9zM1975 4245l25-7-22-7-24 5z"/>
<path fill="#00f" stroke-width="0.76" d="M1951 4247l24-2-21-9-25-1z"/>
<path fill="#008fff" stroke-width="0.76" d="M1753 4179l25 1-22 1-25-6z"/>
<path fill="#009fff" stroke-width="0.76" d="M1729 4179l24 0-22-4-24-3zM1704 4181l25-2-22-7-25 1zM1679 4186l25-5-22-8-25 3z"/>
<path fill="#009fff" stroke-width="1.68" d="M1655 4191l24-5-22-10-24 5zM1630 4197l25-6-22-10-25 6zM1605 4203l25-6-22-10-25 7zM1580 4209l25-6-22-9-24 6z"/>
<path fill="#008fff" stroke-width="1.68" d="M1556 4216l24-7-21-9-25 7zM1531 4223l25-7-22-9-25 7zM1506 4230l25-7-22-9-24 7z"/>
<path fill="#0080ff" stroke-width="1.68" d="M1482 4237l24-7-21-9-25 7zM1457 4244l25-7-22-9-25 7zM1432 4251l25-7-22-9-25 7zM1408 4258l24-7-22-9-24 7z"/>
<path fill="#0070ff" stroke-width="1.68" d="M1383 4265l25-7-22-9-25 8zM1358 4272l25-7-22-8-25 7z"/>
<path fill="#0060ff" stroke-width="1.68" d="M1334 4280l24-8-22-8-24 7zM1309 4287l25-7-22-9-25 7zM1309 4287l-22-9-22 7 7 4 12 5z"/>
<path fill="#ffef00" stroke-width="2.94" d="M2689 3840l24-21-22-18-24 7z"/>
<path fill="#dfff20" d="M2664 3902l25-62-22-32-25 41z"/>
<path fill="#9fff60" d="M2639 3951l25-49-22-53-25 22z"/>
<path fill="#80ff80" d="M2615 3966l24-15-22-80-24 0z"/>
<path fill="#70ff8f" d="M2590 3967l25-1-22-95-25 13z"/>
<path fill="#60ff9f" d="M2565 3987l25-20-22-83-25 43z"/>
<path fill="#20ffdf" d="M2540 4030l25-43-22-60-24 56z"/>
<path fill="#00cfff" d="M2516 4070l24-40-21-47-25 49z"/>
<path fill="#008fff" d="M2491 4097l25-27-22-38-25 38z"/>
<path fill="#0060ff" d="M2466 4116l25-19-22-27-24 30z"/>
<path fill="#0040ff" stroke-width="2.94" d="M2442 4134l24-18-21-16-25 25z"/>
<path fill="#0030ff" stroke-width="2.94" d="M2417 4147l25-13-22-9-25 19z"/>
<path fill="#0020ff" stroke-width="0.76" d="M2392 4154l25-7-22-3-24 7zM2368 4153l24 1-21-3-25-4z"/>
<path fill="#0030ff" stroke-width="0.76" d="M2343 4150l25 3-22-6-25-7z"/>
<path fill="#0040ff" stroke-width="0.76" d="M2318 4149l25 1-22-10-25-2z"/>
<path fill="#0040ff" stroke-width="1.68" d="M2294 4153l24-4-22-11-24 5zM2269 4161l25-8-22-10-25 9z"/>
<path fill="#0030ff" stroke-width="1.68" d="M2244 4171l25-10-22-9-25 11z"/>
<path fill="#0020ff" stroke-width="1.68" d="M2220 4180l24-9-22-8-24 9zM2195 4189l25-9-22-8-25 8z"/>
<path fill="#0010ff" stroke-width="1.68" d="M2170 4196l25-7-22-9-25 7zM2145 4203l25-7-22-9-24 7zM2121 4210l24-7-21-9-25 8z"/>
<path fill="#00f" stroke-width="1.68" d="M2096 4218l25-8-22-8-25 9zM2071 4226l25-8-22-7-24 9zM2047 4235l24-9-21-6-25 9zM2022 4244l25-9-22-6-25 9zM1997 4252l25-8-22-6-25 7z"/>
<path fill="#00f" stroke-width="0.76" d="M1973 4257l24-5-22-7-24 2z"/>
<path fill="#0080ff" stroke-width="0.76" d="M1825 4187l24 3-22 3-24-8z"/>
<path fill="#008fff" stroke-width="0.76" d="M1800 4186l25 1-22-2-25-5zM1775 4187l25-1-22-6-25-1z"/>
<path fill="#009fff" stroke-width="0.76" d="M1750 4188l25-1-22-8-24 0zM1726 4190l24-2-21-9-25 2z"/>
<path fill="#009fff" stroke-width="1.68" d="M1701 4195l25-5-22-9-25 5zM1676 4201l25-6-22-9-24 5zM1652 4207l24-6-21-10-25 6zM1627 4213l25-6-22-10-25 6z"/>
<path fill="#008fff" stroke-width="1.68" d="M1602 4219l25-6-22-10-25 6zM1578 4225l24-6-22-10-24 7zM1553 4232l25-7-22-9-25 7z"/>
<path fill="#0080ff" stroke-width="1.68" d="M1528 4239l25-7-22-9-25 7zM1504 4246l24-7-22-9-24 7zM1479 4253l25-7-22-9-25 7zM1454 4260l25-7-22-9-25 7z"/>
<path fill="#0070ff" stroke-width="1.68" d="M1429 4267l25-7-22-9-24 7zM1405 4274l24-7-21-9-25 7zM1380 4281l25-7-22-9-25 7z"/>
<path fill="#0060ff" stroke-width="1.68" d="M1355 4288l25-7-22-9-24 8zM1331 4295l24-7-21-8-25 7zM1306 4302l25-7-22-8-25 7z"/>
<path fill="#0050ff" stroke-width="0.76" d="M1306 4302l-22-8-4 1 15 11z"/>
<path fill="#efff10" d="M2710 3866l25-28-22-19-24 21z"/>
<path fill="#9fff60" d="M2686 3939l24-73-21-26-25 62z"/>
<path fill="#40ffbf" d="M2661 4006l25-67-22-37-25 49z"/>
<path fill="#0ff" d="M2636 4040l25-34-22-55-24 15z"/>
<path fill="#00efff" d="M2612 4046l24-6-21-74-25 1z"/>
<path fill="#00dfff" d="M2587 4050l25-4-22-79-25 20z"/>
<path fill="#00bfff" d="M2562 4070l25-20-22-63-25 43z"/>
<path fill="#008fff" d="M2538 4094l24-24-22-40-24 40z"/>
<path fill="#0070ff" d="M2513 4111l25-17-22-24-25 27z"/>
<path fill="#0050ff" stroke-width="2.94" d="M2488 4125l25-14-22-14-25 19z"/>
<path fill="#0040ff" stroke-width="1.68" d="M2464 4138l24-13-22-9-24 18z"/>
<path fill="#0030ff" stroke-width="1.68" d="M2439 4147l25-9-22-4-25 13z"/>
<path fill="#0020ff" stroke-width="0.76" d="M2414 4153l25-6-22 0-25 7zM2389 4156l25-3-22 1-24-1z"/>
<path fill="#0030ff" stroke-width="0.76" d="M2365 4157l24-1-21-3-25-3zM2340 4160l25-3-22-7-25-1z"/>
<path fill="#0030ff" stroke-width="1.68" d="M2315 4165l25-5-22-11-24 4zM2291 4171l24-6-21-12-25 8zM2266 4179l25-8-22-10-25 10z"/>
<path fill="#0020ff" stroke-width="1.68" d="M2241 4188l25-9-22-8-24 9zM2217 4197l24-9-21-8-25 9z"/>
<path fill="#0010ff" stroke-width="1.68" d="M2192 4205l25-8-22-8-25 7zM2167 4212l25-7-22-9-25 7z"/>
<path fill="#00f" stroke-width="1.68" d="M2143 4219l24-7-22-9-24 7zM2118 4226l25-7-22-9-25 8zM2093 4233l25-7-22-8-25 8zM2069 4241l24-8-22-7-24 9zM2044 4250l25-9-22-6-25 9zM2019 4259l25-9-22-6-25 8z"/>
<path fill="#00f" stroke-width="0.76" d="M1994 4265l25-6-22-7-24 5z"/>
<path fill="#00f" stroke-width="1.68" d="M1970 4258l24 7-21-8-25-9z"/>
<path fill="#0070ff" stroke-width="0.76" d="M1871 4194l25 3-22-1-25-6z"/>
<path fill="#0080ff" stroke-width="0.76" d="M1846 4193l25 1-22-4-24-3z"/>
<path fill="#008fff" stroke-width="0.76" d="M1822 4194l24-1-21-6-25-1zM1797 4195l25-1-22-8-25 1zM1772 4196l25-1-22-8-25 1z"/>
<path fill="#009fff" stroke-width="0.76" d="M1748 4199l24-3-22-8-24 2z"/>
<path fill="#009fff" stroke-width="1.68" d="M1723 4204l25-5-22-9-25 5zM1698 4211l25-7-22-9-25 6z"/>
<path fill="#008fff" stroke-width="1.68" d="M1674 4216l24-5-22-10-24 6zM1649 4222l25-6-22-9-25 6zM1624 4228l25-6-22-9-25 6zM1599 4235l25-7-22-9-24 6z"/>
<path fill="#0080ff" stroke-width="1.68" d="M1575 4241l24-6-21-10-25 7zM1550 4248l25-7-22-9-25 7zM1525 4255l25-7-22-9-24 7zM1501 4262l24-7-21-9-25 7z"/>
<path fill="#0070ff" stroke-width="1.68" d="M1476 4269l25-7-22-9-25 7zM1451 4276l25-7-22-9-25 7zM1427 4283l24-7-22-9-24 7z"/>
<path fill="#0060ff" stroke-width="1.68" d="M1402 4290l25-7-22-9-25 7zM1377 4297l25-7-22-9-25 7zM1353 4303l24-6-22-9-24 7z"/>
<path fill="#0050ff" stroke-width="1.68" d="M1328 4310l25-7-22-8-25 7z"/>
<path fill="#0050ff" stroke-width="0.76" d="M1328 4310l-22-8-11 4 13 9z"/>
<path fill="#cfff30" d="M2732 3889l25-31-22-20-25 28z"/>
<path fill="#80ff80" d="M2708 3965l24-76-22-23-24 73z"/>
<path fill="#10ffef" d="M2683 4037l25-72-22-26-25 67z"/>
<path fill="#00afff" d="M2658 4076l25-39-22-31-25 34z"/>
<path fill="#008fff" d="M2634 4090l24-14-22-36-24 6zM2609 4093l25-3-22-44-25 4z"/>
<path fill="#0080ff" d="M2584 4100l25-7-22-43-25 20z"/>
<path fill="#0070ff" d="M2559 4111l25-11-22-30-24 24z"/>
<path fill="#0060ff" stroke-width="2.94" d="M2535 4123l24-12-21-17-25 17z"/>
<path fill="#0040ff" stroke-width="2.94" d="M2510 4134l25-11-22-12-25 14z"/>
<path fill="#0040ff" stroke-width="1.68" d="M2485 4144l25-10-22-9-24 13z"/>
<path fill="#0030ff" stroke-width="1.68" d="M2461 4152l24-8-21-6-25 9z"/>
<path fill="#0030ff" stroke-width="0.76" d="M2436 4158l25-6-22-5-25 6zM2411 4163l25-5-22-5-25 3zM2387 4168l24-5-22-7-24 1z"/>
<path fill="#0030ff" stroke-width="1.68" d="M2362 4172l25-4-22-11-25 3zM2337 4177l25-5-22-12-25 5zM2313 4182l24-5-22-12-24 6z"/>
<path fill="#0020ff" stroke-width="1.68" d="M2288 4189l25-7-22-11-25 8zM2263 4196l25-7-22-10-25 9z"/>
<path fill="#0010ff" stroke-width="1.68" d="M2239 4204l24-8-22-8-24 9zM2214 4213l25-9-22-7-25 8zM2189 4220l25-7-22-8-25 7z"/>
<path fill="#00f" stroke-width="1.68" d="M2164 4227l25-7-22-8-24 7zM2140 4234l24-7-21-8-25 7zM2115 4241l25-7-22-8-25 7zM2090 4248l25-7-22-8-24 8zM2066 4257l24-9-21-7-25 9zM2041 4265l25-8-22-7-25 9zM2016 4272l25-7-22-6-25 6zM1992 4270l24 2-22-7-24-7z"/>
<path fill="#0060ff" stroke-width="2.94" d="M1918 4210l24 16-22-16-24-13z"/>
<path fill="#0070ff" stroke-width="1.68" d="M1893 4203l25 7-22-13-25-3z"/>
<path fill="#0080ff" stroke-width="0.76" d="M1868 4202l25 1-22-9-25-1zM1843 4202l25 0-22-9-24 1z"/>
<path fill="#008fff" stroke-width="0.76" d="M1819 4203l24-1-21-8-25 1zM1794 4204l25-1-22-8-25 1zM1769 4207l25-3-22-8-24 3z"/>
<path fill="#008fff" stroke-width="1.68" d="M1745 4213l24-6-21-8-25 5zM1720 4220l25-7-22-9-25 7zM1695 4226l25-6-22-9-24 5zM1671 4232l24-6-21-10-25 6zM1646 4238l25-6-22-10-25 6z"/>
<path fill="#0080ff" stroke-width="1.68" d="M1621 4244l25-6-22-10-25 7zM1597 4250l24-6-22-9-24 6zM1572 4257l25-7-22-9-25 7z"/>
<path fill="#0070ff" stroke-width="1.68" d="M1547 4264l25-7-22-9-25 7zM1523 4271l24-7-22-9-24 7zM1498 4278l25-7-22-9-25 7zM1473 4284l25-6-22-9-25 7z"/>
<path fill="#0060ff" stroke-width="1.68" d="M1448 4291l25-7-22-8-24 7zM1424 4298l24-7-21-8-25 7zM1399 4304l25-6-22-8-25 7z"/>
<path fill="#0050ff" stroke-width="1.68" d="M1374 4310l25-6-22-7-24 6z"/>
<path fill="#0050ff" stroke-width="0.76" d="M1350 4315l24-5-21-7-25 7zM1350 4315l-22-5-20 5 4 3 13 2z"/>
<path fill="#bfff40" d="M2754 3912l25-37-22-17-25 31z"/>
<path fill="#60ff9f" d="M2729 3988l25-76-22-23-24 76z"/>
<path fill="#00dfff" d="M2705 4056l24-68-21-23-25 72z"/>
<path fill="#008fff" d="M2680 4092l25-36-22-19-25 39z"/>
<path fill="#0060ff" stroke-width="2.94" d="M2655 4108l25-16-22-16-24 14zM2631 4116l24-8-21-18-25 3zM2606 4120l25-4-22-23-25 7z"/>
<path fill="#0050ff" stroke-width="2.94" d="M2581 4126l25-6-22-20-25 11zM2557 4134l24-8-22-15-24 12z"/>
<path fill="#0040ff" stroke-width="1.68" d="M2532 4144l25-10-22-11-25 11z"/>
<path fill="#0030ff" stroke-width="1.68" d="M2507 4153l25-9-22-10-25 10zM2483 4161l24-8-22-9-24 8zM2458 4167l25-6-22-9-25 6z"/>
<path fill="#0020ff" stroke-width="1.68" d="M2433 4173l25-6-22-9-25 5zM2408 4179l25-6-22-10-24 5zM2384 4184l24-5-21-11-25 4zM2359 4189l25-5-22-12-25 5zM2334 4194l25-5-22-12-24 5zM2310 4199l24-5-21-12-25 7zM2285 4205l25-6-22-10-25 7z"/>
<path fill="#0010ff" stroke-width="1.68" d="M2260 4212l25-7-22-9-24 8zM2236 4220l24-8-21-8-25 9z"/>
<path fill="#00f" stroke-width="1.68" d="M2211 4228l25-8-22-7-25 7zM2186 4236l25-8-22-8-25 7zM2162 4243l24-7-22-9-24 7zM2137 4249l25-6-22-9-25 7zM2112 4256l25-7-22-8-25 7zM2088 4264l24-8-22-8-24 9zM2063 4272l25-8-22-7-25 8zM2038 4279l25-7-22-7-25 7z"/>
<path fill="#00f" stroke-width="0.76" d="M2013 4282l25-3-22-7-24-2z"/>
<path fill="#00f" stroke-width="2.94" d="M1989 4272l24 10-21-12-25-20z"/>
<path fill="#0020ff" d="M1964 4252l25 20-22-22-25-24z"/>
<path fill="#0040ff" d="M1939 4231l25 21-22-26-24-16z"/>
<path fill="#0060ff" stroke-width="2.94" d="M1915 4217l24 14-21-21-25-7z"/>
<path fill="#0080ff" stroke-width="1.68" d="M1890 4211l25 6-22-14-25-1z"/>
<path fill="#0080ff" stroke-width="0.76" d="M1865 4211l25 0-22-9-25 0z"/>
<path fill="#008fff" stroke-width="0.76" d="M1841 4211l24 0-22-9-24 1zM1816 4212l25-1-22-8-25 1zM1791 4214l25-2-22-8-25 3z"/>
<path fill="#008fff" stroke-width="1.68" d="M1767 4220l24-6-22-7-24 6zM1742 4228l25-8-22-7-25 7zM1717 4235l25-7-22-8-25 6z"/>
<path fill="#0080ff" stroke-width="1.68" d="M1693 4242l24-7-22-9-24 6zM1668 4248l25-6-22-10-25 6zM1643 4254l25-6-22-10-25 6zM1618 4260l25-6-22-10-24 6z"/>
<path fill="#0070ff" stroke-width="1.68" d="M1594 4266l24-6-21-10-25 7zM1569 4273l25-7-22-9-25 7zM1544 4279l25-6-22-9-24 7zM1520 4286l24-7-21-8-25 7z"/>
<path fill="#0060ff" stroke-width="1.68" d="M1495 4292l25-6-22-8-25 6z"/>
<path fill="#0060ff" stroke-width="0.76" d="M1470 4297l25-5-22-8-25 7zM1446 4303l24-6-22-6-24 7zM1421 4307l25-4-22-5-25 6zM1396 4312l25-5-22-3-25 6z"/>
<path fill="#0050ff" stroke-width="0.76" d="M1372 4316l24-4-22-2-24 5zM1347 4319l25-3-22-1-25 5zM1347 4319l-22 1-7 1 5 2z"/>
<path fill="#9fff60" d="M2776 3934l25-43-22-16-25 37z"/>
<path fill="#40ffbf" d="M2751 4010l25-76-22-22-25 76z"/>
<path fill="#00cfff" d="M2727 4071l24-61-22-22-24 68z"/>
<path fill="#0080ff" d="M2702 4103l25-32-22-15-25 36z"/>
<path fill="#0050ff" stroke-width="2.94" d="M2677 4119l25-16-22-11-25 16z"/>
<path fill="#0050ff" stroke-width="1.68" d="M2653 4130l24-11-22-11-24 8z"/>
<path fill="#0040ff" stroke-width="1.68" d="M2628 4136l25-6-22-14-25 4zM2603 4141l25-5-22-16-25 6zM2578 4146l25-5-22-15-24 8z"/>
<path fill="#0030ff" stroke-width="1.68" d="M2554 4154l24-8-21-12-25 10zM2529 4162l25-8-22-10-25 9zM2504 4170l25-8-22-9-24 8z"/>
<path fill="#0020ff" stroke-width="1.68" d="M2480 4177l24-7-21-9-25 6zM2455 4183l25-6-22-10-25 6zM2430 4189l25-6-22-10-25 6zM2406 4195l24-6-22-10-24 5z"/>
<path fill="#0010ff" stroke-width="1.68" d="M2381 4200l25-5-22-11-25 5zM2356 4205l25-5-22-11-25 5zM2332 4209l24-4-22-11-24 5zM2307 4215l25-6-22-10-25 6zM2282 4221l25-6-22-10-25 7zM2258 4228l24-7-22-9-24 8z"/>
<path fill="#00f" stroke-width="1.68" d="M2233 4235l25-7-22-8-25 8zM2208 4243l25-8-22-7-25 8zM2183 4251l25-8-22-7-24 7zM2159 4258l24-7-21-8-25 6zM2134 4264l25-6-22-9-25 7zM2109 4271l25-7-22-8-24 8zM2085 4279l24-8-21-7-25 8zM2011 4292l24 1-22-11-24-10z"/>
<path fill="#00f" d="M1986 4279l25 13-22-20-25-20z"/>
<path fill="#0020ff" d="M1961 4258l25 21-22-27-25-21z"/>
<path fill="#0050ff" d="M1937 4238l24 20-22-27-24-14z"/>
<path fill="#0070ff" stroke-width="2.94" d="M1912 4225l25 13-22-21-25-6z"/>
<path fill="#0080ff" stroke-width="1.68" d="M1887 4220l25 5-22-14-25 0z"/>
<path fill="#0080ff" stroke-width="0.76" d="M1862 4219l25 1-22-9-24 0z"/>
<path fill="#008fff" stroke-width="0.76" d="M1838 4220l24-1-21-8-25 1zM1813 4222l25-2-22-8-25 2z"/>
<path fill="#008fff" stroke-width="1.68" d="M1788 4228l25-6-22-8-24 6zM1764 4235l24-7-21-8-25 8z"/>
<path fill="#0080ff" stroke-width="1.68" d="M1739 4243l25-8-22-7-25 7zM1714 4250l25-7-22-8-24 7zM1690 4257l24-7-21-8-25 6zM1665 4263l25-6-22-9-25 6z"/>
<path fill="#0070ff" stroke-width="1.68" d="M1640 4269l25-6-22-9-25 6zM1616 4274l24-5-22-9-24 6zM1591 4280l25-6-22-8-25 7z"/>
<path fill="#0070ff" stroke-width="0.76" d="M1566 4285l25-5-22-7-25 6z"/>
<path fill="#0060ff" stroke-width="0.76" d="M1542 4290l24-5-22-6-24 7zM1517 4295l25-5-22-4-25 6zM1492 4299l25-4-22-3-25 5zM1467 4303l25-4-22-2-24 6zM1443 4307l24-4-21 0-25 4zM1418 4310l25-3-22 0-25 5zM1393 4314l25-4-22 2-24 4zM1369 4318l24-4-21 2-25 3zM1369 4318l-22 1-24 4 1 0 20 0zM1344 4323l-20 0 8 4z"/>
<path fill="#8fff70" d="M2798 3956l24-48-21-17-25 43z"/>
<path fill="#20ffdf" d="M2773 4031l25-75-22-22-25 76z"/>
<path fill="#00afff" d="M2748 4085l25-54-22-21-24 61z"/>
<path fill="#0070ff" d="M2724 4112l24-27-21-14-25 32z"/>
<path fill="#0050ff" stroke-width="2.94" d="M2699 4128l25-16-22-9-25 16z"/>
<path fill="#0040ff" stroke-width="1.68" d="M2674 4140l25-12-22-9-24 11z"/>
<path fill="#0030ff" stroke-width="1.68" d="M2650 4149l24-9-21-10-25 6zM2625 4154l25-5-22-13-25 5zM2600 4159l25-5-22-13-25 5zM2576 4164l24-5-22-13-24 8zM2551 4172l25-8-22-10-25 8z"/>
<path fill="#0020ff" stroke-width="1.68" d="M2526 4179l25-7-22-10-25 8zM2502 4187l24-8-22-9-24 7z"/>
<path fill="#0010ff" stroke-width="1.68" d="M2477 4193l25-6-22-10-25 6zM2452 4199l25-6-22-10-25 6zM2427 4205l25-6-22-10-24 6zM2403 4210l24-5-21-10-25 5zM2378 4215l25-5-22-10-25 5zM2353 4220l25-5-22-10-24 4zM2329 4225l24-5-21-11-25 6z"/>
<path fill="#00f" stroke-width="1.68" d="M2304 4230l25-5-22-10-25 6zM2279 4236l25-6-22-9-24 7zM2255 4243l24-7-21-8-25 7zM2230 4251l25-8-22-8-25 8zM2205 4259l25-8-22-8-25 8zM2181 4266l24-7-22-8-24 7zM2156 4273l25-7-22-8-25 6zM2131 4280l25-7-22-9-25 7z"/>
<path fill="#00f" d="M1983 4286l25 16-22-23-25-21z"/>
<path fill="#0020ff" d="M1958 4265l25 21-22-28-24-20z"/>
<path fill="#0050ff" stroke-width="2.94" d="M1934 4245l24 20-21-27-25-13z"/>
<path fill="#0070ff" stroke-width="2.94" d="M1909 4232l25 13-22-20-25-5z"/>
<path fill="#0080ff" stroke-width="1.68" d="M1884 4228l25 4-22-12-25-1z"/>
<path fill="#008fff" stroke-width="0.76" d="M1860 4228l24 0-22-9-24 1zM1835 4230l25-2-22-8-25 2z"/>
<path fill="#008fff" stroke-width="1.68" d="M1810 4235l25-5-22-8-25 6zM1786 4242l24-7-22-7-24 7z"/>
<path fill="#0080ff" stroke-width="1.68" d="M1761 4250l25-8-22-7-25 8zM1736 4257l25-7-22-7-25 7zM1711 4264l25-7-22-7-24 7z"/>
<path fill="#0070ff" stroke-width="0.76" d="M1687 4269l24-5-21-7-25 6zM1662 4274l25-5-22-6-25 6zM1637 4278l25-4-22-5-24 5zM1613 4282l24-4-21-4-25 6zM1588 4286l25-4-22-2-25 5zM1563 4290l25-4-22-1-24 5zM1539 4294l24-4-21 0-25 5zM1514 4298l25-4-22 1-25 4zM1489 4301l25-3-22 1-25 4zM1465 4305l24-4-22 2-24 4zM1440 4309l25-4-22 2-25 3zM1415 4313l25-4-22 1-25 4zM1391 4319l24-6-22 1-24 4zM1366 4326l25-7-22-1-25 5z"/>
<path fill="#0060ff" stroke-width="0.76" d="M1366 4326l-22-3-12 4 13 5z"/>
<path fill="#70ff8f" d="M2820 3978l24-50-22-20-24 48z"/>
<path fill="#10ffef" d="M2795 4050l25-72-22-22-25 75z"/>
<path fill="#009fff" d="M2770 4098l25-48-22-19-25 54z"/>
<path fill="#0070ff" stroke-width="2.94" d="M2746 4121l24-23-22-13-24 27z"/>
<path fill="#0050ff" stroke-width="2.94" d="M2721 4136l25-15-22-9-25 16z"/>
<path fill="#0040ff" stroke-width="1.68" d="M2696 4148l25-12-22-8-25 12z"/>
<path fill="#0030ff" stroke-width="1.68" d="M2672 4159l24-11-22-8-24 9z"/>
<path fill="#0020ff" stroke-width="1.68" d="M2647 4166l25-7-22-10-25 5zM2622 4171l25-5-22-12-25 5zM2597 4176l25-5-22-12-24 5zM2573 4181l24-5-21-12-25 8zM2548 4188l25-7-22-9-25 7z"/>
<path fill="#0010ff" stroke-width="1.68" d="M2523 4195l25-7-22-9-24 8zM2499 4203l24-8-21-8-25 6zM2474 4209l25-6-22-10-25 6zM2449 4215l25-6-22-10-25 6z"/>
<path fill="#00f" stroke-width="1.68" d="M2425 4220l24-5-22-10-24 5zM2400 4225l25-5-22-10-25 5zM2375 4230l25-5-22-10-25 5zM2351 4235l24-5-22-10-24 5zM2326 4240l25-5-22-10-25 5zM2301 4245l25-5-22-10-25 6zM2276 4251l25-6-22-9-24 7zM2252 4258l24-7-21-8-25 8zM2227 4266l25-8-22-7-25 8zM2202 4274l25-8-22-7-24 7z"/>
<path fill="#00f" d="M1980 4293l25 18-22-25-25-21z"/>
<path fill="#0030ff" d="M1956 4270l24 23-22-28-24-20z"/>
<path fill="#0050ff" stroke-width="2.94" d="M1931 4251l25 19-22-25-25-13z"/>
<path fill="#0070ff" stroke-width="2.94" d="M1906 4240l25 11-22-19-25-4z"/>
<path fill="#0080ff" stroke-width="0.76" d="M1881 4236l25 4-22-12-24 0z"/>
<path fill="#008fff" stroke-width="0.76" d="M1857 4237l24-1-21-8-25 2zM1832 4242l25-5-22-7-25 5z"/>
<path fill="#0080ff" stroke-width="1.68" d="M1807 4249l25-7-22-7-24 7zM1783 4256l24-7-21-7-25 8z"/>
<path fill="#0080ff" stroke-width="0.76" d="M1758 4262l25-6-22-6-25 7zM1733 4266l25-4-22-5-25 7z"/>
<path fill="#0070ff" stroke-width="0.76" d="M1709 4271l24-5-22-2-24 5zM1684 4274l25-3-22-2-25 5zM1659 4278l25-4-22 0-25 4zM1635 4281l24-3-22 0-24 4zM1610 4285l25-4-22 1-25 4zM1585 4289l25-4-22 1-25 4z"/>
<path fill="#0080ff" stroke-width="0.76" d="M1561 4292l24-3-22 1-24 4zM1536 4296l25-4-22 2-25 4zM1511 4299l25-3-22 2-25 3zM1486 4303l25-4-22 2-24 4zM1462 4309l24-6-21 2-25 4zM1437 4315l25-6-22 0-25 4z"/>
<path fill="#0070ff" stroke-width="0.76" d="M1412 4322l25-7-22-2-24 6zM1388 4329l24-7-21-3-25 7zM1388 4329l-22-3-21 6 6 2 12 2z"/>
<path fill="#70ff8f" stroke-width="2.94" d="M2866 3956l25-7-22-7-25-14z"/>
<path fill="#50ffaf" d="M2841 4006l25-50-22-28-24 50z"/>
<path fill="#00efff" d="M2817 4069l24-63-21-28-25 72z"/>
<path fill="#008fff" d="M2792 4109l25-40-22-19-25 48z"/>
<path fill="#0060ff" stroke-width="2.94" d="M2767 4130l25-21-22-11-24 23z"/>
<path fill="#0040ff" stroke-width="2.94" d="M2743 4144l24-14-21-9-25 15z"/>
<path fill="#0030ff" stroke-width="1.68" d="M2718 4156l25-12-22-8-25 12zM2693 4166l25-10-22-8-24 11z"/>
<path fill="#0020ff" stroke-width="1.68" d="M2669 4175l24-9-21-7-25 7zM2644 4182l25-7-22-9-25 5zM2619 4187l25-5-22-11-25 5zM2595 4192l24-5-22-11-24 5z"/>
<path fill="#0010ff" stroke-width="1.68" d="M2570 4197l25-5-22-11-25 7zM2545 4204l25-7-22-9-25 7zM2521 4211l24-7-22-9-24 8z"/>
<path fill="#00f" stroke-width="1.68" d="M2496 4218l25-7-22-8-25 6zM2471 4224l25-6-22-9-25 6zM2446 4230l25-6-22-9-24 5zM2422 4235l24-5-21-10-25 5zM2397 4241l25-6-22-10-25 5zM2372 4245l25-4-22-11-24 5zM2348 4250l24-5-21-10-25 5zM2323 4255l25-5-22-10-25 5zM2298 4260l25-5-22-10-25 6zM2274 4267l24-7-22-9-24 7zM2249 4274l25-7-22-9-25 8zM2224 4281l25-7-22-8-25 8z"/>
<path fill="#00f" d="M1977 4299l25 21-22-27-24-23z"/>
<path fill="#0030ff" d="M1953 4276l24 23-21-29-25-19z"/>
<path fill="#0060ff" stroke-width="2.94" d="M1928 4258l25 18-22-25-25-11z"/>
<path fill="#0070ff" stroke-width="1.68" d="M1903 4248l25 10-22-18-25-4z"/>
<path fill="#0080ff" stroke-width="0.76" d="M1879 4245l24 3-22-12-24 1z"/>
<path fill="#008fff" stroke-width="0.76" d="M1854 4248l25-3-22-8-25 5z"/>
<path fill="#0080ff" stroke-width="0.76" d="M1829 4253l25-5-22-6-25 7zM1805 4257l24-4-22-4-24 7zM1780 4262l25-5-22-1-25 6zM1755 4265l25-3-22 0-25 4zM1730 4269l25-4-22 1-24 5zM1706 4273l24-4-21 2-25 3zM1656 4280l25-4-22 2-24 3zM1632 4283l24-3-21 1-25 4zM1607 4287l25-4-22 2-25 4zM1582 4290l25-3-22 2-24 3zM1558 4294l24-4-21 2-25 4zM1533 4299l25-5-22 2-25 3zM1508 4304l25-5-22 0-25 4zM1484 4311l24-7-22-1-24 6zM1459 4318l25-7-22-2-25 6zM1434 4325l25-7-22-3-25 7z"/>
<path fill="#0070ff" stroke-width="0.76" d="M1410 4333l24-8-22-3-24 7zM1385 4340l25-7-22-4-25 7zM1385 4340l-22-4-4 2 15 5z"/>
<path fill="#50ffaf" d="M2888 3997l25-29-22-19-25 7z"/>
<path fill="#20ffdf" d="M2863 4044l25-47-22-41-25 50z"/>
<path fill="#00cfff" d="M2839 4091l24-47-22-38-24 63z"/>
<path fill="#0080ff" d="M2814 4120l25-29-22-22-25 40z"/>
<path fill="#0060ff" stroke-width="2.94" d="M2789 4138l25-18-22-11-25 21z"/>
<path fill="#0040ff" stroke-width="1.68" d="M2765 4152l24-14-22-8-24 14z"/>
<path fill="#0030ff" stroke-width="1.68" d="M2740 4164l25-12-22-8-25 12z"/>
<path fill="#0020ff" stroke-width="1.68" d="M2715 4174l25-10-22-8-25 10zM2690 4183l25-9-22-8-24 9z"/>
<path fill="#0010ff" stroke-width="1.68" d="M2666 4191l24-8-21-8-25 7zM2641 4197l25-6-22-9-25 5zM2616 4202l25-5-22-10-24 5zM2592 4207l24-5-21-10-25 5zM2567 4213l25-6-22-10-25 7z"/>
<path fill="#00f" stroke-width="1.68" d="M2542 4220l25-7-22-9-24 7zM2518 4227l24-7-21-9-25 7zM2493 4233l25-6-22-9-25 6zM2468 4239l25-6-22-9-25 6zM2444 4245l24-6-22-9-24 5zM2419 4250l25-5-22-10-25 6zM2394 4256l25-6-22-9-25 4zM2370 4260l24-4-22-11-24 5zM2345 4265l25-5-22-10-25 5zM2320 4270l25-5-22-10-25 5zM2295 4275l25-5-22-10-24 7zM2271 4282l24-7-21-8-25 7zM2246 4289l25-7-22-8-25 7z"/>
<path fill="#0010ff" d="M1975 4305l24 22-22-28-24-23z"/>
<path fill="#0040ff" d="M1950 4282l25 23-22-29-25-18z"/>
<path fill="#0060ff" stroke-width="2.94" d="M1925 4263l25 19-22-24-25-10z"/>
<path fill="#0080ff" stroke-width="1.68" d="M1900 4253l25 10-22-15-24-3z"/>
<path fill="#008fff" stroke-width="0.76" d="M1876 4250l24 3-21-8-25 3zM1851 4253l25-3-22-2-25 5zM1826 4256l25-3-22 0-24 4zM1802 4260l24-4-21 1-25 5zM1777 4263l25-3-22 2-25 3zM1752 4267l25-4-22 2-25 4zM1728 4271l24-4-22 2-24 4zM1703 4274l25-3-22 2-25 3zM1678 4277l25-3-22 2-25 4zM1654 4281l24-4-22 3-24 3zM1629 4285l25-4-22 2-25 4zM1604 4289l25-4-22 2-25 3zM1579 4294l25-5-22 1-24 4zM1555 4300l24-6-21 0-25 5zM1530 4307l25-7-22-1-25 5zM1505 4314l25-7-22-3-24 7z"/>
<path fill="#0080ff" stroke-width="0.76" d="M1481 4321l24-7-21-3-25 7zM1456 4329l25-8-22-3-25 7zM1431 4336l25-7-22-4-24 8z"/>
<path fill="#0070ff" stroke-width="0.76" d="M1407 4344l24-8-21-3-25 7zM1407 4344l-22-4-11 3 15 7z"/>
<path fill="#40ffbf" d="M2935 4008l24-22-22-13-24-5z"/>
<path fill="#20ffdf" d="M2910 4047l25-39-22-40-25 29z"/>
<path fill="#00dfff" d="M2885 4085l25-38-22-50-25 47z"/>
<path fill="#009fff" d="M2860 4113l25-28-22-41-24 47z"/>
<path fill="#0070ff" d="M2836 4132l24-19-21-22-25 29z"/>
<path fill="#0050ff" stroke-width="2.94" d="M2811 4146l25-14-22-12-25 18z"/>
<path fill="#0040ff" stroke-width="1.68" d="M2786 4159l25-13-22-8-24 14z"/>
<path fill="#0030ff" stroke-width="1.68" d="M2762 4171l24-12-21-7-25 12z"/>
<path fill="#0020ff" stroke-width="1.68" d="M2737 4181l25-10-22-7-25 10zM2712 4190l25-9-22-7-25 9z"/>
<path fill="#0010ff" stroke-width="1.68" d="M2688 4199l24-9-22-7-24 8zM2663 4207l25-8-22-8-25 6zM2638 4213l25-6-22-10-25 5z"/>
<path fill="#00f" stroke-width="1.68" d="M2614 4217l24-4-22-11-24 5zM2589 4222l25-5-22-10-25 6zM2564 4228l25-6-22-9-25 7zM2540 4235l24-7-22-8-24 7zM2515 4242l25-7-22-8-25 6zM2490 4249l25-7-22-9-25 6zM2465 4255l25-6-22-10-24 6zM2441 4260l24-5-21-10-25 5zM2416 4265l25-5-22-10-25 6zM2391 4270l25-5-22-9-24 4zM2367 4275l24-5-21-10-25 5zM2342 4280l25-5-22-10-25 5zM2317 4285l25-5-22-10-25 5zM2293 4291l24-6-22-10-24 7zM2268 4297l25-6-22-9-25 7z"/>
<path fill="#009fff" stroke-width="0.76" d="M1848 4254l25-3-22 2-25 3zM1824 4258l24-4-22 2-24 4zM1799 4261l25-3-22 2-25 3zM1774 4265l25-4-22 2-25 4zM1749 4268l25-3-22 2-24 4zM1725 4272l24-4-21 3-25 3zM1700 4276l25-4-22 2-25 3zM1675 4279l25-3-22 1-24 4zM1651 4284l24-5-21 2-25 4zM1626 4289l25-5-22 1-25 4zM1601 4296l25-7-22 0-25 5zM1577 4303l24-7-22-2-24 6z"/>
<path fill="#008fff" stroke-width="0.76" d="M1552 4310l25-7-22-3-25 7zM1527 4318l25-8-22-3-25 7zM1503 4325l24-7-22-4-24 7z"/>
<path fill="#0080ff" stroke-width="0.76" d="M1478 4333l25-8-22-4-25 8zM1453 4341l25-8-22-4-25 7z"/>
<path fill="#0070ff" stroke-width="0.76" d="M1429 4348l24-7-22-5-24 8zM1429 4348l-22-4-18 6 16 6z"/>
<path fill="#20ffdf" stroke-width="2.94" d="M2981 4019l25-28-22-1-25-4z"/>
<path fill="#0ff" d="M2956 4061l25-42-22-33-24 22z"/>
<path fill="#00cfff" d="M2932 4094l24-33-21-53-25 39z"/>
<path fill="#009fff" d="M2907 4116l25-22-22-47-25 38z"/>
<path fill="#0070ff" d="M2882 4131l25-15-22-31-25 28z"/>
<path fill="#0060ff" stroke-width="2.94" d="M2858 4143l24-12-22-18-24 19z"/>
<path fill="#0050ff" stroke-width="2.94" d="M2833 4155l25-12-22-11-25 14z"/>
<path fill="#0040ff" stroke-width="1.68" d="M2808 4167l25-12-22-9-25 13z"/>
<path fill="#0030ff" stroke-width="1.68" d="M2784 4178l24-11-22-8-24 12z"/>
<path fill="#0020ff" stroke-width="1.68" d="M2759 4188l25-10-22-7-25 10zM2734 4197l25-9-22-7-25 9z"/>
<path fill="#0010ff" stroke-width="1.68" d="M2709 4206l25-9-22-7-24 9zM2685 4215l24-9-21-7-25 8z"/>
<path fill="#00f" stroke-width="1.68" d="M2660 4222l25-7-22-8-25 6zM2635 4228l25-6-22-9-24 4zM2611 4232l24-4-21-11-25 5zM2586 4238l25-6-22-10-25 6zM2561 4244l25-6-22-10-24 7zM2537 4250l24-6-21-9-25 7zM2512 4257l25-7-22-8-25 7zM2487 4264l25-7-22-8-25 6zM2463 4270l24-6-22-9-24 5zM2438 4275l25-5-22-10-25 5zM2413 4280l25-5-22-10-25 5zM2389 4285l24-5-22-10-24 5zM2364 4290l25-5-22-10-25 5zM2339 4295l25-5-22-10-25 5zM2314 4300l25-5-22-10-24 6zM2290 4306l24-6-21-9-25 6z"/>
<path fill="#00f" stroke-width="2.94" d="M2027 4361l6 0-12-10-25-18 22 24z"/>
<path fill="#00afff" stroke-width="0.76" d="M1821 4259l24-3-21 2-25 3zM1796 4263l25-4-22 2-25 4zM1771 4266l25-3-22 2-25 3zM1747 4270l24-4-22 2-24 4zM1722 4274l25-4-22 2-25 4zM1697 4279l25-5-22 2-25 3zM1673 4285l24-6-22 0-24 5zM1648 4292l25-7-22-1-25 5z"/>
<path fill="#009fff" stroke-width="0.76" d="M1623 4299l25-7-22-3-25 7zM1598 4307l25-8-22-3-24 7zM1574 4314l24-7-21-4-25 7z"/>
<path fill="#008fff" stroke-width="0.76" d="M1549 4322l25-8-22-4-25 8zM1524 4329l25-7-22-4-24 7z"/>
<path fill="#0080ff" stroke-width="0.76" d="M1500 4337l24-8-21-4-25 8zM1475 4345l25-8-22-4-25 8zM1450 4353l25-8-22-4-24 7z"/>
<path fill="#0070ff" stroke-width="0.76" d="M1450 4353l-21-5-24 8 3 1 18 4z"/>
<path fill="#10ffef" d="M3003 4051l25-47-22-13-25 28z"/>
<path fill="#00cfff" d="M2978 4105l25-54-22-32-25 42z"/>
<path fill="#008fff" d="M2954 4129l24-24-22-44-24 33z"/>
<path fill="#0070ff" d="M2929 4138l25-9-22-35-25 22z"/>
<path fill="#0060ff" stroke-width="2.94" d="M2904 4146l25-8-22-22-25 15z"/>
<path fill="#0050ff" stroke-width="2.94" d="M2879 4156l25-10-22-15-24 12z"/>
<path fill="#0040ff" stroke-width="1.68" d="M2855 4165l24-9-21-13-25 12z"/>
<path fill="#0030ff" stroke-width="1.68" d="M2830 4175l25-10-22-10-25 12zM2805 4185l25-10-22-8-24 11z"/>
<path fill="#0020ff" stroke-width="1.68" d="M2781 4195l24-10-21-7-25 10z"/>
<path fill="#0010ff" stroke-width="1.68" d="M2756 4204l25-9-22-7-25 9zM2731 4213l25-9-22-7-25 9z"/>
<path fill="#00f" stroke-width="1.68" d="M2707 4222l24-9-22-7-24 9zM2682 4230l25-8-22-7-25 7zM2657 4237l25-7-22-8-25 6zM2633 4242l24-5-22-9-24 4zM2608 4247l25-5-22-10-25 6zM2583 4253l25-6-22-9-25 6zM2558 4259l25-6-22-9-24 6zM2534 4265l24-6-21-9-25 7zM2509 4272l25-7-22-8-25 7zM2484 4279l25-7-22-8-24 6zM2460 4285l24-6-21-9-25 5zM2435 4290l25-5-22-10-25 5zM2410 4295l25-5-22-10-24 5zM2386 4300l24-5-21-10-25 5zM2361 4305l25-5-22-10-25 5zM2336 4309l25-4-22-10-25 5zM2312 4315l24-6-22-9-24 6z"/>
<path fill="#00f" stroke-width="0.76" d="M2166 4341l-18 5 24-3z"/>
<path fill="#00afff" stroke-width="0.76" d="M1867 4254l25-2-22 1-25 3zM1843 4257l24-3-22 2-24 3z"/>
<path fill="#00bfff" stroke-width="0.76" d="M1818 4261l25-4-22 2-25 4zM1793 4265l25-4-22 2-25 3zM1768 4269l25-4-22 1-24 4zM1744 4274l24-5-21 1-25 4z"/>
<path fill="#00afff" stroke-width="0.76" d="M1719 4281l25-7-22 0-25 5zM1694 4288l25-7-22-2-24 6zM1670 4295l24-7-21-3-25 7zM1645 4303l25-8-22-3-25 7z"/>
<path fill="#009fff" stroke-width="0.76" d="M1620 4311l25-8-22-4-25 8zM1596 4318l24-7-22-4-24 7z"/>
<path fill="#008fff" stroke-width="0.76" d="M1571 4326l25-8-22-4-25 8zM1546 4334l25-8-22-4-25 7zM1522 4342l24-8-22-5-24 8z"/>
<path fill="#0080ff" stroke-width="0.76" d="M1497 4350l25-8-22-5-25 8zM1472 4357l25-7-22-5-25 8z"/>
<path fill="#0070ff" stroke-width="0.76" d="M1447 4365l25-8-22-4-24 8zM1447 4365l-21-4-5 1 16 7z"/>
<path fill="#0030ff" stroke-width="0.76" d="M3321 4105l25-6-22-2-25 6z"/>
<path fill="#10ffef" stroke-width="1.68" d="M3049 4019l25 3-22-4-24-14z"/>
<path fill="#00efff" d="M3025 4072l24-53-21-15-25 47z"/>
<path fill="#009fff" d="M3000 4125l25-53-22-21-25 54z"/>
<path fill="#0060ff" d="M2975 4152l25-27-22-20-24 24z"/>
<path fill="#0050ff" stroke-width="2.94" d="M2951 4159l24-7-21-23-25 9z"/>
<path fill="#0040ff" stroke-width="2.94" d="M2926 4162l25-3-22-21-25 8z"/>
<path fill="#0040ff" stroke-width="1.68" d="M2901 4168l25-6-22-16-25 10zM2877 4176l24-8-22-12-24 9z"/>
<path fill="#0030ff" stroke-width="1.68" d="M2852 4184l25-8-22-11-25 10z"/>
<path fill="#0020ff" stroke-width="1.68" d="M2827 4193l25-9-22-9-25 10zM2803 4202l24-9-22-8-24 10z"/>
<path fill="#0010ff" stroke-width="1.68" d="M2778 4211l25-9-22-7-25 9zM2753 4220l25-9-22-7-25 9z"/>
<path fill="#00f" stroke-width="1.68" d="M2728 4229l25-9-22-7-24 9zM2704 4237l24-8-21-7-25 8zM2679 4245l25-8-22-7-25 7zM2654 4252l25-7-22-8-24 5zM2630 4257l24-5-21-10-25 5zM2605 4262l25-5-22-10-25 6zM2580 4268l25-6-22-9-25 6zM2556 4274l24-6-22-9-24 6zM2531 4281l25-7-22-9-25 7zM2506 4287l25-6-22-9-25 7zM2482 4294l24-7-22-8-24 6zM2457 4299l25-5-22-9-25 5zM2432 4305l25-6-22-9-25 5zM2408 4310l24-5-22-10-24 5zM2383 4315l25-5-22-10-25 5zM2358 4319l25-4-22-10-25 4zM2333 4324l25-5-22-10-24 6z"/>
<path fill="#008fff" stroke-width="2.94" d="M1938 4269l25 22-22-19-24-16z"/>
<path fill="#00afff" stroke-width="1.68" d="M1914 4256l24 13-21-13-25-4z"/>
<path fill="#00bfff" stroke-width="0.76" d="M1889 4253l25 3-22-4-25 2zM1864 4256l25-3-22 1-24 3zM1840 4259l24-3-21 1-25 4zM1815 4264l25-5-22 2-25 4zM1790 4270l25-6-22 1-25 4zM1766 4277l24-7-22-1-24 5zM1741 4284l25-7-22-3-25 7zM1716 4292l25-8-22-3-25 7z"/>
<path fill="#00afff" stroke-width="0.76" d="M1692 4299l24-7-22-4-24 7zM1667 4307l25-8-22-4-25 8z"/>
<path fill="#009fff" stroke-width="0.76" d="M1642 4315l25-8-22-4-25 8zM1617 4323l25-8-22-4-24 7zM1593 4331l24-8-21-5-25 8z"/>
<path fill="#008fff" stroke-width="0.76" d="M1568 4339l25-8-22-5-25 8zM1543 4347l25-8-22-5-24 8z"/>
<path fill="#0080ff" stroke-width="0.76" d="M1519 4354l24-7-21-5-25 8zM1494 4362l25-8-22-4-25 7zM1469 4370l25-8-22-5-25 8z"/>
<path fill="#0070ff" stroke-width="0.76" d="M1469 4370l-22-5-10 4 17 6z"/>
<path fill="#10ffef" stroke-width="1.68" d="M3071 4037l25-13-22-2-25-3z"/>
<path fill="#00dfff" d="M3047 4089l24-52-22-18-24 53z"/>
<path fill="#008fff" d="M3022 4134l25-45-22-17-25 53z"/>
<path fill="#0050ff" stroke-width="2.94" d="M2997 4162l25-28-22-9-25 27z"/>
<path fill="#0030ff" stroke-width="2.94" d="M2973 4176l24-14-22-10-24 7z"/>
<path fill="#0030ff" stroke-width="1.68" d="M2948 4180l25-4-22-17-25 3zM2923 4182l25-2-22-18-25 6zM2898 4187l25-5-22-14-24 8zM2874 4194l24-7-21-11-25 8z"/>
<path fill="#0020ff" stroke-width="1.68" d="M2849 4201l25-7-22-10-25 9zM2824 4210l25-9-22-8-24 9z"/>
<path fill="#0010ff" stroke-width="1.68" d="M2800 4218l24-8-21-8-25 9zM2775 4227l25-9-22-7-25 9z"/>
<path fill="#00f" stroke-width="1.68" d="M2750 4236l25-9-22-7-25 9zM2726 4244l24-8-22-7-24 8zM2701 4252l25-8-22-7-25 8zM2676 4260l25-8-22-7-25 7zM2652 4267l24-7-22-8-24 5zM2627 4272l25-5-22-10-25 5zM2602 4277l25-5-22-10-25 6zM2577 4283l25-6-22-9-24 6zM2553 4289l24-6-21-9-25 7zM2528 4296l25-7-22-8-25 6zM2503 4302l25-6-22-9-24 7zM2479 4309l24-7-21-8-25 5zM2454 4314l25-5-22-10-25 6zM2429 4320l25-6-22-9-24 5zM2405 4325l24-5-21-10-25 5zM2380 4330l25-5-22-10-25 4zM2355 4334l25-4-22-11-25 5z"/>
<path fill="#009fff" stroke-width="2.94" d="M1936 4267l24 20-22-18-24-13z"/>
<path fill="#00bfff" stroke-width="1.68" d="M1911 4257l25 10-22-11-25-3z"/>
<path fill="#00cfff" stroke-width="0.76" d="M1886 4256l25 1-22-4-25 3zM1862 4260l24-4-22 0-24 3zM1837 4266l25-6-22-1-25 5zM1812 4273l25-7-22-2-25 6zM1787 4281l25-8-22-3-24 7z"/>
<path fill="#00bfff" stroke-width="0.76" d="M1763 4288l24-7-21-4-25 7zM1738 4296l25-8-22-4-25 8z"/>
<path fill="#00afff" stroke-width="0.76" d="M1713 4302l25-6-22-4-24 7zM1689 4308l24-6-21-3-25 8zM1664 4317l25-9-22-1-25 8z"/>
<path fill="#009fff" stroke-width="0.76" d="M1639 4327l25-10-22-2-25 8zM1615 4336l24-9-22-4-24 8z"/>
<path fill="#008fff" stroke-width="0.76" d="M1590 4344l25-8-22-5-25 8zM1565 4352l25-8-22-5-25 8z"/>
<path fill="#0080ff" stroke-width="1.68" d="M1541 4360l24-8-22-5-24 7zM1516 4368l25-8-22-6-25 8zM1491 4375l25-7-22-6-25 8z"/>
<path fill="#0070ff" stroke-width="1.68" d="M1491 4375l-22-5-15 5 2 1 2 5 8 2z"/>
<path fill="#0ff" stroke-width="2.94" d="M3093 4061l25-29-22-8-25 13z"/>
<path fill="#00bfff" d="M3068 4108l25-47-22-24-24 52z"/>
<path fill="#0080ff" d="M3044 4142l24-34-21-19-25 45z"/>
<path fill="#0050ff" stroke-width="2.94" d="M3019 4165l25-23-22-8-25 28z"/>
<path fill="#0030ff" stroke-width="2.94" d="M2994 4186l25-21-22-3-24 14z"/>
<path fill="#0020ff" stroke-width="1.68" d="M2970 4196l24-10-21-10-25 4zM2945 4198l25-2-22-16-25 2zM2920 4199l25-1-22-16-25 5zM2896 4204l24-5-22-12-24 7zM2871 4210l25-6-22-10-25 7z"/>
<path fill="#0010ff" stroke-width="1.68" d="M2846 4218l25-8-22-9-25 9zM2822 4225l24-7-22-8-24 8zM2797 4234l25-9-22-7-25 9z"/>
<path fill="#00f" stroke-width="1.68" d="M2723 4259l24-8-21-7-25 8zM2698 4267l25-8-22-7-25 8zM2673 4275l25-8-22-7-24 7zM2649 4281l24-6-21-8-25 5zM2624 4287l25-6-22-9-25 5zM2599 4292l25-5-22-10-25 6zM2575 4298l24-6-22-9-24 6zM2550 4304l25-6-22-9-25 7zM2525 4311l25-7-22-8-25 6zM2501 4318l24-7-22-9-24 7zM2476 4324l25-6-22-9-25 5zM2451 4329l25-5-22-10-25 6zM2426 4335l25-6-22-9-24 5z"/>
<path fill="#008fff" stroke-width="2.94" d="M1957 4284l25 23-22-20-24-20z"/>
<path fill="#00bfff" stroke-width="2.94" d="M1933 4268l24 16-21-17-25-10z"/>
<path fill="#00cfff" stroke-width="0.76" d="M1908 4261l25 7-22-11-25-1z"/>
<path fill="#00dfff" stroke-width="0.76" d="M1883 4263l25-2-22-5-24 4z"/>
<path fill="#00cfff" stroke-width="0.76" d="M1859 4270l24-7-21-3-25 6zM1834 4278l25-8-22-4-25 7zM1809 4285l25-7-22-5-25 8z"/>
<path fill="#00bfff" stroke-width="0.76" d="M1785 4293l24-8-22-4-24 7zM1760 4301l25-8-22-5-25 8zM1735 4304l25-3-22-5-25 6zM1711 4305l24-1-22-2-24 6z"/>
<path fill="#00afff" stroke-width="0.76" d="M1686 4318l25-13-22 3-25 9z"/>
<path fill="#00afff" stroke-width="1.68" d="M1661 4332l25-14-22-1-25 10z"/>
<path fill="#009fff" stroke-width="1.68" d="M1636 4341l25-9-22-5-24 9z"/>
<path fill="#008fff" stroke-width="1.68" d="M1612 4349l24-8-21-5-25 8zM1587 4357l25-8-22-5-25 8zM1562 4365l25-8-22-5-24 8z"/>
<path fill="#0080ff" stroke-width="1.68" d="M1538 4373l24-8-21-5-25 8zM1513 4381l25-8-22-5-25 7z"/>
<path fill="#0070ff" stroke-width="1.68" d="M1488 4389l25-8-22-6-25 8zM1488 4389l-22-6-7 3 4 11 1 0z"/>
<path fill="#0040ff" stroke-width="0.76" d="M3337 4119l25-5-22 0-25 3z"/>
<path fill="#0ff" stroke-width="2.94" d="M3140 4062l24-33-22 5-24-2z"/>
<path fill="#00dfff" d="M3115 4097l25-35-22-30-25 29z"/>
<path fill="#009fff" d="M3090 4129l25-32-22-36-25 47z"/>
<path fill="#0070ff" d="M3066 4151l24-22-22-21-24 34z"/>
<path fill="#0050ff" stroke-width="2.94" d="M3041 4169l25-18-22-9-25 23z"/>
<path fill="#0030ff" stroke-width="2.94" d="M3016 4188l25-19-22-4-25 21z"/>
<path fill="#0020ff" stroke-width="1.68" d="M2991 4205l25-17-22-2-24 10z"/>
<path fill="#0010ff" stroke-width="1.68" d="M2967 4214l24-9-21-9-25 2zM2942 4214l25 0-22-16-25 1zM2917 4215l25-1-22-15-24 5zM2893 4220l24-5-21-11-25 6zM2868 4226l25-6-22-10-25 8zM2843 4233l25-7-22-8-24 7z"/>
<path fill="#00f" stroke-width="1.68" d="M2646 4296l25-6-22-9-25 6zM2621 4302l25-6-22-9-25 5zM2596 4307l25-5-22-10-24 6zM2572 4313l24-6-21-9-25 6zM2547 4319l25-6-22-9-25 7zM2522 4326l25-7-22-8-24 7zM2498 4333l24-7-21-8-25 6z"/>
<path fill="#009fff" stroke-width="2.94" d="M1955 4288l24 19-22-23-24-16z"/>
<path fill="#00bfff" stroke-width="2.94" d="M1930 4276l25 12-22-20-25-7z"/>
<path fill="#00cfff" stroke-width="1.68" d="M1905 4272l25 4-22-15-25 2z"/>
<path fill="#00cfff" stroke-width="0.76" d="M1880 4276l25-4-22-9-24 7z"/>
<path fill="#00cfff" stroke-width="1.68" d="M1856 4283l24-7-21-6-25 8zM1831 4291l25-8-22-5-25 7z"/>
<path fill="#00bfff" stroke-width="1.68" d="M1806 4299l25-8-22-6-24 8z"/>
<path fill="#00bfff" stroke-width="0.76" d="M1782 4306l24-7-21-6-25 8zM1757 4308l25-2-22-5-25 3zM1732 4307l25 1-22-4-24 1z"/>
<path fill="#00bfff" stroke-width="1.68" d="M1708 4323l24-16-21-2-25 13z"/>
<path fill="#00afff" stroke-width="1.68" d="M1683 4338l25-15-22-5-25 14z"/>
<path fill="#009fff" stroke-width="1.68" d="M1658 4347l25-9-22-6-25 9z"/>
<path fill="#008fff" stroke-width="1.68" d="M1634 4355l24-8-22-6-24 8zM1609 4363l25-8-22-6-25 8zM1584 4371l25-8-22-6-25 8z"/>
<path fill="#0080ff" stroke-width="1.68" d="M1560 4379l24-8-22-6-24 8zM1535 4387l25-8-22-6-25 8z"/>
<path fill="#0070ff" stroke-width="1.68" d="M1510 4395l25-8-22-6-25 8zM1485 4403l25-8-22-6-24 8z"/>
<path fill="#0060ff" stroke-width="0.76" d="M1485 4403l-21-6-1 0 4 12z"/>
<path fill="#0050ff" stroke-width="0.76" d="M3408 4108l-20 0-3 6z"/>
<path fill="#0040ff" stroke-width="0.76" d="M3374 4117l-2-3-10 0-25 5 22 2z"/>
<path fill="#20ffdf" d="M3186 4054l25-42-22 0-25 17z"/>
<path fill="#00dfff" d="M3161 4103l25-49-22-25-24 33z"/>
<path fill="#009fff" d="M3137 4137l24-34-21-41-25 35z"/>
<path fill="#0080ff" d="M3112 4153l25-16-22-40-25 32z"/>
<path fill="#0060ff" stroke-width="2.94" d="M3087 4163l25-10-22-24-24 22z"/>
<path fill="#0050ff" stroke-width="2.94" d="M3063 4175l24-12-21-12-25 18z"/>
<path fill="#0030ff" stroke-width="1.68" d="M3038 4190l25-15-22-6-25 19z"/>
<path fill="#0020ff" stroke-width="1.68" d="M3013 4208l25-18-22-2-25 17z"/>
<path fill="#0010ff" stroke-width="1.68" d="M2989 4223l24-15-22-3-24 9z"/>
<path fill="#00f" stroke-width="1.68" d="M2964 4230l25-7-22-9-25 0zM2939 4230l25 0-22-16-25 1z"/>
<path fill="#0010ff" stroke-width="1.68" d="M2915 4231l24-1-22-15-24 5zM2890 4236l25-5-22-11-25 6z"/>
<path fill="#00f" stroke-width="1.68" d="M2865 4242l25-6-22-10-25 7z"/>
<path fill="#0020ff" stroke-width="2.94" d="M2030 4361l2 0-3-4-25-27 22 26z"/>
<path fill="#00afff" stroke-width="2.94" d="M1952 4299l24 17-21-28-25-12z"/>
<path fill="#00bfff" stroke-width="2.94" d="M1927 4288l25 11-22-23-25-4z"/>
<path fill="#00cfff" stroke-width="1.68" d="M1902 4286l25 2-22-16-25 4zM1878 4290l24-4-22-10-24 7zM1853 4297l25-7-22-7-25 8z"/>
<path fill="#00bfff" stroke-width="1.68" d="M1828 4305l25-8-22-6-25 8z"/>
<path fill="#00bfff" stroke-width="0.76" d="M1804 4312l24-7-22-6-24 7zM1779 4313l25-1-22-6-25 2zM1754 4314l25-1-22-5-25-1z"/>
<path fill="#00bfff" stroke-width="2.94" d="M1730 4330l24-16-22-7-24 16z"/>
<path fill="#00afff" stroke-width="1.68" d="M1705 4344l25-14-22-7-25 15z"/>
<path fill="#009fff" stroke-width="1.68" d="M1680 4353l25-9-22-6-25 9z"/>
<path fill="#008fff" stroke-width="1.68" d="M1655 4361l25-8-22-6-24 8zM1631 4369l24-8-21-6-25 8zM1606 4377l25-8-22-6-25 8z"/>
<path fill="#0080ff" stroke-width="1.68" d="M1581 4385l25-8-22-6-24 8zM1557 4393l24-8-21-6-25 8z"/>
<path fill="#0070ff" stroke-width="1.68" d="M1532 4401l25-8-22-6-25 8zM1507 4409l25-8-22-6-25 8z"/>
<path fill="#0060ff" stroke-width="1.68" d="M1507 4409l-22-6-18 6 1 4 15 4 0 0z"/>
<path fill="#0050ff" stroke-width="0.76" d="M3405 4113l-20 1-4 6zM3377 4121l-1-1-17 1-25 2 22 2z"/>
<path fill="#30ffcf" d="M3233 4043l24-30-21-11-25 10z"/>
<path fill="#0ff" d="M3208 4092l25-49-22-31-25 42z"/>
<path fill="#00afff" d="M3183 4134l25-42-22-38-25 49z"/>
<path fill="#0070ff" d="M3159 4162l24-28-22-31-24 34z"/>
<path fill="#0050ff" stroke-width="2.94" d="M3134 4175l25-13-22-25-25 16z"/>
<path fill="#0040ff" stroke-width="2.94" d="M3109 4179l25-4-22-22-25 10zM3085 4185l24-6-22-16-24 12z"/>
<path fill="#0030ff" stroke-width="1.68" d="M3060 4195l25-10-22-10-25 15z"/>
<path fill="#0020ff" stroke-width="1.68" d="M3035 4209l25-14-22-5-25 18z"/>
<path fill="#0010ff" stroke-width="1.68" d="M3010 4226l25-17-22-1-24 15z"/>
<path fill="#00f" stroke-width="1.68" d="M2986 4240l24-14-21-3-25 7zM2961 4245l25-5-22-10-25 0zM2936 4244l25 1-22-15-24 1zM2912 4246l24-2-21-13-25 5zM2887 4251l25-5-22-10-25 6z"/>
<path fill="#009fff" stroke-width="2.94" d="M1949 4312l25 16-22-29-25-11z"/>
<path fill="#00bfff" stroke-width="2.94" d="M1924 4301l25 11-22-24-25-2z"/>
<path fill="#00cfff" stroke-width="1.68" d="M1899 4300l25 1-22-15-24 4zM1875 4305l24-5-21-10-25 7z"/>
<path fill="#00bfff" stroke-width="1.68" d="M1850 4312l25-7-22-8-25 8z"/>
<path fill="#00bfff" stroke-width="0.76" d="M1825 4317l25-5-22-7-24 7zM1801 4317l24 0-21-5-25 1zM1776 4322l25-5-22-4-25 1z"/>
<path fill="#00bfff" stroke-width="2.94" d="M1751 4338l25-16-22-8-24 16z"/>
<path fill="#00afff" stroke-width="1.68" d="M1727 4351l24-13-21-8-25 14z"/>
<path fill="#009fff" stroke-width="1.68" d="M1702 4359l25-8-22-7-25 9z"/>
<path fill="#008fff" stroke-width="1.68" d="M1677 4367l25-8-22-6-25 8zM1653 4375l24-8-22-6-24 8zM1628 4383l25-8-22-6-25 8z"/>
<path fill="#0080ff" stroke-width="1.68" d="M1603 4391l25-8-22-6-25 8zM1579 4399l24-8-22-6-24 8z"/>
<path fill="#0070ff" stroke-width="1.68" d="M1554 4407l25-8-22-6-25 8z"/>
<path fill="#0070ff" stroke-width="0.76" d="M1554 4407l-22-6-25 8 13 3 26-2z"/>
<path fill="#0060ff" stroke-width="0.76" d="M1507 4409l-24 8 37-5z"/>
<path fill="#10ffef" d="M3279 4047l25 11-22-21-25-24z"/>
<path fill="#0ff" d="M3255 4083l24-36-22-34-24 30z"/>
<path fill="#00bfff" d="M3230 4124l25-41-22-40-25 49z"/>
<path fill="#0080ff" d="M3205 4152l25-28-22-32-25 42z"/>
<path fill="#0060ff" stroke-width="2.94" d="M3180 4174l25-22-22-18-24 28z"/>
<path fill="#0040ff" stroke-width="2.94" d="M3156 4190l24-16-21-12-25 13z"/>
<path fill="#0030ff" stroke-width="2.94" d="M3131 4198l25-8-22-15-25 4z"/>
<path fill="#0030ff" stroke-width="1.68" d="M3106 4200l25-2-22-19-24 6zM3082 4204l24-4-21-15-25 10z"/>
<path fill="#0020ff" stroke-width="1.68" d="M3057 4213l25-9-22-9-25 14z"/>
<path fill="#0010ff" stroke-width="1.68" d="M3032 4226l25-13-22-4-25 17z"/>
<path fill="#00f" stroke-width="1.68" d="M3008 4243l24-17-22 0-24 14zM2983 4256l25-13-22-3-25 5zM2958 4259l25-3-22-11-25-1zM2934 4258l24 1-22-15-24 2z"/>
<path fill="#0050ff" stroke-width="2.94" d="M2003 4364l7-1-12-17-24-18 21 31z"/>
<path fill="#00bfff" stroke-width="1.68" d="M1897 4314l24 1-22-15-24 5zM1872 4319l25-5-22-9-25 7z"/>
<path fill="#00bfff" stroke-width="0.76" d="M1847 4322l25-3-22-7-25 5zM1823 4320l24 2-22-5-24 0zM1798 4329l25-9-22-3-25 5z"/>
<path fill="#00bfff" stroke-width="2.94" d="M1773 4346l25-17-22-7-25 16z"/>
<path fill="#009fff" stroke-width="1.68" d="M1748 4358l25-12-22-8-24 13zM1724 4366l24-8-21-7-25 8z"/>
<path fill="#008fff" stroke-width="1.68" d="M1699 4374l25-8-22-7-25 8zM1674 4382l25-8-22-7-24 8z"/>
<path fill="#0080ff" stroke-width="1.68" d="M1650 4390l24-8-21-7-25 8zM1625 4398l25-8-22-7-25 8zM1625 4398l-22-7-24 8 17 5 1 0 3 2z"/>
<path fill="#0070ff" stroke-width="0.76" d="M1579 4399l-25 8 4 1 38-4z"/>
<path fill="#00dfff" d="M3301 4088l25-1-22-29-25-11z"/>
<path fill="#00cfff" d="M3276 4119l25-31-22-41-24 36z"/>
<path fill="#008fff" d="M3252 4147l24-28-21-36-25 41z"/>
<path fill="#0070ff" d="M3227 4164l25-17-22-23-25 28z"/>
<path fill="#0050ff" stroke-width="2.94" d="M3202 4180l25-16-22-12-25 22z"/>
<path fill="#0030ff" stroke-width="2.94" d="M3178 4198l24-18-22-6-24 16z"/>
<path fill="#0020ff" stroke-width="1.68" d="M3153 4212l25-14-22-8-25 8zM3128 4217l25-5-22-14-25 2zM3104 4217l24 0-22-17-24 4zM3079 4221l25-4-22-13-25 9z"/>
<path fill="#0010ff" stroke-width="1.68" d="M3054 4230l25-9-22-8-25 13z"/>
<path fill="#00f" stroke-width="1.68" d="M3029 4243l25-13-22-4-24 17zM3005 4259l24-16-21 0-25 13zM2980 4269l25-10-22-3-25 3z"/>
<path fill="#00f" stroke-width="0.76" d="M2955 4271l25-2-22-10-24-1z"/>
<path fill="#0080ff" d="M1985 4367l4-1-18-25-25-16 22 29z"/>
<path fill="#00bfff" stroke-width="0.76" d="M1869 4328l25 1-22-10-25 3z"/>
<path fill="#00cfff" stroke-width="0.76" d="M1844 4323l25 5-22-6-24-2zM1820 4332l24-9-21-3-25 9z"/>
<path fill="#00bfff" stroke-width="1.68" d="M1795 4351l25-19-22-3-25 17z"/>
<path fill="#009fff" stroke-width="1.68" d="M1770 4364l25-13-22-5-25 12zM1746 4373l24-9-22-6-24 8z"/>
<path fill="#008fff" stroke-width="1.68" d="M1721 4381l25-8-22-7-25 8zM1696 4389l25-8-22-7-25 8z"/>
<path fill="#0080ff" stroke-width="1.68" d="M1672 4397l24-8-22-7-24 8zM1647 4405l25-8-22-7-25 8zM1647 4405l-22-7-25 8 1 0 21 6z"/>
<path fill="#0080ff" stroke-width="0.76" d="M3372 4125l25-4-22 6-25-11z"/>
<path fill="#008fff" stroke-width="2.94" d="M3348 4119l24 6-22-9-24-29z"/>
<path fill="#00afff" stroke-width="2.94" d="M3323 4124l25-5-22-32-25 1z"/>
<path fill="#009fff" d="M3298 4144l25-20-22-36-25 31z"/>
<path fill="#0070ff" d="M3274 4162l24-18-22-25-24 28z"/>
<path fill="#0060ff" stroke-width="2.94" d="M3249 4176l25-14-22-15-25 17z"/>
<path fill="#0040ff" stroke-width="2.94" d="M3224 4188l25-12-22-12-25 16z"/>
<path fill="#0030ff" stroke-width="1.68" d="M3199 4202l25-14-22-8-24 18z"/>
<path fill="#0020ff" stroke-width="1.68" d="M3175 4218l24-16-21-4-25 14z"/>
<path fill="#0010ff" stroke-width="1.68" d="M3150 4230l25-12-22-6-25 5zM3125 4233l25-3-22-13-24 0zM3101 4234l24-1-21-16-25 4zM3076 4238l25-4-22-13-25 9zM3051 4246l25-8-22-8-25 13z"/>
<path fill="#00f" stroke-width="1.68" d="M3027 4259l24-13-22-3-24 16zM3002 4272l25-13-22 0-25 10z"/>
<path fill="#00f" stroke-width="0.76" d="M2977 4280l25-8-22-3-25 2z"/>
<path fill="#0070ff" stroke-width="2.94" d="M1973 4373l6-4-11-15-25-16 22 29z"/>
<path fill="#00cfff" stroke-width="0.76" d="M1842 4326l24-1-22-2-24 9z"/>
<path fill="#00bfff" stroke-width="2.94" d="M1817 4347l25-21-22 6-25 19z"/>
<path fill="#00afff" stroke-width="1.68" d="M1792 4368l25-21-22 4-25 13z"/>
<path fill="#009fff" stroke-width="1.68" d="M1767 4380l25-12-22-4-24 9z"/>
<path fill="#008fff" stroke-width="1.68" d="M1743 4388l24-8-21-7-25 8zM1718 4396l25-8-22-7-25 8z"/>
<path fill="#0080ff" stroke-width="1.68" d="M1693 4404l25-8-22-7-24 8zM1669 4412l24-8-21-7-25 8z"/>
<path fill="#0070ff" stroke-width="1.68" d="M1644 4419l25-7-22-7-25 7z"/>
<path fill="#0070ff" stroke-width="0.76" d="M1644 4419l-22-7-4 2 18 8z"/>
<path fill="#008fff" stroke-width="1.68" d="M3369 4135l25-16-22 6-24-6z"/>
<path fill="#0080ff" stroke-width="2.94" d="M3345 4147l24-12-21-16-25 5z"/>
<path fill="#0070ff" stroke-width="2.94" d="M3320 4161l25-14-22-23-25 20z"/>
<path fill="#0060ff" stroke-width="2.94" d="M3295 4174l25-13-22-17-24 18z"/>
<path fill="#0050ff" stroke-width="2.94" d="M3271 4186l24-12-21-12-25 14z"/>
<path fill="#0040ff" stroke-width="1.68" d="M3246 4197l25-11-22-10-25 12z"/>
<path fill="#0030ff" stroke-width="1.68" d="M3221 4208l25-11-22-9-25 14z"/>
<path fill="#0020ff" stroke-width="1.68" d="M3197 4221l24-13-22-6-24 16z"/>
<path fill="#0010ff" stroke-width="1.68" d="M3172 4237l25-16-22-3-25 12z"/>
<path fill="#00f" stroke-width="1.68" d="M3147 4247l25-10-22-7-25 3zM3123 4249l24-2-22-14-24 1z"/>
<path fill="#0010ff" stroke-width="1.68" d="M3098 4249l25 0-22-15-25 4zM3073 4253l25-4-22-11-25 8z"/>
<path fill="#00f" stroke-width="1.68" d="M3048 4262l25-9-22-7-24 13zM3024 4273l24-11-21-3-25 13z"/>
<path fill="#00f" stroke-width="0.76" d="M2999 4283l25-10-22-1-25 8z"/>
<path fill="#00dfff" stroke-width="2.94" d="M1839 4337l24-19-21 8-25 21z"/>
<path fill="#00bfff" stroke-width="2.94" d="M1814 4365l25-28-22 10-25 21z"/>
<path fill="#009fff" stroke-width="1.68" d="M1789 4384l25-19-22 3-25 12z"/>
<path fill="#008fff" stroke-width="1.68" d="M1765 4395l24-11-22-4-24 8zM1740 4404l25-9-22-7-25 8z"/>
<path fill="#0080ff" stroke-width="1.68" d="M1715 4411l25-7-22-8-25 8zM1691 4419l24-8-22-7-24 8z"/>
<path fill="#0070ff" stroke-width="1.68" d="M1666 4427l25-8-22-7-25 7z"/>
<path fill="#0070ff" stroke-width="0.76" d="M1666 4427l-22-8-8 3 18 9z"/>
<path fill="#009fff" d="M3391 4126l25-35-22 28-25 16z"/>
<path fill="#0080ff" stroke-width="2.94" d="M3367 4152l24-26-22 9-24 12z"/>
<path fill="#0070ff" stroke-width="2.94" d="M3342 4169l25-17-22-5-25 14z"/>
<path fill="#0050ff" stroke-width="1.68" d="M3317 4182l25-13-22-8-25 13zM3292 4194l25-12-22-8-24 12z"/>
<path fill="#0040ff" stroke-width="1.68" d="M3268 4204l24-10-21-8-25 11z"/>
<path fill="#0030ff" stroke-width="1.68" d="M3243 4214l25-10-22-7-25 11z"/>
<path fill="#0020ff" stroke-width="1.68" d="M3218 4224l25-10-22-6-24 13z"/>
<path fill="#0010ff" stroke-width="1.68" d="M3194 4238l24-14-21-3-25 16z"/>
<path fill="#00f" stroke-width="1.68" d="M3169 4253l25-15-22-1-25 10zM3144 4262l25-9-22-6-24 2zM3120 4263l24-1-21-13-25 0zM3095 4263l25 0-22-14-25 4zM3070 4268l25-5-22-10-25 9zM3046 4276l24-8-22-6-24 11z"/>
<path fill="#00f" stroke-width="0.76" d="M3021 4285l25-9-22-3-25 10z"/>
<path fill="#00efff" stroke-width="2.94" d="M1861 4323l24-10-22 5-24 19z"/>
<path fill="#00cfff" d="M1836 4354l25-31-22 14-25 28z"/>
<path fill="#00afff" stroke-width="2.94" d="M1811 4383l25-29-22 11-25 19z"/>
<path fill="#008fff" stroke-width="1.68" d="M1786 4401l25-18-22 1-24 11z"/>
<path fill="#0080ff" stroke-width="1.68" d="M1762 4411l24-10-21-6-25 9zM1737 4419l25-8-22-7-25 7zM1712 4427l25-8-22-8-24 8z"/>
<path fill="#0070ff" stroke-width="1.68" d="M1688 4434l24-7-21-8-25 8z"/>
<path fill="#0070ff" stroke-width="0.76" d="M1688 4434l-22-7-12 4 18 8z"/>
<path fill="#00cfff" d="M3413 4103l25-43-22 31-25 35z"/>
<path fill="#009fff" d="M3388 4143l25-40-22 23-24 26z"/>
<path fill="#0070ff" stroke-width="2.94" d="M3364 4169l24-26-21 9-25 17z"/>
<path fill="#0060ff" stroke-width="1.68" d="M3339 4185l25-16-22 0-25 13z"/>
<path fill="#0050ff" stroke-width="1.68" d="M3314 4197l25-12-22-3-25 12z"/>
<path fill="#0040ff" stroke-width="1.68" d="M3290 4208l24-11-22-3-24 10z"/>
<path fill="#0030ff" stroke-width="1.68" d="M3265 4217l25-9-22-4-25 10z"/>
<path fill="#0030ff" stroke-width="0.76" d="M3240 4227l25-10-22-3-25 10z"/>
<path fill="#0020ff" stroke-width="1.68" d="M3216 4237l24-10-22-3-24 14z"/>
<path fill="#0010ff" stroke-width="1.68" d="M3191 4251l25-14-22 1-25 15z"/>
<path fill="#00f" stroke-width="1.68" d="M3166 4266l25-15-22 2-25 9z"/>
<path fill="#00f" stroke-width="0.76" d="M3142 4274l24-8-22-4-24 1zM3117 4274l25 0-22-11-25 0zM3092 4275l25-1-22-11-25 5zM3067 4281l25-6-22-7-24 8zM3043 4288l24-7-21-5-25 9zM2626 4398l-25 6 9 2 17-8zM2453 4443l-11 2 21 7 10-2z"/>
<path fill="#0ff" d="M1858 4338l24-27-21 12-25 31z"/>
<path fill="#00cfff" d="M1833 4373l25-35-22 16-25 29z"/>
<path fill="#009fff" stroke-width="2.94" d="M1808 4401l25-28-22 10-25 18z"/>
<path fill="#008fff" stroke-width="1.68" d="M1784 4417l24-16-22 0-24 10z"/>
<path fill="#0080ff" stroke-width="1.68" d="M1759 4427l25-10-22-6-25 8z"/>
<path fill="#0070ff" stroke-width="1.68" d="M1734 4434l25-7-22-8-25 8zM1710 4442l24-8-22-7-24 7zM1710 4442l-22-8-16 5 19 9z"/>
<path fill="#70ff8f" d="M3484 4006l25-29-22 23-25 25z"/>
<path fill="#40ffbf" d="M3460 4045l24-39-22 19-24 35z"/>
<path fill="#0ff" d="M3435 4089l25-44-22 15-25 43z"/>
<path fill="#00bfff" d="M3410 4133l25-44-22 14-25 40z"/>
<path fill="#0080ff" stroke-width="2.94" d="M3386 4165l24-32-22 10-24 26z"/>
<path fill="#0060ff" stroke-width="1.68" d="M3361 4184l25-19-22 4-25 16z"/>
<path fill="#0050ff" stroke-width="1.68" d="M3336 4198l25-14-22 1-25 12z"/>
<path fill="#0040ff" stroke-width="0.76" d="M3311 4209l25-11-22-1-24 11zM3287 4220l24-11-21-1-25 9z"/>
<path fill="#0030ff" stroke-width="0.76" d="M3262 4229l25-9-22-3-25 10z"/>
<path fill="#0020ff" stroke-width="0.76" d="M3237 4238l25-9-22-2-24 10z"/>
<path fill="#0010ff" stroke-width="1.68" d="M3213 4249l24-11-21-1-25 14z"/>
<path fill="#00f" stroke-width="1.68" d="M3188 4263l25-14-22 2-25 15zM3163 4276l25-13-22 3-24 8z"/>
<path fill="#00f" stroke-width="0.76" d="M3139 4282l24-6-21-2-25 0zM3114 4283l25-1-22-8-25 1zM3089 4286l25-3-22-8-25 6zM3065 4292l24-6-22-5-24 7zM3040 4299l25-7-22-4-25 8z"/>
<path fill="#00bfff" stroke-width="2.94" d="M1932 4339l24 36 10 3 6-4-18-28z"/>
<path fill="#20ffdf" stroke-width="2.94" d="M1880 4321l24-20-22 10-24 27z"/>
<path fill="#00efff" d="M1855 4357l25-36-22 17-25 35z"/>
<path fill="#00bfff" d="M1830 4393l25-36-22 16-25 28z"/>
<path fill="#008fff" stroke-width="2.94" d="M1805 4420l25-27-22 8-24 16z"/>
<path fill="#0080ff" stroke-width="1.68" d="M1781 4434l24-14-21-3-25 10z"/>
<path fill="#0070ff" stroke-width="1.68" d="M1756 4442l25-8-22-7-25 7zM1731 4450l25-8-22-8-24 8z"/>
<path fill="#0060ff" stroke-width="0.76" d="M1731 4450l-21-8-19 6 9 4 17 2z"/>
<path fill="#9fff60" stroke-width="2.94" d="M3506 4002l25-35-22 10-25 29z"/>
<path fill="#60ff9f" d="M3481 4045l25-43-22 4-24 39z"/>
<path fill="#20ffdf" d="M3457 4088l24-43-21 0-25 44z"/>
<path fill="#00cfff" d="M3432 4131l25-43-22 1-25 44z"/>
<path fill="#009fff" stroke-width="2.94" d="M3407 4165l25-34-22 2-24 32z"/>
<path fill="#0070ff" stroke-width="1.68" d="M3383 4185l24-20-21 0-25 19z"/>
<path fill="#0060ff" stroke-width="1.68" d="M3358 4199l25-14-22-1-25 14z"/>
<path fill="#0050ff" stroke-width="1.68" d="M3333 4211l25-12-22-1-25 11z"/>
<path fill="#0040ff" stroke-width="0.76" d="M3309 4222l24-11-22-2-24 11z"/>
<path fill="#0030ff" stroke-width="0.76" d="M3284 4232l25-10-22-2-25 9zM3259 4241l25-9-22-3-25 9z"/>
<path fill="#0020ff" stroke-width="0.76" d="M3235 4250l24-9-22-3-24 11z"/>
<path fill="#0010ff" stroke-width="1.68" d="M3210 4261l25-11-22-1-25 14z"/>
<path fill="#00f" stroke-width="1.68" d="M3185 4273l25-12-22 2-25 13z"/>
<path fill="#00f" stroke-width="0.76" d="M3160 4283l25-10-22 3-24 6zM3136 4288l24-5-21-1-25 1zM3111 4291l25-3-22-5-25 3zM3086 4296l25-5-22-5-24 6zM3062 4303l24-7-21-4-25 7z"/>
<path fill="#00bfff" stroke-width="2.94" d="M1954 4346l18 28 10-7 4 0-11-17z"/>
<path fill="#40ffbf" stroke-width="2.94" d="M1901 4307l25-12-22 6-24 20z"/>
<path fill="#10ffef" d="M1877 4343l24-36-21 14-25 36z"/>
<path fill="#00dfff" d="M1852 4383l25-40-22 14-25 36z"/>
<path fill="#009fff" stroke-width="2.94" d="M1827 4419l25-36-22 10-25 27z"/>
<path fill="#0080ff" stroke-width="1.68" d="M1803 4440l24-21-22 1-24 14z"/>
<path fill="#0070ff" stroke-width="1.68" d="M1778 4450l25-10-22-6-25 8z"/>
<path fill="#0060ff" stroke-width="1.68" d="M1753 4458l25-8-22-8-25 8z"/>
<path fill="#0060ff" stroke-width="0.76" d="M1753 4458l-22-8-14 4 35 4z"/>
<path fill="#cfff30" stroke-width="2.94" d="M3553 3964l24-20-21 9-25 14z"/>
<path fill="#afff50" stroke-width="2.94" d="M3528 4004l25-40-22 3-25 35z"/>
<path fill="#70ff8f" d="M3503 4049l25-45-22-2-25 43z"/>
<path fill="#20ffdf" d="M3479 4093l24-44-22-4-24 43z"/>
<path fill="#00dfff" d="M3454 4135l25-42-22-5-25 43z"/>
<path fill="#009fff" stroke-width="2.94" d="M3429 4169l25-34-22-4-25 34z"/>
<path fill="#0070ff" stroke-width="2.94" d="M3405 4189l24-20-22-4-24 20z"/>
<path fill="#0060ff" stroke-width="1.68" d="M3380 4202l25-13-22-4-25 14z"/>
<path fill="#0050ff" stroke-width="1.68" d="M3355 4214l25-12-22-3-25 12z"/>
<path fill="#0040ff" stroke-width="1.68" d="M3330 4224l25-10-22-3-24 11z"/>
<path fill="#0040ff" stroke-width="0.76" d="M3306 4235l24-11-21-2-25 10z"/>
<path fill="#0030ff" stroke-width="0.76" d="M3281 4244l25-9-22-3-25 9z"/>
<path fill="#0020ff" stroke-width="0.76" d="M3256 4253l25-9-22-3-24 9zM3232 4262l24-9-21-3-25 11z"/>
<path fill="#0010ff" stroke-width="0.76" d="M3207 4271l25-9-22-1-25 12z"/>
<path fill="#00f" stroke-width="0.76" d="M3182 4282l25-11-22 2-25 10zM3158 4290l24-8-22 1-24 5zM3133 4295l25-5-22-2-25 3zM3108 4300l25-5-22-4-25 5zM3084 4306l24-6-22-4-24 7z"/>
<path fill="#00bfff" stroke-width="1.68" d="M1975 4350l11 17 20-3-9-13z"/>
<path fill="#50ffaf" stroke-width="1.68" d="M1923 4298l25-7-22 4-25 12z"/>
<path fill="#30ffcf" d="M1899 4332l24-34-22 9-24 36z"/>
<path fill="#00efff" d="M1874 4375l25-43-22 11-25 40z"/>
<path fill="#00bfff" d="M1849 4415l25-40-22 8-25 36z"/>
<path fill="#008fff" stroke-width="2.94" d="M1824 4444l25-29-22 4-24 21z"/>
<path fill="#0070ff" stroke-width="1.68" d="M1800 4458l24-14-21-4-25 10z"/>
<path fill="#0060ff" stroke-width="0.76" d="M1800 4458l-22-8-25 8 3 1 30 4z"/>
<path fill="#efff10" stroke-width="0.76" d="M3599 3946l25 0-22 2-25-4z"/>
<path fill="#dfff20" stroke-width="2.94" d="M3574 3969l25-23-22-2-24 20z"/>
<path fill="#afff50" d="M3550 4008l24-39-21-5-25 40z"/>
<path fill="#70ff8f" d="M3525 4052l25-44-22-4-25 45z"/>
<path fill="#20ffdf" d="M3500 4098l25-46-22-3-24 44z"/>
<path fill="#00dfff" d="M3476 4141l24-43-21-5-25 42z"/>
<path fill="#009fff" stroke-width="2.94" d="M3451 4175l25-34-22-6-25 34z"/>
<path fill="#0080ff" stroke-width="2.94" d="M3426 4194l25-19-22-6-24 20z"/>
<path fill="#0060ff" stroke-width="1.68" d="M3402 4206l24-12-21-5-25 13z"/>
<path fill="#0050ff" stroke-width="1.68" d="M3377 4217l25-11-22-4-25 12zM3352 4228l25-11-22-3-25 10z"/>
<path fill="#0040ff" stroke-width="1.68" d="M3328 4238l24-10-22-4-24 11z"/>
<path fill="#0030ff" stroke-width="0.76" d="M3303 4247l25-9-22-3-25 9zM3278 4256l25-9-22-3-25 9z"/>
<path fill="#0020ff" stroke-width="0.76" d="M3254 4265l24-9-22-3-24 9zM3229 4273l25-8-22-3-25 9z"/>
<path fill="#0010ff" stroke-width="0.76" d="M3204 4282l25-9-22-2-25 11zM3179 4290l25-8-22 0-24 8z"/>
<path fill="#00f" stroke-width="0.76" d="M3155 4297l24-7-21 0-25 5zM3130 4303l25-6-22-2-25 5zM3105 4310l25-7-22-3-24 6zM2933 4361l-22-4-25 7 13 2 18-1z"/>
<path fill="#00cfff" stroke-width="1.68" d="M1997 4351l9 13 22-3-9-13z"/>
<path fill="#50ffaf" d="M1920 4324l25-33-22 7-24 34z"/>
<path fill="#10ffef" d="M1896 4367l24-43-21 8-25 43z"/>
<path fill="#00cfff" d="M1871 4409l25-42-22 8-25 40z"/>
<path fill="#008fff" stroke-width="2.94" d="M1846 4444l25-35-22 6-25 29z"/>
<path fill="#0070ff" stroke-width="1.68" d="M1846 4444l-22 0-24 14 18 5 12-5z"/>
<path fill="#0060ff" stroke-width="0.76" d="M1800 4458l-14 5 27 3 5-3z"/>
<path fill="#dfff20" stroke-width="1.68" d="M3646 3957l24 3-21-1-25-13zM3621 3965l25-8-22-11-25 0z"/>
<path fill="#cfff30" stroke-width="2.94" d="M3596 3985l25-20-22-19-25 23z"/>
<path fill="#afff50" d="M3572 4016l24-31-22-16-24 39z"/>
<path fill="#70ff8f" d="M3547 4056l25-40-22-8-25 44z"/>
<path fill="#30ffcf" d="M3522 4101l25-45-22-4-25 46z"/>
<path fill="#00dfff" d="M3498 4145l24-44-22-3-24 43z"/>
<path fill="#009fff" stroke-width="2.94" d="M3473 4180l25-35-22-4-25 34z"/>
<path fill="#0080ff" stroke-width="2.94" d="M3448 4199l25-19-22-5-25 19z"/>
<path fill="#0060ff" stroke-width="1.68" d="M3424 4212l24-13-22-5-24 12zM3399 4222l25-10-22-6-25 11z"/>
<path fill="#0050ff" stroke-width="1.68" d="M3374 4232l25-10-22-5-25 11z"/>
<path fill="#0040ff" stroke-width="1.68" d="M3349 4242l25-10-22-4-24 10zM3325 4251l24-9-21-4-25 9z"/>
<path fill="#0030ff" stroke-width="0.76" d="M3300 4260l25-9-22-4-25 9zM3275 4268l25-8-22-4-24 9z"/>
<path fill="#0020ff" stroke-width="0.76" d="M3251 4277l24-9-21-3-25 8zM3226 4285l25-8-22-4-25 9z"/>
<path fill="#0010ff" stroke-width="0.76" d="M3201 4292l25-7-22-3-25 8zM3177 4300l24-8-22-2-24 7z"/>
<path fill="#00f" stroke-width="0.76" d="M3152 4307l25-7-22-3-25 6zM3127 4314l25-7-22-4-25 7zM3103 4322l24-8-22-4-24 7zM2933 4361l-16 4 31-2z"/>
<path fill="#60ff9f" d="M1942 4316l25-32-22 7-25 33z"/>
<path fill="#30ffcf" d="M1917 4359l25-43-22 8-24 43z"/>
<path fill="#00dfff" d="M1893 4402l24-43-21 8-25 42z"/>
<path fill="#009fff" d="M1893 4402l-22 7-25 35 14-1 11-6z"/>
<path fill="#0070ff" stroke-width="1.68" d="M1846 4444l-16 14 30-15z"/>
<path fill="#bfff40" stroke-width="1.68" d="M3692 3975l25 4-22-5-25-14z"/>
<path fill="#cfff30" stroke-width="2.94" d="M3668 3980l24-5-22-15-24-3zM3643 3993l25-13-22-23-25 8z"/>
<path fill="#bfff40" d="M3618 4010l25-17-22-28-25 20z"/>
<path fill="#9fff60" d="M3593 4033l25-23-22-25-24 31z"/>
<path fill="#70ff8f" d="M3569 4065l24-32-21-17-25 40z"/>
<path fill="#30ffcf" d="M3544 4105l25-40-22-9-25 45z"/>
<path fill="#00dfff" d="M3519 4149l25-44-22-4-24 44z"/>
<path fill="#009fff" stroke-width="2.94" d="M3495 4185l24-36-21-4-25 35z"/>
<path fill="#0080ff" stroke-width="2.94" d="M3470 4205l25-20-22-5-25 19z"/>
<path fill="#0060ff" stroke-width="1.68" d="M3445 4217l25-12-22-6-24 13zM3421 4228l24-11-21-5-25 10z"/>
<path fill="#0050ff" stroke-width="1.68" d="M3396 4237l25-9-22-6-25 10z"/>
<path fill="#0040ff" stroke-width="1.68" d="M3371 4247l25-10-22-5-25 10zM3347 4256l24-9-22-5-24 9z"/>
<path fill="#0030ff" stroke-width="1.68" d="M3322 4264l25-8-22-5-25 9z"/>
<path fill="#0030ff" stroke-width="0.76" d="M3297 4273l25-9-22-4-25 8z"/>
<path fill="#0020ff" stroke-width="0.76" d="M3273 4281l24-8-22-5-24 9zM3248 4288l25-7-22-4-25 8z"/>
<path fill="#0010ff" stroke-width="0.76" d="M3223 4296l25-8-22-3-25 7zM3198 4304l25-8-22-4-24 8zM3174 4311l24-7-21-4-25 7z"/>
<path fill="#00f" stroke-width="0.76" d="M3149 4318l25-7-22-4-25 7zM3124 4326l25-8-22-4-24 8zM3001 4361l-22-4-18 6 9-1 13 5z"/>
<path fill="#00efff" stroke-width="2.94" d="M2041 4344l10 14 27-3-15-19z"/>
<path fill="#80ff80" stroke-width="2.94" d="M1964 4307l25-31-22 8-25 32z"/>
<path fill="#40ffbf" d="M1939 4350l25-43-22 9-25 43z"/>
<path fill="#0ff" d="M1915 4394l24-44-22 9-24 43z"/>
<path fill="#00bfff" d="M1915 4394l-22 8-22 35 26-13z"/>
<path fill="#9fff60" stroke-width="0.76" d="M3763 3996l25-8-22 6-24-6z"/>
<path fill="#9fff60" stroke-width="1.68" d="M3739 4001l24-5-21-8-25-9z"/>
<path fill="#afff50" stroke-width="2.94" d="M3714 4006l25-5-22-22-25-4zM3689 4014l25-8-22-31-24 5z"/>
<path fill="#9fff60" d="M3665 4026l24-12-21-34-25 13z"/>
<path fill="#8fff70" d="M3640 4041l25-15-22-33-25 17z"/>
<path fill="#70ff8f" d="M3615 4060l25-19-22-31-25 23z"/>
<path fill="#50ffaf" d="M3591 4083l24-23-22-27-24 32z"/>
<path fill="#20ffdf" d="M3566 4114l25-31-22-18-25 40z"/>
<path fill="#00dfff" d="M3541 4153l25-39-22-9-25 44z"/>
<path fill="#00afff" d="M3517 4189l24-36-22-4-24 36z"/>
<path fill="#0080ff" stroke-width="2.94" d="M3492 4210l25-21-22-4-25 20z"/>
<path fill="#0060ff" stroke-width="1.68" d="M3467 4223l25-13-22-5-25 12zM3442 4234l25-11-22-6-24 11z"/>
<path fill="#0050ff" stroke-width="1.68" d="M3418 4243l24-9-21-6-25 9z"/>
<path fill="#0040ff" stroke-width="1.68" d="M3393 4252l25-9-22-6-25 10zM3368 4261l25-9-22-5-24 9z"/>
<path fill="#0030ff" stroke-width="1.68" d="M3344 4269l24-8-21-5-25 8z"/>
<path fill="#0030ff" stroke-width="0.76" d="M3319 4277l25-8-22-5-25 9z"/>
<path fill="#0020ff" stroke-width="0.76" d="M3294 4285l25-8-22-4-24 8zM3270 4293l24-8-21-4-25 7zM3245 4300l25-7-22-5-25 8z"/>
<path fill="#0010ff" stroke-width="0.76" d="M3220 4308l25-8-22-4-25 8zM3196 4315l24-7-22-4-24 7zM3171 4323l25-8-22-4-25 7z"/>
<path fill="#00f" stroke-width="0.76" d="M3146 4330l25-7-22-5-25 8zM3122 4337l24-7-22-4-24 7z"/>
<path fill="#00efff" stroke-width="0.76" d="M2100 4352l18-2-9-8z"/>
<path fill="#20ffdf" stroke-width="2.94" d="M2063 4336l15 19 17-2 5-1 9-10-24-24z"/>
<path fill="#8fff70" stroke-width="2.94" d="M1986 4300l25-30-22 6-25 31z"/>
<path fill="#60ff9f" d="M1961 4343l25-43-22 7-25 43z"/>
<path fill="#10ffef" d="M1936 4388l25-45-22 7-24 44z"/>
<path fill="#00cfff" stroke-width="2.94" d="M1936 4388l-21 6-18 30 1 0 29-20z"/>
<path fill="#afff50" stroke-width="0.76" d="M3884 3968l25 1-22-1-25-6z"/>
<path fill="#bfff40" stroke-width="0.76" d="M3859 3975l25-7-22-6-24 4z"/>
<path fill="#afff50" stroke-width="2.94" d="M3835 3988l24-13-21-9-25 10z"/>
<path fill="#9fff60" stroke-width="2.94" d="M3810 4004l25-16-22-12-25 12z"/>
<path fill="#8fff70" stroke-width="2.94" d="M3785 4020l25-16-22-16-25 8z"/>
<path fill="#80ff80" stroke-width="2.94" d="M3761 4034l24-14-22-24-24 5z"/>
<path fill="#80ff80" d="M3736 4044l25-10-22-33-25 5zM3711 4052l25-8-22-38-25 8z"/>
<path fill="#70ff8f" d="M3687 4061l24-9-22-38-24 12z"/>
<path fill="#60ff9f" d="M3662 4075l25-14-22-35-25 15z"/>
<path fill="#50ffaf" d="M3637 4091l25-16-22-34-25 19z"/>
<path fill="#30ffcf" d="M3612 4109l25-18-22-31-24 23z"/>
<path fill="#10ffef" d="M3588 4133l24-24-21-26-25 31z"/>
<path fill="#00dfff" d="M3563 4163l25-30-22-19-25 39z"/>
<path fill="#009fff" d="M3538 4195l25-32-22-10-24 36z"/>
<path fill="#0080ff" stroke-width="2.94" d="M3514 4216l24-21-21-6-25 21z"/>
<path fill="#0070ff" stroke-width="1.68" d="M3489 4229l25-13-22-6-25 13z"/>
<path fill="#0060ff" stroke-width="1.68" d="M3464 4239l25-10-22-6-25 11z"/>
<path fill="#0050ff" stroke-width="1.68" d="M3440 4249l24-10-22-5-24 9z"/>
<path fill="#0040ff" stroke-width="1.68" d="M3415 4258l25-9-22-6-25 9zM3390 4266l25-8-22-6-25 9z"/>
<path fill="#0030ff" stroke-width="1.68" d="M3366 4274l24-8-22-5-24 8zM3341 4282l25-8-22-5-25 8z"/>
<path fill="#0030ff" stroke-width="0.76" d="M3316 4290l25-8-22-5-25 8z"/>
<path fill="#0020ff" stroke-width="0.76" d="M3292 4297l24-7-22-5-24 8zM3267 4305l25-8-22-4-25 7z"/>
<path fill="#0010ff" stroke-width="0.76" d="M3242 4312l25-7-22-5-25 8zM3217 4320l25-8-22-4-24 7zM3193 4327l24-7-21-5-25 8z"/>
<path fill="#00f" stroke-width="0.76" d="M3168 4334l25-7-22-4-25 7zM3143 4341l25-7-22-4-24 7z"/>
<path fill="#20ffdf" stroke-width="2.94" d="M2109 4342l9 8 28-3 10-15-25-20z"/>
<path fill="#bfff40" stroke-width="0.76" d="M2032 4269l25-7-22 8-24 0z"/>
<path fill="#9fff60" stroke-width="2.94" d="M2008 4301l24-32-21 1-25 30z"/>
<path fill="#70ff8f" d="M1983 4344l25-43-22-1-25 43z"/>
<path fill="#20ffdf" d="M1983 4344l-22-1-25 45 15 0 12-8z"/>
<path fill="#00dfff" stroke-width="1.68" d="M1936 4388l-9 16 24-16z"/>
<path fill="#9fff60" stroke-width="1.68" d="M3931 3991l24-1-22-10-24-11z"/>
<path fill="#9fff60" stroke-width="2.94" d="M3906 3998l25-7-22-22-25-1zM3881 4007l25-9-22-30-25 7z"/>
<path fill="#9fff60" d="M3857 4018l24-11-22-32-24 13z"/>
<path fill="#80ff80" d="M3832 4033l25-15-22-30-25 16z"/>
<path fill="#70ff8f" d="M3807 4051l25-18-22-29-25 16z"/>
<path fill="#60ff9f" d="M3782 4068l25-17-22-31-24 14z"/>
<path fill="#50ffaf" d="M3758 4081l24-13-21-34-25 10z"/>
<path fill="#40ffbf" d="M3733 4091l25-10-22-37-25 8z"/>
<path fill="#30ffcf" d="M3708 4099l25-8-22-39-24 9zM3684 4110l24-11-21-38-25 14z"/>
<path fill="#20ffdf" d="M3659 4124l25-14-22-35-25 16z"/>
<path fill="#0ff" d="M3634 4140l25-16-22-33-25 18z"/>
<path fill="#00efff" d="M3610 4159l24-19-22-31-24 24z"/>
<path fill="#00cfff" d="M3585 4181l25-22-22-26-25 30z"/>
<path fill="#009fff" d="M3560 4205l25-24-22-18-25 32z"/>
<path fill="#0080ff" stroke-width="2.94" d="M3536 4222l24-17-22-10-24 21z"/>
<path fill="#0070ff" stroke-width="1.68" d="M3511 4234l25-12-22-6-25 13z"/>
<path fill="#0060ff" stroke-width="1.68" d="M3486 4245l25-11-22-5-25 10z"/>
<path fill="#0050ff" stroke-width="1.68" d="M3461 4255l25-10-22-6-24 10z"/>
<path fill="#0040ff" stroke-width="1.68" d="M3437 4264l24-9-21-6-25 9zM3412 4272l25-8-22-6-25 8z"/>
<path fill="#0030ff" stroke-width="1.68" d="M3387 4280l25-8-22-6-24 8zM3363 4288l24-8-21-6-25 8z"/>
<path fill="#0030ff" stroke-width="0.76" d="M3338 4295l25-7-22-6-25 8z"/>
<path fill="#0020ff" stroke-width="0.76" d="M3313 4303l25-8-22-5-24 7zM3289 4310l24-7-21-6-25 8zM3264 4317l25-7-22-5-25 7z"/>
<path fill="#0010ff" stroke-width="0.76" d="M3239 4324l25-7-22-5-25 8zM3215 4332l24-8-22-4-24 7z"/>
<path fill="#00f" stroke-width="0.76" d="M3190 4339l25-7-22-5-25 7zM3165 4346l25-7-22-5-25 7zM3141 4353l24-7-22-5-24 8z"/>
<path fill="#0060ff" stroke-width="1.68" d="M2348 4404l24 16 3-5-25-15z"/>
<path fill="#0070ff" stroke-width="0.76" d="M2350 4400l-21-9 19 13z"/>
<path fill="#10ffef" stroke-width="1.68" d="M2190 4341l18-2 18 6-24-21z"/>
<path fill="#40ffbf" d="M2156 4332l13 12 21-3 12-17-24-22z"/>
<path fill="#bfff40" stroke-width="0.76" d="M2079 4268l25-8-22 13-25-11z"/>
<path fill="#bfff40" stroke-width="2.94" d="M2054 4289l25-21-22-6-25 7z"/>
<path fill="#9fff60" d="M2030 4321l24-32-22-20-24 32z"/>
<path fill="#60ff9f" d="M2005 4360l25-39-22-20-25 43z"/>
<path fill="#20ffdf" stroke-width="2.94" d="M2005 4360l-22-16-20 36 19-13 20-2z"/>
<path fill="#70ff8f" stroke-width="2.94" d="M3977 4008l25 11-22-12-25-17z"/>
<path fill="#80ff80" stroke-width="2.94" d="M3952 4019l25-11-22-18-24 1z"/>
<path fill="#80ff80" d="M3928 4034l24-15-21-28-25 7z"/>
<path fill="#70ff8f" d="M3903 4045l25-11-22-36-25 9z"/>
<path fill="#60ff9f" d="M3878 4054l25-9-22-38-24 11zM3854 4066l24-12-21-36-25 15z"/>
<path fill="#40ffbf" d="M3829 4082l25-16-22-33-25 18z"/>
<path fill="#30ffcf" d="M3804 4100l25-18-22-31-25 17z"/>
<path fill="#10ffef" d="M3780 4117l24-17-22-32-24 13z"/>
<path fill="#0ff" d="M3755 4130l25-13-22-36-25 10zM3730 4139l25-9-22-39-25 8z"/>
<path fill="#00efff" d="M3706 4147l24-8-22-40-24 11z"/>
<path fill="#00dfff" d="M3681 4158l25-11-22-37-25 14z"/>
<path fill="#00cfff" d="M3656 4172l25-14-22-34-25 16z"/>
<path fill="#00bfff" d="M3631 4188l25-16-22-32-24 19z"/>
<path fill="#00afff" d="M3607 4203l24-15-21-29-25 22z"/>
<path fill="#008fff" stroke-width="2.94" d="M3582 4217l25-14-22-22-25 24z"/>
<path fill="#0080ff" stroke-width="2.94" d="M3557 4229l25-12-22-12-24 17z"/>
<path fill="#0070ff" stroke-width="1.68" d="M3533 4240l24-11-21-7-25 12z"/>
<path fill="#0060ff" stroke-width="1.68" d="M3508 4250l25-10-22-6-25 11z"/>
<path fill="#0050ff" stroke-width="1.68" d="M3483 4260l25-10-22-5-25 10z"/>
<path fill="#0040ff" stroke-width="1.68" d="M3459 4270l24-10-22-5-24 9zM3434 4278l25-8-22-6-25 8z"/>
<path fill="#0030ff" stroke-width="1.68" d="M3409 4286l25-8-22-6-25 8zM3385 4294l24-8-22-6-24 8zM3360 4301l25-7-22-6-25 7z"/>
<path fill="#0020ff" stroke-width="0.76" d="M3335 4308l25-7-22-6-25 8zM3310 4315l25-7-22-5-24 7zM3286 4322l24-7-21-5-25 7z"/>
<path fill="#0010ff" stroke-width="0.76" d="M3261 4329l25-7-22-5-25 7zM3236 4336l25-7-22-5-24 8zM3212 4343l24-7-21-4-25 7z"/>
<path fill="#00f" stroke-width="0.76" d="M3187 4350l25-7-22-4-25 7zM3162 4358l25-8-22-4-24 7z"/>
<path fill="#0020ff" stroke-width="2.94" d="M2434 4442l29 10 5-1 3-5-25-21z"/>
<path fill="#00bfff" d="M2326 4389l3 2 21 9 22-36-24-12z"/>
<path fill="#00dfff" d="M2305 4375l21 14 22-37-25-8z"/>
<path fill="#00efff" stroke-width="2.94" d="M2283 4364l10 3 12 8 18-31-25-7z"/>
<path fill="#0ff" stroke-width="2.94" d="M2257 4355l26 9 15-27-24-8z"/>
<path fill="#20ffdf" d="M2227 4345l30 10 17-26-25-14z"/>
<path fill="#50ffaf" d="M2202 4324l24 21 1 0 22-30-25-19z"/>
<path fill="#cfff30" stroke-width="0.76" d="M2125 4273l25-13-22 6-24-6z"/>
<path fill="#bfff40" stroke-width="2.94" d="M2101 4296l24-23-21-13-25 8z"/>
<path fill="#9fff60" d="M2076 4325l25-29-22-28-25 21z"/>
<path fill="#80ff80" d="M2051 4356l25-31-22-36-24 32z"/>
<path fill="#40ffbf" d="M2051 4356l-21-35-25 39 3 4 42-5z"/>
<path fill="#30ffcf" d="M4024 4043l24 37-22-25-24-36z"/>
<path fill="#60ff9f" stroke-width="2.94" d="M3999 4033l25 10-22-24-25-11zM3974 4047l25-14-22-25-25 11z"/>
<path fill="#50ffaf" d="M3950 4067l24-20-22-28-24 15z"/>
<path fill="#40ffbf" d="M3925 4082l25-15-22-33-25 11z"/>
<path fill="#30ffcf" d="M3900 4092l25-10-22-37-25 9z"/>
<path fill="#20ffdf" d="M3875 4102l25-10-22-38-24 12z"/>
<path fill="#10ffef" d="M3851 4115l24-13-21-36-25 16z"/>
<path fill="#0ff" d="M3826 4132l25-17-22-33-25 18z"/>
<path fill="#00dfff" d="M3801 4150l25-18-22-32-24 17z"/>
<path fill="#00cfff" d="M3777 4165l24-15-21-33-25 13z"/>
<path fill="#00bfff" d="M3752 4175l25-10-22-35-25 9zM3727 4182l25-7-22-36-24 8z"/>
<path fill="#00afff" d="M3703 4191l24-9-21-35-25 11zM3678 4201l25-10-22-33-25 14z"/>
<path fill="#009fff" stroke-width="2.94" d="M3653 4211l25-10-22-29-25 16z"/>
<path fill="#008fff" stroke-width="2.94" d="M3629 4221l24-10-22-23-24 15z"/>
<path fill="#0080ff" stroke-width="2.94" d="M3604 4230l25-9-22-18-25 14z"/>
<path fill="#0070ff" stroke-width="1.68" d="M3579 4238l25-8-22-13-25 12z"/>
<path fill="#0060ff" stroke-width="1.68" d="M3555 4247l24-9-22-9-24 11zM3530 4256l25-9-22-7-25 10z"/>
<path fill="#0050ff" stroke-width="1.68" d="M3505 4266l25-10-22-6-25 10z"/>
<path fill="#0040ff" stroke-width="1.68" d="M3480 4275l25-9-22-6-24 10zM3456 4284l24-9-21-5-25 8z"/>
<path fill="#0030ff" stroke-width="1.68" d="M3431 4292l25-8-22-6-25 8zM3406 4299l25-7-22-6-24 8zM3382 4307l24-8-21-5-25 7z"/>
<path fill="#0020ff" stroke-width="0.76" d="M3357 4314l25-7-22-6-25 7zM3332 4321l25-7-22-6-25 7zM3308 4328l24-7-22-6-24 7z"/>
<path fill="#0010ff" stroke-width="0.76" d="M3283 4334l25-6-22-6-25 7zM3258 4341l25-7-22-5-25 7zM3234 4348l24-7-22-5-24 7z"/>
<path fill="#00f" stroke-width="0.76" d="M3209 4355l25-7-22-5-25 7zM3184 4362l25-7-22-5-25 8zM3160 4369l24-7-22-4-24 7z"/>
<path fill="#bfff40" stroke-width="1.68" d="M2197 4272l24 2-21 3-25-14z"/>
<path fill="#bfff40" stroke-width="2.94" d="M2172 4283l25-11-22-9-25-3z"/>
<path fill="#bfff40" d="M2147 4306l25-23-22-23-25 13z"/>
<path fill="#9fff60" d="M2123 4336l24-30-22-33-24 23z"/>
<path fill="#70ff8f" d="M2123 4336l-22-40-25 29 15 28 4 0 15-2z"/>
<path fill="#40ffbf" stroke-width="2.94" d="M2076 4325l-25 31 1 2 39-5z"/>
<path fill="#00bfff" stroke-width="2.94" d="M4048 4080l19 30 1-2z"/>
<path fill="#30ffcf" d="M4021 4065l24 11-21-33-25-10z"/>
<path fill="#40ffbf" d="M3996 4077l25-12-22-32-25 14z"/>
<path fill="#20ffdf" d="M3971 4097l25-20-22-30-24 20z"/>
<path fill="#10ffef" d="M3947 4116l24-19-21-30-25 15z"/>
<path fill="#00efff" d="M3922 4130l25-14-22-34-25 10zM3897 4140l25-10-22-38-25 10z"/>
<path fill="#00dfff" d="M3873 4150l24-10-22-38-24 13z"/>
<path fill="#00cfff" d="M3848 4163l25-13-22-35-25 17z"/>
<path fill="#00bfff" d="M3823 4179l25-16-22-31-25 18z"/>
<path fill="#009fff" d="M3799 4192l24-13-22-29-24 15z"/>
<path fill="#009fff" stroke-width="2.94" d="M3774 4201l25-9-22-27-25 10z"/>
<path fill="#008fff" stroke-width="2.94" d="M3749 4208l25-7-22-26-25 7zM3725 4214l24-6-22-26-24 9z"/>
<path fill="#0080ff" stroke-width="2.94" d="M3700 4220l25-6-22-23-25 10zM3675 4227l25-7-22-19-25 10z"/>
<path fill="#0070ff" stroke-width="2.94" d="M3650 4234l25-7-22-16-24 10z"/>
<path fill="#0070ff" stroke-width="1.68" d="M3626 4241l24-7-21-13-25 9zM3601 4248l25-7-22-11-25 8z"/>
<path fill="#0060ff" stroke-width="1.68" d="M3576 4255l25-7-22-10-24 9zM3552 4263l24-8-21-8-25 9z"/>
<path fill="#0050ff" stroke-width="1.68" d="M3527 4272l25-9-22-7-25 10zM3502 4281l25-9-22-6-25 9z"/>
<path fill="#0040ff" stroke-width="1.68" d="M3478 4289l24-8-22-6-24 9zM3453 4297l25-8-22-5-25 8z"/>
<path fill="#0030ff" stroke-width="1.68" d="M3428 4305l25-8-22-5-25 7zM3404 4313l24-8-22-6-24 8z"/>
<path fill="#0020ff" stroke-width="0.76" d="M3379 4320l25-7-22-6-25 7zM3354 4326l25-6-22-6-25 7zM3329 4333l25-7-22-5-24 7z"/>
<path fill="#0010ff" stroke-width="0.76" d="M3305 4340l24-7-21-5-25 6zM3280 4347l25-7-22-6-25 7zM3255 4353l25-6-22-6-24 7zM3231 4360l24-7-21-5-25 7z"/>
<path fill="#00f" stroke-width="0.76" d="M3206 4367l25-7-22-5-25 7zM3181 4374l25-7-22-5-24 7zM3157 4381l24-7-21-5-25 7z"/>
<path fill="#30ffcf" stroke-width="1.68" d="M2391 4326l25-5-22 13-25-9z"/>
<path fill="#40ffbf" stroke-width="0.76" d="M2367 4327l24-1-22-1-24-6z"/>
<path fill="#50ffaf" stroke-width="1.68" d="M2342 4323l25 4-22-8-25-6z"/>
<path fill="#60ff9f" stroke-width="1.68" d="M2317 4318l25 5-22-10-25-7z"/>
<path fill="#70ff8f" stroke-width="1.68" d="M2293 4312l24 6-22-12-24-10z"/>
<path fill="#80ff80" stroke-width="2.94" d="M2268 4308l25 4-22-16-25-12z"/>
<path fill="#8fff70" stroke-width="2.94" d="M2243 4307l25 1-22-24-25-10z"/>
<path fill="#9fff60" stroke-width="2.94" d="M2218 4311l25-4-22-33-24-2z"/>
<path fill="#9fff60" d="M2194 4325l24-14-21-39-25 11z"/>
<path fill="#80ff80" d="M2194 4325l-22-42-25 23 20 38 8-1z"/>
<path fill="#60ff9f" d="M2147 4306l-24 30 6 13 38-5z"/>
<path fill="#30ffcf" stroke-width="1.68" d="M2123 4336l-13 15 19-2z"/>
<path fill="#00cfff" stroke-width="2.94" d="M4045 4076l20 39 3-7z"/>
<path fill="#0ff" d="M4064 4117l1-2-20-39-24-11 22 39z"/>
<path fill="#10ffef" d="M4018 4109l25-5-22-39-25 12z"/>
<path fill="#0ff" d="M3993 4126l25-17-22-32-25 20z"/>
<path fill="#00dfff" d="M3969 4146l24-20-22-29-24 19z"/>
<path fill="#00bfff" d="M3944 4163l25-17-22-30-25 14z"/>
<path fill="#00afff" d="M3919 4174l25-11-22-33-25 10zM3894 4182l25-8-22-34-24 10z"/>
<path fill="#009fff" d="M3870 4191l24-9-21-32-25 13z"/>
<path fill="#008fff" stroke-width="2.94" d="M3845 4201l25-10-22-28-25 16z"/>
<path fill="#0080ff" stroke-width="2.94" d="M3820 4210l25-9-22-22-24 13zM3796 4217l24-7-21-18-25 9z"/>
<path fill="#0070ff" stroke-width="2.94" d="M3771 4224l25-7-22-16-25 7z"/>
<path fill="#0070ff" stroke-width="1.68" d="M3746 4229l25-5-22-16-24 6zM3722 4234l24-5-21-15-25 6zM3697 4239l25-5-22-14-25 7zM3672 4245l25-6-22-12-25 7z"/>
<path fill="#0060ff" stroke-width="1.68" d="M3648 4251l24-6-22-11-24 7zM3623 4258l25-7-22-10-25 7zM3598 4264l25-6-22-10-25 7z"/>
<path fill="#0050ff" stroke-width="1.68" d="M3574 4271l24-7-22-9-24 8zM3549 4279l25-8-22-8-25 9z"/>
<path fill="#0040ff" stroke-width="1.68" d="M3524 4287l25-8-22-7-25 9zM3499 4295l25-8-22-6-24 8zM3475 4303l24-8-21-6-25 8z"/>
<path fill="#0030ff" stroke-width="1.68" d="M3450 4311l25-8-22-6-25 8zM3425 4318l25-7-22-6-24 8z"/>
<path fill="#0020ff" stroke-width="0.76" d="M3401 4325l24-7-21-5-25 7zM3376 4332l25-7-22-5-25 6zM3351 4339l25-7-22-6-25 7z"/>
<path fill="#0010ff" stroke-width="0.76" d="M3327 4346l24-7-22-6-24 7zM3302 4352l25-6-22-6-25 7zM3277 4359l25-7-22-5-25 6zM3253 4365l24-6-22-6-24 7z"/>
<path fill="#00f" stroke-width="0.76" d="M3228 4372l25-7-22-5-25 7zM3203 4379l25-7-22-5-25 7zM3179 4386l24-7-22-5-24 7z"/>
<path fill="#30ffcf" stroke-width="1.68" d="M2438 4338l25-15-22 4-25-6z"/>
<path fill="#30ffcf" stroke-width="2.94" d="M2413 4357l25-19-22-17-25 5z"/>
<path fill="#20ffdf" d="M2388 4366l25-9-22-31-24 1z"/>
<path fill="#30ffcf" d="M2364 4364l24 2-21-39-25-4zM2339 4359l25 5-22-41-25-5z"/>
<path fill="#40ffbf" d="M2314 4355l25 4-22-41-24-6z"/>
<path fill="#50ffaf" d="M2290 4354l24 1-21-43-25-4z"/>
<path fill="#60ff9f" d="M2265 4357l25-3-22-46-25-1zM2265 4357l-22-50-25 4 16 37 30 9z"/>
<path fill="#60ff9f" stroke-width="2.94" d="M2218 4311l-24 14 7 15 7-1 26 9z"/>
<path fill="#40ffbf" stroke-width="1.68" d="M2194 4325l-19 18 26-3z"/>
<path fill="#00bfff" stroke-width="2.94" d="M4043 4104l15 29 6-16z"/>
<path fill="#00cfff" d="M4052 4145l5-9 1-3-15-29-25 5 22 36zM4015 4156l25-11-22-36-25 17z"/>
<path fill="#00afff" d="M3990 4172l25-16-22-30-24 20z"/>
<path fill="#009fff" d="M3966 4187l24-15-21-26-25 17z"/>
<path fill="#008fff" stroke-width="2.94" d="M3941 4197l25-10-22-24-25 11z"/>
<path fill="#0080ff" stroke-width="2.94" d="M3916 4203l25-6-22-23-25 8zM3892 4209l24-6-22-21-24 9zM3867 4215l25-6-22-18-25 10z"/>
<path fill="#0070ff" stroke-width="1.68" d="M3842 4222l25-7-22-14-25 9zM3818 4229l24-7-22-12-24 7zM3793 4235l25-6-22-12-25 7z"/>
<path fill="#0060ff" stroke-width="1.68" d="M3768 4241l25-6-22-11-25 5zM3743 4246l25-5-22-12-24 5zM3719 4251l24-5-21-12-25 5zM3694 4256l25-5-22-12-25 6zM3669 4262l25-6-22-11-24 6zM3645 4268l24-6-21-11-25 7z"/>
<path fill="#0050ff" stroke-width="1.68" d="M3620 4274l25-6-22-10-25 6zM3595 4280l25-6-22-10-24 7zM3571 4286l24-6-21-9-25 8z"/>
<path fill="#0040ff" stroke-width="1.68" d="M3546 4294l25-8-22-7-25 8zM3521 4301l25-7-22-7-25 8zM3497 4309l24-8-22-6-24 8z"/>
<path fill="#0030ff" stroke-width="1.68" d="M3472 4317l25-8-22-6-25 8zM3447 4324l25-7-22-6-25 7z"/>
<path fill="#0020ff" stroke-width="0.76" d="M3423 4331l24-7-22-6-24 7zM3398 4338l25-7-22-6-25 7zM3373 4345l25-7-22-6-25 7z"/>
<path fill="#0010ff" stroke-width="0.76" d="M3348 4351l25-6-22-6-24 7zM3324 4358l24-7-21-5-25 6zM3299 4364l25-6-22-6-25 7zM3274 4371l25-7-22-5-24 6z"/>
<path fill="#00f" stroke-width="0.76" d="M3250 4378l24-7-21-6-25 7zM3225 4384l25-6-22-6-25 7zM3200 4391l25-7-22-5-24 7zM3176 4398l24-7-21-5-25 7z"/>
<path fill="#30ffcf" stroke-width="2.94" d="M2484 4346l25-22-22-1-24 0z"/>
<path fill="#20ffdf" d="M2460 4374l24-28-21-23-25 15z"/>
<path fill="#0ff" d="M2435 4400l25-26-22-36-25 19z"/>
<path fill="#00dfff" d="M2410 4415l25-15-22-43-25 9zM2386 4415l24 0-22-49-24-2z"/>
<path fill="#00efff" d="M2361 4410l25 5-22-51-25-5z"/>
<path fill="#0ff" d="M2361 4410l-22-51-25-4 16 37 26 17z"/>
<path fill="#10ffef" stroke-width="2.94" d="M2314 4355l-24-1 6 15 34 23z"/>
<path fill="#10ffef" stroke-width="1.68" d="M2290 4354l-25 3 0 1 28 9 3 2z"/>
<path fill="#009fff" stroke-width="0.76" d="M4040 4145l7 11 5-11z"/>
<path fill="#009fff" stroke-width="2.94" d="M4040 4145l-25 11 17 22 11-14 4-8z"/>
<path fill="#008fff" stroke-width="2.94" d="M4024 4188l8-10-17-22-25 16 22 21z"/>
<path fill="#0080ff" stroke-width="2.94" d="M3988 4202l24-9-22-21-24 15z"/>
<path fill="#0070ff" stroke-width="2.94" d="M3963 4210l25-8-22-15-25 10z"/>
<path fill="#0070ff" stroke-width="1.68" d="M3938 4217l25-7-22-13-25 6zM3913 4222l25-5-22-14-24 6zM3889 4228l24-6-21-13-25 6z"/>
<path fill="#0060ff" stroke-width="1.68" d="M3864 4233l25-5-22-13-25 7zM3839 4239l25-6-22-11-24 7zM3815 4246l24-7-21-10-25 6zM3790 4252l25-6-22-11-25 6zM3765 4257l25-5-22-11-25 5z"/>
<path fill="#0050ff" stroke-width="1.68" d="M3741 4262l24-5-22-11-24 5zM3716 4267l25-5-22-11-25 5zM3691 4272l25-5-22-11-25 6zM3667 4277l24-5-22-10-24 6zM3642 4283l25-6-22-9-25 6zM3617 4289l25-6-22-9-25 6z"/>
<path fill="#0040ff" stroke-width="1.68" d="M3593 4295l24-6-22-9-24 6zM3568 4301l25-6-22-9-25 8zM3543 4308l25-7-22-7-25 7zM3518 4315l25-7-22-7-24 8z"/>
<path fill="#0030ff" stroke-width="1.68" d="M3494 4322l24-7-21-6-25 8zM3469 4330l25-8-22-5-25 7z"/>
<path fill="#0020ff" stroke-width="0.76" d="M3444 4337l25-7-22-6-24 7zM3420 4344l24-7-21-6-25 7zM3395 4351l25-7-22-6-25 7z"/>
<path fill="#0010ff" stroke-width="0.76" d="M3370 4357l25-6-22-6-25 6zM3346 4364l24-7-22-6-24 7zM3321 4370l25-6-22-6-25 6zM3296 4377l25-7-22-6-25 7z"/>
<path fill="#00f" stroke-width="0.76" d="M3272 4383l24-6-22-6-24 7zM3247 4390l25-7-22-5-25 6zM3222 4396l25-6-22-6-25 7zM3197 4403l25-7-22-5-24 7z"/>
<path fill="#00cfff" stroke-width="2.94" d="M2665 4370l23-17 10 0 6-10-25 2zM2632 4384l14 1 19-15 14-25-25 3z"/>
<path fill="#40ffbf" stroke-width="2.94" d="M2531 4343l25-27-22 2-25 6z"/>
<path fill="#20ffdf" d="M2506 4378l25-35-22-19-25 22z"/>
<path fill="#00efff" d="M2482 4413l24-35-22-32-24 28z"/>
<path fill="#00bfff" d="M2457 4443l25-30-22-39-25 26z"/>
<path fill="#009fff" d="M2457 4443l-22-43-25 15 11 23 30 10z"/>
<path fill="#008fff" stroke-width="2.94" d="M2410 4415l-24 0 5 13 30 10z"/>
<path fill="#009fff" stroke-width="1.68" d="M2386 4415l-25-5 1 4 16 10 13 4z"/>
<path fill="#0080ff" stroke-width="0.76" d="M4012 4193l6 4 6-9z"/>
<path fill="#0070ff" stroke-width="1.68" d="M4012 4193l-24 9 18 10 12-15zM4003 4215l3-3-18-10-25 8 22 11z"/>
<path fill="#0060ff" stroke-width="1.68" d="M3960 4228l25-7-22-11-25 7zM3935 4234l25-6-22-11-25 5zM3911 4239l24-5-22-12-24 6zM3886 4244l25-5-22-11-25 5zM3861 4250l25-6-22-11-25 6z"/>
<path fill="#0050ff" stroke-width="1.68" d="M3837 4255l24-5-22-11-24 7zM3812 4261l25-6-22-9-25 6zM3787 4267l25-6-22-9-25 5zM3762 4272l25-5-22-10-24 5zM3738 4277l24-5-21-10-25 5zM3713 4282l25-5-22-10-25 5zM3688 4287l25-5-22-10-24 5zM3664 4292l24-5-21-10-25 6z"/>
<path fill="#0040ff" stroke-width="1.68" d="M3639 4298l25-6-22-9-25 6zM3614 4303l25-5-22-9-24 6zM3590 4309l24-6-21-8-25 6zM3565 4315l25-6-22-8-25 7z"/>
<path fill="#0030ff" stroke-width="1.68" d="M3540 4322l25-7-22-7-25 7zM3516 4329l24-7-22-7-24 7zM3491 4336l25-7-22-7-25 8z"/>
<path fill="#0020ff" stroke-width="0.76" d="M3466 4343l25-7-22-6-25 7zM3442 4350l24-7-22-6-24 7zM3417 4356l25-6-22-6-25 7zM3392 4363l25-7-22-5-25 6z"/>
<path fill="#0010ff" stroke-width="0.76" d="M3367 4370l25-7-22-6-24 7zM3343 4376l24-6-21-6-25 6zM3318 4382l25-6-22-6-25 7z"/>
<path fill="#00f" stroke-width="0.76" d="M3293 4389l25-7-22-5-24 6zM3269 4395l24-6-21-6-25 7zM3244 4402l25-7-22-5-25 6zM3219 4408l25-6-22-6-25 7zM3195 4415l24-7-22-5-24 6z"/>
<path fill="#00f" stroke-width="1.68" d="M3107 4411l25 8 13-2-24-15z"/>
<path fill="#0040ff" stroke-width="2.94" d="M3055 4394l24 9 17-22-25-13z"/>
<path fill="#0050ff" stroke-width="2.94" d="M3034 4386l21 8 16-26-24-3z"/>
<path fill="#0050ff" stroke-width="1.68" d="M3016 4379l18 7 13-21-25 3z"/>
<path fill="#60ff9f" stroke-width="2.94" d="M2577 4322l25-24-22 11-24 7z"/>
<path fill="#30ffcf" d="M2553 4362l24-40-21-6-25 27z"/>
<path fill="#0ff" d="M2528 4404l25-42-22-19-25 35z"/>
<path fill="#00bfff" d="M2503 4444l25-40-22-26-24 35z"/>
<path fill="#0080ff" stroke-width="2.94" d="M2503 4444l-21-31-25 30 5 9 1 0 40-7z"/>
<path fill="#0060ff" stroke-width="0.76" d="M2457 4443l-6 5 11 4zM3985 4221l10 4 5-5 3-5z"/>
<path fill="#0060ff" stroke-width="1.68" d="M3983 4237l12-12-10-4-25 7 22 10zM3957 4244l25-6-22-10-25 6z"/>
<path fill="#0050ff" stroke-width="1.68" d="M3932 4250l25-6-22-10-24 5zM3908 4255l24-5-21-11-25 5zM3883 4260l25-5-22-11-25 6zM3858 4265l25-5-22-10-24 5zM3834 4271l24-6-21-10-25 6zM3809 4277l25-6-22-10-25 6zM3784 4282l25-5-22-10-25 5z"/>
<path fill="#0040ff" stroke-width="1.68" d="M3760 4287l24-5-22-10-24 5zM3735 4291l25-4-22-10-25 5zM3710 4296l25-5-22-9-25 5zM3686 4301l24-5-22-9-24 5zM3661 4306l25-5-22-9-25 6zM3636 4312l25-6-22-8-25 5zM3611 4317l25-5-22-9-24 6zM3587 4323l24-6-21-8-25 6z"/>
<path fill="#0030ff" stroke-width="1.68" d="M3562 4329l25-6-22-8-25 7zM3537 4335l25-6-22-7-24 7zM3513 4342l24-7-21-6-25 7z"/>
<path fill="#0020ff" stroke-width="0.76" d="M3488 4349l25-7-22-6-25 7zM3463 4355l25-6-22-6-24 7zM3439 4362l24-7-21-5-25 6zM3414 4369l25-7-22-6-25 7z"/>
<path fill="#0010ff" stroke-width="0.76" d="M3389 4375l25-6-22-6-25 7zM3365 4382l24-7-22-5-24 6zM3340 4388l25-6-22-6-25 6z"/>
<path fill="#00f" stroke-width="0.76" d="M3315 4395l25-7-22-6-25 7zM3291 4401l24-6-22-6-24 6zM3266 4407l25-6-22-6-25 7zM3241 4414l25-7-22-5-25 6zM3216 4420l25-6-22-6-24 7zM3192 4422l24-2-21-5-25 4z"/>
<path fill="#009fff" stroke-width="2.94" d="M2980 4366l18 7 21-39-25 5zM2960 4363l10-1 10 4 14-27-24 5z"/>
<path fill="#009fff" stroke-width="1.68" d="M2935 4364l25-1 10-19-25 1z"/>
<path fill="#00bfff" stroke-width="2.94" d="M2878 4366l8 1 21-1 13-25-24-6z"/>
<path fill="#00cfff" stroke-width="2.94" d="M2852 4361l26 5 18-31-25-7z"/>
<path fill="#60ff9f" stroke-width="2.94" d="M2599 4328l25-34-22 4-25 24z"/>
<path fill="#30ffcf" d="M2575 4372l24-44-22-6-24 40z"/>
<path fill="#00dfff" d="M2550 4417l25-45-22-10-25 42z"/>
<path fill="#009fff" d="M2550 4417l-22-13-25 40 1 1 33-5z"/>
<path fill="#0050ff" stroke-width="0.76" d="M3982 4238l-25 6 13 6 12-12z"/>
<path fill="#0050ff" stroke-width="1.68" d="M3963 4257l7-7-13-6-25 6 22 9zM3930 4265l24-6-22-9-24 5zM3905 4270l25-5-22-10-25 5zM3880 4274l25-4-22-10-25 5z"/>
<path fill="#0040ff" stroke-width="1.68" d="M3856 4280l24-6-22-9-24 6zM3831 4285l25-5-22-9-25 6zM3806 4291l25-6-22-8-25 5zM3781 4296l25-5-22-9-24 5zM3757 4301l24-5-21-9-25 4zM3732 4305l25-4-22-10-25 5zM3707 4310l25-5-22-9-24 5zM3683 4315l24-5-21-9-25 5zM3658 4320l25-5-22-9-25 6z"/>
<path fill="#0030ff" stroke-width="1.68" d="M3633 4326l25-6-22-8-25 5zM3609 4331l24-5-22-9-24 6zM3584 4336l25-5-22-8-25 6zM3559 4342l25-6-22-7-25 6zM3535 4348l24-6-22-7-24 7z"/>
<path fill="#0020ff" stroke-width="0.76" d="M3510 4355l25-7-22-6-25 7zM3485 4361l25-6-22-6-25 6zM3461 4368l24-7-22-6-24 7zM3436 4375l25-7-22-6-25 7z"/>
<path fill="#0010ff" stroke-width="0.76" d="M3411 4381l25-6-22-6-25 6zM3386 4388l25-7-22-6-24 7zM3362 4394l24-6-21-6-25 6z"/>
<path fill="#00f" stroke-width="0.76" d="M3337 4400l25-6-22-6-25 7zM3312 4407l25-7-22-5-24 6zM3288 4413l24-6-21-6-25 6zM3263 4419l25-6-22-6-25 7zM3238 4425l25-6-22-5-25 6zM3214 4426l24-1-22-5-24 2z"/>
<path fill="#8fff70" stroke-width="2.94" d="M2646 4300l24-27-21 8-25 13z"/>
<path fill="#60ff9f" d="M2621 4338l25-38-22-6-25 34z"/>
<path fill="#20ffdf" d="M2596 4381l25-43-22-10-24 44z"/>
<path fill="#00dfff" d="M2596 4381l-21-9-25 45 21 9 1-1z"/>
<path fill="#008fff" stroke-width="2.94" d="M2550 4417l-13 23 10-2 24-12z"/>
<path fill="#0040ff" stroke-width="1.68" d="M3954 4259l-24 6 18 7 11-11zM3944 4276l4-4-18-7-25 5 22 9zM3902 4284l25-5-22-9-25 4zM3877 4289l25-5-22-10-24 6zM3853 4294l24-5-21-9-25 5zM3828 4300l25-6-22-9-25 6zM3803 4305l25-5-22-9-25 5zM3779 4310l24-5-22-9-24 5z"/>
<path fill="#0030ff" stroke-width="1.68" d="M3754 4314l25-4-22-9-25 4zM3729 4319l25-5-22-9-25 5zM3705 4324l24-5-22-9-24 5zM3680 4329l25-5-22-9-25 5zM3655 4334l25-5-22-9-25 6zM3630 4339l25-5-22-8-24 5zM3606 4344l24-5-21-8-25 5zM3581 4350l25-6-22-8-25 6zM3556 4355l25-5-22-8-24 6z"/>
<path fill="#0020ff" stroke-width="0.76" d="M3532 4361l24-6-21-7-25 7zM3507 4368l25-7-22-6-25 6zM3482 4374l25-6-22-7-24 7zM3458 4380l24-6-21-6-25 7z"/>
<path fill="#0010ff" stroke-width="0.76" d="M3433 4387l25-7-22-5-25 6zM3408 4394l25-7-22-6-25 7zM3384 4400l24-6-22-6-24 6z"/>
<path fill="#00f" stroke-width="0.76" d="M3359 4406l25-6-22-6-25 6zM3334 4413l25-7-22-6-25 7zM3310 4419l24-6-22-6-24 6zM3285 4425l25-6-22-6-25 6zM3260 4431l25-6-22-6-25 6zM3235 4432l25-1-22-6-24 1z"/>
<path fill="#00dfff" stroke-width="2.94" d="M3112 4316l25 19-22-16-25-15z"/>
<path fill="#0ff" stroke-width="1.68" d="M3087 4303l25 13-22-12-25-4z"/>
<path fill="#dfff20" stroke-width="0.76" d="M2766 4228l25-8-22 11-24 2z"/>
<path fill="#dfff20" stroke-width="1.68" d="M2742 4247l24-19-21 5-25 10z"/>
<path fill="#bfff40" stroke-width="2.94" d="M2717 4271l25-24-22-4-25 14z"/>
<path fill="#afff50" stroke-width="2.94" d="M2692 4297l25-26-22-14-25 16z"/>
<path fill="#80ff80" d="M2668 4327l24-30-22-24-24 27z"/>
<path fill="#50ffaf" d="M2643 4361l25-34-22-27-25 38z"/>
<path fill="#10ffef" d="M2618 4400l25-39-22-23-25 43z"/>
<path fill="#00cfff" d="M2618 4400l-22-19-24 44 45-22z"/>
<path fill="#0040ff" stroke-width="0.76" d="M3927 4279l10 4 7-7z"/>
<path fill="#0040ff" stroke-width="1.68" d="M3928 4292l2-2 7-7-10-4-25 5 22 9zM3899 4298l25-5-22-9-25 5zM3875 4303l24-5-22-9-24 5zM3850 4308l25-5-22-9-25 6z"/>
<path fill="#0030ff" stroke-width="1.68" d="M3825 4313l25-5-22-8-25 5zM3800 4318l25-5-22-8-24 5zM3776 4323l24-5-21-8-25 4zM3751 4328l25-5-22-9-25 5zM3726 4332l25-4-22-9-24 5zM3702 4337l24-5-21-8-25 5zM3677 4342l25-5-22-8-25 5zM3652 4347l25-5-22-8-25 5zM3628 4352l24-5-22-8-24 5zM3603 4357l25-5-22-8-25 6z"/>
<path fill="#0020ff" stroke-width="0.76" d="M3578 4363l25-6-22-7-25 5zM3554 4368l24-5-22-8-24 6zM3529 4374l25-6-22-7-25 7zM3504 4380l25-6-22-6-25 6zM3479 4387l25-7-22-6-24 6z"/>
<path fill="#0010ff" stroke-width="0.76" d="M3455 4393l24-6-21-7-25 7zM3430 4399l25-6-22-6-25 7zM3405 4406l25-7-22-5-24 6z"/>
<path fill="#00f" stroke-width="0.76" d="M3381 4412l24-6-21-6-25 6zM3356 4418l25-6-22-6-25 7zM3331 4425l25-7-22-5-24 6zM3307 4431l24-6-21-6-25 6zM3282 4437l25-6-22-6-25 6zM3257 4441l25-4-22-6-25 1z"/>
<path fill="#00f" stroke-width="1.68" d="M3233 4436l24 5-22-9-24-12z"/>
<path fill="#0030ff" d="M3208 4417l25 19-22-16-25-28z"/>
<path fill="#0060ff" d="M3183 4393l25 24-22-25-25-31z"/>
<path fill="#008fff" d="M3159 4372l24 21-22-32-24-26z"/>
<path fill="#00bfff" d="M3134 4355l25 17-22-37-25-19z"/>
<path fill="#00dfff" d="M3109 4338l25 17-22-39-25-13z"/>
<path fill="#0ff" d="M3084 4322l25 16-22-35-24-10z"/>
<path fill="#20ffdf" stroke-width="2.94" d="M3060 4307l24 15-21-29-25-8z"/>
<path fill="#30ffcf" stroke-width="2.94" d="M3035 4295l25 12-22-22-25-3z"/>
<path fill="#50ffaf" stroke-width="1.68" d="M3010 4285l25 10-22-13-24-3z"/>
<path fill="#cfff30" stroke-width="0.76" d="M2862 4239l25 0-22 1-25-10z"/>
<path fill="#dfff20" stroke-width="1.68" d="M2838 4242l24-3-22-9-24-8z"/>
<path fill="#dfff20" stroke-width="2.94" d="M2813 4248l25-6-22-20-25-2z"/>
<path fill="#dfff20" d="M2788 4260l25-12-22-28-25 8z"/>
<path fill="#cfff30" d="M2764 4281l24-21-22-32-24 19z"/>
<path fill="#afff50" d="M2739 4309l25-28-22-34-25 24z"/>
<path fill="#80ff80" d="M2714 4337l25-28-22-38-25 26z"/>
<path fill="#50ffaf" d="M2714 4337l-22-40-24 30 16 29 4-3 13 0z"/>
<path fill="#20ffdf" d="M2668 4327l-25 34 11 18 30-23z"/>
<path fill="#00efff" d="M2643 4361l-25 39 1 2 13-7 22-16z"/>
<path fill="#0030ff" stroke-width="0.76" d="M3924 4293l-25 5 17 6 10-10z"/>
<path fill="#0030ff" stroke-width="1.68" d="M3912 4308l4-4-17-6-24 5 21 8zM3872 4316l24-5-21-8-25 5zM3847 4321l25-5-22-8-25 5zM3822 4327l25-6-22-8-25 5zM3798 4332l24-5-22-9-24 5zM3773 4336l25-4-22-9-25 5zM3748 4341l25-5-22-8-25 4zM3724 4345l24-4-22-9-24 5zM3699 4350l25-5-22-8-25 5zM3674 4355l25-5-22-8-25 5z"/>
<path fill="#0020ff" stroke-width="0.76" d="M3649 4360l25-5-22-8-24 5zM3625 4365l24-5-21-8-25 5zM3600 4370l25-5-22-8-25 6zM3575 4375l25-5-22-7-24 5zM3551 4381l24-6-21-7-25 6zM3526 4387l25-6-22-7-25 6z"/>
<path fill="#0010ff" stroke-width="0.76" d="M3501 4393l25-6-22-7-25 7zM3477 4399l24-6-22-6-24 6zM3452 4405l25-6-22-6-25 6zM3427 4412l25-7-22-6-25 7zM3403 4418l24-6-22-6-24 6z"/>
<path fill="#00f" stroke-width="0.76" d="M3378 4424l25-6-22-6-25 6zM3353 4431l25-7-22-6-25 7zM3329 4437l24-6-22-6-24 6zM3304 4443l25-6-22-6-25 6zM3279 4449l25-6-22-6-25 4z"/>
<path fill="#00f" stroke-width="1.68" d="M3254 4451l25-2-22-8-24-5z"/>
<path fill="#0010ff" stroke-width="2.94" d="M3230 4445l24 6-21-15-25-19z"/>
<path fill="#0030ff" d="M3205 4432l25 13-22-28-25-24z"/>
<path fill="#0060ff" d="M3180 4416l25 16-22-39-24-21z"/>
<path fill="#0080ff" d="M3156 4400l24 16-21-44-25-17z"/>
<path fill="#009fff" d="M3131 4383l25 17-22-45-25-17z"/>
<path fill="#00cfff" d="M3106 4367l25 16-22-45-25-16z"/>
<path fill="#00efff" d="M3082 4350l24 17-22-45-24-15z"/>
<path fill="#10ffef" d="M3057 4335l25 15-22-43-25-12z"/>
<path fill="#30ffcf" d="M3032 4322l25 13-22-40-25-10z"/>
<path fill="#40ffbf" d="M3008 4310l24 12-22-37-24-11z"/>
<path fill="#60ff9f" d="M2983 4299l25 11-22-36-25-10z"/>
<path fill="#80ff80" d="M2958 4288l25 11-22-35-25-10z"/>
<path fill="#8fff70" d="M2933 4278l25 10-22-34-24-9z"/>
<path fill="#afff50" stroke-width="2.94" d="M2909 4275l24 3-21-33-25-6z"/>
<path fill="#afff50" d="M2884 4279l25-4-22-36-25 0zM2859 4287l25-8-22-40-24 3zM2835 4296l24-9-21-45-25 6z"/>
<path fill="#9fff60" d="M2810 4308l25-12-22-48-25 12z"/>
<path fill="#8fff70" d="M2785 4327l25-19-22-48-24 21z"/>
<path fill="#70ff8f" d="M2761 4352l24-25-21-46-25 28z"/>
<path fill="#40ffbf" d="M2761 4352l-22-43-25 28 8 16 38 0z"/>
<path fill="#10ffef" stroke-width="1.68" d="M2714 4337l-13 16 21 0z"/>
<path fill="#0030ff" stroke-width="0.76" d="M3896 4311l9 4 7-7z"/>
<path fill="#0030ff" stroke-width="1.68" d="M3896 4324l9-9-9-4-24 5 22 9zM3869 4330l25-5-22-9-25 5zM3844 4335l25-5-22-9-25 6zM3819 4340l25-5-22-8-24 5z"/>
<path fill="#0030ff" stroke-width="0.76" d="M3795 4345l24-5-21-8-25 4z"/>
<path fill="#0020ff" stroke-width="0.76" d="M3770 4349l25-4-22-9-25 5zM3745 4354l25-5-22-8-24 4zM3721 4358l24-4-21-9-25 5zM3696 4363l25-5-22-8-25 5zM3671 4368l25-5-22-8-25 5zM3647 4373l24-5-22-8-24 5zM3622 4378l25-5-22-8-25 5zM3597 4383l25-5-22-8-25 5zM3573 4388l24-5-22-8-24 6zM3548 4394l25-6-22-7-25 6z"/>
<path fill="#0010ff" stroke-width="0.76" d="M3523 4399l25-5-22-7-25 6zM3498 4405l25-6-22-6-24 6zM3474 4411l24-6-21-6-25 6zM3449 4417l25-6-22-6-25 7zM3424 4424l25-7-22-5-24 6z"/>
<path fill="#00f" stroke-width="0.76" d="M3400 4430l24-6-21-6-25 6zM3375 4436l25-6-22-6-25 7zM3350 4443l25-7-22-5-24 6zM3326 4449l24-6-21-6-25 6zM3301 4455l25-6-22-6-25 6zM3301 4455l-22-6-25 2 7 3 24 4zM3254 4451l-24-6 4 3 27 6z"/>
<path fill="#0010ff" stroke-width="1.68" d="M3230 4445l-25-13 8 11 11 3 10 2z"/>
<path fill="#0020ff" stroke-width="2.94" d="M3205 4432l-25-16 12 20 21 7z"/>
<path fill="#0040ff" stroke-width="2.94" d="M3180 4416l-24-16 15 30 21 6z"/>
<path fill="#0060ff" d="M3156 4400l-25-17 19 41 21 6z"/>
<path fill="#0080ff" d="M3141 4421l9 3-19-41-25-16 22 46z"/>
<path fill="#009fff" d="M3103 4397l25 16-22-46-24-17z"/>
<path fill="#00cfff" d="M3079 4382l24 15-21-47-25-15z"/>
<path fill="#00efff" d="M3054 4370l25 12-22-47-25-13z"/>
<path fill="#0ff" d="M3029 4358l25 12-22-48-24-12z"/>
<path fill="#20ffdf" d="M3005 4347l24 11-21-48-25-11z"/>
<path fill="#40ffbf" d="M2980 4336l25 11-22-48-25-11z"/>
<path fill="#50ffaf" d="M2955 4327l25 9-22-48-25-10z"/>
<path fill="#60ff9f" d="M2931 4325l24 2-22-49-24-3z"/>
<path fill="#70ff8f" d="M2906 4331l25-6-22-50-25 4zM2881 4339l25-8-22-52-25 8z"/>
<path fill="#60ff9f" d="M2857 4348l24-9-22-52-24 9z"/>
<path fill="#50ffaf" d="M2857 4348l-22-52-25 12 22 50 1 0z"/>
<path fill="#40ffbf" d="M2810 4308l-25 19 12 26 3 0 32 5z"/>
<path fill="#20ffdf" stroke-width="2.94" d="M2785 4327l-24 25 0 1 36 0z"/>
<path fill="#0030ff" stroke-width="0.76" d="M3894 4325l-25 5 16 5 10-10z"/>
<path fill="#0030ff" stroke-width="1.68" d="M3880 4340l5-5-16-5-25 5 22 8z"/>
<path fill="#0020ff" stroke-width="0.76" d="M3841 4348l25-5-22-8-25 5zM3817 4353l24-5-22-8-24 5zM3792 4357l25-4-22-8-25 4zM3767 4362l25-5-22-8-25 5zM3743 4366l24-4-22-8-24 4zM3718 4371l25-5-22-8-25 5zM3693 4376l25-5-22-8-25 5zM3668 4380l25-4-22-8-24 5zM3644 4385l24-5-21-7-25 5zM3619 4390l25-5-22-7-25 5zM3594 4395l25-5-22-7-24 5z"/>
<path fill="#0010ff" stroke-width="0.76" d="M3570 4401l24-6-21-7-25 6zM3545 4406l25-5-22-7-25 5zM3520 4412l25-6-22-7-25 6zM3496 4418l24-6-22-7-24 6zM3471 4424l25-6-22-7-25 6zM3446 4430l25-6-22-7-25 7z"/>
<path fill="#00f" stroke-width="0.76" d="M3422 4436l24-6-22-6-24 6zM3397 4442l25-6-22-6-25 6zM3372 4448l25-6-22-6-25 7zM3347 4455l25-7-22-5-24 6zM3323 4461l24-6-21-6-25 6zM3323 4461l-22-6-16 3 26 6z"/>
<path fill="#0060ff" stroke-width="1.68" d="M3128 4413l-25-16 8 16 20 5z"/>
<path fill="#0080ff" stroke-width="2.94" d="M3103 4397l-24-15 11 24 21 7z"/>
<path fill="#009fff" stroke-width="2.94" d="M3079 4382l-25-12 13 28 15 6 8 2z"/>
<path fill="#00bfff" stroke-width="2.94" d="M3054 4370l-25-12 14 31 24 9z"/>
<path fill="#00cfff" d="M3029 4358l-24-11 15 34 23 8z"/>
<path fill="#00efff" d="M3005 4347l-25-11 16 36 24 9z"/>
<path fill="#10ffef" d="M2980 4336l-25-9 15 35 26 10z"/>
<path fill="#20ffdf" stroke-width="2.94" d="M2955 4327l-24-2 16 38 23-1 0 0zM2931 4325l-25 6 14 34 27-2z"/>
<path fill="#10ffef" stroke-width="2.94" d="M2906 4331l-25 8 12 28 27-2zM2881 4339l-24 9 6 15 23 4 7 0z"/>
<path fill="#0ff" stroke-width="1.68" d="M2857 4348l-24 10 30 5z"/>
<path fill="#0020ff" stroke-width="0.76" d="M3866 4343l8 3 6-6zM3866 4343l-25 5 18 6 14-7 1-1zM3852 4358l7-4-18-6-24 5 21 7zM3814 4365l24-5-21-7-25 4zM3789 4370l25-5-22-8-25 5zM3764 4374l25-4-22-8-24 4zM3740 4379l24-5-21-8-25 5zM3715 4383l25-4-22-8-25 5zM3690 4388l25-5-22-7-25 4zM3666 4393l24-5-22-8-24 5zM3641 4398l25-5-22-8-25 5z"/>
<path fill="#0010ff" stroke-width="0.76" d="M3616 4403l25-5-22-8-25 5zM3592 4408l24-5-22-8-24 6zM3567 4413l25-5-22-7-25 5zM3542 4418l25-5-22-7-25 6zM3517 4424l25-6-22-6-24 6zM3493 4430l24-6-21-6-25 6z"/>
<path fill="#00f" stroke-width="0.76" d="M3468 4436l25-6-22-6-25 6zM3443 4442l25-6-22-6-24 6zM3419 4448l24-6-21-6-25 6zM3394 4454l25-6-22-6-25 6zM3369 4460l25-6-22-6-25 7zM3345 4467l24-7-22-5-24 6zM3345 4467l-22-6-12 3 25 5z"/>
<path fill="#0020ff" stroke-width="0.76" d="M3838 4360l-24 5 13 5 16-8zM3813 4377l14-7-13-5-25 5 22 8zM3786 4382l25-4-22-8-25 4zM3762 4387l24-5-22-8-24 5zM3737 4391l25-4-22-8-25 4zM3712 4396l25-5-22-8-25 5z"/>
<path fill="#0010ff" stroke-width="0.76" d="M3687 4401l25-5-22-8-24 5zM3663 4405l24-4-21-8-25 5zM3638 4410l25-5-22-7-25 5zM3613 4415l25-5-22-7-24 5zM3589 4420l24-5-21-7-25 5zM3564 4425l25-5-22-7-25 5zM3539 4431l25-6-22-7-25 6zM3515 4436l24-5-22-7-24 6z"/>
<path fill="#00f" stroke-width="0.76" d="M3490 4442l25-6-22-6-25 6zM3465 4448l25-6-22-6-25 6zM3441 4454l24-6-22-6-24 6zM3416 4460l25-6-22-6-25 6zM3391 4466l25-6-22-6-25 6zM3366 4472l25-6-22-6-24 7zM3366 4472l-21-5-9 2 24 5z"/>
<path fill="#0010ff" stroke-width="0.76" d="M3811 4378l-25 4 10 4 16-8zM3786 4382l-24 5 18 7 16-8zM3776 4396l4-2-18-7-25 4 22 8zM3734 4404l25-5-22-8-25 5zM3709 4408l25-4-22-8-25 5zM3685 4413l24-5-22-7-24 4zM3660 4418l25-5-22-8-25 5zM3635 4423l25-5-22-8-25 5zM3611 4427l24-4-22-8-24 5zM3586 4432l25-5-22-7-25 5zM3561 4438l25-6-22-7-25 6zM3536 4443l25-5-22-7-24 5z"/>
<path fill="#00f" stroke-width="0.76" d="M3512 4449l24-6-21-7-25 6zM3487 4454l25-5-22-7-25 6zM3462 4460l25-6-22-6-24 6zM3438 4466l24-6-21-6-25 6zM3413 4472l25-6-22-6-25 6zM3413 4472l-22-6-25 6 10 3 25 0z"/>
<path fill="#0010ff" stroke-width="0.76" d="M3759 4399l-25 5 14 5 12-5 5-3zM3734 4404l-25 4 21 7 18-6zM3725 4417l5-2-21-7-24 5 21 7zM3682 4425l24-5-21-7-25 5zM3657 4430l25-5-22-7-25 5zM3632 4435l25-5-22-7-24 4zM3608 4440l24-5-21-8-25 5zM3583 4445l25-5-22-8-25 6z"/>
<path fill="#00f" stroke-width="0.76" d="M3558 4450l25-5-22-7-25 5zM3534 4455l24-5-22-7-24 6zM3509 4461l25-6-22-6-25 5zM3484 4466l25-5-22-7-25 6zM3460 4472l24-6-22-6-24 6zM3460 4472l-22-6-25 6 10 3 25 0zM3413 4472l-12 3 22 0z"/>
<path fill="#0010ff" stroke-width="0.76" d="M3706 4420l-24 5 11 4 18-7zM3682 4425l-25 5 18 6 18-7zM3663 4440l12-4-18-6-25 5 22 7zM3630 4447l24-5-22-7-24 5z"/>
<path fill="#00f" stroke-width="0.76" d="M3605 4452l25-5-22-7-25 5zM3580 4457l25-5-22-7-25 5zM3555 4462l25-5-22-7-24 5zM3531 4467l24-5-21-7-25 6zM3506 4473l25-6-22-6-25 5zM3506 4473l-22-7-24 6 9 3 27 0z"/>
</g>
<path d="M40.5 429.5L40.5 329.1M40.5 429.5L215.2 476.8M215.2 476.8L437.4 440.0M40.5 429.5L35.7 428.2M40.5 404.4L35.7 403.1M40.5 379.3L35.7 378.0M40.5 354.2L35.7 352.9M40.5 329.1L35.7 327.8M215.2 476.8L210.3 477.6M193.4 470.9L188.4 471.7M171.5 465.0L166.6 465.8M149.7 459.1L144.8 459.9M127.8 453.2L122.9 454.0M106.0 447.2L101.1 448.1M84.2 441.3L79.2 442.1M62.3 435.4L57.4 436.2M40.5 429.5L35.6 430.3M215.2 476.8L220.0 478.1M239.9 472.7L244.7 474.0M264.6 468.6L269.4 469.9M289.3 464.5L294.1 465.8M314.0 460.4L318.8 461.8M338.6 456.4L343.5 457.7M363.3 452.3L368.2 453.6M388.0 448.2L392.8 449.5M412.7 444.1L417.5 445.4M437.4 440.0L442.2 441.3" fill="none" stroke="#555" stroke-width="0.7"/>
<g font-size="9.30" fill="#1a1a1a"><text x="29.7" y="430.7" text-anchor="end">0</text><text x="34.7" y="405.6" text-anchor="end">0.05</text><text x="34.7" y="380.5" text-anchor="end">0.1</text><text x="34.7" y="355.4" text-anchor="end">0.15</text><text x="34.7" y="330.3" text-anchor="end">0.2</text><text x="201.2" y="486.8" text-anchor="middle">0</text><text x="179.4" y="480.9" text-anchor="middle">100</text><text x="157.5" y="475.0" text-anchor="middle">200</text><text x="135.7" y="469.1" text-anchor="middle">300</text><text x="113.8" y="463.2" text-anchor="middle">400</text><text x="92.0" y="457.2" text-anchor="middle">500</text><text x="70.2" y="451.3" text-anchor="middle">600</text><text x="48.3" y="445.4" text-anchor="middle">700</text><text x="26.5" y="439.5" text-anchor="middle">800</text><text x="226.9" y="486.4" text-anchor="middle">400</text><text x="251.6" y="482.3" text-anchor="middle">500</text><text x="276.3" y="478.2" text-anchor="middle">600</text><text x="301.0" y="474.1" text-anchor="middle">700</text><text x="325.7" y="470.0" text-anchor="middle">800</text><text x="350.3" y="466.0" text-anchor="middle">900</text><text x="379.0" y="461.9" text-anchor="middle">1000</text><text x="404.3" y="457.8" text-anchor="middle">1100</text><text x="429.5" y="453.7" text-anchor="middle">1200</text><text x="454.7" y="449.6" text-anchor="middle">1300</text></g>
<g font-size="13.00" fill="#1a1a1a">
<text x="347.4" y="479.3" text-anchor="middle">x</text>
<text x="101.2" y="471.4" text-anchor="middle">y</text>
<text transform="translate(11.1 375.2) rotate(-90)" text-anchor="middle">Consume energy</text>
</g>
<text class="cap" x="241.3" y="540.4" font-size="15.5" text-anchor="middle" fill="#111">(<tspan font-weight="bold">b</tspan>)</text>
</svg></body></html>
